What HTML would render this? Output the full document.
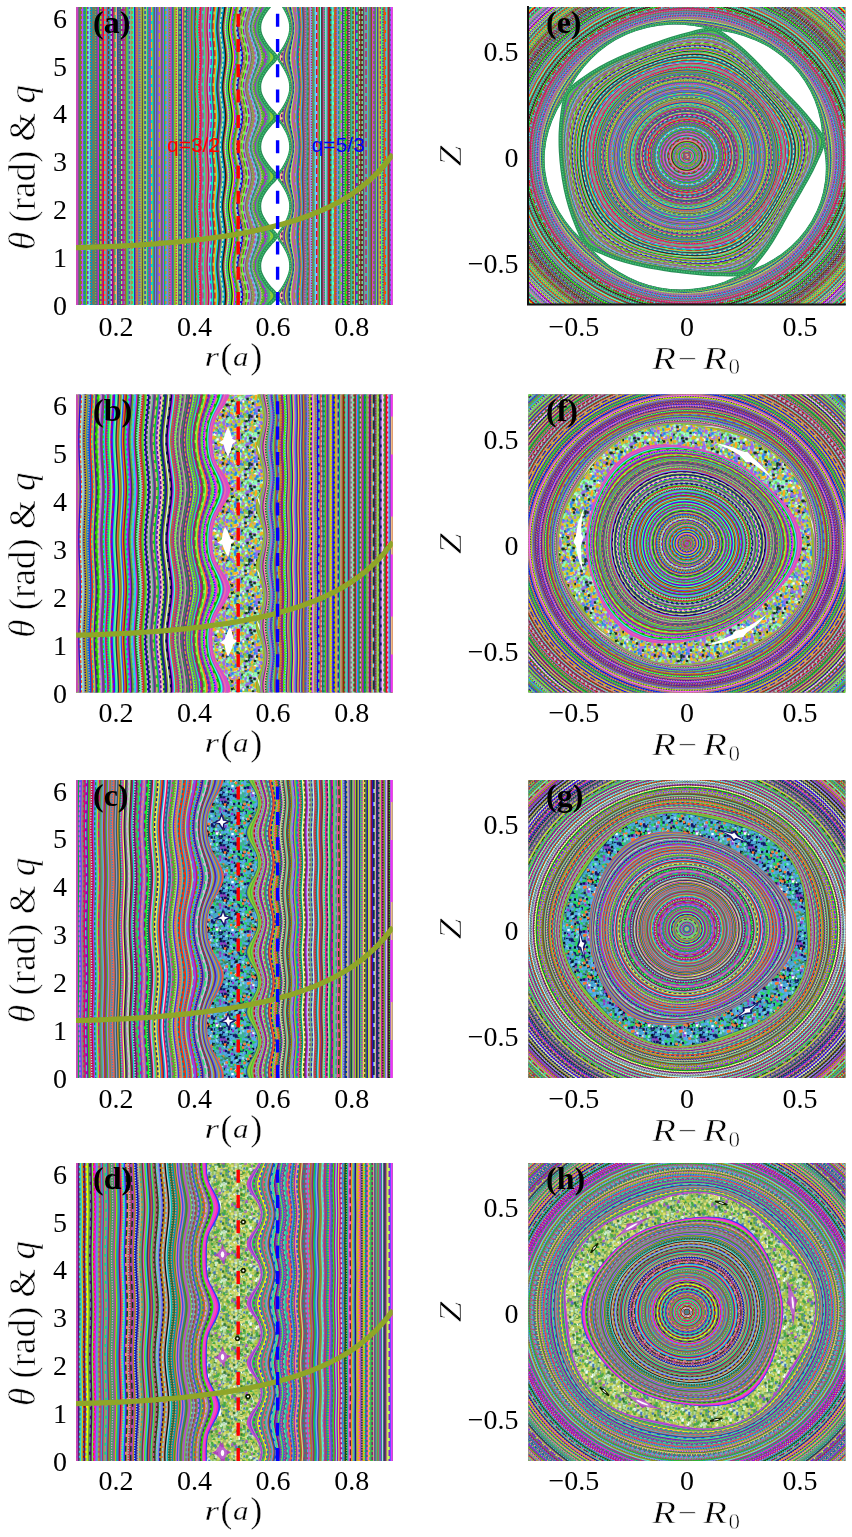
<!DOCTYPE html>
<html lang="en"><head><meta charset="utf-8"><title>Poincare plots</title>
<style>
html,body{margin:0;padding:0;background:#fff;overflow:hidden}
svg{display:block}
.t{font-family:"Liberation Serif",serif;fill:#000}
.s{font-family:"Liberation Sans",sans-serif}
.n{stroke:#fff;stroke-width:.6px}
.m{stroke:#fff;stroke-width:.3px}
</style></head>
<body>
<svg width="852" height="1537" viewBox="0 0 852 1537">
<defs>
<clipPath id="cl0"><rect x="76.0" y="7.0" width="316.8" height="298.0"/></clipPath>
<clipPath id="cr0"><rect x="528.5" y="7.0" width="316.8" height="298.0"/></clipPath>
<clipPath id="cl1"><rect x="76.0" y="394.6" width="316.8" height="298.0"/></clipPath>
<clipPath id="cr1"><rect x="528.5" y="394.6" width="316.8" height="298.0"/></clipPath>
<clipPath id="cl2"><rect x="76.0" y="779.9" width="316.8" height="298.0"/></clipPath>
<clipPath id="cr2"><rect x="528.5" y="779.9" width="316.8" height="298.0"/></clipPath>
<clipPath id="cl3"><rect x="76.0" y="1163.0" width="316.8" height="298.0"/></clipPath>
<clipPath id="cr3"><rect x="528.5" y="1163.0" width="316.8" height="298.0"/></clipPath>
<pattern id="ch1" width="48" height="48" patternUnits="userSpaceOnUse"><rect width="48" height="48" fill="#9c8"/><g stroke-width="2.3" stroke-linecap="square" fill="none"><path stroke="#cc2" d="M23.5 29.5h.1M6.5 1.5h.1M35 24.5h.1M16.5 45.5h.1M6 8.5h.1M0 22h.1M48 22h.1M20 30h.1M38 30h.1M41 40.5h.1M5 42h.1M35 42h.1M4 4h.1M13.5 40h.1M25.5 2h.1M9 25.5h.1M9 15h.1M38.5 27h.1M33.5 31h.1M15.5 20h.1M7 27.5h.1M7 9.5h.1M8.5 12.5h.1M27.5 2.5h.1M1.5 32h.1M33.5 8h.1M31.5 40h.1M28 24h.1M21.5 22.5h.1M30.5 21h.1M43.5 14.5h.1M25.5 34h.1M36.5 38.5h.1M4 43.5h.1M12.5 38h.1M15.5 14h.1M35.5 17h.1M18.5 32h.1M32.5 38.5h.1M6 0h.1M6 48h.1M22 .5h.1M22 48.5h.1M15.5 22h.1M40 46h.1M42.5 27h.1M28 47h.1M8.5 25h.1"/><path stroke="#28e" d="M40 22.5h.1M16.5 34h.1M11 38h.1M31.5 16h.1M35.5 40h.1M20 34h.1M41 36h.1M44.5 2.5h.1M39.5 18h.1M26.5 31h.1M9.5 31h.1M22.5 6.5h.1M10.5 34.5h.1M21.5 21.5h.1M46 38h.1M6.5 20h.1M19.5 8.5h.1M47.5 35h.1M26 8h.1M15.5 19h.1M32.5 31h.1M7.5 46h.1M13 39h.1M33.5 11h.1M46.5 31h.1M25.5 47h.1"/><path stroke="#6c5" d="M31.5 30h.1M28 18h.1M9.5 40.5h.1M24.5 32.5h.1M40.5 11h.1M46 15h.1M31.5 5h.1M31.5 20.5h.1M28.5 1.5h.1M39 45h.1M28.5 23h.1M2 17.5h.1M3 37h.1M39 23h.1M21.5 25.5h.1M37 1h.1M37 49h.1"/><path stroke="#a7e" d="M11 21.5h.1M28.5 18.5h.1M34.5 26.5h.1M16.5 40h.1M32.5 20.5h.1M27 8.5h.1M31 28.5h.1M2 44h.1M41 40h.1M38 5h.1M.5 16.5h.1M48.5 16.5h.1M9 38.5h.1M4 38.5h.1"/><path stroke="#fff" d="M34 33h.1M28 38h.1M46 18.5h.1M44 37h.1M14 26.5h.1M28.5 26h.1M35.5 40.5h.1M45 13.5h.1"/><path stroke="#8fb" d="M20 46h.1M14 41h.1M43 36.5h.1M28.5 40.5h.1M34.5 45.5h.1M6.5 12.5h.1M12 35h.1M8.5 .5h.1M8.5 48.5h.1M24.5 37.5h.1M17 34.5h.1M10.5 20.5h.1M29 34h.1M23.5 22.5h.1M17 19h.1M9 12.5h.1M9.5 36.5h.1M18 .5h.1M18 48.5h.1M41.5 46h.1M7 2h.1M41.5 4.5h.1M36 46.5h.1M19.5 42h.1M36.5 24h.1M26 31.5h.1M27 37.5h.1M23.5 11.5h.1M8 41h.1M32 15h.1M19 35.5h.1M3.5 26h.1M14 18.5h.1M19.5 .5h.1M19.5 48.5h.1M32.5 18.5h.1M.5 44h.1M48.5 44h.1M16.5 25.5h.1M11 37.5h.1M8.5 12.5h.1M19 21h.1M3.5 11h.1M14 19h.1M34.5 5h.1M27.5 15h.1M35 38h.1M25 27h.1M27.5 33h.1"/><path stroke="#fa2" d="M34 13h.1M15.5 9.5h.1M1.5 9.5h.1M36 22h.1M44 20h.1M10.5 33h.1M31.5 17.5h.1M34.5 38h.1M36.5 1h.1M36.5 49h.1M46 19.5h.1M47.5 43h.1M43.5 33h.1M3 40.5h.1M39.5 7h.1M47.5 44h.1M33 47h.1M11 16h.1M24 21.5h.1M23 14.5h.1M4.5 22h.1M14.5 .5h.1M14.5 48.5h.1M15 33h.1M38 2h.1"/><path stroke="#bfc" d="M32.5 12.5h.1M28 26.5h.1M36.5 9h.1M21 2h.1M1 15.5h.1M49 15.5h.1M1.5 15h.1M35 25h.1M12 22h.1M19 12.5h.1M0 14.5h.1M48 14.5h.1"/><path stroke="#96e" d="M1.5 21.5h.1M4.5 23.5h.1M13.5 26h.1M1 11h.1M49 11h.1M34.5 46.5h.1M37 3.5h.1M13 37h.1M15.5 27h.1M10.5 21h.1M26.5 2.5h.1M23 15h.1M22.5 23h.1M14.5 16.5h.1M44.5 38.5h.1M25 46.5h.1M3 2h.1M7 12h.1M32 29.5h.1M25 39.5h.1M41.5 22.5h.1M4 46.5h.1M32 35h.1M44.5 8h.1M21.5 47h.1M31 14.5h.1M46 15.5h.1M25 39.5h.1M33.5 31.5h.1M29.5 20h.1M19.5 15.5h.1M6 2h.1M38.5 46h.1M18 22.5h.1M6 46.5h.1M10.5 3h.1M22 33.5h.1M26 41.5h.1M44 7h.1M30 16h.1"/><path stroke="#132" d="M25 36h.1M34.5 31.5h.1M47 15.5h.1M28 40h.1M13 1.5h.1M27 33.5h.1M20 26.5h.1M45 20h.1M24.5 21.5h.1M5.5 46h.1M9 36.5h.1M34.5 9h.1M37 3.5h.1"/><path stroke="#132" d="M25.5 46.5h.1M3 25.5h.1M23.5 11h.1M9 32.5h.1M26.5 30.5h.1M4.5 30.5h.1M10 24h.1M13 5.5h.1M33 36h.1M5.5 16.5h.1M17.5 15h.1M5.5 37h.1M37 28h.1M13 19h.1M29.5 29.5h.1M25.5 12h.1"/><path stroke="#6c5" d="M47 10.5h.1M36 16h.1M33.5 1.5h.1M2.5 24h.1M.5 29.5h.1M48.5 29.5h.1M6 7h.1M43.5 31.5h.1M30 21h.1M33.5 39.5h.1M15 22h.1M23 5h.1M3 37h.1M24.5 41.5h.1M36 6.5h.1"/><path stroke="#28e" d="M13.5 36.5h.1M45.5 21h.1M29.5 38h.1M13.5 26h.1M.5 24.5h.1M48.5 24.5h.1M7 5h.1M22 0h.1M22 48h.1M24.5 28.5h.1M15.5 25h.1M27 1.5h.1M4.5 26h.1M21.5 .5h.1M21.5 48.5h.1M27.5 45h.1M35 33.5h.1M12.5 39.5h.1M23.5 39.5h.1M31.5 13.5h.1M15.5 29h.1M.5 32h.1M48.5 32h.1M24 9.5h.1M46 17.5h.1M38.5 3h.1M46.5 46.5h.1M22.5 46.5h.1M8 5.5h.1M29 30h.1M18.5 38.5h.1M24.5 32h.1M29 1.5h.1M10.5 35.5h.1M43.5 20h.1M30 22.5h.1M15 29.5h.1M0 19.5h.1M48 19.5h.1"/><path stroke="#cc2" d="M5 28.5h.1M39.5 27h.1M25.5 8h.1M2 4h.1M45 37h.1M1 25.5h.1M49 25.5h.1M11.5 42.5h.1M4.5 1.5h.1M23.5 6.5h.1M3.5 43h.1M22 5.5h.1M20.5 46.5h.1M46 40h.1M45 13h.1M10.5 7h.1M17 41.5h.1M26 17h.1M28.5 41h.1M6 3.5h.1M27.5 32h.1M40 40h.1M4.5 31.5h.1M12.5 1h.1M12.5 49h.1M35 5h.1M10 11.5h.1M15.5 39h.1M23.5 25h.1M47.5 46h.1M43 7h.1M3.5 20h.1M14 9h.1M17.5 40h.1M13 36.5h.1M11 44h.1M33 36h.1M40.5 37h.1M15 8.5h.1M27.5 34h.1M12 22.5h.1M4 43h.1M24.5 26h.1"/><path stroke="#96e" d="M23.5 13.5h.1M13 32.5h.1M33 16.5h.1M33 42h.1M25 16h.1M28 14.5h.1M45 22.5h.1M11.5 32h.1M21 31h.1M32 35h.1M20.5 8h.1M39.5 11.5h.1M23 44.5h.1M34 34h.1M31 11h.1M21 20.5h.1M4.5 27.5h.1M34 0h.1M34 48h.1M4.5 2.5h.1M8 42.5h.1M40 45.5h.1M35.5 1h.1M35.5 49h.1M25 40.5h.1M14.5 36h.1M3 16.5h.1M21.5 21h.1M11 31h.1M25 34.5h.1M18 38h.1M30 30.5h.1M32 36.5h.1M8.5 38.5h.1M35 22h.1M33.5 19h.1M1.5 42h.1M31 47.5h.1M32.5 26.5h.1M44.5 44.5h.1M41 22h.1"/><path stroke="#fff" d="M19 40.5h.1M0 28h.1M48 28h.1M42.5 11h.1M31.5 24.5h.1"/><path stroke="#fa2" d="M2.5 3h.1M33.5 29.5h.1M42.5 46.5h.1M18 29.5h.1M43 38h.1M3.5 32.5h.1M15.5 6h.1M12.5 18.5h.1M10 45.5h.1M38 19.5h.1M16.5 43.5h.1M22.5 31.5h.1M7.5 43.5h.1M10.5 23.5h.1M31.5 2h.1M36.5 37h.1M15 47h.1M7 33.5h.1M.5 10.5h.1M48.5 10.5h.1M40.5 38h.1M11.5 6.5h.1M12 29h.1M19.5 26.5h.1M12 22.5h.1M18.5 8h.1M15.5 41h.1M18.5 32.5h.1"/><path stroke="#bfc" d="M26 25.5h.1M34 18h.1M1.5 45.5h.1M18 4.5h.1M25.5 45h.1M7 1.5h.1M44.5 29h.1M31.5 27h.1M38.5 8.5h.1"/><path stroke="#a7e" d="M29.5 38h.1M22 14.5h.1M38 41h.1M.5 4.5h.1M48.5 4.5h.1M10.5 23.5h.1M41.5 11.5h.1M20.5 19.5h.1M47 31h.1M46.5 21.5h.1M45.5 43.5h.1M40.5 14h.1M26.5 11.5h.1"/><path stroke="#8fb" d="M20.5 21.5h.1M28 16h.1M.5 40.5h.1M48.5 40.5h.1M24 8.5h.1M31 27h.1M5.5 26h.1M15.5 43.5h.1M4 7h.1M35.5 1h.1M35.5 49h.1M1.5 45.5h.1M24 17.5h.1M39.5 32.5h.1M42.5 19.5h.1M20.5 35h.1M8 1h.1M8 49h.1M0 6.5h.1M48 6.5h.1M35.5 40.5h.1M17 8.5h.1M0 13h.1M48 13h.1M10 22h.1M.5 22.5h.1M48.5 22.5h.1M7 5h.1M19 5h.1M34 44.5h.1M27 37.5h.1M22.5 22.5h.1M42 20h.1M31 6.5h.1M45 43h.1M32.5 28.5h.1M44.5 34h.1M46 27.5h.1M26.5 25h.1M42.5 29h.1M33.5 25h.1M32.5 11h.1M37.5 45h.1M17.5 3.5h.1M35 44h.1M36.5 7h.1M47 40.5h.1M9 16h.1"/><path stroke="#fff" d="M46.5 32.5h.1M25.5 7.5h.1M40 6h.1M15.5 5h.1M28 47.5h.1M3.5 17.5h.1M40 9h.1"/><path stroke="#8fb" d="M41 2h.1M34 40.5h.1M27 3h.1M37.5 18h.1M6 44h.1M22.5 37h.1M26.5 29.5h.1M19 13.5h.1M.5 46h.1M48.5 46h.1M27.5 36.5h.1M3 28h.1M19 8h.1M14.5 20.5h.1M20 35h.1M20 3h.1M15 38.5h.1M19.5 45h.1M28.5 23h.1M19.5 2.5h.1M35.5 27h.1M24 16.5h.1M15.5 3.5h.1M27 28h.1M46.5 2.5h.1M43.5 21h.1M15.5 2h.1M41 23.5h.1M14.5 15.5h.1M33.5 7.5h.1M16.5 30.5h.1M28.5 16.5h.1M30 36.5h.1M14.5 1.5h.1M8 6h.1M38.5 26.5h.1"/><path stroke="#6c5" d="M5.5 31h.1M37.5 46h.1M23.5 39.5h.1M19.5 23h.1M23.5 33.5h.1M2.5 10.5h.1M2.5 2h.1M42 42.5h.1M38.5 12h.1M8 14h.1M30.5 10.5h.1M47 36h.1M28 11.5h.1M25 22.5h.1M27 23.5h.1M7 20.5h.1M7.5 33.5h.1M43.5 28h.1"/><path stroke="#96e" d="M43 0h.1M43 48h.1M25 46h.1M13.5 42.5h.1M22.5 39h.1M19 34h.1M15 6.5h.1M18.5 38h.1M18.5 28.5h.1M46 7.5h.1M43 3h.1M9 44.5h.1M45.5 8.5h.1M22.5 35.5h.1M14.5 8.5h.1M42 31h.1M44 11h.1M16.5 24.5h.1M9 11.5h.1M10 3h.1M20.5 13h.1M31 30.5h.1M32.5 43.5h.1M40 20.5h.1M10.5 17.5h.1M5.5 7h.1M5.5 5.5h.1M1 25h.1M49 25h.1M17 30.5h.1M26.5 28.5h.1M17 40h.1M21 34h.1M30.5 23h.1M9.5 32.5h.1M20 43.5h.1M29.5 3.5h.1M32.5 17.5h.1M39 2h.1M43 22.5h.1M13.5 32h.1M22.5 46h.1M47 46h.1M28.5 23h.1M19.5 41.5h.1M37.5 6h.1M7.5 14.5h.1M35 39h.1"/><path stroke="#fa2" d="M10.5 45.5h.1M41 35.5h.1M24.5 44h.1M29 20.5h.1M6 45h.1M29 20.5h.1M6.5 23h.1M35.5 37.5h.1M40 30h.1M11.5 25h.1M22 46h.1M6 45h.1M39 29.5h.1M40.5 10.5h.1M30 28h.1M27 37.5h.1M33.5 42h.1M11 40.5h.1M29 6h.1M3 9.5h.1M17 20h.1M25.5 24h.1M46.5 25h.1"/><path stroke="#132" d="M9.5 31.5h.1M6 .5h.1M6 48.5h.1M31.5 26.5h.1M9.5 33.5h.1M25 46h.1M47.5 29.5h.1M25.5 20.5h.1M35.5 33h.1M30.5 33h.1M19.5 11.5h.1M38 22.5h.1M39 8h.1M23.5 16.5h.1M10 7h.1M41.5 36h.1M13 9.5h.1M34.5 21h.1M15 37h.1M41.5 16.5h.1M2 3h.1M18.5 1h.1M18.5 49h.1"/><path stroke="#28e" d="M35 7h.1M6.5 .5h.1M6.5 48.5h.1M9 22h.1M36.5 29h.1M17.5 44.5h.1M35 17.5h.1M2.5 32.5h.1M2.5 32.5h.1M11 11h.1M40.5 33.5h.1M16.5 29h.1M15.5 47h.1M22.5 34.5h.1M22 41h.1M43 26.5h.1M39.5 14.5h.1M.5 6h.1M48.5 6h.1M1 19.5h.1M49 19.5h.1M7 9h.1M21 23h.1M35.5 40.5h.1M44.5 37.5h.1M24.5 47h.1M4 42h.1M14.5 41.5h.1M44.5 20h.1M18.5 33.5h.1"/><path stroke="#cc2" d="M44.5 30.5h.1M2.5 46.5h.1M12 46.5h.1M24.5 22h.1M40 17h.1M19 21h.1M43 36h.1M23 26h.1M46.5 16.5h.1M33 24.5h.1M26.5 10h.1M36.5 38h.1M30 12.5h.1M6.5 18.5h.1M2.5 24.5h.1M24 32.5h.1M28.5 39h.1M23.5 30.5h.1M46 11.5h.1M45 22h.1M22.5 35.5h.1M45.5 6.5h.1M7.5 16h.1M22 5.5h.1M45.5 9h.1M41 21h.1M46 17h.1M47.5 19h.1"/><path stroke="#a7e" d="M42.5 38.5h.1M10.5 41.5h.1M5.5 16h.1M18.5 4h.1M4 45h.1M33 14.5h.1M19 19h.1M38 25.5h.1M28.5 47.5h.1M21.5 31.5h.1M39.5 7h.1M11 24h.1M3 25.5h.1M19.5 32.5h.1M17.5 26.5h.1M11.5 34h.1M15.5 43h.1M7 1h.1M7 49h.1M11 1h.1M11 49h.1"/><path stroke="#bfc" d="M26 24.5h.1M14.5 23h.1M12.5 39h.1M43 46.5h.1M21 12.5h.1M18.5 28h.1M46.5 44.5h.1M9 18h.1M6 25h.1M12 2h.1M8 43.5h.1M7.5 8.5h.1M35 17.5h.1"/><path stroke="#28e" d="M13.5 8h.1M40.5 1.5h.1M7.5 29h.1M42.5 26h.1M10 8.5h.1M1.5 26h.1M43.5 42.5h.1M27.5 47h.1M11 28h.1M43 24.5h.1M24.5 16.5h.1M37 36.5h.1M44.5 22.5h.1M47 6.5h.1M12 24h.1M44 41h.1M7.5 18h.1M20 32.5h.1M9 17.5h.1M2 5h.1M37.5 31h.1M16.5 44.5h.1M39 45.5h.1M40 40.5h.1M18 17.5h.1"/><path stroke="#8fb" d="M28.5 46h.1M37 47.5h.1M10.5 1h.1M10.5 49h.1M5 15h.1M39 23h.1M43.5 2.5h.1M34.5 2.5h.1M6 1.5h.1M1 26.5h.1M49 26.5h.1M44.5 34h.1M1 24h.1M49 24h.1M18.5 8h.1M27 39.5h.1M32 34h.1M18.5 15h.1M13 14.5h.1M25.5 25h.1M47 1h.1M47 49h.1M7.5 39.5h.1M40.5 36h.1M23.5 47.5h.1M24 47h.1M41 26.5h.1M3 40h.1M1 24.5h.1M49 24.5h.1M5.5 22h.1M4 3.5h.1M18 38.5h.1M36.5 34.5h.1M44 13h.1M25 32.5h.1M13 4h.1M35 37.5h.1M20 26h.1M23.5 41.5h.1M8.5 1h.1M8.5 49h.1M16.5 41.5h.1M37 36.5h.1M35 4h.1M43 29.5h.1M32.5 2.5h.1M12.5 8.5h.1M17 14h.1M21.5 25h.1M18 12.5h.1"/><path stroke="#cc2" d="M12 25h.1M25 22h.1M24 37h.1M45 37.5h.1M10.5 18.5h.1M46 18h.1M40 43h.1M.5 27.5h.1M48.5 27.5h.1M47.5 25h.1M27.5 29.5h.1M39.5 16h.1M2 37.5h.1M12.5 41.5h.1M37 46h.1M41.5 45.5h.1M38.5 37h.1M42 33h.1M20.5 6.5h.1M2.5 28h.1M.5 40h.1M48.5 40h.1M43 15.5h.1M3.5 25.5h.1M44 46h.1M41 39.5h.1M40 26h.1M23.5 22.5h.1M44 4h.1M36 27.5h.1M19.5 19.5h.1M16.5 20.5h.1M47 40.5h.1M26 11h.1M32.5 6.5h.1M21.5 14.5h.1"/><path stroke="#fff" d="M43.5 45.5h.1M6.5 35.5h.1M15.5 32.5h.1M23 2.5h.1M15 42h.1M32 7.5h.1"/><path stroke="#96e" d="M28 30.5h.1M7 27.5h.1M39 31.5h.1M0 6h.1M48 6h.1M28.5 45.5h.1M31.5 38.5h.1M10.5 9h.1M34.5 30.5h.1M26.5 16h.1M21 38.5h.1M19 23.5h.1M32 14h.1M32 12.5h.1M0 44.5h.1M48 44.5h.1M32 40.5h.1M25.5 40h.1M35 29h.1M41.5 7h.1M27.5 38.5h.1M6 13.5h.1M46 5.5h.1M34 46h.1M16.5 27.5h.1M33.5 5h.1M23.5 15.5h.1M11 15.5h.1M21 10.5h.1M15 20.5h.1M24 1h.1M24 49h.1M1 29.5h.1M49 29.5h.1M31 33h.1M25.5 23h.1M35 42h.1"/><path stroke="#bfc" d="M2.5 42h.1M41 19h.1M47 14.5h.1M16 34.5h.1M43 30.5h.1M28 23h.1M0 21.5h.1M48 21.5h.1M4.5 4h.1M3 45.5h.1M12 17.5h.1M14.5 9.5h.1"/><path stroke="#6c5" d="M8 2.5h.1M2.5 25.5h.1M17.5 13.5h.1M14 40h.1M32 22.5h.1M26.5 19.5h.1M14 13.5h.1M32.5 29h.1M5.5 18.5h.1M30.5 43h.1M44.5 29h.1M10 40.5h.1M44.5 14h.1M35.5 14.5h.1M24.5 46h.1M3 5h.1M37 10h.1M46.5 16.5h.1M42.5 37h.1"/><path stroke="#a7e" d="M4.5 39.5h.1M31.5 10.5h.1M28.5 20.5h.1M41.5 33.5h.1M15.5 22.5h.1M34.5 1h.1M34.5 49h.1M2.5 24h.1M46.5 33.5h.1M46 33.5h.1M42.5 5.5h.1M36.5 23.5h.1M41.5 37.5h.1M44.5 15h.1M13.5 6h.1M0 2h.1M48 2h.1M47 37.5h.1"/><path stroke="#fa2" d="M47 6h.1M31 20.5h.1M17 21h.1M19 34h.1M43 45.5h.1M16 11.5h.1M30.5 8h.1M16 13h.1M15.5 15h.1M21.5 5h.1M40.5 8.5h.1M36.5 16h.1M32.5 32.5h.1M9 18h.1M12 38.5h.1M19 31h.1M38 6h.1M14.5 43.5h.1M44 29.5h.1M32 31.5h.1M34 29.5h.1M34.5 44.5h.1M45 45h.1M45 31.5h.1M12 13h.1M21.5 42h.1M25 26h.1M27 13h.1M28.5 34h.1M19.5 35.5h.1"/><path stroke="#132" d="M13 19.5h.1M40 17h.1M7.5 15h.1M11.5 32.5h.1M45.5 20h.1M46 32.5h.1M17 32.5h.1M31 31.5h.1M19 26.5h.1M5.5 43h.1M45.5 28.5h.1M47.5 8h.1M10.5 6h.1M35.5 21h.1M6.5 37h.1M11.5 9h.1M40 9.5h.1M14.5 7h.1"/></g></pattern>
<pattern id="ch2" width="48" height="48" patternUnits="userSpaceOnUse"><rect width="48" height="48" fill="#4a9"/><g stroke-width="2.3" stroke-linecap="square" fill="none"><path stroke="#116" d="M10.5 40h.1M15.5 20h.1M42 47.5h.1M36 35h.1M16.5 13.5h.1M35 47.5h.1M25.5 26.5h.1M39 41.5h.1M43.5 33.5h.1M6.5 37h.1M22 30h.1M23 46h.1M37 0h.1M37 48h.1M13.5 12h.1M26.5 23h.1M23 0h.1M23 48h.1M28.5 37h.1M46 4h.1M41 8h.1M37 8.5h.1M34.5 38.5h.1M14.5 44h.1M28 39.5h.1M30.5 44h.1M0 36h.1M48 36h.1M28.5 40h.1M10 32h.1M12 45.5h.1M4.5 42.5h.1M0 47h.1M48 47h.1M37.5 6h.1M11 44.5h.1M10.5 8h.1M46 16.5h.1M47.5 42h.1"/><path stroke="#fff" d="M22 31.5h.1M34.5 9.5h.1M32.5 3h.1M17.5 25h.1M42.5 14h.1M13 21h.1"/><path stroke="#93c" d="M41.5 2h.1M12 26h.1M18 39.5h.1M46 11.5h.1M32 46.5h.1M19.5 4h.1M11.5 25h.1M2.5 43h.1M15 14.5h.1M6.5 15.5h.1M6 42h.1M20.5 41.5h.1"/><path stroke="#385" d="M16 24.5h.1M45 44.5h.1M23.5 46h.1M33.5 44h.1M6 42.5h.1M41 11.5h.1M14.5 38.5h.1M37.5 9h.1M26.5 39h.1M22 31h.1"/><path stroke="#2d5" d="M38.5 10h.1M42.5 46.5h.1M41 40h.1M14 31.5h.1M31 0h.1M31 48h.1M47.5 46h.1M26 44.5h.1M37.5 17.5h.1M37.5 39h.1M30.5 40h.1M33 4.5h.1M47.5 38h.1M5 35h.1M15.5 44.5h.1M12 17h.1M22 36.5h.1M29.5 33.5h.1M41.5 9h.1M8 31.5h.1M34 9.5h.1M13 31h.1M1 37.5h.1M49 37.5h.1M12 .5h.1M12 48.5h.1M13.5 15h.1M22 37h.1M39 34h.1M3.5 43.5h.1M5 45h.1M46.5 24.5h.1M35 18.5h.1M29.5 15h.1M39.5 11h.1M41.5 2h.1M17.5 6h.1M16.5 32h.1M27.5 1h.1M27.5 49h.1M47 29h.1M15.5 46.5h.1M18 12.5h.1M39 24h.1M19 12h.1M1.5 43.5h.1M4 43h.1M41 3h.1M22.5 18.5h.1M46.5 28h.1M4 44.5h.1M31 43h.1M7 15.5h.1"/><path stroke="#012" d="M34.5 3.5h.1M6.5 3.5h.1M28.5 23h.1M6 40.5h.1M23 8h.1M18.5 32.5h.1M43 28h.1M14.5 30.5h.1M19 19.5h.1M1.5 10.5h.1M12 16h.1M6.5 28.5h.1M38.5 25.5h.1M31.5 17h.1"/><path stroke="#8de" d="M35.5 23h.1M0 4.5h.1M48 4.5h.1M4 20.5h.1M1 17.5h.1M49 17.5h.1M13 38.5h.1M11 20.5h.1M16.5 3h.1M44.5 19.5h.1M13.5 27h.1M34 19h.1M1 23h.1M49 23h.1M7 44h.1"/><path stroke="#f73" d="M19.5 26h.1M47.5 18.5h.1M2.5 18h.1M26 16h.1M43 4h.1M27.5 2.5h.1M17.5 8h.1M1 16.5h.1M49 16.5h.1M46 24.5h.1M32 24h.1M18.5 9h.1M12 22h.1M8.5 27h.1M4.5 44.5h.1M43.5 8.5h.1M11 3.5h.1"/><path stroke="#5ae" d="M2 4h.1M15.5 1h.1M15.5 49h.1M21 0h.1M21 48h.1M8 37.5h.1M42 34h.1M11 26.5h.1M26.5 13.5h.1M46.5 24h.1M22 8h.1M29.5 14.5h.1M33 7h.1M26 43.5h.1M23.5 6.5h.1M4 4h.1M25.5 16.5h.1M27 6.5h.1M25.5 31.5h.1M5.5 10.5h.1M32.5 45h.1M43 5h.1M35 8h.1M35.5 46.5h.1M10 7h.1M11.5 17.5h.1M37.5 39.5h.1M13.5 36.5h.1M16 25h.1M21 42.5h.1M32.5 17h.1M3 46.5h.1M1 34h.1M49 34h.1M21 41.5h.1M15.5 6h.1M32.5 21.5h.1M19 6.5h.1M16 22h.1M1 45.5h.1M49 45.5h.1M.5 22h.1M48.5 22h.1M43.5 20h.1M28.5 35h.1M26 43.5h.1M34.5 13h.1M17 46h.1M11 22.5h.1M43.5 6.5h.1M31 16h.1M34.5 11h.1M9.5 8h.1M33 24.5h.1M21.5 43.5h.1M15 38.5h.1M45.5 18.5h.1M45 40h.1M25.5 14h.1M33.5 30.5h.1M40.5 6.5h.1M11.5 28.5h.1M32 37.5h.1"/><path stroke="#4ac" d="M42 .5h.1M42 48.5h.1M46.5 44h.1M25 29h.1M23.5 41.5h.1M22.5 15h.1M41.5 32h.1M33.5 5h.1M13 8.5h.1M41 32h.1M26 13h.1M6 28h.1M38 22h.1M45 31.5h.1M28 13h.1M29 31h.1M21 16.5h.1M29 30h.1M2 6h.1M16.5 45h.1M36 27h.1M8.5 14.5h.1M24 2h.1M43 2h.1M33 29.5h.1M7.5 26.5h.1M21.5 3.5h.1"/><path stroke="#385" d="M40.5 38.5h.1M26.5 29.5h.1M36.5 22.5h.1M42 19.5h.1M11 22.5h.1M39.5 9.5h.1M1.5 2h.1M28 15.5h.1M6.5 33.5h.1M8 4.5h.1M7.5 15h.1M44 32.5h.1M29.5 35.5h.1M23 28.5h.1"/><path stroke="#f73" d="M25 45.5h.1M20 23h.1M44 43h.1M37.5 41.5h.1M0 11.5h.1M48 11.5h.1M20 37h.1M43.5 34.5h.1M32.5 33.5h.1M17 17h.1M12 0h.1M12 48h.1M2.5 20.5h.1M19 5.5h.1M36 26.5h.1M26.5 19.5h.1M11.5 28.5h.1M11.5 32h.1M43 34.5h.1M21 38h.1M14 37h.1M31 47h.1M40.5 40.5h.1M2 36h.1M27 42.5h.1M33.5 15.5h.1M16.5 15.5h.1"/><path stroke="#93c" d="M39 17h.1M8 33.5h.1M9.5 17h.1M0 6.5h.1M48 6.5h.1M41.5 31h.1M47.5 28h.1M21 19.5h.1M29 14.5h.1M5 16h.1"/><path stroke="#012" d="M31.5 35h.1M45.5 20.5h.1M33.5 33.5h.1M5.5 3.5h.1M7.5 19.5h.1M16.5 18.5h.1M16.5 39.5h.1M15.5 15.5h.1M21.5 15.5h.1M47 4.5h.1"/><path stroke="#4ac" d="M6.5 23.5h.1M10 9.5h.1M41.5 28h.1M21.5 21h.1M38.5 14.5h.1M13 11h.1M19 8.5h.1M24.5 13.5h.1M7 23h.1M35 16.5h.1M16 31h.1M18 29h.1M27 47h.1M32 16h.1M28.5 40h.1M24 19h.1M26 43h.1M15.5 46h.1M32 6h.1M32 5.5h.1M9.5 33h.1M40.5 .5h.1M40.5 48.5h.1M9 42h.1M6.5 3h.1M30.5 43h.1M27.5 21h.1M33.5 47.5h.1M23 12.5h.1"/><path stroke="#2d5" d="M47 44.5h.1M22.5 12.5h.1M4.5 15.5h.1M38 22h.1M9 44.5h.1M11.5 10.5h.1M46.5 22h.1M25.5 27h.1M16.5 8.5h.1M38.5 43.5h.1M1 38h.1M49 38h.1M37 8h.1M31.5 40h.1M17 45.5h.1M.5 33h.1M48.5 33h.1M8.5 23.5h.1M32 32h.1M17.5 28h.1M13 41.5h.1M39.5 16.5h.1M28 37.5h.1M22.5 39h.1M46.5 21.5h.1M46 37h.1M22.5 40.5h.1M4.5 28.5h.1M37 24.5h.1M18 20.5h.1M26.5 33h.1M25.5 44h.1M8 35.5h.1M1.5 24h.1M29.5 14.5h.1M12 5.5h.1M17.5 35h.1M35 29.5h.1M10.5 4h.1M27 44.5h.1M32.5 13.5h.1M39.5 23.5h.1M3.5 19.5h.1M0 15h.1M48 15h.1M6 11.5h.1M20 2h.1M26 26.5h.1M38.5 25.5h.1M44 18.5h.1M28.5 .5h.1M28.5 48.5h.1"/><path stroke="#5ae" d="M6.5 42h.1M44.5 11h.1M43.5 46h.1M35 8.5h.1M29 11h.1M30 24.5h.1M37 47h.1M23.5 24.5h.1M23 29h.1M45.5 11.5h.1M26 38.5h.1M21 47.5h.1M32 28h.1M8 12.5h.1M12.5 10.5h.1M39 12.5h.1M4.5 1h.1M4.5 49h.1M19.5 3h.1M4.5 39h.1M47 4h.1M11.5 28h.1M28 11h.1M33.5 44.5h.1M21.5 42.5h.1M47 37.5h.1M45 9.5h.1M3 33h.1M27.5 11.5h.1M21.5 0h.1M21.5 48h.1M15.5 23h.1M40 28h.1M17 13.5h.1M5 31.5h.1M18.5 42h.1M7 37.5h.1M44 32.5h.1M17 26.5h.1M15.5 36.5h.1M2.5 31h.1M33 26.5h.1M8 29h.1M21 21h.1M25.5 22h.1M4.5 16h.1M44.5 34.5h.1M33 9h.1M39.5 9h.1M17.5 28.5h.1M39.5 46h.1M46.5 15h.1M47 36.5h.1M40 22h.1M19 21.5h.1M5 47.5h.1M44 21.5h.1M20.5 19.5h.1M43 6.5h.1M19 45h.1M12.5 3.5h.1M5 19h.1M12.5 5.5h.1M28 46h.1M14.5 12.5h.1M32 34.5h.1"/><path stroke="#116" d="M16 11.5h.1M30 33.5h.1M23.5 30h.1M4.5 9.5h.1M26 10h.1M4.5 9h.1M18 3h.1M5.5 45h.1M42 47h.1M46.5 40h.1M20.5 17.5h.1M41.5 27.5h.1M35.5 18h.1M46 28.5h.1M38.5 31.5h.1M8 17.5h.1M.5 43h.1M48.5 43h.1M36.5 28.5h.1M32.5 19h.1M41 42h.1M4.5 36.5h.1M28.5 26.5h.1M21 36.5h.1M44 26.5h.1"/><path stroke="#fff" d="M10.5 3h.1M13.5 25h.1"/><path stroke="#8de" d="M18.5 35h.1M43 40.5h.1M26 17h.1M7 28h.1M19 7h.1M34.5 42.5h.1M35.5 6h.1M21 31.5h.1M3.5 44h.1M7 14.5h.1M38 21.5h.1M13 10.5h.1M3.5 10h.1M3.5 23h.1"/><path stroke="#2d5" d="M44 34h.1M5.5 1h.1M5.5 49h.1M37 30h.1M5 7.5h.1M14.5 38h.1M21.5 26h.1M10.5 38h.1M42.5 21h.1M1.5 45h.1M36.5 27h.1M30.5 20.5h.1M36.5 18.5h.1M9 1.5h.1M30.5 26h.1M26.5 41.5h.1M40 23.5h.1M42 23h.1M40.5 24h.1M12 42.5h.1M41.5 35h.1M18 13.5h.1M32 24.5h.1M6.5 1h.1M6.5 49h.1M45.5 8h.1M37 15h.1M10.5 44h.1M38.5 28.5h.1M16 26.5h.1M32.5 17.5h.1M1 31h.1M49 31h.1M21.5 45.5h.1M25 39.5h.1M5.5 42.5h.1M23 13h.1M3.5 8h.1M46 3h.1M2.5 6h.1M20 29h.1M10.5 2.5h.1M19 18h.1M11 33h.1M38.5 39.5h.1M25 20.5h.1"/><path stroke="#93c" d="M27 45h.1M27.5 40.5h.1M18 21h.1M27.5 32h.1M32.5 30h.1M33 22h.1M34.5 32h.1M36.5 30h.1M30 9.5h.1M26 30h.1"/><path stroke="#f73" d="M31 .5h.1M31 48.5h.1M13.5 21h.1M12.5 13.5h.1M20.5 29h.1M2 17h.1M25.5 10h.1M19 42.5h.1M5.5 1h.1M5.5 49h.1M13.5 22.5h.1M46 9h.1"/><path stroke="#8de" d="M9.5 34h.1M35.5 13.5h.1M13.5 29h.1M30 24.5h.1M40.5 36.5h.1M24 13.5h.1M39 34h.1M44 21h.1M41 32h.1M39.5 15.5h.1M10.5 39h.1M37 6.5h.1M18.5 23h.1M11 22.5h.1M3.5 11.5h.1M.5 14.5h.1M48.5 14.5h.1M47 27.5h.1M35.5 4h.1"/><path stroke="#fff" d="M19.5 28h.1M17.5 6h.1M3.5 5h.1M30 9.5h.1M28 19h.1M19 23.5h.1M9.5 39h.1M33.5 7.5h.1"/><path stroke="#012" d="M12.5 7h.1M20.5 15.5h.1M25.5 35h.1M8.5 5h.1M3 11.5h.1M21.5 35.5h.1M45.5 7h.1M13 19.5h.1M26.5 34.5h.1"/><path stroke="#385" d="M35 1.5h.1M32 30h.1M30 1h.1M30 49h.1M26.5 18.5h.1M8.5 26.5h.1M30.5 8.5h.1M10.5 31h.1M25.5 6h.1M21 30.5h.1M7 2h.1M10.5 11.5h.1M1.5 36.5h.1M19 31.5h.1M6 29h.1"/><path stroke="#116" d="M7 33.5h.1M24 20.5h.1M20 11.5h.1M14 14h.1M19 3h.1M30.5 26h.1M2 39.5h.1M33.5 29.5h.1M31.5 29.5h.1M11 35h.1M16.5 23.5h.1M30 35h.1M15 38.5h.1M24.5 30.5h.1M16 27h.1M30 20.5h.1M40 21h.1M20 8.5h.1M2.5 42.5h.1M8.5 29h.1M44 20.5h.1M9 15h.1M35 6.5h.1M38.5 26h.1M6 44h.1"/><path stroke="#4ac" d="M31 5.5h.1M42.5 35.5h.1M40.5 46.5h.1M17.5 25h.1M7 8.5h.1M3.5 38.5h.1M36.5 17h.1M20 33h.1M28.5 7h.1M25 44.5h.1M2.5 9.5h.1M9 9h.1M8 45h.1M39.5 44h.1M44 11.5h.1M41.5 32.5h.1M13 21h.1M5.5 39.5h.1M28 11.5h.1M32.5 41.5h.1M4.5 1.5h.1M25.5 34.5h.1M14 37h.1M39 18h.1M41.5 12h.1M29.5 38h.1M35 0h.1M35 48h.1M24 2.5h.1M17.5 25.5h.1M31.5 16.5h.1M40.5 17h.1M17 32.5h.1M37 28.5h.1M24 38.5h.1M32 26.5h.1M44.5 25h.1M46 35h.1M17.5 31h.1M2.5 20h.1"/><path stroke="#5ae" d="M2 37.5h.1M13.5 .5h.1M13.5 48.5h.1M5 14h.1M15 39.5h.1M24 30h.1M26 10h.1M5 6.5h.1M34.5 30h.1M43 6h.1M39.5 32.5h.1M18.5 42h.1M36 39h.1M30 16.5h.1M43 35h.1M15 32h.1M42.5 18.5h.1M1.5 10h.1M16 25.5h.1M23.5 30h.1M16.5 9.5h.1M7 25.5h.1M19.5 2.5h.1M22.5 18.5h.1M34 7.5h.1M42.5 41h.1M39 4h.1M31 3.5h.1M40 19.5h.1M45 35h.1M36.5 20h.1M10.5 0h.1M10.5 48h.1M16 46.5h.1M32.5 38h.1M38.5 36h.1M10.5 .5h.1M10.5 48.5h.1M39 24.5h.1M40 2.5h.1M19.5 12.5h.1M19.5 14.5h.1M41.5 2h.1M8 16h.1M16.5 46h.1M35 5h.1M37 30.5h.1M.5 24.5h.1M48.5 24.5h.1M29.5 12h.1M14 30h.1M17.5 22h.1M34 43.5h.1M10.5 20.5h.1M18 6h.1M14.5 31.5h.1M46.5 2.5h.1M34 7.5h.1M14 47.5h.1M29.5 44h.1M24 31h.1M17.5 24h.1M40 3h.1M17.5 9.5h.1M5.5 23h.1"/><path stroke="#2d5" d="M11 39h.1M31.5 39.5h.1M17.5 .5h.1M17.5 48.5h.1M43 16h.1M11.5 43.5h.1M3 5.5h.1M28.5 9h.1M47 27.5h.1M32 43h.1M2 5.5h.1M23.5 42.5h.1M21.5 28h.1M42 7h.1M.5 15.5h.1M48.5 15.5h.1M1 35.5h.1M49 35.5h.1M23.5 21h.1M.5 39h.1M48.5 39h.1M41.5 32h.1M37.5 6h.1M46.5 38.5h.1M25.5 19h.1M25 29.5h.1M22.5 29h.1M9 45.5h.1M7.5 17.5h.1M1.5 41.5h.1M13.5 34.5h.1M36 31h.1M13.5 13.5h.1M1.5 13.5h.1M3.5 36.5h.1M38.5 7h.1M22 17h.1M8 42h.1M8.5 23.5h.1M6 0h.1M6 48h.1M27 45h.1M16.5 44h.1M4.5 10.5h.1M23 24h.1M3.5 5.5h.1M4 19h.1M32 22.5h.1M26.5 24.5h.1M2 9.5h.1M43 34h.1M9.5 16.5h.1"/><path stroke="#5ae" d="M41 24h.1M15.5 36.5h.1M6 15h.1M23.5 6h.1M15.5 5.5h.1M22 33.5h.1M33.5 16h.1M15.5 5h.1M19 25h.1M36.5 26h.1M44.5 22h.1M28.5 46h.1M41.5 20.5h.1M7.5 21h.1M12.5 31h.1M17.5 35h.1M29 24.5h.1M6 9h.1M34 22.5h.1M41.5 6.5h.1M25.5 34h.1M35.5 27h.1M1 36h.1M49 36h.1M18 23h.1M35.5 27h.1M2 15h.1M27.5 25.5h.1M44.5 45h.1M14 42.5h.1M20.5 29h.1M.5 24h.1M48.5 24h.1M30 3h.1M18 5h.1M20.5 28h.1M28.5 35h.1M2 2h.1M18.5 34.5h.1M18.5 33h.1M4.5 45h.1M12.5 29h.1M1 46h.1M49 46h.1M41.5 22.5h.1M32.5 45.5h.1M.5 1.5h.1M48.5 1.5h.1M41.5 30.5h.1M46 15.5h.1M14 18h.1M32.5 25h.1M35.5 16h.1M42.5 5.5h.1M9 38.5h.1M10 23h.1M19 14.5h.1M39.5 28.5h.1M9.5 20.5h.1M7 32h.1M40 15.5h.1M25.5 4.5h.1M3 10h.1M23.5 24.5h.1M38.5 31h.1M15.5 37.5h.1M44 11.5h.1"/><path stroke="#93c" d="M33.5 10.5h.1M24.5 16h.1M40 46h.1M41 23h.1M28 41h.1M10 20h.1M28 44h.1M32.5 31.5h.1M32 42.5h.1M29.5 31.5h.1M12.5 27.5h.1M9.5 41h.1"/><path stroke="#fff" d="M25 17.5h.1M40.5 18h.1"/><path stroke="#385" d="M16.5 9h.1M29.5 3.5h.1M26 44.5h.1M4.5 6.5h.1M13 47.5h.1M41.5 13h.1M22.5 37h.1M3.5 33.5h.1M25.5 40h.1M7.5 14h.1M46.5 15h.1M37.5 3.5h.1M32.5 2.5h.1M44.5 0h.1M44.5 48h.1"/><path stroke="#116" d="M31.5 24h.1M17 21.5h.1M27.5 20.5h.1M44 28.5h.1M33 13h.1M19.5 43.5h.1M29 29h.1M34 43h.1M43.5 2.5h.1M39.5 6.5h.1M23 21.5h.1M5 20h.1M15.5 10.5h.1M33 34h.1M36.5 44.5h.1M11 2.5h.1M1.5 10.5h.1M42 36h.1M0 4.5h.1M48 4.5h.1M26.5 31h.1M22 25.5h.1M20 9h.1M37 21h.1M22 10.5h.1M8 19.5h.1"/><path stroke="#012" d="M34 37h.1M36 26.5h.1M26.5 31.5h.1M28 27h.1M32 36.5h.1M3.5 37h.1M24.5 44h.1M44.5 1.5h.1M47.5 12h.1M47.5 24h.1M21 43.5h.1M19.5 21.5h.1M36 31h.1M13 41h.1M47 35.5h.1"/><path stroke="#8de" d="M1.5 20h.1M3 2h.1M4.5 36h.1M34.5 24h.1M44.5 4.5h.1M32 39h.1M.5 25h.1M48.5 25h.1M25 43.5h.1M25 32.5h.1M7 3h.1M25 28.5h.1M19.5 0h.1M19.5 48h.1M15.5 12h.1"/><path stroke="#4ac" d="M42.5 43h.1M17 22h.1M31 46h.1M14.5 18.5h.1M32.5 22.5h.1M24 21.5h.1M40.5 15.5h.1M17 25.5h.1M14.5 23h.1M29 2h.1M45.5 8.5h.1M35 26.5h.1M31 40h.1M34 13.5h.1M21 46h.1M25.5 46.5h.1M11.5 42h.1M36.5 12h.1M3.5 7h.1M5 27.5h.1M26.5 25h.1M26.5 31.5h.1M3 31h.1M45.5 44h.1M26 43.5h.1M13 9.5h.1M13 10h.1M24 43h.1"/><path stroke="#f73" d="M12 6h.1M4.5 36h.1M14.5 17.5h.1M8 23.5h.1M12.5 16.5h.1M8.5 37h.1M17.5 30.5h.1M4.5 7h.1M9.5 23h.1M39 13h.1M44 15h.1M34.5 6.5h.1M33 36.5h.1M8 3h.1M16.5 42h.1M3 39.5h.1M10 0h.1M10 48h.1M17 8h.1"/></g></pattern>
<pattern id="ch3" width="48" height="48" patternUnits="userSpaceOnUse"><rect width="48" height="48" fill="#9b6"/><g stroke-width="2.3" stroke-linecap="square" fill="none"><path stroke="#47b" d="M44.5 47h.1M40 2.5h.1M25 9h.1M23 13h.1M5 3h.1M31 29h.1M33 32h.1M5.5 1h.1M5.5 49h.1M43 26h.1M32 40h.1M15.5 18.5h.1M11 32h.1M34.5 11h.1M33 46.5h.1M20.5 44.5h.1M34.5 5h.1M19.5 22h.1M3 1.5h.1M33 15.5h.1M22.5 25h.1"/><path stroke="#373" d="M32 27.5h.1M23.5 7h.1M14 31h.1M32 13h.1M16.5 7.5h.1M27 44.5h.1M23.5 8.5h.1"/><path stroke="#697" d="M41.5 17.5h.1M21.5 37h.1M29.5 37h.1M19.5 24h.1M5 45.5h.1M23 22.5h.1M14 6h.1M9 39h.1M16 19.5h.1"/><path stroke="#4a4" d="M21 4.5h.1M1 29h.1M49 29h.1M41 38h.1M26.5 41h.1M5.5 36.5h.1M8 20h.1M31.5 18h.1M45 1.5h.1M14.5 27.5h.1M1.5 13.5h.1M2 15.5h.1M7 25h.1M4 40.5h.1M30.5 7h.1M2.5 10.5h.1M39.5 6.5h.1M38.5 29.5h.1M1 8h.1M49 8h.1M17 23.5h.1M9 12.5h.1M26 15.5h.1M20.5 20h.1M44.5 19h.1M13.5 2h.1M39.5 24h.1M6 16.5h.1M10 22.5h.1M1.5 3.5h.1M34.5 26h.1M24.5 35h.1M9.5 47.5h.1M22.5 14.5h.1M45.5 19h.1M28 44h.1M38.5 30.5h.1"/><path stroke="#9b5" d="M30.5 18.5h.1M26.5 32h.1M37.5 31h.1M43.5 37.5h.1M6 32h.1M8 20h.1M33 6.5h.1M10 2h.1M12 46h.1M17 9h.1M39 13h.1M44 23h.1M19 24h.1M4 16h.1M24.5 35.5h.1M18 8h.1M26 46h.1M20 19h.1M23 36.5h.1M25.5 9h.1M19 27h.1M10 36.5h.1M18 42.5h.1M33.5 37.5h.1"/><path stroke="#bc4" d="M22.5 46h.1M2 47.5h.1M3.5 18h.1M43.5 47.5h.1M12.5 6h.1M40 1h.1M40 49h.1M15.5 8h.1M34.5 14.5h.1M43.5 2h.1M17 8.5h.1M18.5 21h.1M0 17h.1M48 17h.1M39.5 3.5h.1M44.5 26.5h.1M17.5 29.5h.1M13 4.5h.1M28.5 36.5h.1M7 22.5h.1M44 37.5h.1M41.5 14.5h.1M11.5 13h.1M8.5 11h.1M8 44h.1M28 2h.1M13 32h.1M34.5 35.5h.1M31.5 22h.1M9 8h.1M45.5 9.5h.1M5 1h.1M5 49h.1M28 3h.1M45 21.5h.1M44.5 13h.1M15.5 .5h.1M15.5 48.5h.1M30 16h.1M13 20.5h.1M28.5 23.5h.1M2 25h.1M33.5 40h.1M10.5 9h.1M15 6.5h.1"/><path stroke="#bd9" d="M24 36.5h.1M12.5 44.5h.1M10 36h.1M35.5 7h.1M14.5 30.5h.1M19 21h.1M26 10.5h.1M37 26.5h.1M23 37.5h.1M29 33h.1M44 37h.1M33.5 38.5h.1M27.5 27.5h.1M10.5 29h.1M1 27h.1M49 27h.1M13.5 15h.1M34.5 23.5h.1M18 47h.1M3 18.5h.1M40.5 37h.1M29.5 5h.1M12 23.5h.1M30.5 22.5h.1M14.5 33h.1M9.5 41h.1M45 34h.1M44 45h.1M9.5 40h.1M34.5 28h.1M34 38.5h.1M41.5 13.5h.1M46.5 10.5h.1M22.5 41.5h.1"/><path stroke="#fff" d="M36 5.5h.1M43.5 47h.1M16 33h.1M42.5 42.5h.1M10.5 12h.1M37 40h.1M47 29.5h.1M9 23.5h.1"/><path stroke="#cec" d="M29.5 38h.1M3.5 23.5h.1M13 44.5h.1M37.5 2.5h.1M43 23h.1M23 8h.1M32.5 35h.1M27 38h.1M44 23h.1M45 3h.1M42.5 21.5h.1M24 23.5h.1M39.5 19.5h.1M2 13h.1M1 24.5h.1M49 24.5h.1M39 11h.1M18 41.5h.1M6 26h.1M38.5 5.5h.1M38 19h.1M13 10.5h.1M33 45.5h.1M6 46h.1M43.5 21.5h.1M22 1.5h.1M47 37h.1M8.5 7h.1M29.5 10h.1M4 33h.1"/><path stroke="#dd7" d="M7 12h.1M7.5 21h.1M3.5 2.5h.1M8 4h.1M3.5 41h.1M38 4.5h.1M38 5.5h.1M0 4h.1M48 4h.1M13 26.5h.1M37.5 46h.1M12.5 38h.1M45.5 3.5h.1M34.5 18h.1M5 9h.1M8 13h.1M31.5 33.5h.1M17.5 46h.1M39 11h.1M23.5 30h.1M14.5 16.5h.1M18 42.5h.1M23.5 3.5h.1M3.5 6.5h.1"/><path stroke="#a5c" d="M1.5 25.5h.1M22 41h.1M9 13h.1M6.5 1.5h.1M9 42.5h.1M32.5 46.5h.1M34 5.5h.1M33.5 21h.1M7 4h.1"/><path stroke="#cec" d="M45.5 17.5h.1M33.5 27.5h.1M10 29h.1M43 15.5h.1M32.5 32.5h.1M29 29h.1M36 41.5h.1M3.5 34.5h.1M23.5 9h.1M26 32.5h.1M1 19.5h.1M49 19.5h.1M36.5 40h.1M8.5 24.5h.1M17 38.5h.1M38 11h.1M37.5 17.5h.1M22 41h.1M44 7h.1M35 43h.1M44.5 42h.1M37.5 22h.1M20.5 30h.1M12.5 44.5h.1M12.5 6.5h.1M30 22.5h.1M39 0h.1M39 48h.1M17.5 28h.1"/><path stroke="#bc4" d="M23.5 47h.1M32 42.5h.1M4 16h.1M42.5 20.5h.1M2.5 3.5h.1M15 45.5h.1M18 30h.1M14.5 46h.1M13 29.5h.1M29 29h.1M19 15h.1M35.5 32h.1M.5 25h.1M48.5 25h.1M23 24h.1M44 46.5h.1M25.5 2h.1M43 30.5h.1M3.5 23.5h.1M42 47.5h.1M43.5 1.5h.1M26 40.5h.1M32 23.5h.1M47 37.5h.1M17.5 10.5h.1M34 40.5h.1M33.5 42h.1M44 45.5h.1M10 15.5h.1M6.5 9.5h.1M25 44h.1M5.5 17h.1M28.5 37.5h.1M6.5 12.5h.1M33.5 3.5h.1M35.5 46.5h.1M17 6h.1M1 42.5h.1M49 42.5h.1M34 29.5h.1M23 6h.1M13 37h.1M47 30h.1M14 8h.1M30 27.5h.1"/><path stroke="#373" d="M12 3.5h.1M23 19h.1M17.5 4h.1M23.5 23.5h.1M4.5 33.5h.1M8 4h.1M19 39.5h.1M11.5 39h.1M19.5 46.5h.1M24 40.5h.1M29.5 4.5h.1"/><path stroke="#bd9" d="M18 35.5h.1M36 35h.1M4 46h.1M25 9.5h.1M29 18.5h.1M47 20.5h.1M3 16h.1M32 21.5h.1M22 45h.1M14 18h.1M17 42h.1M0 36h.1M48 36h.1M14 5h.1M14 39.5h.1M18 3.5h.1M7 38h.1M33 45h.1M5.5 21h.1M6.5 17h.1M34 14h.1M36 35h.1M40 45.5h.1M47 10.5h.1M47.5 30.5h.1M11 5.5h.1M33.5 43h.1M23.5 34h.1M22.5 32h.1M28 40.5h.1"/><path stroke="#fff" d="M2 29h.1"/><path stroke="#9b5" d="M30.5 21.5h.1M4.5 5.5h.1M0 30.5h.1M48 30.5h.1M16.5 30.5h.1M35 32.5h.1M30.5 5h.1M1 4.5h.1M49 4.5h.1M44 6h.1M41 29h.1M27 46h.1M39.5 46.5h.1M38 15.5h.1M18.5 6h.1M42 27h.1M18.5 32.5h.1M26 31.5h.1M23 44.5h.1M19.5 31.5h.1M1 12h.1M49 12h.1M41.5 32.5h.1M34 29.5h.1"/><path stroke="#dd7" d="M29.5 26.5h.1M36 43h.1M3 39.5h.1M1 44.5h.1M49 44.5h.1M25 39h.1M3 15.5h.1M16.5 13h.1M10 23h.1M41 4.5h.1M35 17h.1M40.5 27.5h.1M29 11h.1M41 27h.1M44 12h.1M2.5 42h.1M18.5 41.5h.1M40.5 14h.1M46 44.5h.1M10 3.5h.1M20.5 41.5h.1M47 37h.1M16 24h.1M13 21h.1M32 11.5h.1M32.5 16h.1M44 5.5h.1M27.5 16.5h.1M45 46h.1M29.5 .5h.1M29.5 48.5h.1M36.5 34h.1M8 13.5h.1M5.5 35h.1M.5 21h.1M48.5 21h.1"/><path stroke="#a5c" d="M22 30.5h.1M35.5 36.5h.1M41.5 21h.1M14.5 43h.1M20.5 37.5h.1M38 35h.1M.5 36.5h.1M48.5 36.5h.1M34 31h.1M38 29h.1"/><path stroke="#47b" d="M42.5 34.5h.1M23 33h.1M14.5 6h.1M34.5 36h.1M12 28.5h.1M47 6.5h.1M42 4h.1M23.5 28h.1M4 41.5h.1M3.5 28.5h.1M42.5 4h.1M7 21.5h.1M46 41.5h.1M41 35h.1"/><path stroke="#4a4" d="M19.5 8.5h.1M7.5 44.5h.1M8 46h.1M2 9h.1M41.5 3h.1M1 46h.1M49 46h.1M0 46.5h.1M48 46.5h.1M25.5 13.5h.1M39.5 47h.1M29.5 33h.1M21 13h.1M2 11.5h.1M3.5 42h.1M11 29h.1M26.5 15h.1M41 30.5h.1M10 12h.1M3 1h.1M3 49h.1M45 21h.1M5 33h.1M34.5 23h.1M20.5 13.5h.1M3.5 38.5h.1M23 7.5h.1M24 36.5h.1M3.5 29h.1M18 16h.1M25 31.5h.1M45.5 32h.1M10.5 14.5h.1M34.5 47h.1M36.5 20.5h.1M45 31h.1M1.5 25.5h.1M11 17h.1M4 21h.1M4 46.5h.1M9 10.5h.1"/><path stroke="#697" d="M24.5 16h.1M34 20.5h.1M8.5 4.5h.1M32.5 18.5h.1M22.5 37h.1M41 3.5h.1M28 7.5h.1M5 42.5h.1M29 44.5h.1M35 18h.1M46.5 17.5h.1M23 22h.1"/><path stroke="#4a4" d="M4 17.5h.1M38.5 25.5h.1M43.5 9.5h.1M17 21h.1M43 27h.1M16.5 46.5h.1M38 24.5h.1M34 19h.1M10.5 45.5h.1M21.5 35.5h.1M1 14h.1M49 14h.1M16 35.5h.1M47 28h.1M8.5 19.5h.1M11.5 .5h.1M11.5 48.5h.1M19 26.5h.1M7.5 32h.1M0 20h.1M48 20h.1M34 43.5h.1M39.5 35.5h.1M24 17h.1M34.5 13.5h.1M2 9.5h.1M21.5 7.5h.1M29.5 35h.1M3 47.5h.1M15.5 11.5h.1M30.5 13h.1M16.5 26h.1M37 16.5h.1M38.5 14h.1M40 46h.1"/><path stroke="#47b" d="M34 36h.1M33.5 43.5h.1M44.5 19.5h.1M17.5 9h.1M18 14h.1M10.5 7h.1M41 16.5h.1M23 5.5h.1M29 21.5h.1M44 27.5h.1M6 22h.1M0 15h.1M48 15h.1"/><path stroke="#dd7" d="M10.5 10.5h.1M26.5 31.5h.1M13 22.5h.1M29 7.5h.1M43 33h.1M26 10.5h.1M18 8h.1M7.5 13.5h.1M.5 26h.1M48.5 26h.1M5.5 45h.1M9.5 3h.1M3 35.5h.1M30 26h.1M41 21h.1M16 19h.1M36.5 5.5h.1M7.5 24.5h.1M10.5 0h.1M10.5 48h.1M13 14h.1M16 21h.1M4 25h.1M21.5 8.5h.1M11 4h.1M41.5 36h.1M27 0h.1M27 48h.1M40 23h.1M38.5 39.5h.1M40.5 45.5h.1M35 36h.1M45 46.5h.1"/><path stroke="#373" d="M12 19.5h.1M1.5 21.5h.1M47 17.5h.1M3 19.5h.1M23.5 27h.1M9 4h.1M17.5 28h.1M23 28h.1M8.5 38h.1M23 15.5h.1M25 43.5h.1"/><path stroke="#bc4" d="M.5 9h.1M48.5 9h.1M7.5 16h.1M19 24h.1M25.5 21.5h.1M18.5 39h.1M2.5 41h.1M38.5 43.5h.1M31.5 21.5h.1M44.5 43h.1M4.5 33.5h.1M38.5 28.5h.1M32.5 7h.1M12.5 25.5h.1M37.5 33h.1M45.5 32h.1M25 46.5h.1M12 22h.1M13.5 13h.1M5.5 36h.1M3.5 0h.1M3.5 48h.1M32 20h.1M7.5 13.5h.1M2 41h.1M27.5 12h.1M4 18.5h.1M23 15h.1M9.5 6.5h.1M42.5 13h.1M14.5 5.5h.1M29 19h.1M44 17h.1"/><path stroke="#bd9" d="M1 2.5h.1M49 2.5h.1M9 4h.1M8 10h.1M25 0h.1M25 48h.1M8.5 42.5h.1M15.5 45h.1M44.5 3h.1M42 45.5h.1M47.5 19h.1M20 4h.1M17 15h.1M14 20h.1M2 18h.1M23.5 28h.1M7 35.5h.1M46 6.5h.1M12.5 46h.1M33 43h.1M19 29h.1M21.5 22.5h.1M42 29.5h.1M36 42.5h.1M22.5 20.5h.1M24.5 23.5h.1M29 40.5h.1M39 13.5h.1"/><path stroke="#cec" d="M41 18h.1M17 19h.1M0 13.5h.1M48 13.5h.1M7 43.5h.1M13.5 30h.1M5 18.5h.1M7 10h.1M37.5 41.5h.1M24 15h.1M8.5 26h.1M13.5 16.5h.1M47.5 38h.1M22.5 33.5h.1M20.5 46h.1M4.5 16h.1M7.5 17.5h.1M5.5 34.5h.1M46 47.5h.1M33.5 9.5h.1M5 31h.1M19.5 6h.1M19.5 22h.1M32 30h.1M32.5 37.5h.1M1.5 13.5h.1M14.5 43h.1M47.5 43.5h.1M1.5 9.5h.1M40 25h.1M13 9h.1M21 36h.1"/><path stroke="#697" d="M2 5.5h.1M3 30.5h.1M1 19.5h.1M49 19.5h.1M6.5 17.5h.1M24 11.5h.1M35 37.5h.1M14.5 42h.1M42 40h.1M31 29h.1M6.5 26.5h.1M11.5 36.5h.1M40 5.5h.1M40 27h.1M34.5 43.5h.1M21.5 32h.1M41.5 16.5h.1M19.5 7h.1M42.5 3h.1M.5 11.5h.1M48.5 11.5h.1M10.5 29h.1M18.5 42.5h.1M22 34.5h.1"/><path stroke="#9b5" d="M34.5 7.5h.1M33 10.5h.1M9 33.5h.1M25 24.5h.1M17 36h.1M31 27h.1M1.5 44h.1M23 38h.1M33.5 36.5h.1M22 42h.1M9.5 13.5h.1M27 29h.1M29 38.5h.1M32 28.5h.1M29.5 10.5h.1M37 8.5h.1M29 11h.1M25 17h.1M26.5 17.5h.1M44.5 1.5h.1M33.5 28h.1M19 47.5h.1M25.5 39h.1M41 47.5h.1M12.5 31h.1M9 5.5h.1M34 25.5h.1M24 40h.1M37.5 9h.1M11 18h.1M40.5 11.5h.1M32.5 28.5h.1"/><path stroke="#a5c" d="M5.5 11.5h.1M28 39.5h.1M17 24h.1M29.5 18.5h.1M39 22h.1"/><path stroke="#fff" d="M45 32.5h.1M17 31h.1M4.5 10h.1M10.5 17h.1M27.5 45.5h.1"/><path stroke="#a5c" d="M12.5 14h.1M11 33.5h.1M23.5 37h.1M40.5 4.5h.1M27.5 41h.1M43.5 5.5h.1M14 17h.1M44 7h.1M43 12.5h.1"/><path stroke="#47b" d="M44.5 7.5h.1M8 39h.1M11 42h.1M31.5 14.5h.1M17 22h.1M3 1h.1M3 49h.1M36.5 24.5h.1M29 38.5h.1M17 40h.1M25.5 29h.1M37 19.5h.1M36.5 7h.1M22.5 24.5h.1M45.5 42.5h.1M17 21h.1M38 38.5h.1M29 38h.1M30 47h.1M26.5 44.5h.1M14 18.5h.1M4.5 16.5h.1"/><path stroke="#9b5" d="M31 8.5h.1M3.5 2h.1M26 29.5h.1M7 30h.1M18.5 42.5h.1M44 30h.1M34 12.5h.1M20.5 45h.1M47 41.5h.1M45.5 16h.1M7 16h.1M26 28.5h.1M15.5 24h.1M27 25.5h.1M40 19h.1M36.5 6.5h.1M25 32.5h.1M31.5 11h.1M33.5 5h.1M17.5 10h.1M18 45.5h.1M24 40.5h.1M24.5 44h.1M38 17.5h.1M17.5 46.5h.1M40.5 8.5h.1M29.5 46.5h.1M20.5 22h.1"/><path stroke="#bd9" d="M7 25h.1M1 3.5h.1M49 3.5h.1M37.5 14h.1M30.5 23.5h.1M28.5 2h.1M4 29h.1M0 16h.1M48 16h.1M43.5 12.5h.1M42.5 .5h.1M42.5 48.5h.1M21 36.5h.1M26.5 6h.1M29.5 19h.1M40 16.5h.1M6.5 16h.1M27 15.5h.1M43 35.5h.1M32.5 35h.1M24 46h.1"/><path stroke="#cec" d="M25.5 15h.1M15 20.5h.1M10 44h.1M11 18h.1M24 17h.1M38.5 42.5h.1M30.5 27.5h.1M36.5 23h.1M3.5 39.5h.1M29 34h.1M34 31.5h.1M20 27h.1M44.5 21.5h.1M.5 10h.1M48.5 10h.1M38.5 45h.1M33 8.5h.1M47.5 41.5h.1M40.5 39h.1M47.5 41.5h.1M7 4.5h.1M41.5 36.5h.1M9.5 37h.1M20 3.5h.1M30 32.5h.1M18 31h.1M11 27h.1M44 15h.1M2.5 30.5h.1"/><path stroke="#697" d="M41 33h.1M34 29.5h.1M36 23h.1M5 10h.1M32.5 47.5h.1M9.5 45h.1M38.5 39h.1M3.5 32h.1M16 35h.1M0 0h.1M48 0h.1M0 48h.1"/><path stroke="#bc4" d="M12 29.5h.1M7 20h.1M37.5 29.5h.1M23 35h.1M9.5 32.5h.1M16.5 1h.1M16.5 49h.1M46.5 46.5h.1M35 27h.1M34.5 8h.1M4.5 32.5h.1M41.5 40h.1M16 45.5h.1M22.5 .5h.1M22.5 48.5h.1M18 26.5h.1M6 28h.1M14 35h.1M41.5 34h.1M40.5 13.5h.1M38 14h.1M31 47h.1M40 9h.1M4 19h.1M26.5 47.5h.1M26 39h.1M43 38h.1M5.5 22.5h.1M37 36h.1M7.5 35.5h.1M41 44.5h.1M37.5 31.5h.1M19 17.5h.1M38 18h.1M41 34.5h.1M11.5 1h.1M11.5 49h.1M39 43.5h.1M6 42.5h.1M13.5 30h.1M2.5 31h.1M3 14h.1M36 40h.1M22 30.5h.1M28 26.5h.1M36 11.5h.1"/><path stroke="#dd7" d="M44 18h.1M44 43h.1M39 22h.1M8 33.5h.1M16 8.5h.1M10.5 34h.1M40 14h.1M40.5 44.5h.1M1 20.5h.1M49 20.5h.1M35 .5h.1M35 48.5h.1M17 9h.1M33 4h.1M14 16h.1M38 21.5h.1M14 13.5h.1M44 31.5h.1M8 30.5h.1M47 26h.1M3.5 45h.1M10 38h.1M8 22.5h.1M21 1.5h.1M26.5 18.5h.1M5.5 8.5h.1M23.5 10.5h.1M21 12.5h.1M26.5 16h.1M28 38.5h.1M43.5 19h.1M2 26h.1M25 25h.1M32.5 41.5h.1"/><path stroke="#373" d="M31 23.5h.1M45.5 39h.1M0 9.5h.1M48 9.5h.1M47 7h.1M36.5 31h.1M17.5 25h.1M32.5 28.5h.1M42 21h.1M1.5 42.5h.1M27.5 14.5h.1M4 34.5h.1M26.5 12h.1M19.5 40h.1M7.5 7.5h.1"/><path stroke="#4a4" d="M36.5 6h.1M32.5 13.5h.1M11 47.5h.1M20 3h.1M23 32.5h.1M42.5 4h.1M4.5 35.5h.1M6.5 26.5h.1M11.5 9.5h.1M7 16.5h.1M10.5 30.5h.1M2 10.5h.1M35.5 35h.1M35.5 5h.1M6 5h.1M1 37.5h.1M49 37.5h.1M24.5 39.5h.1M10.5 22h.1M27 2h.1M36.5 36h.1M9 38h.1M17 37.5h.1M20 44h.1M20.5 5h.1M22 47.5h.1M14 14h.1M26.5 30.5h.1M25.5 32h.1M32 45.5h.1M3.5 43.5h.1M32.5 11h.1M17 39.5h.1"/><path stroke="#fff" d="M47.5 46.5h.1M10.5 28.5h.1"/></g></pattern>
</defs>
<style>.a{stroke-dasharray:3 2}.b{stroke-dasharray:1.3 1.3}.c{stroke-dasharray:6 3}</style>
<g clip-path="url(#cl0)" fill="none" stroke-width="2.6">
<rect x="76.0" y="7.0" width="316.8" height="298.0" fill="#fff"/>
<path d="M76 7.0h114v298.0h-114zM300 7.0h93v298.0h-93z" fill="#777" stroke="none"/>
<path d="M263 310.6c1.7-2.5 3.9-5 6.1-7.4s5.3-5 5.3-7.5s-3.1-5-5.3-7.4s-4.4-5-6.1-7.5s-3.2-5-4.2-7.4s-1.5-5-1.5-7.5s.5-5 1.5-7.4s2.4-5 4.2-7.5s3.9-5 6.1-7.4s5.3-5 5.3-7.5s-3.1-5-5.3-7.4s-4.4-5-6.1-7.5s-3.2-5-4.2-7.4s-1.5-5-1.5-7.5s.5-5 1.5-7.4s2.4-5 4.2-7.5s3.9-5 6.1-7.4s5.3-5 5.3-7.5s-3.1-5-5.3-7.4s-4.4-5-6.1-7.5s-3.2-5-4.2-7.4s-1.5-5-1.5-7.5s.5-5 1.5-7.4s2.4-5 4.2-7.5s3.9-5 6.1-7.4s5.3-5 5.3-7.5s-3.1-5-5.3-7.4s-4.4-5-6.1-7.5s-3.2-5-4.2-7.4s-1.5-5-1.5-7.5s.5-5 1.5-7.4s2.4-5 4.2-7.5s3.9-5 6.1-7.4s5.3-5 5.3-7.5s-3.1-5-5.3-7.4s-4.4-5-6.1-7.5s-3.2-5-4.2-7.4s-1.5-5-1.5-7.5s.5-5 1.5-7.4s2.4-5 4.2-7.5s3.9-5 6.1-7.4" stroke="#6c8" class="c"/>
<path d="M262.7 310.6c1.7-2.5 3.8-5 5.9-7.4s4.5-5 4.5-7.5s-2.4-5-4.5-7.4s-4.2-5-5.9-7.5s-3.2-5-4.1-7.4s-1.5-5-1.5-7.5s.5-5 1.5-7.4s2.3-5 4.1-7.5s3.8-5 5.9-7.4s4.5-5 4.5-7.5s-2.4-5-4.5-7.4s-4.2-5-5.9-7.5s-3.2-5-4.1-7.4s-1.5-5-1.5-7.5s.5-5 1.5-7.4s2.3-5 4.1-7.5s3.8-5 5.9-7.4s4.5-5 4.5-7.5s-2.4-5-4.5-7.4s-4.2-5-5.9-7.5s-3.2-5-4.1-7.4s-1.5-5-1.5-7.5s.5-5 1.5-7.4s2.3-5 4.1-7.5s3.8-5 5.9-7.4s4.5-5 4.5-7.5s-2.4-5-4.5-7.4s-4.2-5-5.9-7.5s-3.2-5-4.1-7.4s-1.5-5-1.5-7.5s.5-5 1.5-7.4s2.3-5 4.1-7.5s3.8-5 5.9-7.4s4.5-5 4.5-7.5s-2.4-5-4.5-7.4s-4.2-5-5.9-7.5s-3.2-5-4.1-7.4s-1.5-5-1.5-7.5s.5-5 1.5-7.4s2.3-5 4.1-7.5s3.8-5 5.9-7.4" stroke="#3a4"/>
<path d="M262.3 310.6c1.7-2.5 3.7-5 5.6-7.4s3.9-5 3.9-7.5s-2-5-3.9-7.4s-3.9-5-5.6-7.5s-3.1-5-4.1-7.4s-1.4-5-1.4-7.5s.5-5 1.4-7.4s2.4-5 4.1-7.5s3.7-5 5.6-7.4s3.9-5 3.9-7.5s-2-5-3.9-7.4s-3.9-5-5.6-7.5s-3.1-5-4.1-7.4s-1.4-5-1.4-7.5s.5-5 1.4-7.4s2.4-5 4.1-7.5s3.7-5 5.6-7.4s3.9-5 3.9-7.5s-2-5-3.9-7.4s-3.9-5-5.6-7.5s-3.1-5-4.1-7.4s-1.4-5-1.4-7.5s.5-5 1.4-7.4s2.4-5 4.1-7.5s3.7-5 5.6-7.4s3.9-5 3.9-7.5s-2-5-3.9-7.4s-3.9-5-5.6-7.5s-3.1-5-4.1-7.4s-1.4-5-1.4-7.5s.5-5 1.4-7.4s2.4-5 4.1-7.5s3.7-5 5.6-7.4s3.9-5 3.9-7.5s-2-5-3.9-7.4s-3.9-5-5.6-7.5s-3.1-5-4.1-7.4s-1.4-5-1.4-7.5s.5-5 1.4-7.4s2.4-5 4.1-7.5s3.7-5 5.6-7.4" stroke="#8c3"/>
<path d="M261.8 310.6c3.2-5 8.7-9.9 8.7-14.9s-5.5-9.9-8.7-14.9s-5.4-9.9-5.4-14.9s2.1-9.9 5.4-14.9s8.7-9.9 8.7-14.9s-5.5-9.9-8.7-14.9s-5.4-9.9-5.4-14.9s2.1-9.9 5.4-14.9s8.7-9.9 8.7-14.9s-5.5-9.9-8.7-14.9s-5.4-9.9-5.4-14.9s2.1-9.9 5.4-14.9s8.7-9.9 8.7-14.9s-5.5-9.9-8.7-14.9s-5.4-9.9-5.4-14.9s2.1-9.9 5.4-14.9s8.7-9.9 8.7-14.9s-5.5-9.9-8.7-14.9s-5.4-9.9-5.4-14.9s2.1-9.9 5.4-14.9s8.7-9.9 8.7-14.9" stroke="#8c3" class="a"/>
<path d="M261.2 310.6c3.1-5 8-9.9 8-14.9s-4.9-9.9-8-14.9s-5.2-9.9-5.2-14.9s2-9.9 5.2-14.9s8-9.9 8-14.9s-4.9-9.9-8-14.9s-5.2-9.9-5.2-14.9s2-9.9 5.2-14.9s8-9.9 8-14.9s-4.9-9.9-8-14.9s-5.2-9.9-5.2-14.9s2-9.9 5.2-14.9s8-9.9 8-14.9s-4.9-9.9-8-14.9s-5.2-9.9-5.2-14.9s2-9.9 5.2-14.9s8-9.9 8-14.9s-4.9-9.9-8-14.9s-5.2-9.9-5.2-14.9s2-9.9 5.2-14.9s8-9.9 8-14.9" stroke="#4b6"/>
<path d="M260.5 310.6c3-5 7.4-9.9 7.4-14.9s-4.4-9.9-7.4-14.9s-5-9.9-5-14.9s2-9.9 5-14.9s7.4-9.9 7.4-14.9s-4.4-9.9-7.4-14.9s-5-9.9-5-14.9s2-9.9 5-14.9s7.4-9.9 7.4-14.9s-4.4-9.9-7.4-14.9s-5-9.9-5-14.9s2-9.9 5-14.9s7.4-9.9 7.4-14.9s-4.4-9.9-7.4-14.9s-5-9.9-5-14.9s2-9.9 5-14.9s7.4-9.9 7.4-14.9s-4.4-9.9-7.4-14.9s-5-9.9-5-14.9s2-9.9 5-14.9s7.4-9.9 7.4-14.9" stroke="#4b6"/>
<path d="M259.7 310.6c2.9-5 6.9-9.9 6.9-14.9s-4-9.9-6.9-14.9s-4.8-9.9-4.8-14.9s1.9-9.9 4.8-14.9s6.9-9.9 6.9-14.9s-4-9.9-6.9-14.9s-4.8-9.9-4.8-14.9s1.9-9.9 4.8-14.9s6.9-9.9 6.9-14.9s-4-9.9-6.9-14.9s-4.8-9.9-4.8-14.9s1.9-9.9 4.8-14.9s6.9-9.9 6.9-14.9s-4-9.9-6.9-14.9s-4.8-9.9-4.8-14.9s1.9-9.9 4.8-14.9s6.9-9.9 6.9-14.9s-4-9.9-6.9-14.9s-4.8-9.9-4.8-14.9s1.9-9.9 4.8-14.9s6.9-9.9 6.9-14.9" stroke="#93c" class="b"/>
<path d="M258.9 310.6c2.8-5 6.4-9.9 6.4-14.9s-3.6-9.9-6.4-14.9s-4.6-9.9-4.6-14.9s1.9-9.9 4.6-14.9s6.4-9.9 6.4-14.9s-3.6-9.9-6.4-14.9s-4.6-9.9-4.6-14.9s1.9-9.9 4.6-14.9s6.4-9.9 6.4-14.9s-3.6-9.9-6.4-14.9s-4.6-9.9-4.6-14.9s1.9-9.9 4.6-14.9s6.4-9.9 6.4-14.9s-3.6-9.9-6.4-14.9s-4.6-9.9-4.6-14.9s1.9-9.9 4.6-14.9s6.4-9.9 6.4-14.9s-3.6-9.9-6.4-14.9s-4.6-9.9-4.6-14.9s1.9-9.9 4.6-14.9s6.4-9.9 6.4-14.9" stroke="#93c"/>
<path d="M258.1 310.6c2.6-5 5.9-9.9 5.9-14.9s-3.3-9.9-5.9-14.9s-4.5-9.9-4.5-14.9s1.8-9.9 4.5-14.9s5.9-9.9 5.9-14.9s-3.3-9.9-5.9-14.9s-4.5-9.9-4.5-14.9s1.8-9.9 4.5-14.9s5.9-9.9 5.9-14.9s-3.3-9.9-5.9-14.9s-4.5-9.9-4.5-14.9s1.8-9.9 4.5-14.9s5.9-9.9 5.9-14.9s-3.3-9.9-5.9-14.9s-4.5-9.9-4.5-14.9s1.8-9.9 4.5-14.9s5.9-9.9 5.9-14.9s-3.3-9.9-5.9-14.9s-4.5-9.9-4.5-14.9s1.8-9.9 4.5-14.9s5.9-9.9 5.9-14.9" stroke="#5a3" class="c"/>
<path d="M252.8 325.5c0-9.9 9.9-19.9 9.9-29.8s-9.9-19.9-9.9-29.8s9.9-19.9 9.9-29.8s-9.9-19.9-9.9-29.8s9.9-19.9 9.9-29.8s-9.9-19.9-9.9-29.8s9.9-19.9 9.9-29.8s-9.9-19.9-9.9-29.8s9.9-19.9 9.9-29.8s-9.9-19.9-9.9-29.8s9.9-19.9 9.9-29.8" stroke="#5a3"/>
<path d="M252 325.5c0-9.9 9.4-19.9 9.4-29.8s-9.4-19.9-9.4-29.8s9.4-19.9 9.4-29.8s-9.4-19.9-9.4-29.8s9.4-19.9 9.4-29.8s-9.4-19.9-9.4-29.8s9.4-19.9 9.4-29.8s-9.4-19.9-9.4-29.8s9.4-19.9 9.4-29.8s-9.4-19.9-9.4-29.8s9.4-19.9 9.4-29.8" stroke="#ad4" class="b"/>
<path d="M251.2 325.5c0-9.9 8.9-19.9 8.9-29.8s-8.9-19.9-8.9-29.8s8.9-19.9 8.9-29.8s-8.9-19.9-8.9-29.8s8.9-19.9 8.9-29.8s-8.9-19.9-8.9-29.8s8.9-19.9 8.9-29.8s-8.9-19.9-8.9-29.8s8.9-19.9 8.9-29.8s-8.9-19.9-8.9-29.8s8.9-19.9 8.9-29.8" stroke="#a7c"/>
<path d="M250.3 325.5c0-9.9 8.5-19.9 8.5-29.8s-8.5-19.9-8.5-29.8s8.5-19.9 8.5-29.8s-8.5-19.9-8.5-29.8s8.5-19.9 8.5-29.8s-8.5-19.9-8.5-29.8s8.5-19.9 8.5-29.8s-8.5-19.9-8.5-29.8s8.5-19.9 8.5-29.8s-8.5-19.9-8.5-29.8s8.5-19.9 8.5-29.8" stroke="#3a7"/>
<path d="M249.4 325.5c0-9.9 8.1-19.9 8.1-29.8s-8.1-19.9-8.1-29.8s8.1-19.9 8.1-29.8s-8.1-19.9-8.1-29.8s8.1-19.9 8.1-29.8s-8.1-19.9-8.1-29.8s8.1-19.9 8.1-29.8s-8.1-19.9-8.1-29.8s8.1-19.9 8.1-29.8s-8.1-19.9-8.1-29.8s8.1-19.9 8.1-29.8" stroke="#465" class="a"/>
<path d="M248.5 325.5c0-9.9 7.7-19.9 7.7-29.8s-7.7-19.9-7.7-29.8s7.7-19.9 7.7-29.8s-7.7-19.9-7.7-29.8s7.7-19.9 7.7-29.8s-7.7-19.9-7.7-29.8s7.7-19.9 7.7-29.8s-7.7-19.9-7.7-29.8s7.7-19.9 7.7-29.8s-7.7-19.9-7.7-29.8s7.7-19.9 7.7-29.8" stroke="#7be"/>
<path d="M247.6 325.5c0-9.9 7.3-19.9 7.3-29.8s-7.3-19.9-7.3-29.8s7.3-19.9 7.3-29.8s-7.3-19.9-7.3-29.8s7.3-19.9 7.3-29.8s-7.3-19.9-7.3-29.8s7.3-19.9 7.3-29.8s-7.3-19.9-7.3-29.8s7.3-19.9 7.3-29.8s-7.3-19.9-7.3-29.8s7.3-19.9 7.3-29.8" stroke="#a5c" class="a"/>
<path d="M246.6 325.5c0-9.9 7-19.9 7-29.8s-7-19.9-7-29.8s7-19.9 7-29.8s-7-19.9-7-29.8s7-19.9 7-29.8s-7-19.9-7-29.8s7-19.9 7-29.8s-7-19.9-7-29.8s7-19.9 7-29.8s-7-19.9-7-29.8s7-19.9 7-29.8" stroke="#a85"/>
<path d="M245.6 325.5c0-9.9 6.7-19.9 6.7-29.8s-6.7-19.9-6.7-29.8s6.7-19.9 6.7-29.8s-6.7-19.9-6.7-29.8s6.7-19.9 6.7-29.8s-6.7-19.9-6.7-29.8s6.7-19.9 6.7-29.8s-6.7-19.9-6.7-29.8s6.7-19.9 6.7-29.8s-6.7-19.9-6.7-29.8s6.7-19.9 6.7-29.8" stroke="#6b4" class="b"/>
<path d="M244.6 325.5c0-9.9 6.4-19.9 6.4-29.8s-6.4-19.9-6.4-29.8s6.4-19.9 6.4-29.8s-6.4-19.9-6.4-29.8s6.4-19.9 6.4-29.8s-6.4-19.9-6.4-29.8s6.4-19.9 6.4-29.8s-6.4-19.9-6.4-29.8s6.4-19.9 6.4-29.8s-6.4-19.9-6.4-29.8s6.4-19.9 6.4-29.8" stroke="#866"/>
<path d="M243.5 325.5c0-9.9 6.2-19.9 6.2-29.8s-6.2-19.9-6.2-29.8s6.2-19.9 6.2-29.8s-6.2-19.9-6.2-29.8s6.2-19.9 6.2-29.8s-6.2-19.9-6.2-29.8s6.2-19.9 6.2-29.8s-6.2-19.9-6.2-29.8s6.2-19.9 6.2-29.8s-6.2-19.9-6.2-29.8s6.2-19.9 6.2-29.8" stroke="#8ac"/>
<path d="M242.5 325.5c0-9.9 5.9-19.9 5.9-29.8s-5.9-19.9-5.9-29.8s5.9-19.9 5.9-29.8s-5.9-19.9-5.9-29.8s5.9-19.9 5.9-29.8s-5.9-19.9-5.9-29.8s5.9-19.9 5.9-29.8s-5.9-19.9-5.9-29.8s5.9-19.9 5.9-29.8s-5.9-19.9-5.9-29.8s5.9-19.9 5.9-29.8" stroke="#a0b" class="c"/>
<path d="M241.4 325.5c0-9.9 5.7-19.9 5.7-29.8s-5.7-19.9-5.7-29.8s5.7-19.9 5.7-29.8s-5.7-19.9-5.7-29.8s5.7-19.9 5.7-29.8s-5.7-19.9-5.7-29.8s5.7-19.9 5.7-29.8s-5.7-19.9-5.7-29.8s5.7-19.9 5.7-29.8s-5.7-19.9-5.7-29.8s5.7-19.9 5.7-29.8" stroke="#8e4"/>
<path d="M240.3 325.5c0-9.9 5.5-19.9 5.5-29.8s-5.5-19.9-5.5-29.8s5.5-19.9 5.5-29.8s-5.5-19.9-5.5-29.8s5.5-19.9 5.5-29.8s-5.5-19.9-5.5-29.8s5.5-19.9 5.5-29.8s-5.5-19.9-5.5-29.8s5.5-19.9 5.5-29.8s-5.5-19.9-5.5-29.8s5.5-19.9 5.5-29.8" stroke="#3a0" class="c"/>
<path d="M239.2 325.5c0-9.9 5.3-19.9 5.3-29.8s-5.3-19.9-5.3-29.8s5.3-19.9 5.3-29.8s-5.3-19.9-5.3-29.8s5.3-19.9 5.3-29.8s-5.3-19.9-5.3-29.8s5.3-19.9 5.3-29.8s-5.3-19.9-5.3-29.8s5.3-19.9 5.3-29.8s-5.3-19.9-5.3-29.8s5.3-19.9 5.3-29.8" stroke="#b87"/>
<path d="M238.1 325.5c0-9.9 5.1-19.9 5.1-29.8s-5.1-19.9-5.1-29.8s5.1-19.9 5.1-29.8s-5.1-19.9-5.1-29.8s5.1-19.9 5.1-29.8s-5.1-19.9-5.1-29.8s5.1-19.9 5.1-29.8s-5.1-19.9-5.1-29.8s5.1-19.9 5.1-29.8s-5.1-19.9-5.1-29.8s5.1-19.9 5.1-29.8" stroke="#881" class="a"/>
<path d="M237 325.5c0-9.9 4.9-19.9 4.9-29.8s-4.9-19.9-4.9-29.8s4.9-19.9 4.9-29.8s-4.9-19.9-4.9-29.8s4.9-19.9 4.9-29.8s-4.9-19.9-4.9-29.8s4.9-19.9 4.9-29.8s-4.9-19.9-4.9-29.8s4.9-19.9 4.9-29.8s-4.9-19.9-4.9-29.8s4.9-19.9 4.9-29.8" stroke="#20c"/>
<path d="M235.9 325.5c0-9.9 4.7-19.9 4.7-29.8s-4.7-19.9-4.7-29.8s4.7-19.9 4.7-29.8s-4.7-19.9-4.7-29.8s4.7-19.9 4.7-29.8s-4.7-19.9-4.7-29.8s4.7-19.9 4.7-29.8s-4.7-19.9-4.7-29.8s4.7-19.9 4.7-29.8s-4.7-19.9-4.7-29.8s4.7-19.9 4.7-29.8" stroke="#5fd" class="a"/>
<path d="M234.8 325.5c0-9.9 4.5-19.9 4.5-29.8s-4.5-19.9-4.5-29.8s4.5-19.9 4.5-29.8s-4.5-19.9-4.5-29.8s4.5-19.9 4.5-29.8s-4.5-19.9-4.5-29.8s4.5-19.9 4.5-29.8s-4.5-19.9-4.5-29.8s4.5-19.9 4.5-29.8s-4.5-19.9-4.5-29.8s4.5-19.9 4.5-29.8" stroke="#bb8"/>
<path d="M233.6 325.5c0-9.9 4.4-19.9 4.4-29.8s-4.4-19.9-4.4-29.8s4.4-19.9 4.4-29.8s-4.4-19.9-4.4-29.8s4.4-19.9 4.4-29.8s-4.4-19.9-4.4-29.8s4.4-19.9 4.4-29.8s-4.4-19.9-4.4-29.8s4.4-19.9 4.4-29.8s-4.4-19.9-4.4-29.8s4.4-19.9 4.4-29.8" stroke="#b82"/>
<path d="M232.5 325.5c0-9.9 4.2-19.9 4.2-29.8s-4.2-19.9-4.2-29.8s4.2-19.9 4.2-29.8s-4.2-19.9-4.2-29.8s4.2-19.9 4.2-29.8s-4.2-19.9-4.2-29.8s4.2-19.9 4.2-29.8s-4.2-19.9-4.2-29.8s4.2-19.9 4.2-29.8s-4.2-19.9-4.2-29.8s4.2-19.9 4.2-29.8" stroke="#3a2"/>
<path d="M231.3 325.5c0-9.9 4.1-19.9 4.1-29.8s-4.1-19.9-4.1-29.8s4.1-19.9 4.1-29.8s-4.1-19.9-4.1-29.8s4.1-19.9 4.1-29.8s-4.1-19.9-4.1-29.8s4.1-19.9 4.1-29.8s-4.1-19.9-4.1-29.8s4.1-19.9 4.1-29.8s-4.1-19.9-4.1-29.8s4.1-19.9 4.1-29.8" stroke="#39e" class="a"/>
<path d="M230.2 325.5c0-9.9 3.9-19.9 3.9-29.8s-3.9-19.9-3.9-29.8s3.9-19.9 3.9-29.8s-3.9-19.9-3.9-29.8s3.9-19.9 3.9-29.8s-3.9-19.9-3.9-29.8s3.9-19.9 3.9-29.8s-3.9-19.9-3.9-29.8s3.9-19.9 3.9-29.8s-3.9-19.9-3.9-29.8s3.9-19.9 3.9-29.8" stroke="#d1f"/>
<path d="M229 325.5c0-9.9 3.8-19.9 3.8-29.8s-3.8-19.9-3.8-29.8s3.8-19.9 3.8-29.8s-3.8-19.9-3.8-29.8s3.8-19.9 3.8-29.8s-3.8-19.9-3.8-29.8s3.8-19.9 3.8-29.8s-3.8-19.9-3.8-29.8s3.8-19.9 3.8-29.8s-3.8-19.9-3.8-29.8s3.8-19.9 3.8-29.8" stroke="#bf0"/>
<path d="M227.8 325.5c0-9.9 3.7-19.9 3.7-29.8s-3.7-19.9-3.7-29.8s3.7-19.9 3.7-29.8s-3.7-19.9-3.7-29.8s3.7-19.9 3.7-29.8s-3.7-19.9-3.7-29.8s3.7-19.9 3.7-29.8s-3.7-19.9-3.7-29.8s3.7-19.9 3.7-29.8s-3.7-19.9-3.7-29.8s3.7-19.9 3.7-29.8" stroke="#222"/>
<path d="M226.7 325.5c0-9.9 3.5-19.9 3.5-29.8s-3.5-19.9-3.5-29.8s3.5-19.9 3.5-29.8s-3.5-19.9-3.5-29.8s3.5-19.9 3.5-29.8s-3.5-19.9-3.5-29.8s3.5-19.9 3.5-29.8s-3.5-19.9-3.5-29.8s3.5-19.9 3.5-29.8s-3.5-19.9-3.5-29.8s3.5-19.9 3.5-29.8" stroke="#3e5"/>
<path d="M225.5 325.5c0-9.9 3.4-19.9 3.4-29.8s-3.4-19.9-3.4-29.8s3.4-19.9 3.4-29.8s-3.4-19.9-3.4-29.8s3.4-19.9 3.4-29.8s-3.4-19.9-3.4-29.8s3.4-19.9 3.4-29.8s-3.4-19.9-3.4-29.8s3.4-19.9 3.4-29.8s-3.4-19.9-3.4-29.8s3.4-19.9 3.4-29.8" stroke="#93f" class="b"/>
<path d="M224.3 325.5c0-9.9 3.3-19.9 3.3-29.8s-3.3-19.9-3.3-29.8s3.3-19.9 3.3-29.8s-3.3-19.9-3.3-29.8s3.3-19.9 3.3-29.8s-3.3-19.9-3.3-29.8s3.3-19.9 3.3-29.8s-3.3-19.9-3.3-29.8s3.3-19.9 3.3-29.8s-3.3-19.9-3.3-29.8s3.3-19.9 3.3-29.8" stroke="#9f8"/>
<path d="M223.2 325.5c0-9.9 3.1-19.9 3.1-29.8s-3.1-19.9-3.1-29.8s3.1-19.9 3.1-29.8s-3.1-19.9-3.1-29.8s3.1-19.9 3.1-29.8s-3.1-19.9-3.1-29.8s3.1-19.9 3.1-29.8s-3.1-19.9-3.1-29.8s3.1-19.9 3.1-29.8s-3.1-19.9-3.1-29.8s3.1-19.9 3.1-29.8" stroke="#c44"/>
<path d="M222 325.5c0-9.9 3-19.9 3-29.8s-3-19.9-3-29.8s3-19.9 3-29.8s-3-19.9-3-29.8s3-19.9 3-29.8s-3-19.9-3-29.8s3-19.9 3-29.8s-3-19.9-3-29.8s3-19.9 3-29.8s-3-19.9-3-29.8s3-19.9 3-29.8" stroke="#120"/>
<path d="M220.8 325.5c0-9.9 2.9-19.9 2.9-29.8s-2.9-19.9-2.9-29.8s2.9-19.9 2.9-29.8s-2.9-19.9-2.9-29.8s2.9-19.9 2.9-29.8s-2.9-19.9-2.9-29.8s2.9-19.9 2.9-29.8s-2.9-19.9-2.9-29.8s2.9-19.9 2.9-29.8s-2.9-19.9-2.9-29.8s2.9-19.9 2.9-29.8" stroke="#09c"/>
<path d="M219.6 325.5c0-9.9 2.8-19.9 2.8-29.8s-2.8-19.9-2.8-29.8s2.8-19.9 2.8-29.8s-2.8-19.9-2.8-29.8s2.8-19.9 2.8-29.8s-2.8-19.9-2.8-29.8s2.8-19.9 2.8-29.8s-2.8-19.9-2.8-29.8s2.8-19.9 2.8-29.8s-2.8-19.9-2.8-29.8s2.8-19.9 2.8-29.8" stroke="#cfc" class="a"/>
<path d="M218.4 325.5c0-9.9 2.7-19.9 2.7-29.8s-2.7-19.9-2.7-29.8s2.7-19.9 2.7-29.8s-2.7-19.9-2.7-29.8s2.7-19.9 2.7-29.8s-2.7-19.9-2.7-29.8s2.7-19.9 2.7-29.8s-2.7-19.9-2.7-29.8s2.7-19.9 2.7-29.8s-2.7-19.9-2.7-29.8s2.7-19.9 2.7-29.8" stroke="#7a6"/>
<path d="M217.2 325.5c0-9.9 2.6-19.9 2.6-29.8s-2.6-19.9-2.6-29.8s2.6-19.9 2.6-29.8s-2.6-19.9-2.6-29.8s2.6-19.9 2.6-29.8s-2.6-19.9-2.6-29.8s2.6-19.9 2.6-29.8s-2.6-19.9-2.6-29.8s2.6-19.9 2.6-29.8s-2.6-19.9-2.6-29.8s2.6-19.9 2.6-29.8" stroke="#729"/>
<path d="M216 325.5c0-9.9 2.5-19.9 2.5-29.8s-2.5-19.9-2.5-29.8s2.5-19.9 2.5-29.8s-2.5-19.9-2.5-29.8s2.5-19.9 2.5-29.8s-2.5-19.9-2.5-29.8s2.5-19.9 2.5-29.8s-2.5-19.9-2.5-29.8s2.5-19.9 2.5-29.8s-2.5-19.9-2.5-29.8s2.5-19.9 2.5-29.8" stroke="#251"/>
<path d="M214.9 325.5c0-9.9 2.3-19.9 2.3-29.8s-2.3-19.9-2.3-29.8s2.3-19.9 2.3-29.8s-2.3-19.9-2.3-29.8s2.3-19.9 2.3-29.8s-2.3-19.9-2.3-29.8s2.3-19.9 2.3-29.8s-2.3-19.9-2.3-29.8s2.3-19.9 2.3-29.8s-2.3-19.9-2.3-29.8s2.3-19.9 2.3-29.8" stroke="#0cf"/>
<path d="M213.7 325.5c0-9.9 2.2-19.9 2.2-29.8s-2.2-19.9-2.2-29.8s2.2-19.9 2.2-29.8s-2.2-19.9-2.2-29.8s2.2-19.9 2.2-29.8s-2.2-19.9-2.2-29.8s2.2-19.9 2.2-29.8s-2.2-19.9-2.2-29.8s2.2-19.9 2.2-29.8s-2.2-19.9-2.2-29.8s2.2-19.9 2.2-29.8" stroke="#cc3"/>
<path d="M212.5 325.5c0-9.9 2.1-19.9 2.1-29.8s-2.1-19.9-2.1-29.8s2.1-19.9 2.1-29.8s-2.1-19.9-2.1-29.8s2.1-19.9 2.1-29.8s-2.1-19.9-2.1-29.8s2.1-19.9 2.1-29.8s-2.1-19.9-2.1-29.8s2.1-19.9 2.1-29.8s-2.1-19.9-2.1-29.8s2.1-19.9 2.1-29.8" stroke="#f40" class="c"/>
<path d="M211.3 325.5c0-9.9 2-19.9 2-29.8s-2-19.9-2-29.8s2-19.9 2-29.8s-2-19.9-2-29.8s2-19.9 2-29.8s-2-19.9-2-29.8s2-19.9 2-29.8s-2-19.9-2-29.8s2-19.9 2-29.8s-2-19.9-2-29.8s2-19.9 2-29.8" stroke="#545"/>
<path d="M210.1 325.5c0-9.9 1.9-19.9 1.9-29.8s-1.9-19.9-1.9-29.8s1.9-19.9 1.9-29.8s-1.9-19.9-1.9-29.8s1.9-19.9 1.9-29.8s-1.9-19.9-1.9-29.8s1.9-19.9 1.9-29.8s-1.9-19.9-1.9-29.8s1.9-19.9 1.9-29.8s-1.9-19.9-1.9-29.8s1.9-19.9 1.9-29.8" stroke="#0ec"/>
<path d="M208.9 325.5c0-9.9 1.8-19.9 1.8-29.8s-1.8-19.9-1.8-29.8s1.8-19.9 1.8-29.8s-1.8-19.9-1.8-29.8s1.8-19.9 1.8-29.8s-1.8-19.9-1.8-29.8s1.8-19.9 1.8-29.8s-1.8-19.9-1.8-29.8s1.8-19.9 1.8-29.8s-1.8-19.9-1.8-29.8s1.8-19.9 1.8-29.8" stroke="#92b" class="c"/>
<path d="M207.7 325.5c0-9.9 1.7-19.9 1.7-29.8s-1.7-19.9-1.7-29.8s1.7-19.9 1.7-29.8s-1.7-19.9-1.7-29.8s1.7-19.9 1.7-29.8s-1.7-19.9-1.7-29.8s1.7-19.9 1.7-29.8s-1.7-19.9-1.7-29.8s1.7-19.9 1.7-29.8s-1.7-19.9-1.7-29.8s1.7-19.9 1.7-29.8" stroke="#aad"/>
<path d="M206.4 325.5c0-9.9 1.7-19.9 1.7-29.8s-1.7-19.9-1.7-29.8s1.7-19.9 1.7-29.8s-1.7-19.9-1.7-29.8s1.7-19.9 1.7-29.8s-1.7-19.9-1.7-29.8s1.7-19.9 1.7-29.8s-1.7-19.9-1.7-29.8s1.7-19.9 1.7-29.8s-1.7-19.9-1.7-29.8s1.7-19.9 1.7-29.8" stroke="#c05"/>
<path d="M205.2 325.5c0-9.9 1.6-19.9 1.6-29.8s-1.6-19.9-1.6-29.8s1.6-19.9 1.6-29.8s-1.6-19.9-1.6-29.8s1.6-19.9 1.6-29.8s-1.6-19.9-1.6-29.8s1.6-19.9 1.6-29.8s-1.6-19.9-1.6-29.8s1.6-19.9 1.6-29.8s-1.6-19.9-1.6-29.8s1.6-19.9 1.6-29.8" stroke="#8a4"/>
<path d="M204 325.5c0-9.9 1.5-19.9 1.5-29.8s-1.5-19.9-1.5-29.8s1.5-19.9 1.5-29.8s-1.5-19.9-1.5-29.8s1.5-19.9 1.5-29.8s-1.5-19.9-1.5-29.8s1.5-19.9 1.5-29.8s-1.5-19.9-1.5-29.8s1.5-19.9 1.5-29.8s-1.5-19.9-1.5-29.8s1.5-19.9 1.5-29.8" stroke="#e3a"/>
<path d="M202.8 325.5c0-9.9 1.4-19.9 1.4-29.8s-1.4-19.9-1.4-29.8s1.4-19.9 1.4-29.8s-1.4-19.9-1.4-29.8s1.4-19.9 1.4-29.8s-1.4-19.9-1.4-29.8s1.4-19.9 1.4-29.8s-1.4-19.9-1.4-29.8s1.4-19.9 1.4-29.8s-1.4-19.9-1.4-29.8s1.4-19.9 1.4-29.8" stroke="#3d9"/>
<path d="M201.6 325.5c0-9.9 1.3-19.9 1.3-29.8s-1.3-19.9-1.3-29.8s1.3-19.9 1.3-29.8s-1.3-19.9-1.3-29.8s1.3-19.9 1.3-29.8s-1.3-19.9-1.3-29.8s1.3-19.9 1.3-29.8s-1.3-19.9-1.3-29.8s1.3-19.9 1.3-29.8s-1.3-19.9-1.3-29.8s1.3-19.9 1.3-29.8" stroke="#886" class="c"/>
<path d="M200.4 325.5c0-9.9 1.2-19.9 1.2-29.8s-1.2-19.9-1.2-29.8s1.2-19.9 1.2-29.8s-1.2-19.9-1.2-29.8s1.2-19.9 1.2-29.8s-1.2-19.9-1.2-29.8s1.2-19.9 1.2-29.8s-1.2-19.9-1.2-29.8s1.2-19.9 1.2-29.8s-1.2-19.9-1.2-29.8s1.2-19.9 1.2-29.8" stroke="#95b"/>
<path d="M199.2 325.5c0-9.9 1.1-19.9 1.1-29.8s-1.1-19.9-1.1-29.8s1.1-19.9 1.1-29.8s-1.1-19.9-1.1-29.8s1.1-19.9 1.1-29.8s-1.1-19.9-1.1-29.8s1.1-19.9 1.1-29.8s-1.1-19.9-1.1-29.8s1.1-19.9 1.1-29.8s-1.1-19.9-1.1-29.8s1.1-19.9 1.1-29.8" stroke="#f13"/>
<path d="M197.9 325.5c0-9.9 1.1-19.9 1.1-29.8s-1.1-19.9-1.1-29.8s1.1-19.9 1.1-29.8s-1.1-19.9-1.1-29.8s1.1-19.9 1.1-29.8s-1.1-19.9-1.1-29.8s1.1-19.9 1.1-29.8s-1.1-19.9-1.1-29.8s1.1-19.9 1.1-29.8s-1.1-19.9-1.1-29.8s1.1-19.9 1.1-29.8" stroke="#79c" class="b"/>
<path d="M196.7 325.5c0-9.9 1-19.9 1-29.8s-1-19.9-1-29.8s1-19.9 1-29.8s-1-19.9-1-29.8s1-19.9 1-29.8s-1-19.9-1-29.8s1-19.9 1-29.8s-1-19.9-1-29.8s1-19.9 1-29.8s-1-19.9-1-29.8s1-19.9 1-29.8" stroke="#0e8"/>
<path d="M195.5 325.5c0-9.9 .9-19.9 .9-29.8s-.9-19.9-.9-29.8s.9-19.9 .9-29.8s-.9-19.9-.9-29.8s.9-19.9 .9-29.8s-.9-19.9-.9-29.8s.9-19.9 .9-29.8s-.9-19.9-.9-29.8s.9-19.9 .9-29.8s-.9-19.9-.9-29.8s.9-19.9 .9-29.8" stroke="#c85" class="a"/>
<path d="M194.2 325.5c0-9.9 .9-19.9 .9-29.8s-.9-19.9-.9-29.8s.9-19.9 .9-29.8s-.9-19.9-.9-29.8s.9-19.9 .9-29.8s-.9-19.9-.9-29.8s.9-19.9 .9-29.8s-.9-19.9-.9-29.8s.9-19.9 .9-29.8s-.9-19.9-.9-29.8s.9-19.9 .9-29.8" stroke="#732"/>
<path d="M193 325.5c0-9.9 .8-19.9 .8-29.8s-.8-19.9-.8-29.8s.8-19.9 .8-29.8s-.8-19.9-.8-29.8s.8-19.9 .8-29.8s-.8-19.9-.8-29.8s.8-19.9 .8-29.8s-.8-19.9-.8-29.8s.8-19.9 .8-29.8s-.8-19.9-.8-29.8s.8-19.9 .8-29.8" stroke="#19f"/>
<path d="M191.8 325.5c0-9.9 .7-19.9 .7-29.8s-.7-19.9-.7-29.8s.7-19.9 .7-29.8s-.7-19.9-.7-29.8s.7-19.9 .7-29.8s-.7-19.9-.7-29.8s.7-19.9 .7-29.8s-.7-19.9-.7-29.8s.7-19.9 .7-29.8s-.7-19.9-.7-29.8s.7-19.9 .7-29.8" stroke="#b74"/>
<path d="M190.5 325.5c0-9.9 .7-19.9 .7-29.8s-.7-19.9-.7-29.8s.7-19.9 .7-29.8s-.7-19.9-.7-29.8s.7-19.9 .7-29.8s-.7-19.9-.7-29.8s.7-19.9 .7-29.8s-.7-19.9-.7-29.8s.7-19.9 .7-29.8s-.7-19.9-.7-29.8s.7-19.9 .7-29.8" stroke="#3b0"/>
<path d="M189.3 325.5c0-9.9 .6-19.9 .6-29.8s-.6-19.9-.6-29.8s.6-19.9 .6-29.8s-.6-19.9-.6-29.8s.6-19.9 .6-29.8s-.6-19.9-.6-29.8s.6-19.9 .6-29.8s-.6-19.9-.6-29.8s.6-19.9 .6-29.8s-.6-19.9-.6-29.8s.6-19.9 .6-29.8" stroke="#b4c"/>
<path d="M188 325.5c0-9.9 .6-19.9 .6-29.8s-.6-19.9-.6-29.8s.6-19.9 .6-29.8s-.6-19.9-.6-29.8s.6-19.9 .6-29.8s-.6-19.9-.6-29.8s.6-19.9 .6-29.8s-.6-19.9-.6-29.8s.6-19.9 .6-29.8s-.6-19.9-.6-29.8s.6-19.9 .6-29.8" stroke="#2a8"/>
<path d="M186.8 325.5c0-9.9 .5-19.9 .5-29.8s-.5-19.9-.5-29.8s.5-19.9 .5-29.8s-.5-19.9-.5-29.8s.5-19.9 .5-29.8s-.5-19.9-.5-29.8s.5-19.9 .5-29.8s-.5-19.9-.5-29.8s.5-19.9 .5-29.8s-.5-19.9-.5-29.8s.5-19.9 .5-29.8" stroke="#e2a" class="b"/>
<path d="M185.5 325.5c0-9.9 .5-19.9 .5-29.8s-.5-19.9-.5-29.8s.5-19.9 .5-29.8s-.5-19.9-.5-29.8s.5-19.9 .5-29.8s-.5-19.9-.5-29.8s.5-19.9 .5-29.8s-.5-19.9-.5-29.8s.5-19.9 .5-29.8s-.5-19.9-.5-29.8s.5-19.9 .5-29.8" stroke="#178"/>
<path d="M184.3 325.5c0-9.9 .4-19.9 .4-29.8s-.4-19.9-.4-29.8s.4-19.9 .4-29.8s-.4-19.9-.4-29.8s.4-19.9 .4-29.8s-.4-19.9-.4-29.8s.4-19.9 .4-29.8s-.4-19.9-.4-29.8s.4-19.9 .4-29.8s-.4-19.9-.4-29.8s.4-19.9 .4-29.8" stroke="#af5" class="a"/>
<path d="M183 325.5c0-9.9 .4-19.9 .4-29.8s-.4-19.9-.4-29.8s.4-19.9 .4-29.8s-.4-19.9-.4-29.8s.4-19.9 .4-29.8s-.4-19.9-.4-29.8s.4-19.9 .4-29.8s-.4-19.9-.4-29.8s.4-19.9 .4-29.8s-.4-19.9-.4-29.8s.4-19.9 .4-29.8" stroke="#863"/>
<path d="M181.8 325.5c0-9.9 .3-19.9 .3-29.8s-.3-19.9-.3-29.8s.3-19.9 .3-29.8s-.3-19.9-.3-29.8s.3-19.9 .3-29.8s-.3-19.9-.3-29.8s.3-19.9 .3-29.8s-.3-19.9-.3-29.8s.3-19.9 .3-29.8s-.3-19.9-.3-29.8s.3-19.9 .3-29.8" stroke="#f69"/>
<path d="M180.7 6v300" stroke="#33a"/>
<path d="M179.4 6v300" stroke="#6f4" class="a"/>
<path d="M178.1 6v300" stroke="#359"/>
<path d="M176.9 6v300" stroke="#bd5"/>
<path d="M175.6 6v300" stroke="#e06" class="b"/>
<path d="M174.3 6v300" stroke="#8e0"/>
<path d="M173 6v300" stroke="#768"/>
<path d="M171.7 6v300" stroke="#189"/>
<path d="M170.4 6v300" stroke="#d3c"/>
<path d="M169.1 6v300" stroke="#4a3" class="b"/>
<path d="M167.8 6v300" stroke="#987"/>
<path d="M166.5 6v300" stroke="#59f"/>
<path d="M165.2 6v300" stroke="#e81" class="a"/>
<path d="M163.9 6v300" stroke="#0b7"/>
<path d="M162.6 6v300" stroke="#b4f"/>
<path d="M161.3 6v300" stroke="#473"/>
<path d="M160 6v300" stroke="#a6b"/>
<path d="M158.7 6v300" stroke="#bb0" class="c"/>
<path d="M157.4 6v300" stroke="#85e"/>
<path d="M156.1 6v300" stroke="#566"/>
<path d="M154.8 6v300" stroke="#58f"/>
<path d="M153.5 6v300" stroke="#745"/>
<path d="M152.2 6v300" stroke="#1da"/>
<path d="M150.9 6v300" stroke="#fa1" class="c"/>
<path d="M149.6 6v300" stroke="#65d"/>
<path d="M148.3 6v300" stroke="#c36" class="b"/>
<path d="M147 6v300" stroke="#0c8"/>
<path d="M145.7 6v300" stroke="#ab7"/>
<path d="M144.4 6v300" stroke="#13c" class="a"/>
<path d="M143.1 6v300" stroke="#8d4"/>
<path d="M141.8 6v300" stroke="#653"/>
<path d="M140.5 6v300" stroke="#ab4"/>
<path d="M139.2 6v300" stroke="#54f" class="b"/>
<path d="M137.9 6v300" stroke="#689"/>
<path d="M136.6 6v300" stroke="#c74"/>
<path d="M135.3 6v300" stroke="#c47" class="b"/>
<path d="M134 6v300" stroke="#13b"/>
<path d="M132.7 6v300" stroke="#2fa"/>
<path d="M131.4 6v300" stroke="#c72" class="a"/>
<path d="M130.1 6v300" stroke="#8b8"/>
<path d="M128.8 6v300" stroke="#64b" class="a"/>
<path d="M127.5 6v300" stroke="#3aa"/>
<path d="M126.2 6v300" stroke="#5c3"/>
<path d="M124.9 6v300" stroke="#a54"/>
<path d="M123.6 6v300" stroke="#86c" class="a"/>
<path d="M122.3 6v300" stroke="#a19"/>
<path d="M121 6v300" stroke="#8f7" class="a"/>
<path d="M119.7 6v300" stroke="#466"/>
<path d="M118.4 6v300" stroke="#769" class="b"/>
<path d="M117.1 6v300" stroke="#24a"/>
<path d="M115.8 6v300" stroke="#ea7"/>
<path d="M114.5 6v300" stroke="#2c8" class="c"/>
<path d="M113.2 6v300" stroke="#a52"/>
<path d="M111.9 6v300" stroke="#90a"/>
<path d="M110.6 6v300" stroke="#ccc" class="a"/>
<path d="M109.3 6v300" stroke="#29b"/>
<path d="M108 6v300" stroke="#741" class="a"/>
<path d="M106.7 6v300" stroke="#46a"/>
<path d="M105.4 6v300" stroke="#e65"/>
<path d="M104.1 6v300" stroke="#0de" class="a"/>
<path d="M102.8 6v300" stroke="#f02"/>
<path d="M101.5 6v300" stroke="#938"/>
<path d="M100.2 6v300" stroke="#ae1" class="a"/>
<path d="M98.9 6v300" stroke="#193"/>
<path d="M97.6 6v300" stroke="#d1e"/>
<path d="M96.3 6v300" stroke="#477"/>
<path d="M95 6v300" stroke="#a94" class="b"/>
<path d="M93.7 6v300" stroke="#586"/>
<path d="M92.4 6v300" stroke="#a63" class="a"/>
<path d="M91.1 6v300" stroke="#09b"/>
<path d="M89.8 6v300" stroke="#d64" class="b"/>
<path d="M88.5 6v300" stroke="#6ef"/>
<path d="M87.2 6v300" stroke="#81c" class="a"/>
<path d="M85.9 6v300" stroke="#7c1"/>
<path d="M84.6 6v300" stroke="#28a"/>
<path d="M83.3 6v300" stroke="#1c1" class="a"/>
<path d="M82 6v300" stroke="#b4f"/>
<path d="M80.7 6v300" stroke="#a63" class="a"/>
<path d="M79.4 6v300" stroke="#592"/>
<path d="M78.1 6v300" stroke="#668"/>
<path d="M76.8 6v300" stroke="#d4d"/>
<path d="M75.5 6v300" stroke="#aa7" class="a"/>
<path d="M74.2 6v300" stroke="#548"/>
<path d="M72.9 6v300" stroke="#c33" class="a"/>
<path d="M71.6 6v300" stroke="#0fa"/>
<path d="M70.3 6v300" stroke="#f4e"/>
<path d="M69 6v300" stroke="#393" class="c"/>
<path d="M67.7 6v300" stroke="#931"/>
<path d="M66.4 6v300" stroke="#4ca" class="a"/>
<path d="M65.1 6v300" stroke="#c3d"/>
<path d="M287.2 310.6c-1.3-2.5-2.8-5-4.3-7.4s-3.3-5-3.3-7.5s1.8-5 3.3-7.4s3-5 4.3-7.5s2.2-5 2.9-7.4s1.1-5 1.1-7.5s-.4-5-1.1-7.4s-1.7-5-2.9-7.5s-2.8-5-4.3-7.4s-3.3-5-3.3-7.5s1.8-5 3.3-7.4s3-5 4.3-7.5s2.2-5 2.9-7.4s1.1-5 1.1-7.5s-.4-5-1.1-7.4s-1.7-5-2.9-7.5s-2.8-5-4.3-7.4s-3.3-5-3.3-7.5s1.8-5 3.3-7.4s3-5 4.3-7.5s2.2-5 2.9-7.4s1.1-5 1.1-7.5s-.4-5-1.1-7.4s-1.7-5-2.9-7.5s-2.8-5-4.3-7.4s-3.3-5-3.3-7.5s1.8-5 3.3-7.4s3-5 4.3-7.5s2.2-5 2.9-7.4s1.1-5 1.1-7.5s-.4-5-1.1-7.4s-1.7-5-2.9-7.5s-2.8-5-4.3-7.4s-3.3-5-3.3-7.5s1.8-5 3.3-7.4s3-5 4.3-7.5s2.2-5 2.9-7.4s1.1-5 1.1-7.5s-.4-5-1.1-7.4s-1.7-5-2.9-7.5s-2.8-5-4.3-7.4" stroke="#54c"/>
<path d="M287.5 310.6c-1.2-2.5-2.6-5-3.9-7.4s-2.7-5-2.7-7.5s1.3-5 2.7-7.4s2.7-5 3.9-7.5s2.2-5 2.8-7.4s1.1-5 1.1-7.5s-.4-5-1.1-7.4s-1.6-5-2.8-7.5s-2.6-5-3.9-7.4s-2.7-5-2.7-7.5s1.3-5 2.7-7.4s2.7-5 3.9-7.5s2.2-5 2.8-7.4s1.1-5 1.1-7.5s-.4-5-1.1-7.4s-1.6-5-2.8-7.5s-2.6-5-3.9-7.4s-2.7-5-2.7-7.5s1.3-5 2.7-7.4s2.7-5 3.9-7.5s2.2-5 2.8-7.4s1.1-5 1.1-7.5s-.4-5-1.1-7.4s-1.6-5-2.8-7.5s-2.6-5-3.9-7.4s-2.7-5-2.7-7.5s1.3-5 2.7-7.4s2.7-5 3.9-7.5s2.2-5 2.8-7.4s1.1-5 1.1-7.5s-.4-5-1.1-7.4s-1.6-5-2.8-7.5s-2.6-5-3.9-7.4s-2.7-5-2.7-7.5s1.3-5 2.7-7.4s2.7-5 3.9-7.5s2.2-5 2.8-7.4s1.1-5 1.1-7.5s-.4-5-1.1-7.4s-1.6-5-2.8-7.5s-2.6-5-3.9-7.4" stroke="#fb9"/>
<path d="M288 310.6c-2.3-5-5.8-9.9-5.8-14.9s3.5-9.9 5.8-14.9s3.6-9.9 3.6-14.9s-1.4-9.9-3.6-14.9s-5.8-9.9-5.8-14.9s3.5-9.9 5.8-14.9s3.6-9.9 3.6-14.9s-1.4-9.9-3.6-14.9s-5.8-9.9-5.8-14.9s3.5-9.9 5.8-14.9s3.6-9.9 3.6-14.9s-1.4-9.9-3.6-14.9s-5.8-9.9-5.8-14.9s3.5-9.9 5.8-14.9s3.6-9.9 3.6-14.9s-1.4-9.9-3.6-14.9s-5.8-9.9-5.8-14.9s3.5-9.9 5.8-14.9s3.6-9.9 3.6-14.9s-1.4-9.9-3.6-14.9s-5.8-9.9-5.8-14.9" stroke="#717" class="a"/>
<path d="M288.5 310.6c-2-5-5-9.9-5-14.9s3-9.9 5-14.9s3.5-9.9 3.5-14.9s-1.4-9.9-3.5-14.9s-5-9.9-5-14.9s3-9.9 5-14.9s3.5-9.9 3.5-14.9s-1.4-9.9-3.5-14.9s-5-9.9-5-14.9s3-9.9 5-14.9s3.5-9.9 3.5-14.9s-1.4-9.9-3.5-14.9s-5-9.9-5-14.9s3-9.9 5-14.9s3.5-9.9 3.5-14.9s-1.4-9.9-3.5-14.9s-5-9.9-5-14.9s3-9.9 5-14.9s3.5-9.9 3.5-14.9s-1.4-9.9-3.5-14.9s-5-9.9-5-14.9" stroke="#895"/>
<path d="M289.2 310.6c-1.9-5-4.4-9.9-4.4-14.9s2.5-9.9 4.4-14.9s3.2-9.9 3.2-14.9s-1.3-9.9-3.2-14.9s-4.4-9.9-4.4-14.9s2.5-9.9 4.4-14.9s3.2-9.9 3.2-14.9s-1.3-9.9-3.2-14.9s-4.4-9.9-4.4-14.9s2.5-9.9 4.4-14.9s3.2-9.9 3.2-14.9s-1.3-9.9-3.2-14.9s-4.4-9.9-4.4-14.9s2.5-9.9 4.4-14.9s3.2-9.9 3.2-14.9s-1.3-9.9-3.2-14.9s-4.4-9.9-4.4-14.9s2.5-9.9 4.4-14.9s3.2-9.9 3.2-14.9s-1.3-9.9-3.2-14.9s-4.4-9.9-4.4-14.9" stroke="#52d"/>
<path d="M289.9 310.6c-1.7-5-3.8-9.9-3.8-14.9s2.1-9.9 3.8-14.9s3-9.9 3-14.9s-1.2-9.9-3-14.9s-3.8-9.9-3.8-14.9s2.1-9.9 3.8-14.9s3-9.9 3-14.9s-1.2-9.9-3-14.9s-3.8-9.9-3.8-14.9s2.1-9.9 3.8-14.9s3-9.9 3-14.9s-1.2-9.9-3-14.9s-3.8-9.9-3.8-14.9s2.1-9.9 3.8-14.9s3-9.9 3-14.9s-1.2-9.9-3-14.9s-3.8-9.9-3.8-14.9s2.1-9.9 3.8-14.9s3-9.9 3-14.9s-1.2-9.9-3-14.9s-3.8-9.9-3.8-14.9" stroke="#ad3"/>
<path d="M290.8 310.6c-1.6-5-3.4-9.9-3.4-14.9s1.8-9.9 3.4-14.9s2.7-9.9 2.7-14.9s-1.2-9.9-2.7-14.9s-3.4-9.9-3.4-14.9s1.8-9.9 3.4-14.9s2.7-9.9 2.7-14.9s-1.2-9.9-2.7-14.9s-3.4-9.9-3.4-14.9s1.8-9.9 3.4-14.9s2.7-9.9 2.7-14.9s-1.2-9.9-2.7-14.9s-3.4-9.9-3.4-14.9s1.8-9.9 3.4-14.9s2.7-9.9 2.7-14.9s-1.2-9.9-2.7-14.9s-3.4-9.9-3.4-14.9s1.8-9.9 3.4-14.9s2.7-9.9 2.7-14.9s-1.2-9.9-2.7-14.9s-3.4-9.9-3.4-14.9" stroke="#a75"/>
<path d="M291.6 310.6c-1.3-5-2.9-9.9-2.9-14.9s1.6-9.9 2.9-14.9s2.5-9.9 2.5-14.9s-1.1-9.9-2.5-14.9s-2.9-9.9-2.9-14.9s1.6-9.9 2.9-14.9s2.5-9.9 2.5-14.9s-1.1-9.9-2.5-14.9s-2.9-9.9-2.9-14.9s1.6-9.9 2.9-14.9s2.5-9.9 2.5-14.9s-1.1-9.9-2.5-14.9s-2.9-9.9-2.9-14.9s1.6-9.9 2.9-14.9s2.5-9.9 2.5-14.9s-1.1-9.9-2.5-14.9s-2.9-9.9-2.9-14.9s1.6-9.9 2.9-14.9s2.5-9.9 2.5-14.9s-1.1-9.9-2.5-14.9s-2.9-9.9-2.9-14.9" stroke="#37a"/>
<path d="M294.8 325.5c0-9.9-4.8-19.9-4.8-29.8s4.8-19.9 4.8-29.8s-4.8-19.9-4.8-29.8s4.8-19.9 4.8-29.8s-4.8-19.9-4.8-29.8s4.8-19.9 4.8-29.8s-4.8-19.9-4.8-29.8s4.8-19.9 4.8-29.8s-4.8-19.9-4.8-29.8s4.8-19.9 4.8-29.8s-4.8-19.9-4.8-29.8" stroke="#038" class="a"/>
<path d="M295.5 325.5c0-9.9-4.2-19.9-4.2-29.8s4.2-19.9 4.2-29.8s-4.2-19.9-4.2-29.8s4.2-19.9 4.2-29.8s-4.2-19.9-4.2-29.8s4.2-19.9 4.2-29.8s-4.2-19.9-4.2-29.8s4.2-19.9 4.2-29.8s-4.2-19.9-4.2-29.8s4.2-19.9 4.2-29.8s-4.2-19.9-4.2-29.8" stroke="#9f5"/>
<path d="M296.3 325.5c0-9.9-3.7-19.9-3.7-29.8s3.7-19.9 3.7-29.8s-3.7-19.9-3.7-29.8s3.7-19.9 3.7-29.8s-3.7-19.9-3.7-29.8s3.7-19.9 3.7-29.8s-3.7-19.9-3.7-29.8s3.7-19.9 3.7-29.8s-3.7-19.9-3.7-29.8s3.7-19.9 3.7-29.8s-3.7-19.9-3.7-29.8" stroke="#d4a"/>
<path d="M297.1 325.5c0-9.9-3.2-19.9-3.2-29.8s3.2-19.9 3.2-29.8s-3.2-19.9-3.2-29.8s3.2-19.9 3.2-29.8s-3.2-19.9-3.2-29.8s3.2-19.9 3.2-29.8s-3.2-19.9-3.2-29.8s3.2-19.9 3.2-29.8s-3.2-19.9-3.2-29.8s3.2-19.9 3.2-29.8s-3.2-19.9-3.2-29.8" stroke="#979"/>
<path d="M298 325.5c0-9.9-2.8-19.9-2.8-29.8s2.8-19.9 2.8-29.8s-2.8-19.9-2.8-29.8s2.8-19.9 2.8-29.8s-2.8-19.9-2.8-29.8s2.8-19.9 2.8-29.8s-2.8-19.9-2.8-29.8s2.8-19.9 2.8-29.8s-2.8-19.9-2.8-29.8s2.8-19.9 2.8-29.8s-2.8-19.9-2.8-29.8" stroke="#a93" class="c"/>
<path d="M298.9 325.5c0-9.9-2.4-19.9-2.4-29.8s2.4-19.9 2.4-29.8s-2.4-19.9-2.4-29.8s2.4-19.9 2.4-29.8s-2.4-19.9-2.4-29.8s2.4-19.9 2.4-29.8s-2.4-19.9-2.4-29.8s2.4-19.9 2.4-29.8s-2.4-19.9-2.4-29.8s2.4-19.9 2.4-29.8s-2.4-19.9-2.4-29.8" stroke="#a6d"/>
<path d="M299.9 325.5c0-9.9-2.1-19.9-2.1-29.8s2.1-19.9 2.1-29.8s-2.1-19.9-2.1-29.8s2.1-19.9 2.1-29.8s-2.1-19.9-2.1-29.8s2.1-19.9 2.1-29.8s-2.1-19.9-2.1-29.8s2.1-19.9 2.1-29.8s-2.1-19.9-2.1-29.8s2.1-19.9 2.1-29.8s-2.1-19.9-2.1-29.8" stroke="#098"/>
<path d="M300.9 325.5c0-9.9-1.8-19.9-1.8-29.8s1.8-19.9 1.8-29.8s-1.8-19.9-1.8-29.8s1.8-19.9 1.8-29.8s-1.8-19.9-1.8-29.8s1.8-19.9 1.8-29.8s-1.8-19.9-1.8-29.8s1.8-19.9 1.8-29.8s-1.8-19.9-1.8-29.8s1.8-19.9 1.8-29.8s-1.8-19.9-1.8-29.8" stroke="#92a" class="a"/>
<path d="M302 325.5c0-9.9-1.6-19.9-1.6-29.8s1.6-19.9 1.6-29.8s-1.6-19.9-1.6-29.8s1.6-19.9 1.6-29.8s-1.6-19.9-1.6-29.8s1.6-19.9 1.6-29.8s-1.6-19.9-1.6-29.8s1.6-19.9 1.6-29.8s-1.6-19.9-1.6-29.8s1.6-19.9 1.6-29.8s-1.6-19.9-1.6-29.8" stroke="#f80"/>
<path d="M303 325.5c0-9.9-1.3-19.9-1.3-29.8s1.3-19.9 1.3-29.8s-1.3-19.9-1.3-29.8s1.3-19.9 1.3-29.8s-1.3-19.9-1.3-29.8s1.3-19.9 1.3-29.8s-1.3-19.9-1.3-29.8s1.3-19.9 1.3-29.8s-1.3-19.9-1.3-29.8s1.3-19.9 1.3-29.8s-1.3-19.9-1.3-29.8" stroke="#3af"/>
<path d="M304.1 325.5c0-9.9-1.1-19.9-1.1-29.8s1.1-19.9 1.1-29.8s-1.1-19.9-1.1-29.8s1.1-19.9 1.1-29.8s-1.1-19.9-1.1-29.8s1.1-19.9 1.1-29.8s-1.1-19.9-1.1-29.8s1.1-19.9 1.1-29.8s-1.1-19.9-1.1-29.8s1.1-19.9 1.1-29.8s-1.1-19.9-1.1-29.8" stroke="#653"/>
<path d="M305.3 325.5c0-9.9-1-19.9-1-29.8s1-19.9 1-29.8s-1-19.9-1-29.8s1-19.9 1-29.8s-1-19.9-1-29.8s1-19.9 1-29.8s-1-19.9-1-29.8s1-19.9 1-29.8s-1-19.9-1-29.8s1-19.9 1-29.8s-1-19.9-1-29.8" stroke="#859"/>
<path d="M306.4 325.5c0-9.9-.8-19.9-.8-29.8s.8-19.9 .8-29.8s-.8-19.9-.8-29.8s.8-19.9 .8-29.8s-.8-19.9-.8-29.8s.8-19.9 .8-29.8s-.8-19.9-.8-29.8s.8-19.9 .8-29.8s-.8-19.9-.8-29.8s.8-19.9 .8-29.8s-.8-19.9-.8-29.8" stroke="#d78" class="b"/>
<path d="M307.6 325.5c0-9.9-.7-19.9-.7-29.8s.7-19.9 .7-29.8s-.7-19.9-.7-29.8s.7-19.9 .7-29.8s-.7-19.9-.7-29.8s.7-19.9 .7-29.8s-.7-19.9-.7-29.8s.7-19.9 .7-29.8s-.7-19.9-.7-29.8s.7-19.9 .7-29.8s-.7-19.9-.7-29.8" stroke="#49a"/>
<path d="M308.8 325.5c0-9.9-.6-19.9-.6-29.8s.6-19.9 .6-29.8s-.6-19.9-.6-29.8s.6-19.9 .6-29.8s-.6-19.9-.6-29.8s.6-19.9 .6-29.8s-.6-19.9-.6-29.8s.6-19.9 .6-29.8s-.6-19.9-.6-29.8s.6-19.9 .6-29.8s-.6-19.9-.6-29.8" stroke="#391" class="a"/>
<path d="M310 325.5c0-9.9-.5-19.9-.5-29.8s.5-19.9 .5-29.8s-.5-19.9-.5-29.8s.5-19.9 .5-29.8s-.5-19.9-.5-29.8s.5-19.9 .5-29.8s-.5-19.9-.5-29.8s.5-19.9 .5-29.8s-.5-19.9-.5-29.8s.5-19.9 .5-29.8s-.5-19.9-.5-29.8" stroke="#c46"/>
<path d="M311.2 325.5c0-9.9-.4-19.9-.4-29.8s.4-19.9 .4-29.8s-.4-19.9-.4-29.8s.4-19.9 .4-29.8s-.4-19.9-.4-29.8s.4-19.9 .4-29.8s-.4-19.9-.4-29.8s.4-19.9 .4-29.8s-.4-19.9-.4-29.8s.4-19.9 .4-29.8s-.4-19.9-.4-29.8" stroke="#8ae"/>
<path d="M312.4 325.5c0-9.9-.3-19.9-.3-29.8s.3-19.9 .3-29.8s-.3-19.9-.3-29.8s.3-19.9 .3-29.8s-.3-19.9-.3-29.8s.3-19.9 .3-29.8s-.3-19.9-.3-29.8s.3-19.9 .3-29.8s-.3-19.9-.3-29.8s.3-19.9 .3-29.8s-.3-19.9-.3-29.8" stroke="#c16" class="b"/>
<path d="M313.5 6v300" stroke="#694"/>
<path d="M314.7 6v300" stroke="#499" class="a"/>
<path d="M316 6v300" stroke="#6cf"/>
<path d="M317.3 6v300" stroke="#c12" class="c"/>
<path d="M318.6 6v300" stroke="#e58"/>
<path d="M319.9 6v300" stroke="#2b1"/>
<path d="M321.2 6v300" stroke="#6ff"/>
<path d="M322.5 6v300" stroke="#411"/>
<path d="M323.8 6v300" stroke="#b59"/>
<path d="M325.1 6v300" stroke="#2a6" class="b"/>
<path d="M326.4 6v300" stroke="#8ed"/>
<path d="M327.7 6v300" stroke="#4aa"/>
<path d="M329 6v300" stroke="#c13"/>
<path d="M330.3 6v300" stroke="#830"/>
<path d="M331.6 6v300" stroke="#19c" class="a"/>
<path d="M332.9 6v300" stroke="#5fb"/>
<path d="M334.2 6v300" stroke="#7ab" class="c"/>
<path d="M335.5 6v300" stroke="#d50"/>
<path d="M336.8 6v300" stroke="#84c" class="b"/>
<path d="M338.1 6v300" stroke="#79c"/>
<path d="M339.4 6v300" stroke="#18a" class="a"/>
<path d="M340.7 6v300" stroke="#6c4"/>
<path d="M342 6v300" stroke="#c6e" class="c"/>
<path d="M343.3 6v300" stroke="#348"/>
<path d="M344.6 6v300" stroke="#cba" class="b"/>
<path d="M345.9 6v300" stroke="#0e0"/>
<path d="M347.2 6v300" stroke="#d55" class="a"/>
<path d="M348.5 6v300" stroke="#535"/>
<path d="M349.8 6v300" stroke="#f9e" class="b"/>
<path d="M351.1 6v300" stroke="#495"/>
<path d="M352.4 6v300" stroke="#3ba"/>
<path d="M353.7 6v300" stroke="#641" class="a"/>
<path d="M355 6v300" stroke="#db4"/>
<path d="M356.3 6v300" stroke="#62b"/>
<path d="M357.6 6v300" stroke="#1fb" class="c"/>
<path d="M358.9 6v300" stroke="#573"/>
<path d="M360.2 6v300" stroke="#f9b" class="a"/>
<path d="M361.5 6v300" stroke="#621"/>
<path d="M362.8 6v300" stroke="#7f9" class="a"/>
<path d="M364.1 6v300" stroke="#647"/>
<path d="M365.4 6v300" stroke="#6a9"/>
<path d="M366.7 6v300" stroke="#c15" class="c"/>
<path d="M368 6v300" stroke="#5ad"/>
<path d="M369.3 6v300" stroke="#7a4"/>
<path d="M370.6 6v300" stroke="#47c"/>
<path d="M371.9 6v300" stroke="#850"/>
<path d="M373.2 6v300" stroke="#c4c"/>
<path d="M374.5 6v300" stroke="#692" class="a"/>
<path d="M375.8 6v300" stroke="#64c"/>
<path d="M377.1 6v300" stroke="#6d5"/>
<path d="M378.4 6v300" stroke="#43a"/>
<path d="M379.7 6v300" stroke="#db2"/>
<path d="M381 6v300" stroke="#93a" class="a"/>
<path d="M382.3 6v300" stroke="#4e7"/>
<path d="M383.6 6v300" stroke="#33b" class="b"/>
<path d="M384.9 6v300" stroke="#e50"/>
<path d="M386.2 6v300" stroke="#78b" class="c"/>
<path d="M387.5 6v300" stroke="#3eb"/>
<path d="M388.8 6v300" stroke="#d12"/>
<path d="M390.1 6v300" stroke="#466"/>
<path d="M391.4 6v300" stroke="#58e" class="a"/>
<path d="M392.7 6v300" stroke="#ae6"/>
<path d="M394 6v300" stroke="#932"/>
<path d="M395.3 6v300" stroke="#97f"/>
<path d="M396.6 6v300" stroke="#087" class="a"/>
<path d="M397.9 6v300" stroke="#bf3"/>
<path d="M399.2 6v300" stroke="#914"/>
<path d="M400.5 6v300" stroke="#c0e"/>
<path d="M401.8 6v300" stroke="#054" class="a"/>
<path d="M403.1 6v300" stroke="#d8f"/>
<path d="M404.4 6v300" stroke="#7a2" class="a"/>
<path d="M264.5 310.6c1.6-2.5 3.5-5 5.7-7.4s5.9-5 5.9-7.5s-3.8-5-5.9-7.4s-4.1-5-5.7-7.5s-3-5-3.9-7.4s-1.3-5-1.3-7.5s.4-5 1.3-7.4s2.2-5 3.9-7.5s3.5-5 5.7-7.4s5.9-5 5.9-7.5s-3.8-5-5.9-7.4s-4.1-5-5.7-7.5s-3-5-3.9-7.4s-1.3-5-1.3-7.5s.4-5 1.3-7.4s2.2-5 3.9-7.5s3.5-5 5.7-7.4s5.9-5 5.9-7.5s-3.8-5-5.9-7.4s-4.1-5-5.7-7.5s-3-5-3.9-7.4s-1.3-5-1.3-7.5s.4-5 1.3-7.4s2.2-5 3.9-7.5s3.5-5 5.7-7.4s5.9-5 5.9-7.5s-3.8-5-5.9-7.4s-4.1-5-5.7-7.5s-3-5-3.9-7.4s-1.3-5-1.3-7.5s.4-5 1.3-7.4s2.2-5 3.9-7.5s3.5-5 5.7-7.4s5.9-5 5.9-7.5s-3.8-5-5.9-7.4s-4.1-5-5.7-7.5s-3-5-3.9-7.4s-1.3-5-1.3-7.5s.4-5 1.3-7.4s2.2-5 3.9-7.5s3.5-5 5.7-7.4" stroke="#2a9058" stroke-width="3.8"/>
<path d="M264.5 310.6c1.6-2.5 3.5-5 5.7-7.4s5.9-5 5.9-7.5s-3.8-5-5.9-7.4s-4.1-5-5.7-7.5s-3-5-3.9-7.4s-1.3-5-1.3-7.5s.4-5 1.3-7.4s2.2-5 3.9-7.5s3.5-5 5.7-7.4s5.9-5 5.9-7.5s-3.8-5-5.9-7.4s-4.1-5-5.7-7.5s-3-5-3.9-7.4s-1.3-5-1.3-7.5s.4-5 1.3-7.4s2.2-5 3.9-7.5s3.5-5 5.7-7.4s5.9-5 5.9-7.5s-3.8-5-5.9-7.4s-4.1-5-5.7-7.5s-3-5-3.9-7.4s-1.3-5-1.3-7.5s.4-5 1.3-7.4s2.2-5 3.9-7.5s3.5-5 5.7-7.4s5.9-5 5.9-7.5s-3.8-5-5.9-7.4s-4.1-5-5.7-7.5s-3-5-3.9-7.4s-1.3-5-1.3-7.5s.4-5 1.3-7.4s2.2-5 3.9-7.5s3.5-5 5.7-7.4s5.9-5 5.9-7.5s-3.8-5-5.9-7.4s-4.1-5-5.7-7.5s-3-5-3.9-7.4s-1.3-5-1.3-7.5s.4-5 1.3-7.4s2.2-5 3.9-7.5s3.5-5 5.7-7.4" stroke="#4c7" class="b" stroke-width="1.4"/>
<path d="M286.5 310.6c-1.2-2.5-2.7-5-4.3-7.4s-4.3-5-4.3-7.5s2.7-5 4.3-7.4s3.1-5 4.3-7.5s2.2-5 2.9-7.4s1-5 1-7.5s-.3-5-1-7.4s-1.6-5-2.9-7.5s-2.7-5-4.3-7.4s-4.3-5-4.3-7.5s2.7-5 4.3-7.4s3.1-5 4.3-7.5s2.2-5 2.9-7.4s1-5 1-7.5s-.3-5-1-7.4s-1.6-5-2.9-7.5s-2.7-5-4.3-7.4s-4.3-5-4.3-7.5s2.7-5 4.3-7.4s3.1-5 4.3-7.5s2.2-5 2.9-7.4s1-5 1-7.5s-.3-5-1-7.4s-1.6-5-2.9-7.5s-2.7-5-4.3-7.4s-4.3-5-4.3-7.5s2.7-5 4.3-7.4s3.1-5 4.3-7.5s2.2-5 2.9-7.4s1-5 1-7.5s-.3-5-1-7.4s-1.6-5-2.9-7.5s-2.7-5-4.3-7.4s-4.3-5-4.3-7.5s2.7-5 4.3-7.4s3.1-5 4.3-7.5s2.2-5 2.9-7.4s1-5 1-7.5s-.3-5-1-7.4s-1.6-5-2.9-7.5s-2.7-5-4.3-7.4" stroke="#2a9058" stroke-width="2.4"/>
<path d="M286.5 310.6c-1.2-2.5-2.7-5-4.3-7.4s-4.3-5-4.3-7.5s2.7-5 4.3-7.4s3.1-5 4.3-7.5s2.2-5 2.9-7.4s1-5 1-7.5s-.3-5-1-7.4s-1.6-5-2.9-7.5s-2.7-5-4.3-7.4s-4.3-5-4.3-7.5s2.7-5 4.3-7.4s3.1-5 4.3-7.5s2.2-5 2.9-7.4s1-5 1-7.5s-.3-5-1-7.4s-1.6-5-2.9-7.5s-2.7-5-4.3-7.4s-4.3-5-4.3-7.5s2.7-5 4.3-7.4s3.1-5 4.3-7.5s2.2-5 2.9-7.4s1-5 1-7.5s-.3-5-1-7.4s-1.6-5-2.9-7.5s-2.7-5-4.3-7.4s-4.3-5-4.3-7.5s2.7-5 4.3-7.4s3.1-5 4.3-7.5s2.2-5 2.9-7.4s1-5 1-7.5s-.3-5-1-7.4s-1.6-5-2.9-7.5s-2.7-5-4.3-7.4s-4.3-5-4.3-7.5s2.7-5 4.3-7.4s3.1-5 4.3-7.5s2.2-5 2.9-7.4s1-5 1-7.5s-.3-5-1-7.4s-1.6-5-2.9-7.5s-2.7-5-4.3-7.4" stroke="#4c7" class="b" stroke-width="1.4"/>
<path d="M77 7V305" stroke="#c4b" stroke-width="1.8"/>
<path d="M391.8 7V305" stroke="#e3f" stroke-width="2.2"/>
<path d="M76 247.6 83.9 247.4 91.8 247.2 99.8 246.9 107.7 246.6 115.6 246.3 123.5 245.9 131.4 245.5 139.4 245 147.3 244.4 155.2 243.9 163.1 243.2 171 242.5 179 241.8 186.9 241 194.8 240.1 202.7 239.2 210.6 238.1 218.6 237 226.5 235.9 234.4 234.6 242.3 233.2 250.2 231.7 258.2 230 266.1 228.3 274 226.3 281.9 224.2 289.8 222 297.8 219.5 305.7 216.7 313.6 213.7 321.5 210.4 329.4 206.8 337.4 202.7 345.3 198.2 353.2 193.1 361.1 187.3 369 180.8 377 173.3 384.9 164.6 392.8 154.4" fill="none" stroke="#8fa528" stroke-width="5.2" stroke-linejoin="round"/>
<path d="M238.2 305V7" stroke="#f00" stroke-width="3.4" stroke-dasharray="13 12.3" />
<path d="M277.6 305V7" stroke="#00f" stroke-width="3.4" stroke-dasharray="13 12.3" />
</g>
<g clip-path="url(#cr0)" fill="none" stroke-width="2.6">
<rect x="528.5" y="7.0" width="316.8" height="298.0" fill="#fff"/>
<g transform="translate(686.9,156.0)">
<ellipse rx="188.9" ry="177.7" stroke="#777" stroke-width="76"/>
<ellipse rx="90.5" ry="85.1" fill="#777" stroke="none"/>
<path d="M84.4-73.9c-4-4.2-7.9-8.6-12-13.1s-8.3-9.1-12.9-13.7s-9.5-9.3-15.1-13.7s-11.3-9.9-18.3-11.2s-14.5 1.5-21.4 3.3s-13.4 3.9-19.7 6s-12.4 4.4-18.3 6.6s-11.8 4.4-17.6 6.7s-11.7 4.7-17.6 7.3s-11.8 5.4-17.7 8.5s-11.8 6.8-17.5 10.8s-11.7 8.4-15.2 14.2s-4.2 13-5.1 19.6s-1.3 13.1-1.4 19.5s0 12.7 .4 18.9s1 12.2 1.8 18.3s1.7 12.1 2.9 18.2s2.6 12.2 4.4 18.4s3.8 12.4 6.4 18.6s5.1 12.9 9.9 17.8s11.9 7.7 18.4 10.4s13.1 4.8 19.7 6.6s13 3.1 19.4 4.3s12.7 2.2 18.9 3.1s12.5 1.8 18.8 2.6s12.8 1.6 19.4 2.2s13.6 1.2 20.7 1.4s15.2 1.1 21.6-1.7s10.8-9.4 15-14.9s7.9-11.1 11.2-16.7s6.2-11 9-16.3s5.5-10.4 8.3-15.4s5.7-10 8.8-15.1s6.2-10.2 9.4-15.7s6.5-11.3 9.5-17.5s7.4-13.2 6.5-19.8s-6.9-12.4-11.4-17.8s-9.1-10.3-13.6-14.9s-9-8.9-13.3-13.1s-8.3-8.4-12.3-12.7z" stroke="#6c8" class="c"/>
<path d="M84.4-73.8c-4-4.3-8-8.6-12-13.1s-8.3-9.1-12.9-13.7s-9.6-9.3-15.1-13.7s-11.5-9.3-18.4-10.6s-14.4 1.1-21.3 2.8s-13.4 3.8-19.7 5.9s-12.3 4.3-18.3 6.6s-11.7 4.4-17.6 6.7s-11.6 4.7-17.5 7.2s-11.8 5.4-17.7 8.6s-11.8 6.8-17.4 10.9s-11.3 8.6-14.7 14.4s-4.6 12.7-5.6 19.3s-1.4 13.1-1.5 19.4s0 12.7 .4 18.9s1 12.2 1.8 18.3s1.7 12.1 2.9 18.2s2.6 12.2 4.4 18.3s3.9 12.4 6.5 18.6s5.4 12.6 10.3 17.5s11.5 7.9 18 10.6s13 4.9 19.6 6.7s13 3.2 19.3 4.3s12.7 2.2 18.9 3.2s12.5 1.7 18.8 2.5s12.8 1.6 19.4 2.2s13.5 1.2 20.7 1.3s14.9 .7 21.3-2.1s11-9 15.2-14.4s7.9-11.1 11.2-16.7s6.2-10.9 9-16.2s5.6-10.4 8.4-15.4s5.6-10 8.7-15.1s6.2-10.2 9.4-15.7s6.5-11.3 9.4-17.5s6.8-13.1 6-19.8s-6.4-12.4-10.8-17.8s-9.1-10.3-13.6-14.9s-9-8.9-13.2-13.1s-8.3-8.4-12.3-12.6z" stroke="#3a4"/>
<path d="M84.3-73.8c-4-4.2-7.9-8.6-12-13s-8.3-9.1-12.9-13.7s-9.6-9.3-15.1-13.6s-11.6-8.8-18.5-10.1s-14.3 .7-21.1 2.3s-13.4 3.7-19.7 5.9s-12.3 4.3-18.2 6.5s-11.8 4.4-17.6 6.7s-11.7 4.7-17.5 7.2s-11.8 5.5-17.7 8.6s-11.7 6.8-17.2 11s-11 8.7-14.4 14.5s-4.8 12.5-5.8 19.1s-1.5 13-1.7 19.4s0 12.6 .4 18.8s.9 12.2 1.7 18.3s1.8 12.1 3 18.1s2.6 12.2 4.4 18.4s3.9 12.3 6.5 18.4s5.8 12.3 10.6 17.2s11.2 8.1 17.6 10.9s13 5 19.5 6.7s13 3.2 19.4 4.4s12.6 2.2 18.8 3.1s12.5 1.8 18.8 2.6s12.8 1.6 19.4 2.2s13.5 1.1 20.6 1.2s14.7 .2 21.1-2.6s11.1-8.5 15.4-13.9s7.9-11 11.2-16.5s6.2-11 9.1-16.3s5.5-10.3 8.3-15.4s5.7-9.9 8.7-15s6.2-10.2 9.4-15.7s6.5-11.3 9.3-17.6s6.3-13 5.4-19.6s-5.9-12.4-10.2-17.8s-9-10.3-13.5-14.9s-8.9-8.9-13.2-13.1s-8.3-8.4-12.3-12.7z" stroke="#8c3"/>
<path d="M84.2-73.7c-8-8.5-15.7-17.5-24.9-26.7s-19.9-20.6-33.6-23.1s-28.1 3.5-40.7 7.6s-24.1 8.6-35.8 13.2s-23.4 9.5-35 15.9s-24.3 14.1-31.1 25.7s-7.6 25.4-8 38.1s.5 24.9 2.1 37s3.8 24.2 7.4 36.5s7.9 25.6 17.5 35.2s23.7 14.4 36.6 18s25.7 5.7 38.2 7.5s24.8 3.5 38.1 4.7s28.7 3.8 41.4-1.8s20.2-19 26.8-30s11.8-21.5 17.4-31.5s11.7-19.8 18.1-30.8s15.8-23.9 14.1-37s-14.2-23.5-23.2-32.7s-17.4-17.3-25.4-25.8z" stroke="#8c3" class="a"/>
<path d="M84.1-73.6c-8-8.5-15.7-17.5-24.9-26.6s-20-20.1-33.7-22.6s-27.9 3-40.5 7.1s-24.1 8.6-35.7 13.2s-23.4 9.4-35 15.9s-23.8 14.4-30.6 25.8s-7.9 25.2-8.3 37.9s.4 24.8 2 36.9s3.8 24.1 7.5 36.3s8.2 25.3 17.7 34.9s23.4 14.6 36.3 18.2s25.6 5.8 38 7.6s24.8 3.6 38.1 4.7s28.4 3.3 41.1-2.2s20.4-18.5 27-29.5s11.8-21.4 17.4-31.5s11.7-19.7 18-30.7s15.2-23.9 13.6-36.9s-13.7-23.6-22.6-32.8s-17.4-17.2-25.4-25.7z" stroke="#4b6"/>
<path d="M84-73.5c-8-8.5-15.7-17.5-24.9-26.6s-20.1-19.5-33.7-22s-27.8 2.6-40.3 6.7s-24.1 8.5-35.7 13s-23.3 9.5-34.9 16s-23.4 14.6-30.1 25.9s-8.2 25-8.7 37.6s.4 24.8 2 36.9s3.8 24.1 7.5 36.2s8.5 25 17.9 34.6s23.1 14.7 35.9 18.4s25.5 5.8 37.9 7.7s24.8 3.5 38 4.6s28.3 2.8 40.9-2.7s20.5-18.1 27.1-29s11.8-21.3 17.4-31.3s11.7-19.8 18-30.7s14.7-23.9 13-36.8s-13.1-23.6-22-32.8s-17.3-17.2-25.3-25.7z" stroke="#4b6"/>
<path d="M83.9-73.4c-8-8.4-15.7-17.4-24.9-26.4s-20.2-19.1-33.7-21.6s-27.7 2.2-40.2 6.3s-24 8.4-35.6 12.9s-23.3 9.5-34.7 16s-23.1 14.8-29.8 26.1s-8.3 24.7-8.9 37.3s.3 24.7 1.8 36.8s3.9 24 7.6 36.1s8.8 24.7 18.2 34.2s22.7 14.9 35.5 18.6s25.4 5.9 37.8 7.7s24.7 3.5 37.9 4.6s28.1 2.5 40.6-3s20.6-17.7 27.2-28.5s11.9-21.3 17.5-31.3s11.7-19.7 17.9-30.7s14.1-23.8 12.5-36.6s-12.7-23.6-21.5-32.8s-17.3-17.2-25.2-25.7z" stroke="#93c" class="b"/>
<path d="M83.7-73.3c-7.9-8.4-15.6-17.4-24.8-26.3s-20.3-18.7-33.8-21.1s-27.5 1.9-39.9 5.9s-24 8.3-35.6 12.9s-23.2 9.4-34.6 16s-22.7 14.9-29.3 26.1s-8.6 24.6-9.2 37.1s.2 24.6 1.8 36.6s3.8 24 7.6 36s9 24.5 18.3 33.9s22.5 15 35.2 18.8s25.3 6 37.6 7.8s24.7 3.5 37.9 4.5s27.8 2.1 40.2-3.3s20.8-17.4 27.5-28.1s11.8-21.2 17.4-31.2s11.7-19.7 17.8-30.6s13.7-23.8 12-36.6s-12.2-23.5-21-32.7s-17.1-17.2-25.1-25.7z" stroke="#93c"/>
<path d="M83.6-73.1c-8-8.4-15.7-17.4-24.9-26.2s-20.4-18.3-33.7-20.8s-27.4 1.7-39.8 5.6s-23.9 8.2-35.5 12.8s-23.1 9.5-34.4 16.1s-22.4 15-29 26.2s-8.7 24.3-9.4 36.8s.2 24.5 1.7 36.5s3.9 23.9 7.7 35.8s9.2 24.3 18.5 33.6s22.1 15.1 34.8 19s25.2 6 37.5 7.8s24.6 3.5 37.7 4.5s27.7 1.7 40-3.7s20.8-17 27.5-27.6s11.9-21.2 17.5-31.1s11.6-19.7 17.7-30.6s13.3-23.6 11.6-36.4s-11.9-23.5-20.5-32.7s-17.1-17.2-25-25.6z" stroke="#5a3" class="c"/>
<path d="M83.4-73c-15.9-16.8-32-41.5-58.6-46.4s-52 8.8-74.9 18s-49.8 20-62.9 42.3s-11.1 49.1-8 72.9s7.9 50.4 26.3 69.1s47.2 23.2 71.9 26.9s52.8 11.2 77.3 .5s34-38.4 45.1-58.2s32-41.5 28.8-66.8s-29.2-41.5-45-58.3z" stroke="#5a3"/>
<path d="M83.2-72.8c-15.8-16.7-32.1-41-58.5-45.9s-51.8 8.4-74.7 17.6s-49.3 20.2-62.4 42.3s-11.3 48.8-8.2 72.6s8.1 50 26.5 68.6s46.8 23.4 71.3 27.1s52.6 10.8 77 .2s34.1-37.9 45.1-57.8s31.6-41.4 28.3-66.5s-28.6-41.5-44.4-58.2z" stroke="#ad4" class="b"/>
<path d="M83-72.6c-15.8-16.7-32.2-40.6-58.5-45.4s-51.5 8.1-74.3 17.2s-48.9 20.4-61.9 42.4s-11.6 48.5-8.5 72.1s8.4 49.8 26.6 68.2s46.4 23.6 70.9 27.3s52.3 10.5 76.6-.2s34.2-37.4 45.2-57.2s31-41.3 27.8-66.3s-28.2-41.4-43.9-58.1z" stroke="#a7c"/>
<path d="M82.8-72.4c-15.8-16.7-32.3-40.1-58.4-44.9s-51.3 7.7-74.1 16.8s-48.4 20.5-61.4 42.4s-11.7 48.2-8.7 71.8s8.6 49.4 26.8 67.7s46 23.8 70.4 27.4s52 10.2 76.2-.4s34.2-37 45.2-56.7s30.6-41.3 27.4-66.1s-27.7-41.4-43.4-58z" stroke="#3a7"/>
<path d="M82.5-72.2c-15.7-16.6-32.3-39.7-58.2-44.4s-51.2 7.4-73.8 16.4s-48.1 20.7-60.9 42.5s-11.9 47.8-8.9 71.3s8.8 49.1 26.8 67.4s45.6 23.8 69.9 27.5s51.9 9.8 75.9-.7s34.3-36.6 45.3-56.3s30-41.1 26.8-65.8s-27.2-41.3-42.9-57.9z" stroke="#465" class="a"/>
<path d="M82.3-72c-15.7-16.6-32.4-39.2-58.2-43.9s-50.9 7-73.4 16.1s-47.7 20.8-60.5 42.4s-12 47.6-9 71s8.9 48.8 26.8 66.9s45.3 23.9 69.5 27.6s51.6 9.5 75.4-1s34.4-36.1 45.4-55.7s29.6-41.1 26.4-65.7s-26.8-41.2-42.4-57.7z" stroke="#7be"/>
<path d="M82-71.8c-15.6-16.5-32.4-38.7-58-43.5s-50.7 6.8-73.1 15.8s-47.3 20.9-60 42.4s-12.2 47.3-9.2 70.6s9.1 48.5 26.9 66.5s44.9 24 69 27.7s51.3 9.2 75-1.2s34.4-35.7 45.4-55.3s29.1-41 25.9-65.4s-26.3-41.1-41.9-57.6z" stroke="#a5c" class="a"/>
<path d="M81.8-71.5c-15.6-16.5-32.5-38.4-58-43.1s-50.4 6.5-72.8 15.5s-46.9 21-59.5 42.4s-12.3 47-9.3 70.2s9.2 48.1 26.9 66s44.6 24.1 68.6 27.8s51 8.9 74.6-1.4s34.4-35.4 45.3-54.8s28.7-40.9 25.6-65.2s-25.9-41-41.4-57.4z" stroke="#a85"/>
<path d="M81.5-71.3c-15.5-16.4-32.5-37.9-57.8-42.6s-50.2 6.3-72.5 15.2s-46.5 21.1-59 42.3s-12.5 46.7-9.5 69.8s9.4 47.9 27 65.6s44.1 24.2 68.1 27.9s50.8 8.6 74.2-1.7s34.4-34.9 45.3-54.3s28.3-40.8 25.2-64.9s-25.5-40.9-41-57.3z" stroke="#6b4" class="b"/>
<path d="M81.2-71.1c-15.5-16.3-32.5-37.5-57.7-42.1s-49.9 6-72.1 14.9s-46.1 21.1-58.6 42.3s-12.5 46.4-9.6 69.4s9.5 47.5 27 65.2s43.8 24.1 67.7 27.8s50.5 8.4 73.8-1.8s34.4-34.6 45.3-53.9s27.8-40.6 24.7-64.6s-25-40.8-40.5-57.2z" stroke="#866"/>
<path d="M80.9-70.8c-15.4-16.2-32.4-37.1-57.5-41.7s-49.7 5.7-71.8 14.6s-45.7 21.2-58.1 42.2s-12.7 46.1-9.7 69s9.6 47.2 27 64.8s43.4 24.2 67.2 27.9s50.2 8.1 73.4-2s34.4-34.2 45.2-53.5s27.5-40.5 24.4-64.3s-24.7-40.8-40.1-57z" stroke="#8ac"/>
<path d="M80.6-70.5c-15.4-16.2-32.4-36.8-57.3-41.3s-49.5 5.5-71.4 14.4s-45.5 21.2-57.8 42s-12.7 45.8-9.7 68.6s9.6 46.9 26.9 64.4s43.1 24.2 66.8 27.9s50 7.9 73-2.2s34.4-33.8 45.2-53s27-40.4 24-64.1s-24.3-40.6-39.7-56.7z" stroke="#a0b" class="c"/>
<path d="M80.3-70.3c-15.3-16.1-32.4-36.3-57.2-40.8s-49.2 5.2-71 14.1s-45.1 21.2-57.3 42s-12.8 45.5-9.9 68.2s9.8 46.6 26.9 63.9s42.9 24.2 66.4 27.9s49.7 7.7 72.6-2.3s34.3-33.5 45.1-52.6s26.7-40.2 23.6-63.8s-23.9-40.4-39.2-56.6z" stroke="#8e4"/>
<path d="M80-70c-15.3-16-32.4-35.9-57-40.5s-48.9 5.1-70.7 14s-44.7 21.2-56.9 41.8s-12.8 45.2-9.9 67.8s9.8 46.3 26.9 63.6s42.5 24.2 65.9 27.8s49.4 7.5 72.1-2.4s34.4-33.1 45.1-52.2s26.3-40.1 23.3-63.5s-23.6-40.3-38.8-56.4z" stroke="#3a0" class="c"/>
<path d="M79.6-69.7c-15.1-16-32.3-35.6-56.8-40.1s-48.6 4.9-70.3 13.7s-44.3 21.3-56.4 41.8s-12.9 44.9-10 67.3s9.9 46 26.8 63.2s42.2 24.2 65.5 27.8s49.1 7.3 71.7-2.6s34.3-32.7 45-51.7s26-39.9 22.9-63.2s-23.2-40.2-38.4-56.2z" stroke="#b87"/>
<path d="M79.3-69.4c-15.1-15.9-32.3-35.2-56.6-39.7s-48.4 4.7-70 13.5s-44 21.2-56 41.6s-12.9 44.6-10 67s9.9 45.7 26.8 62.7s41.8 24.2 65 27.8s48.9 7.1 71.3-2.7s34.3-32.4 44.9-51.3s25.6-39.8 22.6-62.9s-22.9-40.1-38-56z" stroke="#881" class="a"/>
<path d="M79-69.1c-15.1-15.9-32.3-34.9-56.5-39.3s-48.1 4.5-69.5 13.2s-43.7 21.3-55.6 41.5s-13 44.4-10.1 66.6s10 45.4 26.7 62.3s41.5 24.2 64.6 27.8s48.6 6.9 70.9-2.8s34.2-32.1 44.8-50.9s25.2-39.7 22.3-62.6s-22.5-40-37.6-55.8z" stroke="#20c"/>
<path d="M78.6-68.8c-15-15.8-32.2-34.5-56.2-38.9s-47.9 4.3-69.2 13s-43.3 21.3-55.2 41.4s-13 44-10.1 66.1s10 45.1 26.7 62s41.1 24.1 64.1 27.7s48.3 6.7 70.5-3s34.2-31.7 44.7-50.4s24.9-39.5 21.9-62.3s-22.1-39.9-37.2-55.6z" stroke="#5fd" class="a"/>
<path d="M78.3-68.5c-15-15.7-32.2-34.1-56-38.5s-47.6 4.1-68.9 12.8s-42.9 21.2-54.7 41.2s-13.1 43.8-10.2 65.8s10.1 44.8 26.6 61.5s40.9 24.1 63.7 27.7s48.1 6.5 70.1-3.1s34.1-31.4 44.6-50s24.5-39.4 21.6-62.1s-21.9-39.6-36.8-55.3z" stroke="#bb8"/>
<path d="M77.9-68.2c-14.9-15.6-32.1-33.8-55.8-38.1s-47.3 3.9-68.4 12.6s-42.7 21.2-54.4 41.1s-13 43.4-10.2 65.3s10.1 44.5 26.6 61.1s40.5 24.1 63.2 27.7s47.8 6.3 69.7-3.2s34-31.1 44.5-49.6s24.2-39.3 21.3-61.8s-21.6-39.5-36.5-55.1z" stroke="#b82"/>
<path d="M77.6-67.9c-14.8-15.5-32.1-33.4-55.6-37.8s-47.1 3.8-68.1 12.4s-42.3 21.3-53.9 41s-13.1 43.2-10.3 64.9s10.2 44.2 26.5 60.7s40.2 24 62.8 27.7s47.5 6.1 69.2-3.4s34-30.7 44.5-49.2s23.8-39 20.9-61.4s-21.2-39.4-36-54.9z" stroke="#3a2"/>
<path d="M77.2-67.6c-14.7-15.4-32-33.1-55.4-37.4s-46.8 3.7-67.6 12.2s-42 21.3-53.6 40.8s-13.1 42.9-10.3 64.5s10.2 44 26.4 60.4s40 23.9 62.4 27.5s47.2 6 68.8-3.4s33.9-30.4 44.3-48.8s23.6-38.9 20.7-61.1s-20.9-39.2-35.7-54.7z" stroke="#39e" class="a"/>
<path d="M76.9-67.3c-14.7-15.3-32-32.7-55.2-37s-46.5 3.5-67.3 12s-41.6 21.2-53.1 40.7s-13.1 42.6-10.3 64.1s10.2 43.6 26.3 59.9s39.6 23.9 61.9 27.5s47 5.8 68.4-3.5s33.8-30.1 44.2-48.4s23.2-38.7 20.3-60.8s-20.5-39.1-35.2-54.5z" stroke="#d1f"/>
<path d="M76.5-66.9c-14.6-15.4-31.9-32.5-55-36.7s-46.2 3.3-66.9 11.8s-41.3 21.2-52.7 40.5s-13.1 42.3-10.3 63.7s10.2 43.3 26.2 59.5s39.3 23.8 61.5 27.5s46.7 5.7 68-3.7s33.7-29.8 44.1-47.9s22.8-38.6 20-60.5s-20.3-38.9-34.9-54.2z" stroke="#bf0"/>
<path d="M76.1-66.6c-14.5-15.3-31.8-32.1-54.7-36.3s-46 3.2-66.5 11.6s-41 21.2-52.3 40.4s-13.1 42-10.4 63.2s10.3 43.1 26.2 59.1s39 23.8 61.1 27.4s46.3 5.6 67.5-3.7s33.7-29.5 43.9-47.6s22.6-38.4 19.8-60.2s-20-38.7-34.6-53.9z" stroke="#222"/>
<path d="M75.8-66.3c-14.5-15.1-31.8-31.7-54.5-35.9s-45.7 3-66.2 11.4s-40.6 21.1-51.9 40.2s-13.1 41.7-10.3 62.9s10.2 42.7 26 58.7s38.7 23.7 60.7 27.3s46.1 5.4 67.1-3.8s33.6-29.2 43.8-47.2s22.2-38.2 19.4-59.9s-19.6-38.6-34.1-53.7z" stroke="#3e5"/>
<path d="M75.4-66c-14.5-15-31.7-31.4-54.3-35.5s-45.4 2.8-65.7 11.2s-40.4 21.1-51.5 40s-13.1 41.5-10.4 62.5s10.3 42.4 26 58.3s38.3 23.6 60.2 27.2s45.8 5.3 66.7-3.9s33.4-28.8 43.6-46.7s22-38.1 19.2-59.6s-19.4-38.4-33.8-53.5z" stroke="#93f" class="b"/>
<path d="M75-65.6c-14.4-15-31.6-31.1-54-35.3s-45.2 2.8-65.4 11.1s-40 21.1-51.1 39.9s-13.1 41.2-10.4 62s10.3 42.1 25.9 57.9s38.1 23.6 59.8 27.2s45.5 5.1 66.3-4s33.3-28.6 43.5-46.4s21.6-37.8 18.9-59.2s-19.1-38.3-33.5-53.2z" stroke="#9f8"/>
<path d="M74.6-65.3c-14.3-14.9-31.5-30.8-53.8-34.9s-44.9 2.6-64.9 11s-39.7 20.9-50.7 39.6s-13.1 40.9-10.4 61.6s10.3 41.9 25.8 57.5s37.7 23.6 59.3 27.1s45.2 5 65.8-4s33.3-28.3 43.4-46s21.4-37.7 18.6-58.9s-18.8-38.1-33.1-53z" stroke="#c44"/>
<path d="M74.3-65c-14.3-14.8-31.5-30.4-53.6-34.5s-44.6 2.5-64.6 10.8s-39.3 20.9-50.3 39.4s-13 40.7-10.4 61.3s10.3 41.5 25.7 57.1s37.5 23.4 58.9 27s45 4.8 65.4-4.2s33.2-27.9 43.3-45.5s21-37.6 18.3-58.6s-18.5-38-32.7-52.8z" stroke="#120"/>
<path d="M73.9-64.7c-14.2-14.7-31.4-30.1-53.4-34.1s-44.3 2.3-64.1 10.6s-39.1 20.9-49.9 39.3s-13.1 40.3-10.4 60.8s10.3 41.2 25.5 56.7s37.2 23.4 58.5 26.9s44.7 4.7 65-4.2s33.1-27.7 43.1-45.2s20.8-37.3 18-58.3s-18.1-37.7-32.3-52.5z" stroke="#09c"/>
<path d="M73.5-64.3c-14.1-14.7-31.3-29.8-53.1-33.8s-44.1 2.2-63.7 10.4s-38.8 20.8-49.6 39.1s-13 40.1-10.4 60.4s10.3 41 25.5 56.3s36.8 23.3 58.1 26.8s44.3 4.6 64.5-4.2s33-27.4 43-44.8s20.4-37.2 17.7-58s-17.9-37.5-32-52.2z" stroke="#cfc" class="a"/>
<path d="M73.1-64c-14-14.6-31.1-29.4-52.8-33.4s-43.8 2.1-63.4 10.2s-38.4 20.8-49.1 39s-13.1 39.7-10.4 59.9s10.3 40.7 25.3 55.9s36.6 23.3 57.7 26.8s44 4.4 64.1-4.4s32.9-27 42.8-44.4s20.1-36.9 17.5-57.6s-17.7-37.4-31.7-52z" stroke="#7a6"/>
<path d="M72.7-63.6c-13.9-14.5-31-29.2-52.6-33.1s-43.5 1.9-62.9 10s-38.1 20.8-48.8 38.8s-13 39.5-10.4 59.6s10.3 40.3 25.3 55.4s36.2 23.2 57.2 26.7s43.8 4.3 63.7-4.4s32.8-26.8 42.6-44s19.9-36.8 17.2-57.3s-17.3-37.2-31.3-51.7z" stroke="#729"/>
<path d="M72.3-63.3c-13.9-14.4-30.9-28.8-52.3-32.8s-43.2 1.9-62.6 10s-37.8 20.6-48.4 38.5s-12.9 39.2-10.3 59.2s10.3 40.1 25.1 55.1s36 23 56.8 26.6s43.5 4.1 63.3-4.5s32.7-26.5 42.5-43.6s19.5-36.7 16.9-57s-17.1-37.1-31-51.5z" stroke="#251"/>
<path d="M72-63c-13.9-14.3-30.9-28.5-52.2-32.4s-42.9 1.7-62.1 9.8s-37.5 20.6-48 38.4s-12.9 38.9-10.4 58.7s10.3 39.8 25.1 54.7s35.6 23 56.3 26.5s43.2 4 62.9-4.6s32.5-26.1 42.3-43.2s19.3-36.4 16.7-56.6s-16.8-36.9-30.6-51.3z" stroke="#0cf"/>
<path d="M71.6-62.6c-13.8-14.3-30.8-28.2-51.9-32.1s-42.7 1.6-61.8 9.6s-37.1 20.6-47.6 38.2s-12.9 38.6-10.3 58.3s10.3 39.5 24.9 54.3s35.4 22.9 55.9 26.4s43 3.9 62.4-4.6s32.5-25.9 42.2-42.8s19-36.3 16.4-56.3s-16.5-36.8-30.2-51z" stroke="#cc3"/>
<path d="M71.2-62.3c-13.7-14.2-30.7-27.9-51.7-31.7s-42.3 1.5-61.3 9.4s-36.8 20.5-47.2 38.1s-12.9 38.3-10.4 57.9s10.3 39.2 24.8 53.8s35.1 22.9 55.6 26.3s42.6 3.8 61.9-4.6s32.4-25.6 42.1-42.5s18.7-36 16.1-56s-16.2-36.5-29.9-50.7z" stroke="#f40" class="c"/>
<path d="M70.8-61.9c-13.6-14.1-30.6-27.6-51.4-31.4s-42.1 1.3-60.9 9.3s-36.6 20.4-46.9 37.8s-12.8 38-10.3 57.5s10.3 38.9 24.7 53.5s34.8 22.7 55.1 26.2s42.3 3.6 61.5-4.8s32.3-25.3 41.9-42s18.4-35.9 15.8-55.7s-15.9-36.3-29.5-50.4z" stroke="#545"/>
<path d="M70.4-61.6c-13.6-14-30.5-27.2-51.1-31s-41.9 1.2-60.6 9.1s-36.2 20.4-46.4 37.6s-12.9 37.8-10.4 57.1s10.3 38.6 24.6 53.1s34.5 22.6 54.7 26.1s42 3.5 61.1-4.8s32.1-25 41.7-41.7s18.1-35.7 15.6-55.3s-15.7-36.2-29.2-50.2z" stroke="#0ec"/>
<path d="M70-61.2c-13.5-14-30.4-27-50.9-30.7s-41.5 1.1-60.1 8.9s-35.9 20.3-46.1 37.5s-12.8 37.5-10.3 56.6s10.3 38.3 24.5 52.7s34.2 22.6 54.2 26s41.8 3.4 60.7-4.8s32-24.7 41.6-41.3s17.8-35.5 15.3-55s-15.4-36-28.9-49.9z" stroke="#92b" class="c"/>
<path d="M69.6-60.9c-13.4-13.8-30.3-26.6-50.6-30.4s-41.3 1-59.7 8.9s-35.6 20.2-45.7 37.2s-12.8 37.2-10.3 56.3s10.2 38 24.3 52.2s33.9 22.5 53.8 25.9s41.5 3.3 60.3-4.9s31.9-24.4 41.4-40.9s17.5-35.3 15-54.6s-15.1-35.9-28.5-49.7z" stroke="#aad"/>
<path d="M69.2-60.5c-13.4-13.8-30.2-26.4-50.4-30.1s-40.9 .9-59.3 8.7s-35.3 20.2-45.3 37.1s-12.7 36.9-10.3 55.8s10.3 37.7 24.3 51.9s33.6 22.3 53.4 25.8s41.1 3.1 59.8-5s31.8-24.1 41.2-40.5s17.3-35.2 14.8-54.3s-14.9-35.7-28.2-49.4z" stroke="#c05"/>
<path d="M68.8-60.2c-13.3-13.7-30.1-26-50.1-29.7s-40.7 .8-58.9 8.5s-35 20.1-44.9 36.9s-12.7 36.6-10.3 55.4s10.2 37.4 24.1 51.5s33.3 22.3 53 25.7s40.9 3 59.3-5s31.7-23.9 41.1-40.2s17-34.9 14.6-54s-14.6-35.4-27.9-49.1z" stroke="#8a4"/>
<path d="M68.4-59.8c-13.2-13.6-30-25.7-49.9-29.4s-40.4 .7-58.4 8.4s-34.7 20-44.6 36.6s-12.7 36.4-10.2 55s10.2 37.2 24 51.1s33 22.2 52.5 25.6s40.6 2.9 58.9-5.1s31.6-23.6 40.9-39.7s16.8-34.8 14.3-53.7s-14.3-35.3-27.5-48.8z" stroke="#e3a"/>
<path d="M68-59.5c-13.2-13.5-29.9-25.4-49.6-29s-40.1 .6-58.1 8.2s-34.4 20-44.1 36.5s-12.7 36-10.3 54.6s10.2 36.8 23.9 50.6s32.7 22.1 52.1 25.5s40.3 2.9 58.5-5.1s31.4-23.3 40.7-39.4s16.5-34.5 14.1-53.3s-14.1-35.1-27.2-48.6z" stroke="#3d9"/>
<path d="M67.6-59.1c-13.1-13.4-29.8-25.1-49.3-28.7s-39.9 .5-57.7 8.1s-34.1 19.8-43.8 36.2s-12.6 35.8-10.2 54.2s10.2 36.5 23.7 50.3s32.5 22 51.8 25.3s39.9 2.8 58-5.1s31.3-23.1 40.6-39s16.2-34.4 13.7-53s-13.8-34.9-26.8-48.3z" stroke="#886" class="c"/>
<path d="M67.1-58.8c-12.9-13.3-29.6-24.8-49-28.3s-39.5 .3-57.2 7.9s-33.8 19.8-43.4 36.1s-12.6 35.4-10.2 53.7s10.1 36.3 23.6 49.9s32.2 21.9 51.3 25.2s39.7 2.7 57.6-5.2s31.2-22.7 40.4-38.6s15.9-34.2 13.5-52.6s-13.6-34.7-26.6-48.1z" stroke="#95b"/>
<path d="M66.7-58.4c-12.9-13.2-29.5-24.5-48.7-28.1s-39.3 .3-56.9 7.9s-33.4 19.7-43 35.8s-12.5 35.2-10.2 53.3s10.2 36 23.5 49.5s31.9 21.8 50.9 25.1s39.4 2.6 57.2-5.2s31-22.5 40.2-38.2s15.6-34 13.3-52.3s-13.4-34.6-26.3-47.8z" stroke="#f13"/>
<path d="M66.3-58c-12.8-13.2-29.4-24.3-48.5-27.8s-38.9 .2-56.4 7.7s-33.2 19.6-42.6 35.6s-12.5 34.9-10.2 53s10.1 35.6 23.4 49s31.6 21.7 50.4 25s39.1 2.5 56.8-5.2s30.8-22.3 40-37.9s15.4-33.8 13-51.9s-13.1-34.4-25.9-47.5z" stroke="#79c" class="b"/>
<path d="M65.9-57.6c-12.8-13.1-29.3-24-48.2-27.5s-38.7 .1-56 7.6s-32.9 19.5-42.3 35.4s-12.4 34.6-10.1 52.5s10.1 35.4 23.2 48.7s31.3 21.5 50 24.8s38.9 2.4 56.4-5.3s30.7-21.9 39.7-37.5s15.2-33.5 12.9-51.6s-12.9-34.1-25.6-47.1z" stroke="#0e8"/>
<ellipse rx="91.2" ry="85.8" stroke="#c85" class="a"/>
<ellipse rx="90.4" ry="85.1" stroke="#732"/>
<ellipse rx="89.7" ry="84.4" stroke="#19f"/>
<ellipse rx="89" ry="83.7" stroke="#b74"/>
<ellipse rx="88.3" ry="83" stroke="#3b0"/>
<ellipse rx="87.5" ry="82.3" stroke="#b4c"/>
<ellipse rx="86.8" ry="81.7" stroke="#2a8"/>
<ellipse rx="86.1" ry="81" stroke="#e2a" class="b"/>
<ellipse rx="85.4" ry="80.3" stroke="#178"/>
<ellipse rx="84.6" ry="79.6" stroke="#af5" class="a"/>
<ellipse rx="83.9" ry="78.9" stroke="#863"/>
<ellipse rx="83.2" ry="78.2" stroke="#f69"/>
<ellipse rx="82.4" ry="77.5" stroke="#33a"/>
<ellipse rx="81.7" ry="76.8" stroke="#6f4" class="a"/>
<ellipse rx="81" ry="76.2" stroke="#359"/>
<ellipse rx="80.2" ry="75.5" stroke="#bd5"/>
<ellipse rx="79.5" ry="74.8" stroke="#e06" class="b"/>
<ellipse rx="78.8" ry="74.1" stroke="#8e0"/>
<ellipse rx="78" ry="73.4" stroke="#768"/>
<ellipse rx="77.3" ry="72.7" stroke="#189"/>
<ellipse rx="76.5" ry="72" stroke="#d3c"/>
<ellipse rx="75.8" ry="71.3" stroke="#4a3" class="b"/>
<ellipse rx="75.1" ry="70.6" stroke="#987"/>
<ellipse rx="74.3" ry="69.9" stroke="#59f"/>
<ellipse rx="73.6" ry="69.2" stroke="#e81" class="a"/>
<ellipse rx="72.8" ry="68.5" stroke="#0b7"/>
<ellipse rx="72.1" ry="67.8" stroke="#b4f"/>
<ellipse rx="71.4" ry="67.1" stroke="#473"/>
<ellipse rx="70.6" ry="66.4" stroke="#a6b"/>
<ellipse rx="69.9" ry="65.7" stroke="#bb0" class="c"/>
<ellipse rx="69.1" ry="65" stroke="#85e"/>
<ellipse rx="68.4" ry="64.3" stroke="#566"/>
<ellipse rx="67.7" ry="63.6" stroke="#58f"/>
<ellipse rx="66.9" ry="62.9" stroke="#745"/>
<ellipse rx="66.2" ry="62.2" stroke="#1da"/>
<ellipse rx="65.4" ry="61.5" stroke="#fa1" class="c"/>
<ellipse rx="64.7" ry="60.8" stroke="#65d"/>
<ellipse rx="63.9" ry="60.1" stroke="#c36" class="b"/>
<ellipse rx="63.2" ry="59.4" stroke="#0c8"/>
<ellipse rx="62.5" ry="58.8" stroke="#ab7"/>
<ellipse rx="61.7" ry="58.1" stroke="#13c" class="a"/>
<ellipse rx="61" ry="57.4" stroke="#8d4"/>
<ellipse rx="60.2" ry="56.7" stroke="#653"/>
<ellipse rx="59.5" ry="56" stroke="#ab4"/>
<ellipse rx="58.7" ry="55.3" stroke="#54f" class="b"/>
<ellipse rx="58" ry="54.6" stroke="#689"/>
<ellipse rx="57.3" ry="53.9" stroke="#c74"/>
<ellipse rx="56.5" ry="53.2" stroke="#c47" class="b"/>
<ellipse rx="55.8" ry="52.5" stroke="#13b"/>
<ellipse rx="55" ry="51.8" stroke="#2fa"/>
<ellipse rx="54.3" ry="51.1" stroke="#c72" class="a"/>
<ellipse rx="53.5" ry="50.4" stroke="#8b8"/>
<ellipse rx="52.8" ry="49.7" stroke="#64b" class="a"/>
<ellipse rx="52.1" ry="49" stroke="#3aa"/>
<ellipse rx="51.3" ry="48.3" stroke="#5c3"/>
<ellipse rx="50.6" ry="47.6" stroke="#a54"/>
<ellipse rx="49.8" ry="46.9" stroke="#86c" class="a"/>
<ellipse rx="49.1" ry="46.2" stroke="#a19"/>
<ellipse rx="48.3" ry="45.5" stroke="#8f7" class="a"/>
<ellipse rx="47.6" ry="44.8" stroke="#466"/>
<ellipse rx="46.9" ry="44.1" stroke="#769" class="b"/>
<ellipse rx="46.1" ry="43.4" stroke="#24a"/>
<ellipse rx="45.4" ry="42.7" stroke="#ea7"/>
<ellipse rx="44.6" ry="42" stroke="#2c8" class="c"/>
<ellipse rx="43.9" ry="41.3" stroke="#a52"/>
<ellipse rx="43.1" ry="40.6" stroke="#90a"/>
<ellipse rx="42.4" ry="39.9" stroke="#ccc" class="a"/>
<ellipse rx="41.7" ry="39.2" stroke="#29b"/>
<ellipse rx="40.9" ry="38.5" stroke="#741" class="a"/>
<ellipse rx="40.2" ry="37.8" stroke="#46a"/>
<ellipse rx="39.4" ry="37.1" stroke="#e65"/>
<ellipse rx="38.7" ry="36.4" stroke="#0de" class="a"/>
<ellipse rx="37.9" ry="35.7" stroke="#f02"/>
<ellipse rx="37.2" ry="35" stroke="#938"/>
<ellipse rx="36.5" ry="34.3" stroke="#ae1" class="a"/>
<ellipse rx="35.7" ry="33.6" stroke="#193"/>
<ellipse rx="35" ry="32.9" stroke="#d1e"/>
<ellipse rx="34.2" ry="32.2" stroke="#477"/>
<ellipse rx="33.5" ry="31.5" stroke="#a94" class="b"/>
<ellipse rx="32.7" ry="30.8" stroke="#586"/>
<ellipse rx="32" ry="30.1" stroke="#a63" class="a"/>
<ellipse rx="31.3" ry="29.4" stroke="#09b"/>
<ellipse rx="30.5" ry="28.7" stroke="#d64" class="b"/>
<ellipse rx="29.8" ry="28" stroke="#6ef"/>
<ellipse rx="29" ry="27.3" stroke="#81c" class="a"/>
<ellipse rx="28.3" ry="26.6" stroke="#7c1"/>
<ellipse rx="27.5" ry="25.9" stroke="#28a"/>
<ellipse rx="26.8" ry="25.2" stroke="#1c1" class="a"/>
<ellipse rx="26.1" ry="24.5" stroke="#b4f"/>
<ellipse rx="25.3" ry="23.8" stroke="#a63" class="a"/>
<ellipse rx="24.6" ry="23.1" stroke="#592"/>
<ellipse rx="23.8" ry="22.4" stroke="#668"/>
<ellipse rx="23.1" ry="21.7" stroke="#d4d"/>
<ellipse rx="22.3" ry="21" stroke="#aa7" class="a"/>
<ellipse rx="21.6" ry="20.3" stroke="#548"/>
<ellipse rx="20.9" ry="19.6" stroke="#c33" class="a"/>
<ellipse rx="20.1" ry="18.9" stroke="#0fa"/>
<ellipse rx="19.4" ry="18.2" stroke="#f4e"/>
<ellipse rx="18.6" ry="17.5" stroke="#393" class="c"/>
<ellipse rx="17.9" ry="16.8" stroke="#931"/>
<ellipse rx="17.1" ry="16.1" stroke="#4ca" class="a"/>
<ellipse rx="16.4" ry="15.4" stroke="#c3d"/>
<ellipse rx="15.7" ry="14.7" stroke="#cc7"/>
<ellipse rx="14.9" ry="14" stroke="#c43"/>
<ellipse rx="14.2" ry="13.3" stroke="#113"/>
<ellipse rx="13.4" ry="12.6" stroke="#6e1"/>
<ellipse rx="12.7" ry="11.9" stroke="#48a"/>
<ellipse rx="11.9" ry="11.2" stroke="#f2e" class="b"/>
<ellipse rx="11.2" ry="10.5" stroke="#587"/>
<ellipse rx="10.5" ry="9.8" stroke="#aa6" class="c"/>
<ellipse rx="9.7" ry="9.1" stroke="#7a1"/>
<ellipse rx="9" ry="8.4" stroke="#d3c" class="a"/>
<ellipse rx="8.2" ry="7.7" stroke="#4a7"/>
<ellipse rx="7.5" ry="7" stroke="#4ad" class="c"/>
<ellipse rx="6.7" ry="6.3" stroke="#0a1"/>
<ellipse rx="6" ry="5.6" stroke="#d3e"/>
<ellipse rx="5.3" ry="4.9" stroke="#a9a"/>
<ellipse rx="4.5" ry="4.2" stroke="#962"/>
<ellipse rx="3.8" ry="3.5" stroke="#5f7" class="a"/>
<ellipse rx="3" ry="2.8" stroke="#35e"/>
<ellipse rx="2.3" ry="2.2" stroke="#c52"/>
<ellipse rx="1.5" ry="1.5" stroke="#858"/>
<ellipse rx=".8" ry=".8" stroke="#da8" class="b"/>
<path d="M105.4-92.3c-5.1-5.2-10.8-9.9-16.9-14s-12.6-7.7-19.4-10.6s-13.8-5.3-20.9-7.1s-14.4-3-21.5-4.3s-14.3-2.8-21.6-3.6s-14.8-1.2-22.3-.9s-14.9 1.3-22.2 3s-14.5 4-21.3 7s-13.4 6.6-19.4 10.8s-11.7 8.9-16.8 14s-9.6 10.8-13.6 16.6s-7.4 11.9-11 17.9s-7.2 11.9-10.3 18.2s-5.8 12.8-7.8 19.6s-3.3 13.8-3.9 20.8s-.4 14.2 .5 21.3s2.6 13.9 5 20.7s5.4 13.2 9 19.3s7.9 11.9 12.6 17.3s9.7 10.3 14.7 15.3s9.8 10.2 15.2 14.9s11.2 9.2 17.4 13s12.9 7.2 19.8 9.9s14.3 4.8 21.7 6.2s14.9 2 22.4 1.9s15-.7 22.4-2.1s14.4-3.4 21.3-5.9s13.5-5.5 20.1-8.4s13.3-5.6 19.7-9s12.7-7.2 18.6-11.5s11.2-9.4 16.1-14.7s9.2-11.3 12.9-17.5s6.6-12.7 8.9-19.5s3.9-13.6 4.8-20.6s1-14 .6-20.9s-1.4-13.8-2.2-20.6s-1.7-13.6-3.1-20.4s-3.3-13.6-5.9-20.2s-6-12.9-9.9-19s-8.5-11.7-13.7-16.9z" stroke="#54c"/>
<path d="M105.6-92.4c-5.2-5.2-10.9-9.9-17-14s-12.6-7.8-19.4-10.7s-13.8-5.4-20.9-7.3s-14.3-3.3-21.5-4.6s-14.4-2.6-21.7-3.3s-14.8-1.1-22.3-.7s-14.9 1.3-22.3 3s-14.4 4-21.3 7s-13.4 6.6-19.4 10.8s-11.7 8.9-16.8 14.1s-9.7 10.7-13.8 16.5s-7.8 11.7-11.3 17.7s-7.1 12.1-10.1 18.5s-5.7 12.9-7.6 19.7s-3.3 13.8-3.8 20.8s-.4 14.2 .5 21.3s2.5 14 4.9 20.7s5.4 13.2 9 19.4s7.8 12 12.4 17.4s9.5 10.6 14.5 15.6s10 10.1 15.5 14.8s11.3 9 17.6 12.8s12.9 7.2 19.9 9.9s14.2 4.7 21.6 6.1s15 2 22.5 2s15.1-.7 22.4-2.1s14.5-3.3 21.4-5.7s13.7-5.2 20.3-8.1s13.3-5.9 19.7-9.3s12.6-7.4 18.4-11.8s11.3-9.3 16.2-14.7s9.2-11.3 12.8-17.5s6.7-12.8 9-19.5s3.9-13.7 4.8-20.7s1.2-14 .9-20.9s-1.1-13.8-2-20.7s-1.9-13.6-3.3-20.5s-3.5-13.5-6.2-20.1s-6-12.9-9.9-19s-8.6-11.7-13.7-16.9z" stroke="#fb9"/>
<path d="M105.7-92.5c-10.3-10.4-22.8-18.9-36.3-24.9s-28-9.6-42.4-12.3s-29.3-4.5-44.2-3.7s-30 4.2-43.7 10.2s-26.1 14.6-36.4 24.8s-18.3 22.1-25.5 34.2s-13.5 24.8-17.4 38.4s-5 28.1-3.2 42.2s6.7 27.9 13.9 40.2s16.6 23.3 26.7 33.4s20.8 19.8 33.4 27.4s26.8 13.2 41.7 15.9s30.2 2.6 44.9 .1s28.7-7.8 42-13.6s26.5-12.5 38.1-21.4s21.6-20 28.9-32.4s12-26.2 14-40.2s1-28-.8-41.7s-4.5-27.6-9.9-40.7s-13.5-25.5-23.8-35.9z" stroke="#717" class="a"/>
<path d="M105.9-92.7c-10.3-10.4-22.8-18.9-36.3-25s-28-10-42.5-12.7s-29.4-4.2-44.4-3.3s-30 4.3-43.7 10.3s-26.2 14.6-36.5 24.8s-18.7 21.9-25.9 34.1s-13.4 25-17.2 38.6s-4.9 28.2-3 42.3s6.6 27.9 13.7 40.4s16.4 23.5 26.5 33.7s21.1 19.7 33.8 27.2s27 13.1 41.8 15.9s30.3 2.6 45.1 .1s28.8-7.4 42.2-13.3s26.5-12.8 38-21.8s21.6-20 29-32.5s12-26.2 14.1-40.2s1.4-28.1-.4-41.9s-4.8-27.7-10.3-40.8s-13.6-25.5-24-35.9z" stroke="#895"/>
<path d="M106.2-92.9c-10.4-10.5-22.9-19-36.4-25.2s-28-10.3-42.6-12.9s-29.5-4.1-44.5-3.2s-30.1 4.5-43.8 10.5s-26.3 14.6-36.8 24.8s-18.9 21.8-26.2 34s-13.2 25.2-16.9 39s-4.8 28.2-3 42.4s6.7 27.9 13.7 40.5s16.3 23.7 26.4 33.9s21.3 19.7 34.1 27.2s27.1 13 42 15.8s30.3 2.7 45.1 .3s29.1-7.2 42.5-13.1s26.5-13 38.1-22.2s21.5-20.1 28.9-32.6s12.1-26.3 14.2-40.4s1.7-28.1-.1-42s-5-27.7-10.6-40.9s-13.8-25.5-24.1-35.9z" stroke="#52d"/>
<path d="M106.4-93.2c-10.3-10.4-22.8-19-36.4-25.3s-27.9-10.5-42.6-13.2s-29.7-4-44.8-2.9s-30.1 4.5-43.9 10.6s-26.3 14.6-36.9 24.7s-19.3 21.8-26.5 34.1s-13.2 25.4-16.8 39.2s-4.7 28.3-2.8 42.5s6.6 28.1 13.6 40.7s16.1 23.9 26.2 34.2s21.6 19.7 34.5 27.1s27.1 13 42.1 15.7s30.4 2.8 45.3 .4s29.2-7 42.7-12.9s26.6-13.2 38.1-22.4s21.5-20.3 28.9-32.9s12.2-26.3 14.4-40.4s1.9-28.2 .1-42.2s-5.1-27.8-10.9-41s-13.9-25.5-24.3-36z" stroke="#ad3"/>
<path d="M106.8-93.4c-10.4-10.5-22.9-19.2-36.5-25.6s-28-10.7-42.8-13.4s-29.8-3.9-45-2.7s-30.1 4.7-44 10.7s-26.4 14.6-37.1 24.7s-19.5 21.8-26.8 34.2s-13.1 25.5-16.6 39.4s-4.6 28.4-2.7 42.7s6.5 28.1 13.5 40.8s16 24.2 26.2 34.5s21.7 19.7 34.7 27.1s27.3 12.8 42.3 15.6s30.5 2.8 45.5 .5s29.3-6.8 43-12.8s26.6-13.3 38.1-22.6s21.4-20.5 28.8-33.1s12.3-26.4 14.6-40.5s2.2-28.4 .4-42.4s-5.3-27.9-11.2-41.1s-14-25.5-24.4-36z" stroke="#a75" class="b"/>
<path d="M107.1-93.7c-10.4-10.6-23-19.2-36.5-25.8s-28.1-10.9-42.9-13.6s-30.1-3.8-45.2-2.6s-30.3 4.9-44.2 10.9s-26.5 14.6-37.3 24.7s-19.7 21.8-27 34.2s-13.1 25.7-16.6 39.7s-4.4 28.5-2.6 42.8s6.5 28.2 13.5 41s15.9 24.4 26.1 34.8s22 19.7 35 27.1s27.5 12.8 42.5 15.5s30.6 2.9 45.6 .7s29.6-6.7 43.3-12.7s26.7-13.6 38.2-22.9s21.4-20.7 28.8-33.3s12.4-26.4 14.8-40.6s2.3-28.5 .5-42.6s-5.4-28-11.4-41.2s-14.2-25.6-24.6-36.1z" stroke="#37a"/>
<path d="M107.4-94c-20.9-21.2-49.8-34.3-79.6-39.8s-61.8-3.6-89.7 8.6s-50 34-64.8 59s-22.7 54.2-19 82.9s18.9 55.2 39.6 76.1s47.8 37.1 77.9 42.7s61.8 .1 89.3-11.9s52.2-31.3 67.2-56.5s19.2-55.2 15.6-83.6s-15.5-56.4-36.5-77.5z" stroke="#038" class="b"/>
<path d="M107.8-94.4c-21-21.2-49.9-34.6-79.8-40.1s-62.1-3.3-90.1 8.9s-50.4 34-65.2 59s-22.6 54.5-18.9 83.3s18.8 55.6 39.6 76.6s48.1 37.1 78.3 42.6s62 .4 89.7-11.7s52.3-31.5 67.3-56.9s19.6-55.4 15.9-83.8s-15.8-56.6-36.8-77.9z" stroke="#9f5"/>
<path d="M108.2-94.7c-21.1-21.3-50-34.9-80.1-40.5s-62.3-3.1-90.4 9.1s-50.8 34-65.7 59.2s-22.5 54.8-18.7 83.7s18.6 55.9 39.5 77s48.5 37.1 78.8 42.6s62.3 .6 90.1-11.5s52.4-31.9 67.5-57.4s19.8-55.5 16.1-84.1s-16-56.8-37.1-78.1z" stroke="#d4a" class="b"/>
<path d="M108.6-95.1c-21.1-21.4-50.1-35.2-80.4-40.7s-62.6-3.1-90.7 9.3s-51.1 33.9-66.1 59.3s-22.4 55-18.7 84s18.6 56.3 39.6 77.5s48.7 37 79.2 42.7s62.6 .7 90.5-11.5s52.6-32.2 67.7-57.7s20.1-55.7 16.4-84.5s-16.3-57-37.5-78.4z" stroke="#979"/>
<path d="M109-95.4c-21.2-21.5-50.2-35.5-80.6-41.1s-62.9-2.9-91.2 9.5s-51.4 34-66.5 59.4s-22.3 55.4-18.6 84.5s18.5 56.5 39.6 77.9s49.1 37.1 79.7 42.7s62.9 .9 90.9-11.4s52.7-32.4 67.9-58s20.3-56 16.6-84.9s-16.5-57.1-37.8-78.6z" stroke="#a93" class="b"/>
<ellipse rx="149.3" ry="140.5" stroke="#a6d"/>
<ellipse rx="150" ry="141.1" stroke="#098" class="b"/>
<ellipse rx="150.6" ry="141.7" stroke="#92a" class="a"/>
<ellipse rx="151.3" ry="142.3" stroke="#f80" class="b"/>
<ellipse rx="152" ry="143" stroke="#3af"/>
<ellipse rx="152.7" ry="143.6" stroke="#653" class="b"/>
<ellipse rx="153.4" ry="144.3" stroke="#859"/>
<ellipse rx="154.1" ry="144.9" stroke="#d78" class="b"/>
<ellipse rx="154.8" ry="145.6" stroke="#49a"/>
<ellipse rx="155.5" ry="146.3" stroke="#391" class="b"/>
<ellipse rx="156.2" ry="146.9" stroke="#c46"/>
<ellipse rx="156.9" ry="147.6" stroke="#8ae" class="b"/>
<ellipse rx="157.6" ry="148.3" stroke="#c16"/>
<ellipse rx="158.4" ry="149" stroke="#694" class="b"/>
<ellipse rx="159.1" ry="149.7" stroke="#499" class="a"/>
<ellipse rx="159.8" ry="150.3" stroke="#6cf" class="b"/>
<ellipse rx="160.6" ry="151" stroke="#c12" class="c"/>
<ellipse rx="161.3" ry="151.7" stroke="#e58" class="b"/>
<ellipse rx="162" ry="152.4" stroke="#2b1"/>
<ellipse rx="162.8" ry="153.1" stroke="#6ff" class="b"/>
<ellipse rx="163.5" ry="153.8" stroke="#411"/>
<ellipse rx="164.2" ry="154.5" stroke="#b59" class="b"/>
<ellipse rx="165" ry="155.2" stroke="#2a6"/>
<ellipse rx="165.7" ry="155.9" stroke="#8ed" class="b"/>
<ellipse rx="166.5" ry="156.6" stroke="#4aa"/>
<ellipse rx="167.2" ry="157.3" stroke="#c13" class="b"/>
<ellipse rx="167.9" ry="158" stroke="#830"/>
<ellipse rx="168.7" ry="158.7" stroke="#19c" class="b"/>
<ellipse rx="169.4" ry="159.4" stroke="#5fb"/>
<ellipse rx="170.2" ry="160.1" stroke="#7ab" class="b"/>
<ellipse rx="170.9" ry="160.8" stroke="#d50"/>
<ellipse rx="171.7" ry="161.5" stroke="#84c" class="b"/>
<ellipse rx="172.4" ry="162.2" stroke="#79c"/>
<ellipse rx="173.1" ry="162.9" stroke="#18a" class="b"/>
<ellipse rx="173.9" ry="163.6" stroke="#6c4"/>
<ellipse rx="174.6" ry="164.3" stroke="#c6e" class="b"/>
<ellipse rx="175.4" ry="165" stroke="#348"/>
<ellipse rx="176.1" ry="165.7" stroke="#cba" class="b"/>
<ellipse rx="176.9" ry="166.4" stroke="#0e0"/>
<ellipse rx="177.6" ry="167.1" stroke="#d55" class="b"/>
<ellipse rx="178.3" ry="167.8" stroke="#535"/>
<ellipse rx="179.1" ry="168.5" stroke="#f9e" class="b"/>
<ellipse rx="179.8" ry="169.2" stroke="#495"/>
<ellipse rx="180.6" ry="169.9" stroke="#3ba" class="b"/>
<ellipse rx="181.3" ry="170.6" stroke="#641" class="a"/>
<ellipse rx="182.1" ry="171.3" stroke="#db4" class="b"/>
<ellipse rx="182.8" ry="172" stroke="#62b"/>
<ellipse rx="183.5" ry="172.7" stroke="#1fb" class="b"/>
<ellipse rx="184.3" ry="173.3" stroke="#573"/>
<ellipse rx="185" ry="174" stroke="#f9b" class="b"/>
<ellipse rx="185.8" ry="174.7" stroke="#621"/>
<ellipse rx="186.5" ry="175.4" stroke="#7f9" class="b"/>
<ellipse rx="187.3" ry="176.1" stroke="#647"/>
<ellipse rx="188" ry="176.8" stroke="#6a9" class="b"/>
<ellipse rx="188.7" ry="177.5" stroke="#c15" class="c"/>
<ellipse rx="189.5" ry="178.2" stroke="#5ad" class="b"/>
<ellipse rx="190.2" ry="178.9" stroke="#7a4"/>
<ellipse rx="191" ry="179.6" stroke="#47c" class="b"/>
<ellipse rx="191.7" ry="180.3" stroke="#850"/>
<ellipse rx="192.5" ry="181" stroke="#c4c" class="b"/>
<ellipse rx="193.2" ry="181.7" stroke="#692" class="a"/>
<ellipse rx="193.9" ry="182.4" stroke="#64c" class="b"/>
<ellipse rx="194.7" ry="183.1" stroke="#6d5"/>
<ellipse rx="195.4" ry="183.8" stroke="#43a" class="b"/>
<ellipse rx="196.2" ry="184.5" stroke="#db2"/>
<ellipse rx="196.9" ry="185.2" stroke="#93a" class="b"/>
<ellipse rx="197.7" ry="185.9" stroke="#4e7"/>
<ellipse rx="198.4" ry="186.6" stroke="#33b" class="b"/>
<ellipse rx="199.1" ry="187.3" stroke="#e50"/>
<ellipse rx="199.9" ry="188" stroke="#78b" class="b"/>
<ellipse rx="200.6" ry="188.7" stroke="#3eb"/>
<ellipse rx="201.4" ry="189.4" stroke="#d12" class="b"/>
<ellipse rx="202.1" ry="190.1" stroke="#466"/>
<ellipse rx="202.9" ry="190.8" stroke="#58e" class="b"/>
<ellipse rx="203.6" ry="191.5" stroke="#ae6"/>
<ellipse rx="204.3" ry="192.2" stroke="#932" class="b"/>
<ellipse rx="205.1" ry="192.9" stroke="#97f"/>
<ellipse rx="205.8" ry="193.6" stroke="#087" class="b"/>
<ellipse rx="206.6" ry="194.3" stroke="#bf3"/>
<ellipse rx="207.3" ry="195" stroke="#914" class="b"/>
<ellipse rx="208.1" ry="195.7" stroke="#c0e"/>
<ellipse rx="208.8" ry="196.4" stroke="#054" class="b"/>
<ellipse rx="209.5" ry="197.1" stroke="#d8f"/>
<ellipse rx="210.3" ry="197.8" stroke="#7a2" class="b"/>
<ellipse rx="211" ry="198.5" stroke="#75e"/>
<ellipse rx="211.8" ry="199.2" stroke="#380" class="b"/>
<ellipse rx="212.5" ry="199.9" stroke="#9a8"/>
<ellipse rx="213.3" ry="200.6" stroke="#75f" class="b"/>
<ellipse rx="214" ry="201.3" stroke="#d7c"/>
<ellipse rx="214.7" ry="202" stroke="#995" class="b"/>
<ellipse rx="215.5" ry="202.7" stroke="#2f5"/>
<ellipse rx="216.2" ry="203.4" stroke="#44c" class="b"/>
<ellipse rx="217" ry="204.1" stroke="#b14" class="a"/>
<ellipse rx="217.7" ry="204.8" stroke="#9c9" class="b"/>
<ellipse rx="218.5" ry="205.5" stroke="#4eb"/>
<ellipse rx="219.2" ry="206.2" stroke="#51b" class="b"/>
<ellipse rx="219.9" ry="206.9" stroke="#c00"/>
<ellipse rx="220.7" ry="207.6" stroke="#c72" class="b"/>
<ellipse rx="221.4" ry="208.3" stroke="#ec1"/>
<ellipse rx="222.2" ry="209" stroke="#2ff" class="b"/>
<ellipse rx="222.9" ry="209.7" stroke="#099"/>
<ellipse rx="223.7" ry="210.4" stroke="#e0b" class="b"/>
<ellipse rx="224.4" ry="211.1" stroke="#d63"/>
<ellipse rx="225.1" ry="211.8" stroke="#af8" class="b"/>
<ellipse rx="225.9" ry="212.5" stroke="#137" class="a"/>
<path d="M85.9-75.2c-4.1-4.3-8.1-8.7-12.3-13.2s-8.6-9-13.4-13.5s-9.8-9-15.5-13.3s-11.4-10-18.4-11.2s-14.7 1.7-21.6 3.4s-13.5 3.5-19.9 5.5s-12.5 4.2-18.5 6.4s-12 4.4-17.9 6.8s-11.8 4.8-17.7 7.5s-11.8 5.6-17.6 8.9s-11.7 7-17.3 11.1s-12 8.3-15.5 14.2s-3.9 13.2-4.9 19.8s-1.6 13.1-1.8 19.5s-.1 12.8 .2 19s.9 12.4 1.7 18.5s1.8 12.3 3 18.4s2.8 12.3 4.7 18.5s4.1 12.4 6.7 18.6s4.9 13.1 9.8 18.1s12.2 7.4 18.7 10.2s13 5.1 19.6 7s13 3.4 19.4 4.7s12.8 2.3 19.1 3.3s12.7 1.8 19.1 2.6s12.9 1.4 19.6 1.9s13.6 .9 20.7 .9s15.3 1.3 21.8-1.6s10.7-9.6 15.1-15s8.2-10.9 11.7-16.4s6.5-10.9 9.5-16.2s5.8-10.4 8.6-15.5s5.8-10.2 8.8-15.4s6.1-10.5 9.2-16.1s6-11.5 8.8-17.8s7.4-13.3 6.6-20s-7.2-12.3-11.5-17.8s-8.7-10.6-13.1-15.3s-8.8-9.2-13-13.6s-8.4-8.6-12.5-12.9z" stroke="#2a9058" stroke-width="3.8"/>
<path d="M85.9-75.2c-4.1-4.3-8.1-8.7-12.3-13.2s-8.6-9-13.4-13.5s-9.8-9-15.5-13.3s-11.4-10-18.4-11.2s-14.7 1.7-21.6 3.4s-13.5 3.5-19.9 5.5s-12.5 4.2-18.5 6.4s-12 4.4-17.9 6.8s-11.8 4.8-17.7 7.5s-11.8 5.6-17.6 8.9s-11.7 7-17.3 11.1s-12 8.3-15.5 14.2s-3.9 13.2-4.9 19.8s-1.6 13.1-1.8 19.5s-.1 12.8 .2 19s.9 12.4 1.7 18.5s1.8 12.3 3 18.4s2.8 12.3 4.7 18.5s4.1 12.4 6.7 18.6s4.9 13.1 9.8 18.1s12.2 7.4 18.7 10.2s13 5.1 19.6 7s13 3.4 19.4 4.7s12.8 2.3 19.1 3.3s12.7 1.8 19.1 2.6s12.9 1.4 19.6 1.9s13.6 .9 20.7 .9s15.3 1.3 21.8-1.6s10.7-9.6 15.1-15s8.2-10.9 11.7-16.4s6.5-10.9 9.5-16.2s5.8-10.4 8.6-15.5s5.8-10.2 8.8-15.4s6.1-10.5 9.2-16.1s6-11.5 8.8-17.8s7.4-13.3 6.6-20s-7.2-12.3-11.5-17.8s-8.7-10.6-13.1-15.3s-8.8-9.2-13-13.6s-8.4-8.6-12.5-12.9z" stroke="#4c7" class="b" stroke-width="1.4"/>
<path d="M105.2-92c-5.2-5.2-10.8-9.9-16.9-14s-12.6-7.7-19.4-10.6s-13.8-5.3-20.9-7s-14.4-2.5-21.5-3.8s-14.2-3.2-21.5-4.1s-14.7-1.3-22.1-1s-14.9 1.3-22.2 3s-14.4 4-21.2 7s-13.4 6.6-19.4 10.8s-11.7 8.9-16.7 14s-9.6 10.7-13.5 16.6s-7 12.1-10.5 18s-7.6 11.7-10.8 18s-5.8 12.7-7.8 19.5s-3.3 13.7-3.9 20.7s-.4 14.2 .5 21.2s2.6 14 4.9 20.7s5.4 13.1 9.1 19.2s7.8 11.9 12.5 17.3s10.1 9.9 15.1 14.9s9.4 10.4 14.7 15.2s11.2 9.2 17.4 13s12.8 7.2 19.8 9.9s14.1 4.7 21.5 6.1s14.9 2 22.4 2s15-.8 22.3-2.1s14.5-3.4 21.3-6s13.2-5.9 19.8-8.8s13.4-5.2 19.9-8.5s12.7-7.1 18.5-11.5s11.3-9.3 16.1-14.7s9.2-11.2 12.8-17.4s6.7-12.7 9-19.4s3.8-13.6 4.7-20.6s1.1-13.9 .6-20.9s-1.9-13.6-2.8-20.4s-1.2-13.6-2.5-20.4s-3.3-13.6-5.9-20.1s-5.9-13-9.8-19s-8.5-11.6-13.6-16.8z" stroke="#2a9058" stroke-width="2.4"/>
<path d="M105.2-92c-5.2-5.2-10.8-9.9-16.9-14s-12.6-7.7-19.4-10.6s-13.8-5.3-20.9-7s-14.4-2.5-21.5-3.8s-14.2-3.2-21.5-4.1s-14.7-1.3-22.1-1s-14.9 1.3-22.2 3s-14.4 4-21.2 7s-13.4 6.6-19.4 10.8s-11.7 8.9-16.7 14s-9.6 10.7-13.5 16.6s-7 12.1-10.5 18s-7.6 11.7-10.8 18s-5.8 12.7-7.8 19.5s-3.3 13.7-3.9 20.7s-.4 14.2 .5 21.2s2.6 14 4.9 20.7s5.4 13.1 9.1 19.2s7.8 11.9 12.5 17.3s10.1 9.9 15.1 14.9s9.4 10.4 14.7 15.2s11.2 9.2 17.4 13s12.8 7.2 19.8 9.9s14.1 4.7 21.5 6.1s14.9 2 22.4 2s15-.8 22.3-2.1s14.5-3.4 21.3-6s13.2-5.9 19.8-8.8s13.4-5.2 19.9-8.5s12.7-7.1 18.5-11.5s11.3-9.3 16.1-14.7s9.2-11.2 12.8-17.4s6.7-12.7 9-19.4s3.8-13.6 4.7-20.6s1.1-13.9 .6-20.9s-1.9-13.6-2.8-20.4s-1.2-13.6-2.5-20.4s-3.3-13.6-5.9-20.1s-5.9-13-9.8-19s-8.5-11.6-13.6-16.8z" stroke="#4c7" class="b" stroke-width="1.4"/>
</g>
</g>
<path d="M528.0 6.0V304.5H845.8" fill="none" stroke="#111" stroke-width="2"/>
<g clip-path="url(#cl1)" fill="none" stroke-width="2.6">
<rect x="76.0" y="394.6" width="316.8" height="298.0" fill="#fff"/>
<rect x="196" y="394.6" width="76" height="298.0" fill="url(#ch1)"/>
<polygon fill="#fff" points="228,456.8 229,454.7 229.9,452.5 230.7,450.4 231.4,448.2 232,446.1 232.4,443.9 232.6,441.8 232.4,439.7 232,437.5 231.4,435.4 230.7,433.2 229.9,431.1 229,428.9 228,426.8 227,428.9 226.1,431.1 225.3,433.2 224.6,435.4 224,437.5 223.6,439.7 223.4,441.8 223.6,443.9 224,446.1 224.6,448.2 225.3,450.4 226.1,452.5 227,454.7"/>
<polygon fill="#fff" points="219,442.8 223,439.8 227,436.8 231.8,438.8 236.5,440.8 232.8,443.8 229,446.8 224,444.8"/>
<polygon fill="#fff" points="228,556.8 228.8,554.7 229.5,552.5 230.1,550.4 230.6,548.2 230.9,546.1 231.1,543.9 231.1,541.8 230.7,539.7 230.1,537.5 229.3,535.4 228.4,533.2 227.3,531.1 226.2,528.9 225,526.8 224.2,528.9 223.5,531.1 222.9,533.2 222.4,535.4 222.1,537.5 221.9,539.7 221.9,541.8 222.3,543.9 222.9,546.1 223.7,548.2 224.6,550.4 225.7,552.5 226.8,554.7"/>
<polygon fill="#fff" points="217.5,542.8 221.5,539.8 225.5,536.8 230.2,538.8 235,540.8 231.2,543.8 227.5,546.8 222.5,544.8"/>
<polygon fill="#fff" points="228,656.8 229.1,654.7 230.2,652.5 231.1,650.4 232,648.2 232.7,646.1 233.3,643.9 233.6,641.8 233.5,639.7 233.3,637.5 232.8,635.4 232.3,633.2 231.6,631.1 230.9,628.9 230,626.8 228.9,628.9 227.8,631.1 226.9,633.2 226,635.4 225.3,637.5 224.7,639.7 224.4,641.8 224.5,643.9 224.7,646.1 225.2,648.2 225.7,650.4 226.4,652.5 227.1,654.7"/>
<polygon fill="#fff" points="220,642.8 224,639.8 228,636.8 232.8,638.8 237.5,640.8 233.8,643.8 230,646.8 225,644.8"/>
<path d="M76 394.6h114v298.0h-114zM300 394.6h93v298.0h-93z" fill="#777" stroke="none"/>
<path d="M216 713.3c4.7-8.3 13-16.5 13-24.8s-8.3-16.6-13-24.9s-5.1-16.5-5.1-24.8s.4-16.5 5.1-24.8s13-16.6 13-24.9s-8.3-16.5-13-24.8s-5.1-16.5-5.1-24.8s.4-16.6 5.1-24.9s13-16.5 13-24.8s-8.3-16.5-13-24.8s-5.1-16.6-5.1-24.9s.4-16.5 5.1-24.8s13-16.5 13-24.8" stroke="#e4b"/>
<path d="M214.9 713.3c4.5-8.3 12.1-16.5 12.1-24.8s-7.6-16.6-12.1-24.9s-4.9-16.5-4.9-24.8s.5-16.5 4.9-24.8s12.1-16.6 12.1-24.9s-7.6-16.5-12.1-24.8s-4.9-16.5-4.9-24.8s.5-16.6 4.9-24.9s12.1-16.5 12.1-24.8s-7.6-16.5-12.1-24.8s-4.9-16.6-4.9-24.9s.5-16.5 4.9-24.8s12.1-16.5 12.1-24.8" stroke="#c5c"/>
<path d="M213.8 713.3c4.2-8.3 11.2-16.5 11.2-24.8s-7-16.6-11.2-24.9s-4.8-16.5-4.8-24.8s.6-16.5 4.8-24.8s11.2-16.6 11.2-24.9s-7-16.5-11.2-24.8s-4.8-16.5-4.8-24.8s.6-16.6 4.8-24.9s11.2-16.5 11.2-24.8s-7-16.5-11.2-24.8s-4.8-16.6-4.8-24.9s.6-16.5 4.8-24.8s11.2-16.5 11.2-24.8" stroke="#e6a"/>
<path d="M212.6 713.3c4-8.3 10.5-16.5 10.5-24.8s-6.5-16.6-10.5-24.9s-4.6-16.5-4.6-24.8s.7-16.5 4.6-24.8s10.5-16.6 10.5-24.9s-6.5-16.5-10.5-24.8s-4.6-16.5-4.6-24.8s.7-16.6 4.6-24.9s10.5-16.5 10.5-24.8s-6.5-16.5-10.5-24.8s-4.6-16.6-4.6-24.9s.7-16.5 4.6-24.8s10.5-16.5 10.5-24.8" stroke="#a4c"/>
<path d="M211.5 713.3c3.7-8.3 9.8-16.5 9.8-24.8s-6.1-16.6-9.8-24.9s-4.5-16.5-4.5-24.8s.7-16.5 4.5-24.8s9.8-16.6 9.8-24.9s-6.1-16.5-9.8-24.8s-4.5-16.5-4.5-24.8s.7-16.6 4.5-24.9s9.8-16.5 9.8-24.8s-6.1-16.5-9.8-24.8s-4.5-16.6-4.5-24.9s.7-16.5 4.5-24.8s9.8-16.5 9.8-24.8" stroke="#3fe"/>
<path d="M210.3 713.3c3.6-8.3 9.2-16.5 9.2-24.8s-5.6-16.6-9.2-24.9s-4.4-16.5-4.4-24.8s.8-16.5 4.4-24.8s9.2-16.6 9.2-24.9s-5.6-16.5-9.2-24.8s-4.4-16.5-4.4-24.8s.8-16.6 4.4-24.9s9.2-16.5 9.2-24.8s-5.6-16.5-9.2-24.8s-4.4-16.6-4.4-24.9s.8-16.5 4.4-24.8s9.2-16.5 9.2-24.8" stroke="#0b0"/>
<path d="M209.1 713.3c3.4-8.3 8.7-16.5 8.7-24.8s-5.3-16.6-8.7-24.9s-4.3-16.5-4.3-24.8s.9-16.5 4.3-24.8s8.7-16.6 8.7-24.9s-5.3-16.5-8.7-24.8s-4.3-16.5-4.3-24.8s.9-16.6 4.3-24.9s8.7-16.5 8.7-24.8s-5.3-16.5-8.7-24.8s-4.3-16.6-4.3-24.9s.9-16.5 4.3-24.8s8.7-16.5 8.7-24.8" stroke="#ab5" class="c"/>
<path d="M207.9 713.3c3.2-8.3 8.2-16.5 8.2-24.8s-5-16.6-8.2-24.9s-4.2-16.5-4.2-24.8s1-16.5 4.2-24.8s8.2-16.6 8.2-24.9s-5-16.5-8.2-24.8s-4.2-16.5-4.2-24.8s1-16.6 4.2-24.9s8.2-16.5 8.2-24.8s-5-16.5-8.2-24.8s-4.2-16.6-4.2-24.9s1-16.5 4.2-24.8s8.2-16.5 8.2-24.8" stroke="#e2f"/>
<path d="M206.7 713.3c3.1-8.3 7.7-16.5 7.7-24.8s-4.6-16.6-7.7-24.9s-4.1-16.5-4.1-24.8s1-16.5 4.1-24.8s7.7-16.6 7.7-24.9s-4.6-16.5-7.7-24.8s-4.1-16.5-4.1-24.8s1-16.6 4.1-24.9s7.7-16.5 7.7-24.8s-4.6-16.5-7.7-24.8s-4.1-16.6-4.1-24.9s1-16.5 4.1-24.8s7.7-16.5 7.7-24.8" stroke="#04d" class="b"/>
<path d="M205.5 713.3c2.9-8.3 7.3-16.5 7.3-24.8s-4.4-16.6-7.3-24.9s-4-16.5-4-24.8s1-16.5 4-24.8s7.3-16.6 7.3-24.9s-4.4-16.5-7.3-24.8s-4-16.5-4-24.8s1-16.6 4-24.9s7.3-16.5 7.3-24.8s-4.4-16.5-7.3-24.8s-4-16.6-4-24.9s1-16.5 4-24.8s7.3-16.5 7.3-24.8" stroke="#5e4"/>
<path d="M204.2 713.3c2.9-8.3 7-16.5 7-24.8s-4.1-16.6-7-24.9s-3.9-16.5-3.9-24.8s1.1-16.5 3.9-24.8s7-16.6 7-24.9s-4.1-16.5-7-24.8s-3.9-16.5-3.9-24.8s1.1-16.6 3.9-24.9s7-16.5 7-24.8s-4.1-16.5-7-24.8s-3.9-16.6-3.9-24.9s1.1-16.5 3.9-24.8s7-16.5 7-24.8" stroke="#7a4" class="a"/>
<path d="M203 713.3c2.7-8.3 6.6-16.5 6.6-24.8s-3.9-16.6-6.6-24.9s-3.8-16.5-3.8-24.8s1.1-16.5 3.8-24.8s6.6-16.6 6.6-24.9s-3.9-16.5-6.6-24.8s-3.8-16.5-3.8-24.8s1.1-16.6 3.8-24.9s6.6-16.5 6.6-24.8s-3.9-16.5-6.6-24.8s-3.8-16.6-3.8-24.9s1.1-16.5 3.8-24.8s6.6-16.5 6.6-24.8" stroke="#92b"/>
<path d="M201.7 713.3c2.7-8.3 6.4-16.5 6.4-24.8s-3.7-16.6-6.4-24.9s-3.7-16.5-3.7-24.8s1.1-16.5 3.7-24.8s6.4-16.6 6.4-24.9s-3.7-16.5-6.4-24.8s-3.7-16.5-3.7-24.8s1.1-16.6 3.7-24.9s6.4-16.5 6.4-24.8s-3.7-16.5-6.4-24.8s-3.7-16.6-3.7-24.9s1.1-16.5 3.7-24.8s6.4-16.5 6.4-24.8" stroke="#33c" class="a"/>
<path d="M200.5 713.3c2.5-8.3 6.1-16.5 6.1-24.8s-3.6-16.6-6.1-24.9s-3.6-16.5-3.6-24.8s1.1-16.5 3.6-24.8s6.1-16.6 6.1-24.9s-3.6-16.5-6.1-24.8s-3.6-16.5-3.6-24.8s1.1-16.6 3.6-24.9s6.1-16.5 6.1-24.8s-3.6-16.5-6.1-24.8s-3.6-16.6-3.6-24.9s1.1-16.5 3.6-24.8s6.1-16.5 6.1-24.8" stroke="#f62"/>
<path d="M199.2 713.3c2.5-8.3 5.8-16.5 5.8-24.8s-3.3-16.6-5.8-24.9s-3.5-16.5-3.5-24.8s1.1-16.5 3.5-24.8s5.8-16.6 5.8-24.9s-3.3-16.5-5.8-24.8s-3.5-16.5-3.5-24.8s1.1-16.6 3.5-24.9s5.8-16.5 5.8-24.8s-3.3-16.5-5.8-24.8s-3.5-16.6-3.5-24.9s1.1-16.5 3.5-24.8s5.8-16.5 5.8-24.8" stroke="#8f4"/>
<path d="M198 713.3c2.4-8.3 5.6-16.5 5.6-24.8s-3.2-16.6-5.6-24.9s-3.5-16.5-3.5-24.8s1.1-16.5 3.5-24.8s5.6-16.6 5.6-24.9s-3.2-16.5-5.6-24.8s-3.5-16.5-3.5-24.8s1.1-16.6 3.5-24.9s5.6-16.5 5.6-24.8s-3.2-16.5-5.6-24.8s-3.5-16.6-3.5-24.9s1.1-16.5 3.5-24.8s5.6-16.5 5.6-24.8" stroke="#3c3" class="c"/>
<path d="M196.7 713.3c2.3-8.3 5.4-16.5 5.4-24.8s-3.1-16.6-5.4-24.9s-3.4-16.5-3.4-24.8s1.1-16.5 3.4-24.8s5.4-16.6 5.4-24.9s-3.1-16.5-5.4-24.8s-3.4-16.5-3.4-24.8s1.1-16.6 3.4-24.9s5.4-16.5 5.4-24.8s-3.1-16.5-5.4-24.8s-3.4-16.6-3.4-24.9s1.1-16.5 3.4-24.8s5.4-16.5 5.4-24.8" stroke="#843"/>
<path d="M195.5 713.3c2.2-8.3 5.1-16.5 5.1-24.8s-2.9-16.6-5.1-24.9s-3.4-16.5-3.4-24.8s1.1-16.5 3.4-24.8s5.1-16.6 5.1-24.9s-2.9-16.5-5.1-24.8s-3.4-16.5-3.4-24.8s1.1-16.6 3.4-24.9s5.1-16.5 5.1-24.8s-2.9-16.5-5.1-24.8s-3.4-16.6-3.4-24.9s1.1-16.5 3.4-24.8s5.1-16.5 5.1-24.8" stroke="#b0b" class="c"/>
<path d="M194.2 713.3c2.1-8.3 4.9-16.5 4.9-24.8s-2.8-16.6-4.9-24.9s-3.3-16.5-3.3-24.8s1.1-16.5 3.3-24.8s4.9-16.6 4.9-24.9s-2.8-16.5-4.9-24.8s-3.3-16.5-3.3-24.8s1.1-16.6 3.3-24.9s4.9-16.5 4.9-24.8s-2.8-16.5-4.9-24.8s-3.3-16.6-3.3-24.9s1.1-16.5 3.3-24.8s4.9-16.5 4.9-24.8" stroke="#1ea"/>
<path d="M192.9 713.3c2.1-8.3 4.8-16.5 4.8-24.8s-2.7-16.6-4.8-24.9s-3.2-16.5-3.2-24.8s1.1-16.5 3.2-24.8s4.8-16.6 4.8-24.9s-2.7-16.5-4.8-24.8s-3.2-16.5-3.2-24.8s1.1-16.6 3.2-24.9s4.8-16.5 4.8-24.8s-2.7-16.5-4.8-24.8s-3.2-16.6-3.2-24.9s1.1-16.5 3.2-24.8s4.8-16.5 4.8-24.8" stroke="#849"/>
<path d="M191.6 713.3c2.1-8.3 4.6-16.5 4.6-24.8s-2.5-16.6-4.6-24.9s-3.1-16.5-3.1-24.8s1.1-16.5 3.1-24.8s4.6-16.6 4.6-24.9s-2.5-16.5-4.6-24.8s-3.1-16.5-3.1-24.8s1.1-16.6 3.1-24.9s4.6-16.5 4.6-24.8s-2.5-16.5-4.6-24.8s-3.1-16.6-3.1-24.9s1.1-16.5 3.1-24.8s4.6-16.5 4.6-24.8" stroke="#6c2"/>
<path d="M190.4 713.3c1.9-8.3 4.4-16.5 4.4-24.8s-2.5-16.6-4.4-24.9s-3.1-16.5-3.1-24.8s1.1-16.5 3.1-24.8s4.4-16.6 4.4-24.9s-2.5-16.5-4.4-24.8s-3.1-16.5-3.1-24.8s1.1-16.6 3.1-24.9s4.4-16.5 4.4-24.8s-2.5-16.5-4.4-24.8s-3.1-16.6-3.1-24.9s1.1-16.5 3.1-24.8s4.4-16.5 4.4-24.8" stroke="#44f" class="b"/>
<path d="M189.1 713.3c1.9-8.3 4.3-16.5 4.3-24.8s-2.4-16.6-4.3-24.9s-3-16.5-3-24.8s1.1-16.5 3-24.8s4.3-16.6 4.3-24.9s-2.4-16.5-4.3-24.8s-3-16.5-3-24.8s1.1-16.6 3-24.9s4.3-16.5 4.3-24.8s-2.4-16.5-4.3-24.8s-3-16.6-3-24.9s1.1-16.5 3-24.8s4.3-16.5 4.3-24.8" stroke="#7e3"/>
<path d="M187.8 713.3c1.9-8.3 4.1-16.5 4.1-24.8s-2.2-16.6-4.1-24.9s-3-16.5-3-24.8s1.1-16.5 3-24.8s4.1-16.6 4.1-24.9s-2.2-16.5-4.1-24.8s-3-16.5-3-24.8s1.1-16.6 3-24.9s4.1-16.5 4.1-24.8s-2.2-16.5-4.1-24.8s-3-16.6-3-24.9s1.1-16.5 3-24.8s4.1-16.5 4.1-24.8" stroke="#739"/>
<path d="M186.5 713.3c1.8-8.3 4-16.5 4-24.8s-2.2-16.6-4-24.9s-2.9-16.5-2.9-24.8s1.1-16.5 2.9-24.8s4-16.6 4-24.9s-2.2-16.5-4-24.8s-2.9-16.5-2.9-24.8s1.1-16.6 2.9-24.9s4-16.5 4-24.8s-2.2-16.5-4-24.8s-2.9-16.6-2.9-24.9s1.1-16.5 2.9-24.8s4-16.5 4-24.8" stroke="#f84" class="a"/>
<path d="M185.2 713.3c1.8-8.3 3.9-16.5 3.9-24.8s-2.1-16.6-3.9-24.9s-2.8-16.5-2.8-24.8s1.1-16.5 2.8-24.8s3.9-16.6 3.9-24.9s-2.1-16.5-3.9-24.8s-2.8-16.5-2.8-24.8s1.1-16.6 2.8-24.9s3.9-16.5 3.9-24.8s-2.1-16.5-3.9-24.8s-2.8-16.6-2.8-24.9s1.1-16.5 2.8-24.8s3.9-16.5 3.9-24.8" stroke="#265"/>
<path d="M184 713.3c1.7-8.3 3.7-16.5 3.7-24.8s-2-16.6-3.7-24.9s-2.8-16.5-2.8-24.8s1-16.5 2.8-24.8s3.7-16.6 3.7-24.9s-2-16.5-3.7-24.8s-2.8-16.5-2.8-24.8s1-16.6 2.8-24.9s3.7-16.5 3.7-24.8s-2-16.5-3.7-24.8s-2.8-16.6-2.8-24.9s1-16.5 2.8-24.8s3.7-16.5 3.7-24.8" stroke="#849"/>
<path d="M179.9 738.1c0-16.5 6.4-33.1 6.4-49.6s-6.4-33.1-6.4-49.7s6.4-33.1 6.4-49.7s-6.4-33.1-6.4-49.6s6.4-33.1 6.4-49.7s-6.4-33.1-6.4-49.7s6.4-33.1 6.4-49.6" stroke="#284" class="c"/>
<path d="M178.7 738.1c0-16.5 6.2-33.1 6.2-49.6s-6.2-33.1-6.2-49.7s6.2-33.1 6.2-49.7s-6.2-33.1-6.2-49.6s6.2-33.1 6.2-49.7s-6.2-33.1-6.2-49.7s6.2-33.1 6.2-49.6" stroke="#ca9"/>
<path d="M177.5 738.1c0-16.5 6-33.1 6-49.6s-6-33.1-6-49.7s6-33.1 6-49.7s-6-33.1-6-49.6s6-33.1 6-49.7s-6-33.1-6-49.7s6-33.1 6-49.6" stroke="#687"/>
<path d="M176.2 738.1c0-16.5 5.9-33.1 5.9-49.6s-5.9-33.1-5.9-49.7s5.9-33.1 5.9-49.7s-5.9-33.1-5.9-49.6s5.9-33.1 5.9-49.7s-5.9-33.1-5.9-49.7s5.9-33.1 5.9-49.6" stroke="#71a" class="a"/>
<path d="M175 738.1c0-16.5 5.7-33.1 5.7-49.6s-5.7-33.1-5.7-49.7s5.7-33.1 5.7-49.7s-5.7-33.1-5.7-49.6s5.7-33.1 5.7-49.7s-5.7-33.1-5.7-49.7s5.7-33.1 5.7-49.6" stroke="#8e5"/>
<path d="M173.7 738.1c0-16.5 5.7-33.1 5.7-49.6s-5.7-33.1-5.7-49.7s5.7-33.1 5.7-49.7s-5.7-33.1-5.7-49.6s5.7-33.1 5.7-49.7s-5.7-33.1-5.7-49.7s5.7-33.1 5.7-49.6" stroke="#579" class="b"/>
<path d="M172.5 738.1c0-16.5 5.5-33.1 5.5-49.6s-5.5-33.1-5.5-49.7s5.5-33.1 5.5-49.7s-5.5-33.1-5.5-49.6s5.5-33.1 5.5-49.7s-5.5-33.1-5.5-49.7s5.5-33.1 5.5-49.6" stroke="#c27"/>
<path d="M171.3 738.1c0-16.5 5.3-33.1 5.3-49.6s-5.3-33.1-5.3-49.7s5.3-33.1 5.3-49.7s-5.3-33.1-5.3-49.6s5.3-33.1 5.3-49.7s-5.3-33.1-5.3-49.7s5.3-33.1 5.3-49.6" stroke="#4a8" class="b"/>
<path d="M170 738.1c0-16.5 5.2-33.1 5.2-49.6s-5.2-33.1-5.2-49.7s5.2-33.1 5.2-49.7s-5.2-33.1-5.2-49.6s5.2-33.1 5.2-49.7s-5.2-33.1-5.2-49.7s5.2-33.1 5.2-49.6" stroke="#c62"/>
<path d="M168.8 738.1c0-16.5 5.1-33.1 5.1-49.6s-5.1-33.1-5.1-49.7s5.1-33.1 5.1-49.7s-5.1-33.1-5.1-49.6s5.1-33.1 5.1-49.7s-5.1-33.1-5.1-49.7s5.1-33.1 5.1-49.6" stroke="#3fd"/>
<path d="M167.5 738.1c0-16.5 5-33.1 5-49.6s-5-33.1-5-49.7s5-33.1 5-49.7s-5-33.1-5-49.6s5-33.1 5-49.7s-5-33.1-5-49.7s5-33.1 5-49.6" stroke="#c2e"/>
<path d="M166.3 738.1c0-16.5 4.8-33.1 4.8-49.6s-4.8-33.1-4.8-49.7s4.8-33.1 4.8-49.7s-4.8-33.1-4.8-49.6s4.8-33.1 4.8-49.7s-4.8-33.1-4.8-49.7s4.8-33.1 4.8-49.6" stroke="#005"/>
<path d="M165 738.1c0-16.5 4.8-33.1 4.8-49.6s-4.8-33.1-4.8-49.7s4.8-33.1 4.8-49.7s-4.8-33.1-4.8-49.6s4.8-33.1 4.8-49.7s-4.8-33.1-4.8-49.7s4.8-33.1 4.8-49.6" stroke="#865" class="c"/>
<path d="M163.8 738.1c0-16.5 4.6-33.1 4.6-49.6s-4.6-33.1-4.6-49.7s4.6-33.1 4.6-49.7s-4.6-33.1-4.6-49.6s4.6-33.1 4.6-49.7s-4.6-33.1-4.6-49.7s4.6-33.1 4.6-49.6" stroke="#dfd"/>
<path d="M162.5 738.1c0-16.5 4.6-33.1 4.6-49.6s-4.6-33.1-4.6-49.7s4.6-33.1 4.6-49.7s-4.6-33.1-4.6-49.6s4.6-33.1 4.6-49.7s-4.6-33.1-4.6-49.7s4.6-33.1 4.6-49.6" stroke="#792"/>
<path d="M161.2 738.1c0-16.5 4.5-33.1 4.5-49.6s-4.5-33.1-4.5-49.7s4.5-33.1 4.5-49.7s-4.5-33.1-4.5-49.6s4.5-33.1 4.5-49.7s-4.5-33.1-4.5-49.7s4.5-33.1 4.5-49.6" stroke="#30a"/>
<path d="M160 738.1c0-16.5 4.4-33.1 4.4-49.6s-4.4-33.1-4.4-49.7s4.4-33.1 4.4-49.7s-4.4-33.1-4.4-49.6s4.4-33.1 4.4-49.7s-4.4-33.1-4.4-49.7s4.4-33.1 4.4-49.6" stroke="#055"/>
<path d="M158.7 738.1c0-16.5 4.3-33.1 4.3-49.6s-4.3-33.1-4.3-49.7s4.3-33.1 4.3-49.7s-4.3-33.1-4.3-49.6s4.3-33.1 4.3-49.7s-4.3-33.1-4.3-49.7s4.3-33.1 4.3-49.6" stroke="#ae3" class="a"/>
<path d="M157.5 738.1c0-16.5 4.2-33.1 4.2-49.6s-4.2-33.1-4.2-49.7s4.2-33.1 4.2-49.7s-4.2-33.1-4.2-49.6s4.2-33.1 4.2-49.7s-4.2-33.1-4.2-49.7s4.2-33.1 4.2-49.6" stroke="#fbc"/>
<path d="M156.2 738.1c0-16.5 4.1-33.1 4.1-49.6s-4.1-33.1-4.1-49.7s4.1-33.1 4.1-49.7s-4.1-33.1-4.1-49.6s4.1-33.1 4.1-49.7s-4.1-33.1-4.1-49.7s4.1-33.1 4.1-49.6" stroke="#509" class="a"/>
<path d="M154.9 738.1c0-16.5 4.1-33.1 4.1-49.6s-4.1-33.1-4.1-49.7s4.1-33.1 4.1-49.7s-4.1-33.1-4.1-49.6s4.1-33.1 4.1-49.7s-4.1-33.1-4.1-49.7s4.1-33.1 4.1-49.6" stroke="#65e"/>
<path d="M153.7 738.1c0-16.5 3.9-33.1 3.9-49.6s-3.9-33.1-3.9-49.7s3.9-33.1 3.9-49.7s-3.9-33.1-3.9-49.6s3.9-33.1 3.9-49.7s-3.9-33.1-3.9-49.7s3.9-33.1 3.9-49.6" stroke="#1c2"/>
<path d="M152.4 738.1c0-16.5 3.9-33.1 3.9-49.6s-3.9-33.1-3.9-49.7s3.9-33.1 3.9-49.7s-3.9-33.1-3.9-49.6s3.9-33.1 3.9-49.7s-3.9-33.1-3.9-49.7s3.9-33.1 3.9-49.6" stroke="#db7" class="c"/>
<path d="M151.2 738.1c0-16.5 3.7-33.1 3.7-49.6s-3.7-33.1-3.7-49.7s3.7-33.1 3.7-49.7s-3.7-33.1-3.7-49.6s3.7-33.1 3.7-49.7s-3.7-33.1-3.7-49.7s3.7-33.1 3.7-49.6" stroke="#847"/>
<path d="M149.9 738.1c0-16.5 3.7-33.1 3.7-49.6s-3.7-33.1-3.7-49.7s3.7-33.1 3.7-49.7s-3.7-33.1-3.7-49.6s3.7-33.1 3.7-49.7s-3.7-33.1-3.7-49.7s3.7-33.1 3.7-49.6" stroke="#539"/>
<path d="M148.6 738.1c0-16.5 3.7-33.1 3.7-49.6s-3.7-33.1-3.7-49.7s3.7-33.1 3.7-49.7s-3.7-33.1-3.7-49.6s3.7-33.1 3.7-49.7s-3.7-33.1-3.7-49.7s3.7-33.1 3.7-49.6" stroke="#6b8"/>
<path d="M147.4 738.1c0-16.5 3.5-33.1 3.5-49.6s-3.5-33.1-3.5-49.7s3.5-33.1 3.5-49.7s-3.5-33.1-3.5-49.6s3.5-33.1 3.5-49.7s-3.5-33.1-3.5-49.7s3.5-33.1 3.5-49.6" stroke="#cac"/>
<path d="M146.1 738.1c0-16.5 3.5-33.1 3.5-49.6s-3.5-33.1-3.5-49.7s3.5-33.1 3.5-49.7s-3.5-33.1-3.5-49.6s3.5-33.1 3.5-49.7s-3.5-33.1-3.5-49.7s3.5-33.1 3.5-49.6" stroke="#171" class="a"/>
<path d="M144.8 738.1c0-16.5 3.5-33.1 3.5-49.6s-3.5-33.1-3.5-49.7s3.5-33.1 3.5-49.7s-3.5-33.1-3.5-49.6s3.5-33.1 3.5-49.7s-3.5-33.1-3.5-49.7s3.5-33.1 3.5-49.6" stroke="#109"/>
<path d="M143.5 738.1c0-16.5 3.4-33.1 3.4-49.6s-3.4-33.1-3.4-49.7s3.4-33.1 3.4-49.7s-3.4-33.1-3.4-49.6s3.4-33.1 3.4-49.7s-3.4-33.1-3.4-49.7s3.4-33.1 3.4-49.6" stroke="#c8e" class="a"/>
<path d="M142.3 738.1c0-16.5 3.3-33.1 3.3-49.6s-3.3-33.1-3.3-49.7s3.3-33.1 3.3-49.7s-3.3-33.1-3.3-49.6s3.3-33.1 3.3-49.7s-3.3-33.1-3.3-49.7s3.3-33.1 3.3-49.6" stroke="#4f1"/>
<path d="M141 738.1c0-16.5 3.3-33.1 3.3-49.6s-3.3-33.1-3.3-49.7s3.3-33.1 3.3-49.7s-3.3-33.1-3.3-49.6s3.3-33.1 3.3-49.7s-3.3-33.1-3.3-49.7s3.3-33.1 3.3-49.6" stroke="#684"/>
<path d="M139.7 738.1c0-16.5 3.2-33.1 3.2-49.6s-3.2-33.1-3.2-49.7s3.2-33.1 3.2-49.7s-3.2-33.1-3.2-49.6s3.2-33.1 3.2-49.7s-3.2-33.1-3.2-49.7s3.2-33.1 3.2-49.6" stroke="#c31"/>
<path d="M138.5 738.1c0-16.5 3.1-33.1 3.1-49.6s-3.1-33.1-3.1-49.7s3.1-33.1 3.1-49.7s-3.1-33.1-3.1-49.6s3.1-33.1 3.1-49.7s-3.1-33.1-3.1-49.7s3.1-33.1 3.1-49.6" stroke="#d7d" class="b"/>
<path d="M137.2 738.1c0-16.5 3.1-33.1 3.1-49.6s-3.1-33.1-3.1-49.7s3.1-33.1 3.1-49.7s-3.1-33.1-3.1-49.6s3.1-33.1 3.1-49.7s-3.1-33.1-3.1-49.7s3.1-33.1 3.1-49.6" stroke="#6fa"/>
<path d="M135.9 738.1c0-16.5 3-33.1 3-49.6s-3-33.1-3-49.7s3-33.1 3-49.7s-3-33.1-3-49.6s3-33.1 3-49.7s-3-33.1-3-49.7s3-33.1 3-49.6" stroke="#265" class="b"/>
<path d="M134.6 738.1c0-16.5 3-33.1 3-49.6s-3-33.1-3-49.7s3-33.1 3-49.7s-3-33.1-3-49.6s3-33.1 3-49.7s-3-33.1-3-49.7s3-33.1 3-49.6" stroke="#360"/>
<path d="M133.3 738.1c0-16.5 3-33.1 3-49.6s-3-33.1-3-49.7s3-33.1 3-49.7s-3-33.1-3-49.6s3-33.1 3-49.7s-3-33.1-3-49.7s3-33.1 3-49.6" stroke="#d1d"/>
<path d="M132.1 738.1c0-16.5 2.9-33.1 2.9-49.6s-2.9-33.1-2.9-49.7s2.9-33.1 2.9-49.7s-2.9-33.1-2.9-49.6s2.9-33.1 2.9-49.7s-2.9-33.1-2.9-49.7s2.9-33.1 2.9-49.6" stroke="#2ce"/>
<path d="M130.8 738.1c0-16.5 2.8-33.1 2.8-49.6s-2.8-33.1-2.8-49.7s2.8-33.1 2.8-49.7s-2.8-33.1-2.8-49.6s2.8-33.1 2.8-49.7s-2.8-33.1-2.8-49.7s2.8-33.1 2.8-49.6" stroke="#6c9" class="a"/>
<path d="M129.5 738.1c0-16.5 2.8-33.1 2.8-49.6s-2.8-33.1-2.8-49.7s2.8-33.1 2.8-49.7s-2.8-33.1-2.8-49.6s2.8-33.1 2.8-49.7s-2.8-33.1-2.8-49.7s2.8-33.1 2.8-49.6" stroke="#6a3"/>
<path d="M128.2 738.1c0-16.5 2.8-33.1 2.8-49.6s-2.8-33.1-2.8-49.7s2.8-33.1 2.8-49.7s-2.8-33.1-2.8-49.6s2.8-33.1 2.8-49.7s-2.8-33.1-2.8-49.7s2.8-33.1 2.8-49.6" stroke="#435"/>
<path d="M126.9 738.1c0-16.5 2.8-33.1 2.8-49.6s-2.8-33.1-2.8-49.7s2.8-33.1 2.8-49.7s-2.8-33.1-2.8-49.6s2.8-33.1 2.8-49.7s-2.8-33.1-2.8-49.7s2.8-33.1 2.8-49.6" stroke="#a1f"/>
<path d="M125.7 738.1c0-16.5 2.7-33.1 2.7-49.6s-2.7-33.1-2.7-49.7s2.7-33.1 2.7-49.7s-2.7-33.1-2.7-49.6s2.7-33.1 2.7-49.7s-2.7-33.1-2.7-49.7s2.7-33.1 2.7-49.6" stroke="#1dc" class="a"/>
<path d="M124.4 738.1c0-16.5 2.6-33.1 2.6-49.6s-2.6-33.1-2.6-49.7s2.6-33.1 2.6-49.7s-2.6-33.1-2.6-49.6s2.6-33.1 2.6-49.7s-2.6-33.1-2.6-49.7s2.6-33.1 2.6-49.6" stroke="#2e3"/>
<path d="M123.1 738.1c0-16.5 2.6-33.1 2.6-49.6s-2.6-33.1-2.6-49.7s2.6-33.1 2.6-49.7s-2.6-33.1-2.6-49.6s2.6-33.1 2.6-49.7s-2.6-33.1-2.6-49.7s2.6-33.1 2.6-49.6" stroke="#a03"/>
<path d="M121.8 738.1c0-16.5 2.6-33.1 2.6-49.6s-2.6-33.1-2.6-49.7s2.6-33.1 2.6-49.7s-2.6-33.1-2.6-49.6s2.6-33.1 2.6-49.7s-2.6-33.1-2.6-49.7s2.6-33.1 2.6-49.6" stroke="#e70"/>
<path d="M120.5 738.1c0-16.5 2.6-33.1 2.6-49.6s-2.6-33.1-2.6-49.7s2.6-33.1 2.6-49.7s-2.6-33.1-2.6-49.6s2.6-33.1 2.6-49.7s-2.6-33.1-2.6-49.7s2.6-33.1 2.6-49.6" stroke="#34f"/>
<path d="M119.3 738.1c0-16.5 2.5-33.1 2.5-49.6s-2.5-33.1-2.5-49.7s2.5-33.1 2.5-49.7s-2.5-33.1-2.5-49.6s2.5-33.1 2.5-49.7s-2.5-33.1-2.5-49.7s2.5-33.1 2.5-49.6" stroke="#6ec"/>
<path d="M118 738.1c0-16.5 2.5-33.1 2.5-49.6s-2.5-33.1-2.5-49.7s2.5-33.1 2.5-49.7s-2.5-33.1-2.5-49.6s2.5-33.1 2.5-49.7s-2.5-33.1-2.5-49.7s2.5-33.1 2.5-49.6" stroke="#882"/>
<path d="M116.7 738.1c0-16.5 2.4-33.1 2.4-49.6s-2.4-33.1-2.4-49.7s2.4-33.1 2.4-49.7s-2.4-33.1-2.4-49.6s2.4-33.1 2.4-49.7s-2.4-33.1-2.4-49.7s2.4-33.1 2.4-49.6" stroke="#e62"/>
<path d="M115.4 738.1c0-16.5 2.4-33.1 2.4-49.6s-2.4-33.1-2.4-49.7s2.4-33.1 2.4-49.7s-2.4-33.1-2.4-49.6s2.4-33.1 2.4-49.7s-2.4-33.1-2.4-49.7s2.4-33.1 2.4-49.6" stroke="#235"/>
<path d="M114.1 738.1c0-16.5 2.4-33.1 2.4-49.6s-2.4-33.1-2.4-49.7s2.4-33.1 2.4-49.7s-2.4-33.1-2.4-49.6s2.4-33.1 2.4-49.7s-2.4-33.1-2.4-49.7s2.4-33.1 2.4-49.6" stroke="#6f9"/>
<path d="M112.8 738.1c0-16.5 2.4-33.1 2.4-49.6s-2.4-33.1-2.4-49.7s2.4-33.1 2.4-49.7s-2.4-33.1-2.4-49.6s2.4-33.1 2.4-49.7s-2.4-33.1-2.4-49.7s2.4-33.1 2.4-49.6" stroke="#1eb"/>
<path d="M111.5 738.1c0-16.5 2.4-33.1 2.4-49.6s-2.4-33.1-2.4-49.7s2.4-33.1 2.4-49.7s-2.4-33.1-2.4-49.6s2.4-33.1 2.4-49.7s-2.4-33.1-2.4-49.7s2.4-33.1 2.4-49.6" stroke="#50f"/>
<path d="M110.3 738.1c0-16.5 2.3-33.1 2.3-49.6s-2.3-33.1-2.3-49.7s2.3-33.1 2.3-49.7s-2.3-33.1-2.3-49.6s2.3-33.1 2.3-49.7s-2.3-33.1-2.3-49.7s2.3-33.1 2.3-49.6" stroke="#b07" class="a"/>
<path d="M109 738.1c0-16.5 2.2-33.1 2.2-49.6s-2.2-33.1-2.2-49.7s2.2-33.1 2.2-49.7s-2.2-33.1-2.2-49.6s2.2-33.1 2.2-49.7s-2.2-33.1-2.2-49.7s2.2-33.1 2.2-49.6" stroke="#8e9"/>
<path d="M107.7 738.1c0-16.5 2.2-33.1 2.2-49.6s-2.2-33.1-2.2-49.7s2.2-33.1 2.2-49.7s-2.2-33.1-2.2-49.6s2.2-33.1 2.2-49.7s-2.2-33.1-2.2-49.7s2.2-33.1 2.2-49.6" stroke="#2e4"/>
<path d="M106.4 738.1c0-16.5 2.2-33.1 2.2-49.6s-2.2-33.1-2.2-49.7s2.2-33.1 2.2-49.7s-2.2-33.1-2.2-49.6s2.2-33.1 2.2-49.7s-2.2-33.1-2.2-49.7s2.2-33.1 2.2-49.6" stroke="#62d" class="b"/>
<path d="M105.1 738.1c0-16.5 2.2-33.1 2.2-49.6s-2.2-33.1-2.2-49.7s2.2-33.1 2.2-49.7s-2.2-33.1-2.2-49.6s2.2-33.1 2.2-49.7s-2.2-33.1-2.2-49.7s2.2-33.1 2.2-49.6" stroke="#e04"/>
<path d="M103.8 738.1c0-16.5 2.2-33.1 2.2-49.6s-2.2-33.1-2.2-49.7s2.2-33.1 2.2-49.7s-2.2-33.1-2.2-49.6s2.2-33.1 2.2-49.7s-2.2-33.1-2.2-49.7s2.2-33.1 2.2-49.6" stroke="#3be"/>
<path d="M102.5 738.1c0-16.5 2.2-33.1 2.2-49.6s-2.2-33.1-2.2-49.7s2.2-33.1 2.2-49.7s-2.2-33.1-2.2-49.6s2.2-33.1 2.2-49.7s-2.2-33.1-2.2-49.7s2.2-33.1 2.2-49.6" stroke="#0f1" class="a"/>
<path d="M101.2 738.1c0-16.5 2.2-33.1 2.2-49.6s-2.2-33.1-2.2-49.7s2.2-33.1 2.2-49.7s-2.2-33.1-2.2-49.6s2.2-33.1 2.2-49.7s-2.2-33.1-2.2-49.7s2.2-33.1 2.2-49.6" stroke="#928"/>
<path d="M99.9 738.1c0-16.5 2.2-33.1 2.2-49.6s-2.2-33.1-2.2-49.7s2.2-33.1 2.2-49.7s-2.2-33.1-2.2-49.6s2.2-33.1 2.2-49.7s-2.2-33.1-2.2-49.7s2.2-33.1 2.2-49.6" stroke="#649"/>
<path d="M98.7 738.1c0-16.5 2.1-33.1 2.1-49.6s-2.1-33.1-2.1-49.7s2.1-33.1 2.1-49.7s-2.1-33.1-2.1-49.6s2.1-33.1 2.1-49.7s-2.1-33.1-2.1-49.7s2.1-33.1 2.1-49.6" stroke="#b7d"/>
<path d="M97.4 738.1c0-16.5 2-33.1 2-49.6s-2-33.1-2-49.7s2-33.1 2-49.7s-2-33.1-2-49.6s2-33.1 2-49.7s-2-33.1-2-49.7s2-33.1 2-49.6" stroke="#ae5" class="a"/>
<path d="M96.1 738.1c0-16.5 2-33.1 2-49.6s-2-33.1-2-49.7s2-33.1 2-49.7s-2-33.1-2-49.6s2-33.1 2-49.7s-2-33.1-2-49.7s2-33.1 2-49.6" stroke="#2d0"/>
<path d="M94.8 738.1c0-16.5 2-33.1 2-49.6s-2-33.1-2-49.7s2-33.1 2-49.7s-2-33.1-2-49.6s2-33.1 2-49.7s-2-33.1-2-49.7s2-33.1 2-49.6" stroke="#262" class="c"/>
<path d="M93.5 738.1c0-16.5 2-33.1 2-49.6s-2-33.1-2-49.7s2-33.1 2-49.7s-2-33.1-2-49.6s2-33.1 2-49.7s-2-33.1-2-49.7s2-33.1 2-49.6" stroke="#50b"/>
<path d="M92.2 738.1c0-16.5 2-33.1 2-49.6s-2-33.1-2-49.7s2-33.1 2-49.7s-2-33.1-2-49.6s2-33.1 2-49.7s-2-33.1-2-49.7s2-33.1 2-49.6" stroke="#bc4"/>
<path d="M91 738.1c0-16.5 1.8-33.1 1.8-49.6s-1.8-33.1-1.8-49.7s1.8-33.1 1.8-49.7s-1.8-33.1-1.8-49.6s1.8-33.1 1.8-49.7s-1.8-33.1-1.8-49.7s1.8-33.1 1.8-49.6" stroke="#3ba" class="a"/>
<path d="M89.7 738.1c0-16.5 1.8-33.1 1.8-49.6s-1.8-33.1-1.8-49.7s1.8-33.1 1.8-49.7s-1.8-33.1-1.8-49.6s1.8-33.1 1.8-49.7s-1.8-33.1-1.8-49.7s1.8-33.1 1.8-49.6" stroke="#f11"/>
<path d="M88.4 738.1c0-16.5 1.8-33.1 1.8-49.6s-1.8-33.1-1.8-49.7s1.8-33.1 1.8-49.7s-1.8-33.1-1.8-49.6s1.8-33.1 1.8-49.7s-1.8-33.1-1.8-49.7s1.8-33.1 1.8-49.6" stroke="#05e"/>
<path d="M87.1 738.1c0-16.5 1.8-33.1 1.8-49.6s-1.8-33.1-1.8-49.7s1.8-33.1 1.8-49.7s-1.8-33.1-1.8-49.6s1.8-33.1 1.8-49.7s-1.8-33.1-1.8-49.7s1.8-33.1 1.8-49.6" stroke="#ca8" class="b"/>
<path d="M85.9 738.1c0-16.5 1.6-33.1 1.6-49.6s-1.6-33.1-1.6-49.7s1.6-33.1 1.6-49.7s-1.6-33.1-1.6-49.6s1.6-33.1 1.6-49.7s-1.6-33.1-1.6-49.7s1.6-33.1 1.6-49.6" stroke="#499"/>
<path d="M84.6 738.1c0-16.5 1.6-33.1 1.6-49.6s-1.6-33.1-1.6-49.7s1.6-33.1 1.6-49.7s-1.6-33.1-1.6-49.6s1.6-33.1 1.6-49.7s-1.6-33.1-1.6-49.7s1.6-33.1 1.6-49.6" stroke="#b91"/>
<path d="M83.3 738.1c0-16.5 1.6-33.1 1.6-49.6s-1.6-33.1-1.6-49.7s1.6-33.1 1.6-49.7s-1.6-33.1-1.6-49.6s1.6-33.1 1.6-49.7s-1.6-33.1-1.6-49.7s1.6-33.1 1.6-49.6" stroke="#107" class="b"/>
<path d="M82 738.1c0-16.5 1.6-33.1 1.6-49.6s-1.6-33.1-1.6-49.7s1.6-33.1 1.6-49.7s-1.6-33.1-1.6-49.6s1.6-33.1 1.6-49.7s-1.6-33.1-1.6-49.7s1.6-33.1 1.6-49.6" stroke="#99a"/>
<path d="M80.7 738.1c0-16.5 1.6-33.1 1.6-49.6s-1.6-33.1-1.6-49.7s1.6-33.1 1.6-49.7s-1.6-33.1-1.6-49.6s1.6-33.1 1.6-49.7s-1.6-33.1-1.6-49.7s1.6-33.1 1.6-49.6" stroke="#9ed"/>
<path d="M79.5 738.1c0-16.5 1.4-33.1 1.4-49.6s-1.4-33.1-1.4-49.7s1.4-33.1 1.4-49.7s-1.4-33.1-1.4-49.6s1.4-33.1 1.4-49.7s-1.4-33.1-1.4-49.7s1.4-33.1 1.4-49.6" stroke="#f52" class="a"/>
<path d="M78.2 738.1c0-16.5 1.4-33.1 1.4-49.6s-1.4-33.1-1.4-49.7s1.4-33.1 1.4-49.7s-1.4-33.1-1.4-49.6s1.4-33.1 1.4-49.7s-1.4-33.1-1.4-49.7s1.4-33.1 1.4-49.6" stroke="#21d"/>
<path d="M76.9 738.1c0-16.5 1.4-33.1 1.4-49.6s-1.4-33.1-1.4-49.7s1.4-33.1 1.4-49.7s-1.4-33.1-1.4-49.6s1.4-33.1 1.4-49.7s-1.4-33.1-1.4-49.7s1.4-33.1 1.4-49.6" stroke="#b78"/>
<path d="M75.6 738.1c0-16.5 1.4-33.1 1.4-49.6s-1.4-33.1-1.4-49.7s1.4-33.1 1.4-49.7s-1.4-33.1-1.4-49.6s1.4-33.1 1.4-49.7s-1.4-33.1-1.4-49.7s1.4-33.1 1.4-49.6" stroke="#4e2" class="a"/>
<path d="M74.4 738.1c0-16.5 1.2-33.1 1.2-49.6s-1.2-33.1-1.2-49.7s1.2-33.1 1.2-49.7s-1.2-33.1-1.2-49.6s1.2-33.1 1.2-49.7s-1.2-33.1-1.2-49.7s1.2-33.1 1.2-49.6" stroke="#873"/>
<path d="M73.1 738.1c0-16.5 1.2-33.1 1.2-49.6s-1.2-33.1-1.2-49.7s1.2-33.1 1.2-49.7s-1.2-33.1-1.2-49.6s1.2-33.1 1.2-49.7s-1.2-33.1-1.2-49.7s1.2-33.1 1.2-49.6" stroke="#e3e" class="b"/>
<path d="M71.8 738.1c0-16.5 1.2-33.1 1.2-49.6s-1.2-33.1-1.2-49.7s1.2-33.1 1.2-49.7s-1.2-33.1-1.2-49.6s1.2-33.1 1.2-49.7s-1.2-33.1-1.2-49.7s1.2-33.1 1.2-49.6" stroke="#14c"/>
<path d="M70.5 738.1c0-16.5 1.2-33.1 1.2-49.6s-1.2-33.1-1.2-49.7s1.2-33.1 1.2-49.7s-1.2-33.1-1.2-49.6s1.2-33.1 1.2-49.7s-1.2-33.1-1.2-49.7s1.2-33.1 1.2-49.6" stroke="#2c0"/>
<path d="M69.2 738.1c0-16.5 1.2-33.1 1.2-49.6s-1.2-33.1-1.2-49.7s1.2-33.1 1.2-49.7s-1.2-33.1-1.2-49.6s1.2-33.1 1.2-49.7s-1.2-33.1-1.2-49.7s1.2-33.1 1.2-49.6" stroke="#e88"/>
<path d="M68 738.1c0-16.5 1-33.1 1-49.6s-1-33.1-1-49.7s1-33.1 1-49.7s-1-33.1-1-49.6s1-33.1 1-49.7s-1-33.1-1-49.7s1-33.1 1-49.6" stroke="#94e" class="b"/>
<path d="M66.7 738.1c0-16.5 1-33.1 1-49.6s-1-33.1-1-49.7s1-33.1 1-49.7s-1-33.1-1-49.6s1-33.1 1-49.7s-1-33.1-1-49.7s1-33.1 1-49.6" stroke="#2aa"/>
<path d="M65.4 738.1c0-16.5 1-33.1 1-49.6s-1-33.1-1-49.7s1-33.1 1-49.7s-1-33.1-1-49.6s1-33.1 1-49.7s-1-33.1-1-49.7s1-33.1 1-49.6" stroke="#1c0" class="c"/>
<path d="M64.1 738.1c0-16.5 1-33.1 1-49.6s-1-33.1-1-49.7s1-33.1 1-49.7s-1-33.1-1-49.6s1-33.1 1-49.7s-1-33.1-1-49.7s1-33.1 1-49.6" stroke="#d21"/>
<path d="M261.8 700.4c-1.7-5-4.8-9.9-4.8-14.9s3.1-9.9 4.8-14.9s2.8-9.9 2.8-14.9s-1.1-9.9-2.8-14.9s-4.8-9.9-4.8-14.9s3.1-9.9 4.8-14.9s2.8-9.9 2.8-14.9s-1.1-9.9-2.8-14.9s-4.8-9.9-4.8-14.9s3.1-9.9 4.8-14.9s2.8-9.9 2.8-14.9s-1.1-9.9-2.8-14.9s-4.8-9.9-4.8-14.9s3.1-9.9 4.8-14.9s2.8-9.9 2.8-14.9s-1.1-9.9-2.8-14.9s-4.8-9.9-4.8-14.9s3.1-9.9 4.8-14.9s2.8-9.9 2.8-14.9s-1.1-9.9-2.8-14.9s-4.8-9.9-4.8-14.9" stroke="#9a2"/>
<path d="M262.4 700.4c-1.6-5-4.1-9.9-4.1-14.9s2.5-9.9 4.1-14.9s2.7-9.9 2.7-14.9s-1.1-9.9-2.7-14.9s-4.1-9.9-4.1-14.9s2.5-9.9 4.1-14.9s2.7-9.9 2.7-14.9s-1.1-9.9-2.7-14.9s-4.1-9.9-4.1-14.9s2.5-9.9 4.1-14.9s2.7-9.9 2.7-14.9s-1.1-9.9-2.7-14.9s-4.1-9.9-4.1-14.9s2.5-9.9 4.1-14.9s2.7-9.9 2.7-14.9s-1.1-9.9-2.7-14.9s-4.1-9.9-4.1-14.9s2.5-9.9 4.1-14.9s2.7-9.9 2.7-14.9s-1.1-9.9-2.7-14.9s-4.1-9.9-4.1-14.9" stroke="#ab3"/>
<path d="M263.1 700.4c-1.5-5-3.5-9.9-3.5-14.9s2-9.9 3.5-14.9s2.5-9.9 2.5-14.9s-1-9.9-2.5-14.9s-3.5-9.9-3.5-14.9s2-9.9 3.5-14.9s2.5-9.9 2.5-14.9s-1-9.9-2.5-14.9s-3.5-9.9-3.5-14.9s2-9.9 3.5-14.9s2.5-9.9 2.5-14.9s-1-9.9-2.5-14.9s-3.5-9.9-3.5-14.9s2-9.9 3.5-14.9s2.5-9.9 2.5-14.9s-1-9.9-2.5-14.9s-3.5-9.9-3.5-14.9s2-9.9 3.5-14.9s2.5-9.9 2.5-14.9s-1-9.9-2.5-14.9s-3.5-9.9-3.5-14.9" stroke="#7b4"/>
<path d="M264 700.4c-1.4-5-3.1-9.9-3.1-14.9s1.7-9.9 3.1-14.9s2.3-9.9 2.3-14.9s-1-9.9-2.3-14.9s-3.1-9.9-3.1-14.9s1.7-9.9 3.1-14.9s2.3-9.9 2.3-14.9s-1-9.9-2.3-14.9s-3.1-9.9-3.1-14.9s1.7-9.9 3.1-14.9s2.3-9.9 2.3-14.9s-1-9.9-2.3-14.9s-3.1-9.9-3.1-14.9s1.7-9.9 3.1-14.9s2.3-9.9 2.3-14.9s-1-9.9-2.3-14.9s-3.1-9.9-3.1-14.9s1.7-9.9 3.1-14.9s2.3-9.9 2.3-14.9s-1-9.9-2.3-14.9s-3.1-9.9-3.1-14.9" stroke="#a6d"/>
<path d="M264.9 700.4c-1.2-5-2.7-9.9-2.7-14.9s1.5-9.9 2.7-14.9s2.1-9.9 2.1-14.9s-.9-9.9-2.1-14.9s-2.7-9.9-2.7-14.9s1.5-9.9 2.7-14.9s2.1-9.9 2.1-14.9s-.9-9.9-2.1-14.9s-2.7-9.9-2.7-14.9s1.5-9.9 2.7-14.9s2.1-9.9 2.1-14.9s-.9-9.9-2.1-14.9s-2.7-9.9-2.7-14.9s1.5-9.9 2.7-14.9s2.1-9.9 2.1-14.9s-.9-9.9-2.1-14.9s-2.7-9.9-2.7-14.9s1.5-9.9 2.7-14.9s2.1-9.9 2.1-14.9s-.9-9.9-2.1-14.9s-2.7-9.9-2.7-14.9" stroke="#7c4"/>
<path d="M265.9 700.4c-1.1-5-2.4-9.9-2.4-14.9s1.3-9.9 2.4-14.9s2-9.9 2-14.9s-.9-9.9-2-14.9s-2.4-9.9-2.4-14.9s1.3-9.9 2.4-14.9s2-9.9 2-14.9s-.9-9.9-2-14.9s-2.4-9.9-2.4-14.9s1.3-9.9 2.4-14.9s2-9.9 2-14.9s-.9-9.9-2-14.9s-2.4-9.9-2.4-14.9s1.3-9.9 2.4-14.9s2-9.9 2-14.9s-.9-9.9-2-14.9s-2.4-9.9-2.4-14.9s1.3-9.9 2.4-14.9s2-9.9 2-14.9s-.9-9.9-2-14.9s-2.4-9.9-2.4-14.9" stroke="#919"/>
<path d="M267 700.4c-1.1-5-2.2-9.9-2.2-14.9s1.1-9.9 2.2-14.9s1.8-9.9 1.8-14.9s-.8-9.9-1.8-14.9s-2.2-9.9-2.2-14.9s1.1-9.9 2.2-14.9s1.8-9.9 1.8-14.9s-.8-9.9-1.8-14.9s-2.2-9.9-2.2-14.9s1.1-9.9 2.2-14.9s1.8-9.9 1.8-14.9s-.8-9.9-1.8-14.9s-2.2-9.9-2.2-14.9s1.1-9.9 2.2-14.9s1.8-9.9 1.8-14.9s-.8-9.9-1.8-14.9s-2.2-9.9-2.2-14.9s1.1-9.9 2.2-14.9s1.8-9.9 1.8-14.9s-.8-9.9-1.8-14.9s-2.2-9.9-2.2-14.9" stroke="#e9a"/>
<path d="M268 700.4c-.9-5-1.9-9.9-1.9-14.9s1-9.9 1.9-14.9s1.8-9.9 1.8-14.9s-.8-9.9-1.8-14.9s-1.9-9.9-1.9-14.9s1-9.9 1.9-14.9s1.8-9.9 1.8-14.9s-.8-9.9-1.8-14.9s-1.9-9.9-1.9-14.9s1-9.9 1.9-14.9s1.8-9.9 1.8-14.9s-.8-9.9-1.8-14.9s-1.9-9.9-1.9-14.9s1-9.9 1.9-14.9s1.8-9.9 1.8-14.9s-.8-9.9-1.8-14.9s-1.9-9.9-1.9-14.9s1-9.9 1.9-14.9s1.8-9.9 1.8-14.9s-.8-9.9-1.8-14.9s-1.9-9.9-1.9-14.9" stroke="#062" class="b"/>
<path d="M269.2 700.4c-.9-5-1.8-9.9-1.8-14.9s.9-9.9 1.8-14.9s1.6-9.9 1.6-14.9s-.8-9.9-1.6-14.9s-1.8-9.9-1.8-14.9s.9-9.9 1.8-14.9s1.6-9.9 1.6-14.9s-.8-9.9-1.6-14.9s-1.8-9.9-1.8-14.9s.9-9.9 1.8-14.9s1.6-9.9 1.6-14.9s-.8-9.9-1.6-14.9s-1.8-9.9-1.8-14.9s.9-9.9 1.8-14.9s1.6-9.9 1.6-14.9s-.8-9.9-1.6-14.9s-1.8-9.9-1.8-14.9s.9-9.9 1.8-14.9s1.6-9.9 1.6-14.9s-.8-9.9-1.6-14.9s-1.8-9.9-1.8-14.9" stroke="#6a5"/>
<path d="M271.8 715.3c0-9.9-3.1-19.9-3.1-29.8s3.1-19.9 3.1-29.8s-3.1-19.9-3.1-29.8s3.1-19.9 3.1-29.8s-3.1-19.9-3.1-29.8s3.1-19.9 3.1-29.8s-3.1-19.9-3.1-29.8s3.1-19.9 3.1-29.8s-3.1-19.9-3.1-29.8s3.1-19.9 3.1-29.8s-3.1-19.9-3.1-29.8" stroke="#5ad"/>
<path d="M272.9 715.3c0-9.9-2.9-19.9-2.9-29.8s2.9-19.9 2.9-29.8s-2.9-19.9-2.9-29.8s2.9-19.9 2.9-29.8s-2.9-19.9-2.9-29.8s2.9-19.9 2.9-29.8s-2.9-19.9-2.9-29.8s2.9-19.9 2.9-29.8s-2.9-19.9-2.9-29.8s2.9-19.9 2.9-29.8s-2.9-19.9-2.9-29.8" stroke="#f49" class="b"/>
<path d="M274 715.3c0-9.9-2.7-19.9-2.7-29.8s2.7-19.9 2.7-29.8s-2.7-19.9-2.7-29.8s2.7-19.9 2.7-29.8s-2.7-19.9-2.7-29.8s2.7-19.9 2.7-29.8s-2.7-19.9-2.7-29.8s2.7-19.9 2.7-29.8s-2.7-19.9-2.7-29.8s2.7-19.9 2.7-29.8s-2.7-19.9-2.7-29.8" stroke="#43c"/>
<path d="M275.1 715.3c0-9.9-2.5-19.9-2.5-29.8s2.5-19.9 2.5-29.8s-2.5-19.9-2.5-29.8s2.5-19.9 2.5-29.8s-2.5-19.9-2.5-29.8s2.5-19.9 2.5-29.8s-2.5-19.9-2.5-29.8s2.5-19.9 2.5-29.8s-2.5-19.9-2.5-29.8s2.5-19.9 2.5-29.8s-2.5-19.9-2.5-29.8" stroke="#699" class="b"/>
<path d="M276.2 715.3c0-9.9-2.3-19.9-2.3-29.8s2.3-19.9 2.3-29.8s-2.3-19.9-2.3-29.8s2.3-19.9 2.3-29.8s-2.3-19.9-2.3-29.8s2.3-19.9 2.3-29.8s-2.3-19.9-2.3-29.8s2.3-19.9 2.3-29.8s-2.3-19.9-2.3-29.8s2.3-19.9 2.3-29.8s-2.3-19.9-2.3-29.8" stroke="#5d5"/>
<path d="M277.4 715.3c0-9.9-2.2-19.9-2.2-29.8s2.2-19.9 2.2-29.8s-2.2-19.9-2.2-29.8s2.2-19.9 2.2-29.8s-2.2-19.9-2.2-29.8s2.2-19.9 2.2-29.8s-2.2-19.9-2.2-29.8s2.2-19.9 2.2-29.8s-2.2-19.9-2.2-29.8s2.2-19.9 2.2-29.8s-2.2-19.9-2.2-29.8" stroke="#a63"/>
<path d="M278.5 715.3c0-9.9-2-19.9-2-29.8s2-19.9 2-29.8s-2-19.9-2-29.8s2-19.9 2-29.8s-2-19.9-2-29.8s2-19.9 2-29.8s-2-19.9-2-29.8s2-19.9 2-29.8s-2-19.9-2-29.8s2-19.9 2-29.8s-2-19.9-2-29.8" stroke="#54b"/>
<path d="M279.7 715.3c0-9.9-1.9-19.9-1.9-29.8s1.9-19.9 1.9-29.8s-1.9-19.9-1.9-29.8s1.9-19.9 1.9-29.8s-1.9-19.9-1.9-29.8s1.9-19.9 1.9-29.8s-1.9-19.9-1.9-29.8s1.9-19.9 1.9-29.8s-1.9-19.9-1.9-29.8s1.9-19.9 1.9-29.8s-1.9-19.9-1.9-29.8" stroke="#2af" class="c"/>
<path d="M280.9 715.3c0-9.9-1.8-19.9-1.8-29.8s1.8-19.9 1.8-29.8s-1.8-19.9-1.8-29.8s1.8-19.9 1.8-29.8s-1.8-19.9-1.8-29.8s1.8-19.9 1.8-29.8s-1.8-19.9-1.8-29.8s1.8-19.9 1.8-29.8s-1.8-19.9-1.8-29.8s1.8-19.9 1.8-29.8s-1.8-19.9-1.8-29.8" stroke="#c91"/>
<path d="M282.1 715.3c0-9.9-1.7-19.9-1.7-29.8s1.7-19.9 1.7-29.8s-1.7-19.9-1.7-29.8s1.7-19.9 1.7-29.8s-1.7-19.9-1.7-29.8s1.7-19.9 1.7-29.8s-1.7-19.9-1.7-29.8s1.7-19.9 1.7-29.8s-1.7-19.9-1.7-29.8s1.7-19.9 1.7-29.8s-1.7-19.9-1.7-29.8" stroke="#875" class="b"/>
<path d="M283.3 715.3c0-9.9-1.6-19.9-1.6-29.8s1.6-19.9 1.6-29.8s-1.6-19.9-1.6-29.8s1.6-19.9 1.6-29.8s-1.6-19.9-1.6-29.8s1.6-19.9 1.6-29.8s-1.6-19.9-1.6-29.8s1.6-19.9 1.6-29.8s-1.6-19.9-1.6-29.8s1.6-19.9 1.6-29.8s-1.6-19.9-1.6-29.8" stroke="#a25"/>
<path d="M284.5 715.3c0-9.9-1.5-19.9-1.5-29.8s1.5-19.9 1.5-29.8s-1.5-19.9-1.5-29.8s1.5-19.9 1.5-29.8s-1.5-19.9-1.5-29.8s1.5-19.9 1.5-29.8s-1.5-19.9-1.5-29.8s1.5-19.9 1.5-29.8s-1.5-19.9-1.5-29.8s1.5-19.9 1.5-29.8s-1.5-19.9-1.5-29.8" stroke="#62e" class="b"/>
<path d="M285.8 715.3c0-9.9-1.5-19.9-1.5-29.8s1.5-19.9 1.5-29.8s-1.5-19.9-1.5-29.8s1.5-19.9 1.5-29.8s-1.5-19.9-1.5-29.8s1.5-19.9 1.5-29.8s-1.5-19.9-1.5-29.8s1.5-19.9 1.5-29.8s-1.5-19.9-1.5-29.8s1.5-19.9 1.5-29.8s-1.5-19.9-1.5-29.8" stroke="#4e0"/>
<path d="M287 715.3c0-9.9-1.4-19.9-1.4-29.8s1.4-19.9 1.4-29.8s-1.4-19.9-1.4-29.8s1.4-19.9 1.4-29.8s-1.4-19.9-1.4-29.8s1.4-19.9 1.4-29.8s-1.4-19.9-1.4-29.8s1.4-19.9 1.4-29.8s-1.4-19.9-1.4-29.8s1.4-19.9 1.4-29.8s-1.4-19.9-1.4-29.8" stroke="#5ef" class="b"/>
<path d="M288.2 715.3c0-9.9-1.3-19.9-1.3-29.8s1.3-19.9 1.3-29.8s-1.3-19.9-1.3-29.8s1.3-19.9 1.3-29.8s-1.3-19.9-1.3-29.8s1.3-19.9 1.3-29.8s-1.3-19.9-1.3-29.8s1.3-19.9 1.3-29.8s-1.3-19.9-1.3-29.8s1.3-19.9 1.3-29.8s-1.3-19.9-1.3-29.8" stroke="#529"/>
<path d="M289.4 715.3c0-9.9-1.2-19.9-1.2-29.8s1.2-19.9 1.2-29.8s-1.2-19.9-1.2-29.8s1.2-19.9 1.2-29.8s-1.2-19.9-1.2-29.8s1.2-19.9 1.2-29.8s-1.2-19.9-1.2-29.8s1.2-19.9 1.2-29.8s-1.2-19.9-1.2-29.8s1.2-19.9 1.2-29.8s-1.2-19.9-1.2-29.8" stroke="#c95"/>
<path d="M290.7 715.3c0-9.9-1.2-19.9-1.2-29.8s1.2-19.9 1.2-29.8s-1.2-19.9-1.2-29.8s1.2-19.9 1.2-29.8s-1.2-19.9-1.2-29.8s1.2-19.9 1.2-29.8s-1.2-19.9-1.2-29.8s1.2-19.9 1.2-29.8s-1.2-19.9-1.2-29.8s1.2-19.9 1.2-29.8s-1.2-19.9-1.2-29.8" stroke="#c57"/>
<path d="M291.9 715.3c0-9.9-1.1-19.9-1.1-29.8s1.1-19.9 1.1-29.8s-1.1-19.9-1.1-29.8s1.1-19.9 1.1-29.8s-1.1-19.9-1.1-29.8s1.1-19.9 1.1-29.8s-1.1-19.9-1.1-29.8s1.1-19.9 1.1-29.8s-1.1-19.9-1.1-29.8s1.1-19.9 1.1-29.8s-1.1-19.9-1.1-29.8" stroke="#0d6"/>
<path d="M293.2 715.3c0-9.9-1.1-19.9-1.1-29.8s1.1-19.9 1.1-29.8s-1.1-19.9-1.1-29.8s1.1-19.9 1.1-29.8s-1.1-19.9-1.1-29.8s1.1-19.9 1.1-29.8s-1.1-19.9-1.1-29.8s1.1-19.9 1.1-29.8s-1.1-19.9-1.1-29.8s1.1-19.9 1.1-29.8s-1.1-19.9-1.1-29.8" stroke="#609"/>
<path d="M294.4 715.3c0-9.9-1-19.9-1-29.8s1-19.9 1-29.8s-1-19.9-1-29.8s1-19.9 1-29.8s-1-19.9-1-29.8s1-19.9 1-29.8s-1-19.9-1-29.8s1-19.9 1-29.8s-1-19.9-1-29.8s1-19.9 1-29.8s-1-19.9-1-29.8" stroke="#ce3"/>
<path d="M295.7 715.3c0-9.9-1-19.9-1-29.8s1-19.9 1-29.8s-1-19.9-1-29.8s1-19.9 1-29.8s-1-19.9-1-29.8s1-19.9 1-29.8s-1-19.9-1-29.8s1-19.9 1-29.8s-1-19.9-1-29.8s1-19.9 1-29.8s-1-19.9-1-29.8" stroke="#c5e"/>
<path d="M296.9 715.3c0-9.9-.9-19.9-.9-29.8s.9-19.9 .9-29.8s-.9-19.9-.9-29.8s.9-19.9 .9-29.8s-.9-19.9-.9-29.8s.9-19.9 .9-29.8s-.9-19.9-.9-29.8s.9-19.9 .9-29.8s-.9-19.9-.9-29.8s.9-19.9 .9-29.8s-.9-19.9-.9-29.8" stroke="#38c"/>
<path d="M298.2 715.3c0-9.9-.9-19.9-.9-29.8s.9-19.9 .9-29.8s-.9-19.9-.9-29.8s.9-19.9 .9-29.8s-.9-19.9-.9-29.8s.9-19.9 .9-29.8s-.9-19.9-.9-29.8s.9-19.9 .9-29.8s-.9-19.9-.9-29.8s.9-19.9 .9-29.8s-.9-19.9-.9-29.8" stroke="#52a"/>
<path d="M299.4 715.3c0-9.9-.8-19.9-.8-29.8s.8-19.9 .8-29.8s-.8-19.9-.8-29.8s.8-19.9 .8-29.8s-.8-19.9-.8-29.8s.8-19.9 .8-29.8s-.8-19.9-.8-29.8s.8-19.9 .8-29.8s-.8-19.9-.8-29.8s.8-19.9 .8-29.8s-.8-19.9-.8-29.8" stroke="#ec2"/>
<path d="M300.7 715.3c0-9.9-.8-19.9-.8-29.8s.8-19.9 .8-29.8s-.8-19.9-.8-29.8s.8-19.9 .8-29.8s-.8-19.9-.8-29.8s.8-19.9 .8-29.8s-.8-19.9-.8-29.8s.8-19.9 .8-29.8s-.8-19.9-.8-29.8s.8-19.9 .8-29.8s-.8-19.9-.8-29.8" stroke="#918"/>
<path d="M302 715.3c0-9.9-.8-19.9-.8-29.8s.8-19.9 .8-29.8s-.8-19.9-.8-29.8s.8-19.9 .8-29.8s-.8-19.9-.8-29.8s.8-19.9 .8-29.8s-.8-19.9-.8-29.8s.8-19.9 .8-29.8s-.8-19.9-.8-29.8s.8-19.9 .8-29.8s-.8-19.9-.8-29.8" stroke="#6cc"/>
<path d="M303.2 715.3c0-9.9-.7-19.9-.7-29.8s.7-19.9 .7-29.8s-.7-19.9-.7-29.8s.7-19.9 .7-29.8s-.7-19.9-.7-29.8s.7-19.9 .7-29.8s-.7-19.9-.7-29.8s.7-19.9 .7-29.8s-.7-19.9-.7-29.8s.7-19.9 .7-29.8s-.7-19.9-.7-29.8" stroke="#529"/>
<path d="M304.5 715.3c0-9.9-.7-19.9-.7-29.8s.7-19.9 .7-29.8s-.7-19.9-.7-29.8s.7-19.9 .7-29.8s-.7-19.9-.7-29.8s.7-19.9 .7-29.8s-.7-19.9-.7-29.8s.7-19.9 .7-29.8s-.7-19.9-.7-29.8s.7-19.9 .7-29.8s-.7-19.9-.7-29.8" stroke="#b90"/>
<path d="M305.8 715.3c0-9.9-.7-19.9-.7-29.8s.7-19.9 .7-29.8s-.7-19.9-.7-29.8s.7-19.9 .7-29.8s-.7-19.9-.7-29.8s.7-19.9 .7-29.8s-.7-19.9-.7-29.8s.7-19.9 .7-29.8s-.7-19.9-.7-29.8s.7-19.9 .7-29.8s-.7-19.9-.7-29.8" stroke="#857"/>
<path d="M307 715.3c0-9.9-.6-19.9-.6-29.8s.6-19.9 .6-29.8s-.6-19.9-.6-29.8s.6-19.9 .6-29.8s-.6-19.9-.6-29.8s.6-19.9 .6-29.8s-.6-19.9-.6-29.8s.6-19.9 .6-29.8s-.6-19.9-.6-29.8s.6-19.9 .6-29.8s-.6-19.9-.6-29.8" stroke="#17b" class="a"/>
<path d="M308.3 715.3c0-9.9-.6-19.9-.6-29.8s.6-19.9 .6-29.8s-.6-19.9-.6-29.8s.6-19.9 .6-29.8s-.6-19.9-.6-29.8s.6-19.9 .6-29.8s-.6-19.9-.6-29.8s.6-19.9 .6-29.8s-.6-19.9-.6-29.8s.6-19.9 .6-29.8s-.6-19.9-.6-29.8" stroke="#97d"/>
<path d="M309.6 715.3c0-9.9-.6-19.9-.6-29.8s.6-19.9 .6-29.8s-.6-19.9-.6-29.8s.6-19.9 .6-29.8s-.6-19.9-.6-29.8s.6-19.9 .6-29.8s-.6-19.9-.6-29.8s.6-19.9 .6-29.8s-.6-19.9-.6-29.8s.6-19.9 .6-29.8s-.6-19.9-.6-29.8" stroke="#774" class="b"/>
<path d="M310.9 715.3c0-9.9-.6-19.9-.6-29.8s.6-19.9 .6-29.8s-.6-19.9-.6-29.8s.6-19.9 .6-29.8s-.6-19.9-.6-29.8s.6-19.9 .6-29.8s-.6-19.9-.6-29.8s.6-19.9 .6-29.8s-.6-19.9-.6-29.8s.6-19.9 .6-29.8s-.6-19.9-.6-29.8" stroke="#be0"/>
<path d="M312.1 715.3c0-9.9-.5-19.9-.5-29.8s.5-19.9 .5-29.8s-.5-19.9-.5-29.8s.5-19.9 .5-29.8s-.5-19.9-.5-29.8s.5-19.9 .5-29.8s-.5-19.9-.5-29.8s.5-19.9 .5-29.8s-.5-19.9-.5-29.8s.5-19.9 .5-29.8s-.5-19.9-.5-29.8" stroke="#008" class="a"/>
<path d="M313.4 715.3c0-9.9-.5-19.9-.5-29.8s.5-19.9 .5-29.8s-.5-19.9-.5-29.8s.5-19.9 .5-29.8s-.5-19.9-.5-29.8s.5-19.9 .5-29.8s-.5-19.9-.5-29.8s.5-19.9 .5-29.8s-.5-19.9-.5-29.8s.5-19.9 .5-29.8s-.5-19.9-.5-29.8" stroke="#f5f"/>
<path d="M314.7 715.3c0-9.9-.5-19.9-.5-29.8s.5-19.9 .5-29.8s-.5-19.9-.5-29.8s.5-19.9 .5-29.8s-.5-19.9-.5-29.8s.5-19.9 .5-29.8s-.5-19.9-.5-29.8s.5-19.9 .5-29.8s-.5-19.9-.5-29.8s.5-19.9 .5-29.8s-.5-19.9-.5-29.8" stroke="#ac9"/>
<path d="M316 715.3c0-9.9-.5-19.9-.5-29.8s.5-19.9 .5-29.8s-.5-19.9-.5-29.8s.5-19.9 .5-29.8s-.5-19.9-.5-29.8s.5-19.9 .5-29.8s-.5-19.9-.5-29.8s.5-19.9 .5-29.8s-.5-19.9-.5-29.8s.5-19.9 .5-29.8s-.5-19.9-.5-29.8" stroke="#b65"/>
<path d="M317.2 715.3c0-9.9-.4-19.9-.4-29.8s.4-19.9 .4-29.8s-.4-19.9-.4-29.8s.4-19.9 .4-29.8s-.4-19.9-.4-29.8s.4-19.9 .4-29.8s-.4-19.9-.4-29.8s.4-19.9 .4-29.8s-.4-19.9-.4-29.8s.4-19.9 .4-29.8s-.4-19.9-.4-29.8" stroke="#6aa" class="b"/>
<path d="M318.5 715.3c0-9.9-.4-19.9-.4-29.8s.4-19.9 .4-29.8s-.4-19.9-.4-29.8s.4-19.9 .4-29.8s-.4-19.9-.4-29.8s.4-19.9 .4-29.8s-.4-19.9-.4-29.8s.4-19.9 .4-29.8s-.4-19.9-.4-29.8s.4-19.9 .4-29.8s-.4-19.9-.4-29.8" stroke="#00f"/>
<path d="M319.8 715.3c0-9.9-.4-19.9-.4-29.8s.4-19.9 .4-29.8s-.4-19.9-.4-29.8s.4-19.9 .4-29.8s-.4-19.9-.4-29.8s.4-19.9 .4-29.8s-.4-19.9-.4-29.8s.4-19.9 .4-29.8s-.4-19.9-.4-29.8s.4-19.9 .4-29.8s-.4-19.9-.4-29.8" stroke="#5d8" class="c"/>
<path d="M321.1 715.3c0-9.9-.4-19.9-.4-29.8s.4-19.9 .4-29.8s-.4-19.9-.4-29.8s.4-19.9 .4-29.8s-.4-19.9-.4-29.8s.4-19.9 .4-29.8s-.4-19.9-.4-29.8s.4-19.9 .4-29.8s-.4-19.9-.4-29.8s.4-19.9 .4-29.8s-.4-19.9-.4-29.8" stroke="#c54"/>
<path d="M322.4 715.3c0-9.9-.4-19.9-.4-29.8s.4-19.9 .4-29.8s-.4-19.9-.4-29.8s.4-19.9 .4-29.8s-.4-19.9-.4-29.8s.4-19.9 .4-29.8s-.4-19.9-.4-29.8s.4-19.9 .4-29.8s-.4-19.9-.4-29.8s.4-19.9 .4-29.8s-.4-19.9-.4-29.8" stroke="#e9b" class="a"/>
<path d="M323.7 715.3c0-9.9-.4-19.9-.4-29.8s.4-19.9 .4-29.8s-.4-19.9-.4-29.8s.4-19.9 .4-29.8s-.4-19.9-.4-29.8s.4-19.9 .4-29.8s-.4-19.9-.4-29.8s.4-19.9 .4-29.8s-.4-19.9-.4-29.8s.4-19.9 .4-29.8s-.4-19.9-.4-29.8" stroke="#176"/>
<path d="M324.9 715.3c0-9.9-.3-19.9-.3-29.8s.3-19.9 .3-29.8s-.3-19.9-.3-29.8s.3-19.9 .3-29.8s-.3-19.9-.3-29.8s.3-19.9 .3-29.8s-.3-19.9-.3-29.8s.3-19.9 .3-29.8s-.3-19.9-.3-29.8s.3-19.9 .3-29.8s-.3-19.9-.3-29.8" stroke="#59d" class="a"/>
<path d="M326.2 715.3c0-9.9-.3-19.9-.3-29.8s.3-19.9 .3-29.8s-.3-19.9-.3-29.8s.3-19.9 .3-29.8s-.3-19.9-.3-29.8s.3-19.9 .3-29.8s-.3-19.9-.3-29.8s.3-19.9 .3-29.8s-.3-19.9-.3-29.8s.3-19.9 .3-29.8s-.3-19.9-.3-29.8" stroke="#4d0"/>
<path d="M327.5 715.3c0-9.9-.3-19.9-.3-29.8s.3-19.9 .3-29.8s-.3-19.9-.3-29.8s.3-19.9 .3-29.8s-.3-19.9-.3-29.8s.3-19.9 .3-29.8s-.3-19.9-.3-29.8s.3-19.9 .3-29.8s-.3-19.9-.3-29.8s.3-19.9 .3-29.8s-.3-19.9-.3-29.8" stroke="#c3a"/>
<path d="M328.5 393.6v300" stroke="#34a"/>
<path d="M329.8 393.6v300" stroke="#897"/>
<path d="M331.1 393.6v300" stroke="#dc1"/>
<path d="M332.4 393.6v300" stroke="#97e" class="b"/>
<path d="M333.7 393.6v300" stroke="#10f"/>
<path d="M335 393.6v300" stroke="#6c0" class="a"/>
<path d="M336.3 393.6v300" stroke="#e92"/>
<path d="M337.6 393.6v300" stroke="#aa8"/>
<path d="M338.9 393.6v300" stroke="#31a" class="c"/>
<path d="M340.2 393.6v300" stroke="#0b7"/>
<path d="M341.5 393.6v300" stroke="#e88"/>
<path d="M342.8 393.6v300" stroke="#883"/>
<path d="M344.1 393.6v300" stroke="#921"/>
<path d="M345.4 393.6v300" stroke="#2b4" class="a"/>
<path d="M346.7 393.6v300" stroke="#9bc"/>
<path d="M348 393.6v300" stroke="#2aa"/>
<path d="M349.3 393.6v300" stroke="#914"/>
<path d="M350.6 393.6v300" stroke="#777"/>
<path d="M351.9 393.6v300" stroke="#cad" class="a"/>
<path d="M353.2 393.6v300" stroke="#8da"/>
<path d="M354.5 393.6v300" stroke="#c12" class="a"/>
<path d="M355.8 393.6v300" stroke="#261"/>
<path d="M357.1 393.6v300" stroke="#e49"/>
<path d="M358.4 393.6v300" stroke="#0af"/>
<path d="M359.7 393.6v300" stroke="#382"/>
<path d="M361 393.6v300" stroke="#e8d" class="a"/>
<path d="M362.3 393.6v300" stroke="#983"/>
<path d="M363.6 393.6v300" stroke="#b0d"/>
<path d="M364.9 393.6v300" stroke="#0a2"/>
<path d="M366.2 393.6v300" stroke="#27b" class="a"/>
<path d="M367.5 393.6v300" stroke="#7b3"/>
<path d="M368.8 393.6v300" stroke="#b9a" class="a"/>
<path d="M370.1 393.6v300" stroke="#907"/>
<path d="M371.4 393.6v300" stroke="#059" class="b"/>
<path d="M372.7 393.6v300" stroke="#eb3"/>
<path d="M374 393.6v300" stroke="#6cf"/>
<path d="M375.3 393.6v300" stroke="#834"/>
<path d="M376.6 393.6v300" stroke="#75b" class="b"/>
<path d="M377.9 393.6v300" stroke="#9d5"/>
<path d="M379.2 393.6v300" stroke="#8a1" class="a"/>
<path d="M380.5 393.6v300" stroke="#117"/>
<path d="M381.8 393.6v300" stroke="#97c" class="c"/>
<path d="M383.1 393.6v300" stroke="#fbf"/>
<path d="M384.4 393.6v300" stroke="#8b2" class="a"/>
<path d="M385.7 393.6v300" stroke="#283"/>
<path d="M387 393.6v300" stroke="#f02"/>
<path d="M388.3 393.6v300" stroke="#e9d" class="a"/>
<path d="M389.6 393.6v300" stroke="#6be"/>
<path d="M390.9 393.6v300" stroke="#34a"/>
<path d="M392.2 393.6v300" stroke="#824"/>
<path d="M393.5 393.6v300" stroke="#e84"/>
<path d="M394.8 393.6v300" stroke="#2f5" class="b"/>
<path d="M396.1 393.6v300" stroke="#34a"/>
<path d="M397.4 393.6v300" stroke="#61a"/>
<path d="M398.7 393.6v300" stroke="#7f1"/>
<path d="M400 393.6v300" stroke="#7af"/>
<path d="M401.3 393.6v300" stroke="#955"/>
<path d="M402.6 393.6v300" stroke="#21e" class="b"/>
<path d="M403.9 393.6v300" stroke="#6e4"/>
<polygon fill="#fff" points="256.6,444.6 258,446.9 259.3,449.1 259.8,452.4 260.3,455.6 259.3,453.4 258.3,451.1 257.5,447.9"/>
<polygon fill="#fff" points="256.6,495 258,497.3 259.3,499.5 259.8,502.8 260.3,506 259.3,503.8 258.3,501.5 257.5,498.3"/>
<polygon fill="#fff" points="256.6,568.6 258,570.9 259.3,573.1 259.8,576.4 260.3,579.6 259.3,577.4 258.3,575.1 257.5,571.9"/>
<polygon fill="#fff" points="256.6,620 258,622.3 259.3,624.5 259.8,627.8 260.3,631 259.3,628.8 258.3,626.5 257.5,623.3"/>
<polygon fill="#fff" points="256.6,676.3 258,678.6 259.3,680.8 259.8,684.1 260.3,687.3 259.3,685.1 258.3,682.8 257.5,679.6"/>
<path d="M77 394.6V692.6" stroke="#c4b" stroke-width="1.8"/>
<path d="M373.7 394.6V692.6" stroke="#134" stroke-width="2" stroke-dasharray="9 4"/>
<path d="M391.8 394.6V692.6" stroke="#eb8" stroke-width="2"/>
<path d="M391.8 394.6V692.6" stroke="#e3f" stroke-width="2.2" stroke-dasharray="62 38" stroke-dashoffset="40"/>
<path d="M76 635.2 83.9 635 91.8 634.8 99.8 634.5 107.7 634.2 115.6 633.9 123.5 633.5 131.4 633.1 139.4 632.6 147.3 632 155.2 631.5 163.1 630.8 171 630.1 179 629.4 186.9 628.6 194.8 627.7 202.7 626.8 210.6 625.7 218.6 624.6 226.5 623.5 234.4 622.2 242.3 620.8 250.2 619.3 258.2 617.6 266.1 615.9 274 613.9 281.9 611.8 289.8 609.6 297.8 607.1 305.7 604.3 313.6 601.3 321.5 598 329.4 594.4 337.4 590.3 345.3 585.8 353.2 580.7 361.1 574.9 369 568.4 377 560.9 384.9 552.2 392.8 542" fill="none" stroke="#8fa528" stroke-width="5.2" stroke-linejoin="round"/>
<path d="M238.2 692.6V394.6" stroke="#f00" stroke-width="3.4" stroke-dasharray="13 12.3" />
<path d="M277.6 692.6V394.6" stroke="#00f" stroke-width="3.4" stroke-dasharray="13 12.3" />
</g>
<g clip-path="url(#cr1)" fill="none" stroke-width="2.6">
<rect x="528.5" y="394.6" width="316.8" height="298.0" fill="#fff"/>
<ellipse cx="686.9" cy="543.6" rx="134.6" ry="126.6" fill="url(#ch1)"/>
<polygon fill="#fff" points="707,644.8 711.9,644.4 716.9,643.7 721.8,642.8 726.7,641.5 731.5,640 736.2,638.2 740.7,636.1 745,633.6 749.2,630.9 753.1,627.9 756.8,624.7 760.4,621.4 763.7,617.8 766.7,614.1 762.8,617 758.9,619.8 754.9,622.5 750.8,625 746.6,627.3 742.4,629.6 738.2,631.8 734,634 729.7,636.1 725.3,638.1 720.8,640 716.3,641.7 711.7,643.4"/>
<polygon fill="#fff" points="735,630.7 742,629.5 748.9,627.8 746.6,632.3 743.9,636.8 736.6,638.2 729.3,639.1 732.3,634.9"/>
<polygon fill="#fff" points="584.2,508 582.1,512.2 580.4,516.6 578.8,521.1 577.6,525.7 576.7,530.3 576,535 575.7,539.7 575.9,544.4 576.4,549.1 577.2,553.8 578.3,558.4 579.7,562.9 581.4,567.3 583.3,571.5 582.5,567 581.9,562.5 581.4,558 581.1,553.4 580.9,548.9 580.9,544.4 581,539.9 581,535.4 581.2,530.9 581.4,526.3 581.9,521.7 582.5,517.2 583.2,512.6"/>
<polygon fill="#fff" points="583.6,537.9 581.1,544.1 579.1,550.5 576.2,546.3 573.4,541.9 575.9,535.3 578.8,529 581.1,533.6"/>
<polygon fill="#fff" points="772,478.9 769.3,474.9 766.4,471.1 763.2,467.4 759.8,463.9 756.1,460.6 752.2,457.5 748.2,454.6 743.8,452.1 739.3,450 734.6,448 729.9,446.4 725,445 720.1,443.9 715.2,443 719.8,444.9 724.3,446.9 728.7,449.1 733,451.4 737.2,453.7 741.3,456.2 745.3,458.8 749.3,461.3 753.3,463.9 757.2,466.7 761.1,469.5 764.8,472.5 768.5,475.6"/>
<polygon fill="#fff" points="745.8,461.9 741.3,456.7 736.4,451.7 741.8,451.6 747.3,451.7 752.1,457.1 756.5,462.7 751.1,462.2"/>
<g transform="translate(686.9,543.6)">
<ellipse rx="188.9" ry="177.7" stroke="#777" stroke-width="76"/>
<ellipse rx="90.5" ry="85.1" fill="#777" stroke="none"/>
<path d="M113.8-1.3c-.3-18.7-13.4-35.3-26.1-47.7s-24.9-23.3-39.7-31.4s-31.3-12.7-49.2-15.8s-38.9-3.2-55.5 6.4s-26.4 26.6-32.7 42.6s-10.5 32-10.3 48.3s4.8 32.3 11.5 48.1s17 32.8 33.8 41.9s37.8 8.7 55.6 5.1s34.2-8.6 48.8-17s26.6-19.5 38.9-32.2s25.1-29.6 24.9-48.3z" stroke="#e4b"/>
<path d="M112.3-1.3c-.2-18.4-12.7-35-25.1-47.4s-24.7-23.3-39.5-31.3s-31.1-12.7-48.9-15.7s-38.5-2.5-54.8 6.9s-26.5 26-32.9 41.8s-10.4 31.8-10.2 48.1s4.6 32.2 11.4 47.8s17.3 32.2 33.9 41.2s37.3 8.9 55 5.6s34-8.5 48.6-16.8s26.6-19.5 38.7-32.2s24.1-29.5 23.8-48z" stroke="#c5c"/>
<path d="M111-1.3c-.3-18.2-12.1-34.6-24.3-47.1s-24.5-23.3-39.2-31.2s-31-12.7-48.7-15.5s-38.1-2.1-54.2 7.2s-26.5 25.6-32.9 41.2s-10.5 31.6-10.3 47.8s4.6 32 11.5 47.5s17.5 31.6 33.9 40.5s36.8 9.2 54.4 6s33.8-8.4 48.3-16.6s26.6-19.3 38.4-32.1s23.3-29.4 23.1-47.7z" stroke="#e6a"/>
<path d="M109.7-1.2c-.2-18-11.6-34.4-23.5-46.9s-24.3-23.2-38.9-31.1s-30.9-12.7-48.5-15.3s-37.6-1.6-53.7 7.6s-26.3 25-32.9 40.5s-10.4 31.4-10.2 47.5s4.5 31.9 11.4 47.2s17.7 31.1 34 39.9s36.3 9.3 53.8 6.3s33.6-8.2 48.1-16.4s26.5-19.2 38.1-31.9s22.5-29.4 22.3-47.4z" stroke="#a4c"/>
<path d="M108.5-1.2c-.3-17.8-11.1-34.1-22.8-46.6s-24.2-23.1-38.7-30.9s-30.7-12.7-48.2-15.2s-37.2-1.2-53.1 7.8s-26.3 24.7-32.9 40s-10.4 31.2-10.2 47.2s4.4 31.7 11.4 46.9s17.8 30.6 33.9 39.3s35.9 9.4 53.3 6.6s33.5-8.1 47.8-16.3s26.5-19 37.9-31.7s21.8-29.3 21.6-47.1z" stroke="#3fe"/>
<path d="M107.3-1.2c-.2-17.6-10.7-33.8-22.2-46.3s-23.9-23-38.4-30.8s-30.6-12.7-47.9-15s-36.8-.9-52.6 8.1s-26.2 24.3-32.8 39.5s-10.4 30.9-10.2 46.8s4.4 31.5 11.4 46.6s17.9 30.1 33.8 38.7s35.5 9.6 52.8 6.9s33.3-8 47.5-16.1s26.4-18.9 37.6-31.6s21.2-29.2 21-46.8z" stroke="#0b0"/>
<path d="M106.2-1.2c-.3-17.4-10.3-33.6-21.6-46s-23.8-22.9-38.1-30.6s-30.5-12.7-47.7-14.8s-36.5-.7-52 8.2s-26.2 23.9-32.8 39s-10.4 30.7-10.2 46.5s4.3 31.4 11.4 46.3s17.9 29.6 33.7 38.2s35.1 9.6 52.3 7s33-7.8 47.2-15.9s26.3-18.7 37.4-31.4s20.6-29.1 20.4-46.5z" stroke="#ab5" class="c"/>
<path d="M105.1-1.2c-.3-17.2-10-33.3-21.1-45.7s-23.5-22.8-37.8-30.5s-30.3-12.5-47.4-14.6s-36.1-.4-51.5 8.4s-26 23.6-32.7 38.5s-10.4 30.5-10.2 46.2s4.3 31.2 11.4 45.9s18 29.3 33.6 37.8s34.7 9.7 51.8 7.2s32.8-7.7 46.9-15.7s26.2-18.6 37.1-31.3s20.1-28.9 19.9-46.2z" stroke="#e2f"/>
<path d="M104-1.2c-.2-17-9.6-33-20.6-45.4s-23.3-22.6-37.5-30.3s-30.1-12.5-47.1-14.5s-35.8-.1-51 8.6s-25.9 23.2-32.6 38s-10.3 30.3-10.1 45.9s4.2 31 11.2 45.6s18.1 28.9 33.6 37.2s34.3 9.9 51.3 7.5s32.6-7.6 46.6-15.6s26.1-18.5 36.8-31.1s19.6-28.8 19.4-45.9z" stroke="#04d" class="b"/>
<path d="M103-1.2c-.2-16.9-9.3-32.7-20.2-45.1s-23.1-22.5-37.2-30.1s-29.9-12.4-46.8-14.3s-35.4 .1-50.5 8.7s-25.8 22.9-32.5 37.5s-10.3 30.1-10.1 45.6s4.2 30.8 11.2 45.3s18.1 28.5 33.5 36.8s34 9.8 50.8 7.5s32.4-7.5 46.3-15.4s26-18.3 36.5-30.9s19.2-28.7 19-45.6z" stroke="#5e4"/>
<path d="M102-1.2c-.3-16.7-9.1-32.4-19.7-44.7s-23-22.4-37-30s-29.7-12.4-46.4-14.2s-35.2 .3-50.2 8.9s-25.6 22.5-32.3 37s-10.2 29.9-10 45.3s4.1 30.6 11.2 44.9s18 28.2 33.2 36.4s33.7 9.9 50.3 7.7s32.3-7.4 46.1-15.3s25.8-18.2 36.2-30.7s18.8-28.5 18.6-45.3z" stroke="#7a4" class="a"/>
<path d="M101-1.1c-.2-16.6-8.8-32.2-19.3-44.5s-22.8-22.3-36.7-29.8s-29.5-12.3-46.1-14s-34.8 .4-49.7 8.9s-25.5 22.3-32.2 36.7s-10.2 29.6-10 44.8s4.1 30.5 11.2 44.7s18 27.8 33.1 35.9s33.3 9.9 49.8 7.8s32.1-7.3 45.8-15.1s25.7-18.1 35.9-30.6s18.4-28.3 18.2-44.8z" stroke="#92b"/>
<path d="M100-1.1c-.2-16.4-8.5-32-18.9-44.2s-22.6-22.1-36.4-29.6s-29.3-12.2-45.8-13.9s-34.5 .7-49.2 9s-25.4 22.1-32.1 36.3s-10.1 29.4-9.9 44.5s4 30.3 11.1 44.3s18 27.6 32.9 35.6s33 9.9 49.4 7.9s31.8-7.3 45.5-15s25.5-18 35.6-30.4s18-28.1 17.8-44.5z" stroke="#33c" class="a"/>
<path d="M99.1-1.1c-.3-16.3-8.4-31.7-18.6-43.8s-22.4-22.1-36.1-29.4s-29.2-12.2-45.5-13.8s-34.2 .8-48.8 9.1s-25.2 21.7-31.8 35.8s-10.1 29.2-9.9 44.2s3.9 30 11 44s17.9 27.2 32.8 35.2s32.6 9.9 48.9 7.9s31.6-7.1 45.1-14.8s25.4-17.8 35.4-30.2s17.7-28 17.5-44.2z" stroke="#f62"/>
<path d="M98.1-1.1c-.2-16.1-8.1-31.4-18.2-43.5s-22.2-21.9-35.8-29.2s-29-12.1-45.2-13.6s-33.9 .9-48.3 9.1s-25.1 21.5-31.7 35.5s-10.1 28.9-9.9 43.8s4 29.8 11 43.7s17.9 26.8 32.6 34.7s32.3 9.9 48.5 8s31.4-7 44.8-14.6s25.3-17.7 35.1-30s17.3-27.8 17.1-43.9z" stroke="#8f4"/>
<path d="M97.2-1.1c-.2-16-7.9-31.1-17.9-43.1s-22-21.8-35.6-29.1s-28.7-12-44.8-13.5s-33.5 1-47.9 9.2s-24.8 21.2-31.5 35.1s-10 28.7-9.8 43.5s3.9 29.6 10.9 43.3s17.9 26.6 32.4 34.4s32 9.9 48.1 8.1s31.1-7 44.5-14.6s25.1-17.5 34.8-29.8s17-27.5 16.8-43.5z" stroke="#3c3" class="c"/>
<path d="M96.3-1.1c-.2-15.8-7.8-30.9-17.6-42.8s-21.8-21.6-35.3-28.8s-28.5-12-44.5-13.4s-33.2 1.1-47.4 9.2s-24.7 21-31.4 34.7s-9.9 28.5-9.7 43.2s3.9 29.4 10.8 43s17.8 26.3 32.2 34s31.7 9.9 47.7 8.1s30.9-6.9 44.1-14.4s25-17.4 34.5-29.6s16.8-27.4 16.6-43.2z" stroke="#843"/>
<path d="M95.4-1.1c-.2-15.6-7.6-30.6-17.4-42.5s-21.6-21.4-34.9-28.6s-28.3-11.8-44.2-13.2s-32.9 1.2-47 9.2s-24.5 20.7-31.1 34.4s-9.9 28.2-9.7 42.8s3.8 29.2 10.8 42.6s17.7 26 32 33.7s31.4 9.9 47.2 8.1s30.7-6.8 43.8-14.2s24.8-17.3 34.2-29.4s16.5-27.2 16.3-42.9z" stroke="#b0b" class="c"/>
<path d="M94.5-1.1c-.2-15.5-7.4-30.3-17.1-42.1s-21.4-21.4-34.6-28.5s-28.1-11.7-43.9-13s-32.6 1.2-46.6 9.2s-24.3 20.5-30.9 34s-9.8 28-9.6 42.5s3.8 28.9 10.7 42.3s17.6 25.7 31.8 33.3s31.1 9.8 46.8 8.1s30.4-6.7 43.5-14s24.6-17.2 33.9-29.2s16.2-27.1 16-42.6z" stroke="#1ea"/>
<path d="M93.6-1.1c-.2-15.3-7.3-30.1-16.8-41.8s-21.2-21.2-34.4-28.2s-27.9-11.7-43.5-13s-32.3 1.4-46.1 9.2s-24.2 20.3-30.8 33.7s-9.7 27.8-9.6 42.2s3.8 28.7 10.7 41.9s17.6 25.5 31.6 33s30.8 9.8 46.4 8.2s30.2-6.7 43.1-14s24.4-17 33.7-29s15.9-26.8 15.7-42.2z" stroke="#849"/>
<path d="M92.7-1c-.2-15.3-7.1-29.9-16.5-41.5s-21-21.1-34.1-28.1s-27.7-11.5-43.2-12.8s-32 1.4-45.7 9.2s-24 20.1-30.5 33.4s-9.8 27.5-9.6 41.8s3.8 28.5 10.6 41.6s17.5 25.2 31.4 32.6s30.5 9.8 46 8.2s29.9-6.5 42.8-13.8s24.2-16.9 33.4-28.8s15.6-26.6 15.4-41.8z" stroke="#6c2"/>
<path d="M91.9-1c-.2-15.1-7-29.6-16.3-41.2s-20.9-20.9-33.8-27.8s-27.5-11.5-42.9-12.7s-31.7 1.5-45.3 9.2s-23.8 19.9-30.3 33s-9.7 27.3-9.5 41.5s3.7 28.2 10.5 41.2s17.4 25 31.2 32.3s30.2 9.8 45.6 8.2s29.7-6.4 42.5-13.7s24-16.8 33-28.5s15.5-26.5 15.3-41.5z" stroke="#44f" class="b"/>
<path d="M91-1c-.2-15-6.8-29.3-16.1-40.8s-20.6-20.8-33.4-27.7s-27.3-11.3-42.5-12.5s-31.5 1.5-45 9.2s-23.6 19.6-30.1 32.6s-9.6 27.1-9.4 41.2s3.7 28 10.5 40.9s17.3 24.6 30.9 32s29.9 9.6 45.1 8.1s29.5-6.4 42.2-13.5s23.9-16.7 32.8-28.4s15.2-26.2 15-41.1z" stroke="#7e3"/>
<path d="M90.2-1c-.2-14.8-6.8-29.1-15.9-40.5s-20.4-20.6-33.2-27.4s-27-11.3-42.1-12.4s-31.2 1.6-44.5 9.1s-23.5 19.5-29.9 32.4s-9.6 26.8-9.4 40.8s3.7 27.8 10.4 40.5s17.2 24.4 30.7 31.7s29.7 9.6 44.7 8.1s29.3-6.3 41.9-13.4s23.6-16.5 32.5-28.1s15-26 14.8-40.8z" stroke="#739"/>
<path d="M89.3-1c-.2-14.7-6.6-28.8-15.6-40.1s-20.3-20.5-32.9-27.2s-26.8-11.2-41.8-12.3s-30.9 1.6-44.1 9.1s-23.3 19.2-29.7 32s-9.5 26.6-9.3 40.4s3.6 27.6 10.3 40.3s17.1 24.1 30.5 31.3s29.4 9.6 44.3 8.1s29.1-6.2 41.5-13.2s23.5-16.4 32.2-27.9s14.8-25.8 14.6-40.5z" stroke="#f84" class="a"/>
<path d="M88.5-1c-.2-14.5-6.5-28.5-15.4-39.8s-20.1-20.3-32.6-27s-26.7-11.1-41.5-12.2s-30.6 1.7-43.7 9.1s-23.1 19.1-29.5 31.7s-9.4 26.5-9.2 40.1s3.6 27.4 10.3 39.9s16.9 23.9 30.2 31s29.1 9.6 43.9 8.2s28.8-6.2 41.2-13.2s23.3-16.2 31.9-27.7s14.6-25.6 14.4-40.1z" stroke="#265"/>
<path d="M87.6-1c-.2-14.4-6.3-28.3-15.1-39.4s-19.9-20.2-32.4-26.8s-26.4-11-41.1-12.1s-30.3 1.8-43.3 9.1s-22.9 18.8-29.2 31.4s-9.4 26.2-9.2 39.7s3.6 27.2 10.2 39.6s16.8 23.6 30 30.7s28.8 9.5 43.5 8.1s28.6-6.1 40.8-13s23.1-16.1 31.7-27.5s14.3-25.4 14.1-39.8z" stroke="#849"/>
<path d="M86.8-1c-.2-14.2-6.3-28-15-39.1s-19.7-20-32-26.6s-26.2-10.9-40.8-11.9s-30 1.8-42.9 9.1s-22.7 18.6-29 31s-9.3 26-9.1 39.4s3.5 26.9 10.1 39.2s16.8 23.4 29.8 30.4s28.5 9.4 43.1 8.1s28.3-6 40.5-12.9s22.9-16 31.3-27.2s14.2-25.2 14-39.5z" stroke="#284" class="c"/>
<path d="M86-1c-.2-14.1-6.2-27.7-14.8-38.7s-19.5-19.9-31.8-26.4s-25.9-10.8-40.4-11.8s-29.7 1.8-42.5 9s-22.5 18.4-28.7 30.7s-9.3 25.8-9.1 39.1s3.5 26.7 10.1 38.9s16.6 23.1 29.5 30.1s28.3 9.3 42.7 8s28.1-5.9 40.1-12.7s22.8-15.9 31.1-27.1s14-25 13.8-39.1z" stroke="#ca9"/>
<path d="M85.1-1c-.1-13.9-6-27.5-14.5-38.4s-19.4-19.6-31.5-26.1s-25.7-10.8-40.1-11.7s-29.4 1.8-42.1 9s-22.3 18.2-28.5 30.4s-9.1 25.5-9 38.7s3.5 26.5 10 38.5s16.5 23 29.3 29.8s28 9.3 42.3 8s27.8-5.8 39.8-12.6s22.5-15.7 30.8-26.8s13.7-24.8 13.5-38.8z" stroke="#687"/>
<path d="M84.3-1c-.2-13.8-5.9-27.2-14.4-38s-19.1-19.5-31.1-26s-25.6-10.6-39.8-11.5s-29.1 1.8-41.6 8.9s-22.2 18-28.4 30.1s-9 25.3-8.9 38.4s3.5 26.2 9.9 38.2s16.4 22.7 29.1 29.4s27.7 9.3 41.9 8s27.6-5.8 39.4-12.4s22.4-15.6 30.5-26.6s13.6-24.6 13.4-38.5z" stroke="#71a" class="a"/>
<path d="M83.5-.9c-.2-13.8-5.9-27.1-14.2-37.8s-19-19.3-30.9-25.7s-25.3-10.5-39.4-11.4s-28.9 1.9-41.2 8.9s-22 17.8-28.1 29.8s-9 25-8.9 38s3.4 26 9.8 37.8s16.3 22.5 28.9 29.2s27.4 9.2 41.5 7.9s27.3-5.7 39.1-12.3s22.1-15.5 30.2-26.4s13.4-24.3 13.2-38z" stroke="#8e5"/>
<path d="M82.7-.9c-.2-13.6-5.8-26.8-14-37.4s-18.8-19.2-30.6-25.5s-25.1-10.5-39.1-11.3s-28.6 1.9-40.8 8.8s-21.8 17.7-27.9 29.5s-8.9 24.8-8.8 37.7s3.4 25.8 9.8 37.5s16.1 22.2 28.6 28.8s27.1 9.1 41.1 7.9s27.1-5.6 38.7-12.2s22-15.3 29.9-26.1s13.3-24.2 13.1-37.7z" stroke="#579" class="b"/>
<path d="M81.9-.9c-.2-13.5-5.7-26.5-13.9-37.1s-18.5-19-30.2-25.3s-24.9-10.3-38.7-11.1s-28.4 1.9-40.5 8.7s-21.6 17.5-27.6 29.2s-8.9 24.6-8.7 37.4s3.3 25.5 9.6 37.1s16 22 28.4 28.6s26.8 9 40.6 7.8s26.9-5.5 38.5-12s21.7-15.2 29.6-26s13-23.9 12.9-37.3z" stroke="#c27"/>
<path d="M81.1-.9c-.2-13.3-5.6-26.3-13.7-36.7s-18.4-18.9-30-25.1s-24.6-10.2-38.3-11.1s-28.1 2-40.1 8.8s-21.4 17.3-27.4 28.9s-8.8 24.3-8.6 37s3.3 25.3 9.6 36.8s15.8 21.7 28 28.2s26.7 9 40.3 7.9s26.7-5.5 38.1-12s21.6-15 29.4-25.7s12.8-23.7 12.7-37z" stroke="#4a8" class="b"/>
<path d="M80.3-.9c-.2-13.2-5.6-26-13.5-36.4s-18.2-18.7-29.7-24.8s-24.5-10.2-38-11s-27.8 2-39.7 8.7s-21.2 17.1-27.1 28.6s-8.8 24.1-8.6 36.7s3.3 25 9.5 36.4s15.8 21.5 27.8 28s26.4 8.9 39.9 7.8s26.4-5.5 37.7-11.9s21.4-14.9 29.1-25.4s12.7-23.5 12.6-36.7z" stroke="#c62"/>
<path d="M79.4-.9c-.1-13-5.4-25.7-13.2-36s-18.1-18.6-29.5-24.6s-24.2-10.1-37.6-10.9s-27.5 2-39.3 8.7s-21 16.9-26.9 28.3s-8.7 23.8-8.5 36.3s3.3 24.8 9.4 36s15.7 21.3 27.6 27.7s26.1 8.9 39.5 7.8s26.2-5.4 37.4-11.7s21.2-14.8 28.8-25.3s12.5-23.3 12.3-36.3z" stroke="#3fd"/>
<path d="M78.6-.9c-.1-12.9-5.3-25.5-13.1-35.7s-17.8-18.3-29.1-24.4s-24-9.9-37.3-10.7s-27.2 2-38.9 8.6s-20.8 16.7-26.7 28s-8.6 23.6-8.4 35.9s3.2 24.7 9.4 35.8s15.5 21.1 27.3 27.4s25.8 8.7 39.1 7.7s25.9-5.3 37-11.6s21-14.6 28.5-25s12.4-23.1 12.2-36z" stroke="#c2e"/>
<path d="M77.8-.9c-.1-12.8-5.2-25.2-12.9-35.3s-17.7-18.2-28.9-24.2s-23.7-9.8-36.9-10.6s-27 2-38.5 8.5s-20.6 16.6-26.4 27.7s-8.5 23.5-8.4 35.6s3.2 24.4 9.3 35.4s15.4 20.9 27.1 27.1s25.5 8.7 38.7 7.7s25.6-5.2 36.7-11.5s20.8-14.5 28.2-24.8s12.2-22.8 12-35.6z" stroke="#005"/>
<path d="M77-.9c-.1-12.6-5.1-24.9-12.7-35s-17.5-18-28.6-23.9s-23.5-9.8-36.6-10.5s-26.7 2-38.1 8.5s-20.4 16.3-26.2 27.4s-8.4 23.2-8.3 35.2s3.2 24.2 9.2 35.1s15.3 20.6 26.9 26.8s25.3 8.6 38.3 7.6s25.4-5.2 36.3-11.3s20.6-14.4 27.9-24.6s12.1-22.6 11.9-35.3z" stroke="#865" class="c"/>
<path d="M76.2-.9c-.1-12.5-5.1-24.7-12.6-34.6s-17.3-17.9-28.2-23.7s-23.4-9.7-36.3-10.4s-26.4 2-37.7 8.4s-20.2 16.2-25.9 27.1s-8.4 23-8.3 34.9s3.2 23.9 9.2 34.7s15.1 20.4 26.6 26.6s25 8.5 37.9 7.5s25.1-5.1 35.9-11.2s20.4-14.2 27.7-24.3s11.9-22.4 11.7-35z" stroke="#dfd"/>
<path d="M75.5-.9c-.2-12.3-5.1-24.4-12.5-34.3s-17.1-17.7-28-23.4s-23.1-9.6-35.9-10.3s-26.1 2-37.3 8.3s-20 16-25.7 26.9s-8.3 22.7-8.1 34.5s3.1 23.7 9 34.4s15 20.2 26.3 26.2s24.8 8.5 37.6 7.5s24.9-5 35.6-11.1s20.2-14.1 27.4-24.1s11.7-22.2 11.6-34.6z" stroke="#792"/>
<path d="M74.7-.8c-.2-12.3-5-24.3-12.4-34s-16.9-17.5-27.6-23.3s-22.9-9.4-35.6-10.1s-25.8 2-36.9 8.3s-19.9 15.8-25.4 26.5s-8.3 22.5-8.1 34.2s3.1 23.4 8.9 34s14.9 20 26.1 26s24.5 8.4 37.2 7.4s24.6-5 35.2-10.9s20-14 27.1-23.9s11.6-22 11.5-34.2z" stroke="#30a"/>
<path d="M73.9-.8c-.2-12.2-4.9-24-12.2-33.7s-16.7-17.3-27.4-23s-22.6-9.4-35.2-10s-25.5 2-36.5 8.2s-19.7 15.7-25.2 26.2s-8.1 22.3-8 33.9s3.1 23.2 8.9 33.7s14.7 19.7 25.8 25.6s24.2 8.4 36.8 7.4s24.4-4.9 34.9-10.8s19.8-13.8 26.8-23.7s11.4-21.7 11.3-33.8z" stroke="#055"/>
<path d="M73.1-.8c-.2-12-4.8-23.7-12-33.3s-16.6-17.2-27.1-22.8s-22.4-9.3-34.9-9.9s-25.3 2-36.1 8.1s-19.5 15.5-24.9 26s-8.1 22-8 33.5s3.1 23 8.8 33.3s14.6 19.5 25.6 25.4s24 8.2 36.4 7.3s24.1-4.8 34.5-10.7s19.6-13.7 26.5-23.4s11.3-21.5 11.2-33.5z" stroke="#ae3" class="a"/>
<path d="M72.3-.8c-.2-11.9-4.8-23.5-11.9-32.9s-16.4-17.1-26.8-22.6s-22.2-9.2-34.4-9.8s-25.1 2-35.8 8s-19.3 15.4-24.7 25.7s-8 21.8-7.9 33.2s3 22.7 8.7 33s14.5 19.3 25.4 25.1s23.7 8.1 35.9 7.2s24-4.8 34.2-10.6s19.4-13.5 26.3-23.1s11.1-21.3 11-33.2z" stroke="#fbc"/>
<path d="M71.5-.8c-.1-11.7-4.7-23.2-11.7-32.6s-16.2-16.8-26.5-22.3s-22-9.1-34.1-9.7s-24.8 2-35.4 8s-19.1 15.1-24.5 25.4s-7.9 21.5-7.7 32.8s2.9 22.5 8.6 32.6s14.3 19.1 25 24.8s23.5 8.1 35.6 7.2s23.7-4.7 33.9-10.4s19.2-13.5 25.9-23s11.1-21.1 10.9-32.8z" stroke="#509" class="a"/>
<path d="M70.7-.8c-.1-11.6-4.6-23-11.5-32.2s-16.1-16.7-26.3-22.2s-21.7-8.9-33.7-9.5s-24.5 2-35 7.9s-18.9 15-24.2 25.1s-7.9 21.3-7.7 32.5s2.9 22.2 8.5 32.2s14.2 18.9 24.8 24.6s23.2 8 35.2 7.1s23.4-4.6 33.5-10.3s19-13.3 25.7-22.7s10.9-20.9 10.7-32.5z" stroke="#65e"/>
<path d="M69.9-.8c-.1-11.5-4.5-22.7-11.4-31.9s-15.8-16.5-25.9-21.9s-21.5-8.8-33.4-9.4s-24.2 2-34.6 7.8s-18.7 14.8-24 24.8s-7.7 21.2-7.6 32.2s2.9 22 8.5 31.9s14 18.6 24.5 24.3s22.9 7.9 34.8 7s23.2-4.6 33.2-10.2s18.7-13.1 25.4-22.5s10.7-20.6 10.5-32.1z" stroke="#1c2"/>
<path d="M69.2-.8c-.2-11.3-4.5-22.4-11.3-31.5s-15.7-16.4-25.7-21.7s-21.2-8.8-33-9.3s-24 2-34.3 7.7s-18.4 14.7-23.6 24.6s-7.7 20.9-7.6 31.7s2.9 21.8 8.4 31.6s13.8 18.5 24.3 24s22.7 7.9 34.4 7s22.9-4.5 32.8-10.1s18.6-13 25.1-22.2s10.6-20.4 10.5-31.8z" stroke="#db7" class="c"/>
<path d="M68.4-.8c-.2-11.2-4.5-22.2-11.1-31.2s-15.5-16.1-25.4-21.4s-21.1-8.7-32.7-9.2s-23.7 1.9-33.9 7.7s-18.2 14.4-23.4 24.2s-7.6 20.7-7.5 31.4s2.9 21.6 8.3 31.3s13.7 18.2 24.1 23.7s22.4 7.8 34 6.9s22.7-4.4 32.4-9.9s18.4-12.9 24.9-22s10.4-20.2 10.3-31.5z" stroke="#847"/>
<path d="M67.6-.8c-.1-11.1-4.4-21.9-11-30.8s-15.3-16-25.1-21.2s-20.8-8.6-32.3-9.1s-23.4 1.9-33.5 7.6s-18 14.3-23.1 24s-7.6 20.4-7.4 31s2.8 21.3 8.2 30.9s13.5 18 23.7 23.5s22.2 7.7 33.7 6.8s22.4-4.4 32.1-9.8s18.1-12.7 24.5-21.8s10.3-20 10.2-31.1z" stroke="#539"/>
<path d="M66.8-.8c-.1-10.9-4.3-21.7-10.8-30.5s-15.2-15.8-24.8-20.9s-20.6-8.5-32-9s-23.1 1.9-33.1 7.5s-17.8 14.1-22.9 23.7s-7.4 20.2-7.3 30.7s2.8 21.1 8.1 30.6s13.4 17.8 23.5 23.1s21.9 7.6 33.3 6.8s22.2-4.3 31.7-9.7s18-12.6 24.3-21.5s10.2-19.8 10-30.8z" stroke="#6b8"/>
<path d="M66.1-.7c-.2-10.9-4.3-21.5-10.7-30.2s-15-15.6-24.6-20.7s-20.3-8.4-31.6-8.9s-22.9 1.9-32.7 7.4s-17.6 14-22.6 23.5s-7.4 19.9-7.3 30.3s2.8 20.8 8 30.2s13.3 17.6 23.3 22.9s21.6 7.5 32.9 6.7s21.9-4.3 31.3-9.6s17.8-12.4 24-21.3s10.1-19.5 10-30.3z" stroke="#cac"/>
<path d="M65.3-.7c-.2-10.8-4.2-21.3-10.6-29.8s-14.8-15.5-24.2-20.6s-20.2-8.2-31.3-8.7s-22.6 1.9-32.3 7.4s-17.4 13.7-22.4 23.1s-7.3 19.7-7.2 30s2.8 20.6 8 29.8s13.1 17.4 23 22.7s21.4 7.4 32.5 6.6s21.6-4.2 31-9.5s17.5-12.3 23.7-21s9.9-19.3 9.8-30z" stroke="#171" class="a"/>
<path d="M64.5-.7c-.1-10.6-4.1-21-10.4-29.5s-14.6-15.3-24-20.3s-19.9-8.1-30.9-8.7s-22.3 2-31.9 7.4s-17.2 13.6-22.1 22.8s-7.3 19.5-7.1 29.7s2.7 20.4 7.8 29.5s13 17.2 22.7 22.4s21.2 7.3 32.2 6.6s21.4-4.2 30.6-9.4s17.4-12.2 23.4-20.8s9.8-19.1 9.7-29.7z" stroke="#109"/>
<path d="M63.7-.7c-.1-10.5-4.1-20.7-10.3-29.1s-14.4-15.2-23.6-20.1s-19.7-8.1-30.5-8.6s-22.1 2-31.6 7.3s-17 13.4-21.9 22.6s-7.1 19.2-7 29.3s2.7 20.1 7.8 29.1s12.8 17 22.4 22.1s20.9 7.3 31.7 6.6s21.2-4.2 30.3-9.3s17.2-12 23.2-20.6s9.7-18.9 9.5-29.3z" stroke="#c8e" class="a"/>
<path d="M63-.7c-.2-10.3-4.1-20.5-10.2-28.8s-14.3-14.9-23.4-19.8s-19.4-8-30.1-8.5s-21.9 1.9-31.2 7.2s-16.9 13.3-21.6 22.3s-7.1 19.1-7 29s2.7 19.9 7.7 28.8s12.7 16.7 22.2 21.8s20.6 7.2 31.3 6.5s21-4.1 30-9.2s16.9-11.9 22.8-20.3s9.6-18.7 9.5-29z" stroke="#4f1"/>
<path d="M62.2-.7c-.1-10.2-4-20.2-10-28.4s-14.1-14.8-23.1-19.6s-19.2-7.9-29.8-8.4s-21.6 1.9-30.8 7.1s-16.7 13.1-21.4 22.1s-7 18.8-6.9 28.6s2.7 19.6 7.6 28.4s12.6 16.6 22 21.6s20.3 7.1 30.9 6.4s20.7-4.1 29.6-9.1s16.8-11.7 22.6-20.1s9.4-18.4 9.3-28.6z" stroke="#684"/>
<path d="M61.4-.7c-.1-10.1-3.9-20-9.9-28.1s-13.9-14.6-22.8-19.3s-19-7.8-29.4-8.3s-21.3 1.9-30.4 7s-16.5 13-21.2 21.8s-6.8 18.6-6.7 28.3s2.6 19.4 7.5 28.1s12.4 16.3 21.6 21.3s20.2 7 30.6 6.3s20.4-4 29.2-9s16.6-11.6 22.3-19.8s9.3-18.2 9.2-28.3z" stroke="#c31"/>
<path d="M60.6-.7c-.1-9.9-3.8-19.7-9.7-27.7s-13.7-14.4-22.5-19.1s-18.8-7.7-29.1-8.2s-21 1.9-30.1 7s-16.2 12.7-20.8 21.4s-6.8 18.4-6.7 28s2.6 19.1 7.4 27.7s12.2 16.2 21.4 21s19.9 7 30.2 6.3s20.2-4 28.9-8.8s16.3-11.5 22-19.6s9.2-18 9-28z" stroke="#d7d" class="b"/>
<path d="M59.9-.7c-.1-9.8-3.8-19.4-9.6-27.4s-13.6-14.2-22.3-18.8s-18.5-7.6-28.7-8.1s-20.8 1.9-29.7 6.9s-16 12.6-20.6 21.2s-6.7 18.1-6.6 27.5s2.6 19 7.3 27.5s12.1 15.9 21.2 20.7s19.6 6.9 29.8 6.2s19.9-3.9 28.5-8.7s16.1-11.4 21.8-19.4s9-17.7 8.9-27.6z" stroke="#6fa"/>
<path d="M59.1-.7c-.1-9.7-3.7-19.2-9.5-27s-13.4-14.1-21.9-18.6s-18.3-7.5-28.4-8s-20.5 1.8-29.3 6.8s-15.8 12.4-20.3 20.9s-6.7 17.9-6.5 27.2s2.5 18.7 7.2 27.1s11.9 15.7 20.8 20.5s19.4 6.7 29.5 6.1s19.7-3.9 28.1-8.6s16-11.2 21.5-19.1s8.9-17.6 8.8-27.3z" stroke="#265" class="b"/>
<path d="M58.3-.7c-.1-9.5-3.7-18.9-9.3-26.6s-13.2-13.9-21.7-18.4s-18-7.4-28-7.9s-20.2 1.8-28.9 6.7s-15.6 12.3-20.1 20.7s-6.5 17.6-6.4 26.8s2.5 18.5 7.1 26.7s11.8 15.6 20.6 20.3s19.2 6.6 29.1 6s19.4-3.8 27.8-8.5s15.7-11 21.2-18.9s8.8-17.3 8.6-26.9z" stroke="#360"/>
<path d="M57.6-.6c-.1-9.5-3.7-18.8-9.3-26.4s-13-13.7-21.4-18.1s-17.8-7.3-27.6-7.8s-19.9 1.8-28.5 6.6s-15.4 12.2-19.8 20.4s-6.5 17.4-6.4 26.5s2.4 18.2 7.1 26.4s11.6 15.3 20.3 19.9s18.9 6.6 28.7 6s19.1-3.7 27.4-8.4s15.5-10.9 20.9-18.6s8.7-17.1 8.6-26.5z" stroke="#d1d"/>
<path d="M56.8-.6c-.1-9.4-3.6-18.5-9.1-26s-12.9-13.5-21.1-17.9s-17.6-7.3-27.3-7.7s-19.7 1.8-28.1 6.5s-15.2 12-19.6 20.2s-6.4 17.1-6.3 26.1s2.4 18 7 26s11.5 15.1 20.1 19.7s18.6 6.5 28.3 5.9s18.9-3.7 27-8.3s15.3-10.7 20.7-18.4s8.5-16.8 8.4-26.1z" stroke="#2ce"/>
<path d="M56.1-.6c-.2-9.2-3.6-18.3-9-25.7s-12.7-13.3-20.9-17.6s-17.3-7.2-26.9-7.6s-19.4 1.7-27.7 6.4s-15 11.9-19.3 19.9s-6.3 17-6.2 25.8s2.3 17.7 6.8 25.7s11.4 14.9 19.8 19.4s18.4 6.4 28 5.8s18.6-3.6 26.6-8.2s15.2-10.6 20.4-18.1s8.5-16.6 8.4-25.8z" stroke="#6c9" class="a"/>
<path d="M55.3-.6c-.1-9.1-3.5-18-8.9-25.3s-12.5-13.2-20.5-17.5s-17.1-7-26.5-7.4s-19.2 1.7-27.4 6.4s-14.8 11.6-19.1 19.5s-6.2 16.8-6.1 25.5s2.3 17.5 6.8 25.3s11.2 14.7 19.5 19.2s18.1 6.3 27.5 5.7s18.5-3.6 26.4-8s14.9-10.5 20.1-17.9s8.3-16.4 8.2-25.5z" stroke="#6a3"/>
<path d="M54.5-.6c-.1-9-3.4-17.8-8.7-25s-12.4-12.9-20.3-17.2s-16.8-6.9-26.1-7.3s-18.9 1.7-27.1 6.3s-14.6 11.5-18.7 19.3s-6.2 16.5-6.1 25.1s2.3 17.2 6.7 25s11 14.5 19.3 18.8s17.9 6.3 27.1 5.7s18.2-3.5 26-7.9s14.7-10.4 19.8-17.7s8.2-16.2 8.1-25.1z" stroke="#435"/>
<path d="M53.8-.6c-.2-8.8-3.4-17.5-8.7-24.6s-12.1-12.8-19.9-17s-16.7-6.8-25.8-7.2s-18.7 1.7-26.7 6.2s-14.4 11.3-18.5 19s-6 16.3-5.9 24.8s2.2 17 6.5 24.6s10.9 14.3 19 18.6s17.7 6.2 26.8 5.6s17.9-3.5 25.6-7.8s14.5-10.2 19.6-17.4s8.1-16 8-24.8z" stroke="#a1f"/>
<path d="M53-.6c-.1-8.7-3.3-17.2-8.5-24.2s-12-12.7-19.7-16.8s-16.4-6.7-25.4-7.1s-18.4 1.7-26.3 6.1s-14.2 11.2-18.2 18.8s-6 16-5.9 24.4s2.2 16.7 6.5 24.2s10.7 14.1 18.7 18.4s17.4 6.1 26.4 5.5s17.7-3.4 25.3-7.7s14.3-10 19.2-17.2s8-15.7 7.9-24.4z" stroke="#1dc" class="a"/>
<path d="M52.2-.6c-.1-8.6-3.3-17-8.3-23.9s-11.9-12.4-19.4-16.5s-16.2-6.6-25.1-7s-18.1 1.6-25.9 6s-14 11-18 18.5s-5.9 15.8-5.8 24.1s2.2 16.5 6.4 23.9s10.6 13.9 18.5 18.1s17.1 6 26 5.4s17.4-3.4 24.9-7.6s14.1-9.9 19-16.9s7.8-15.5 7.7-24.1z" stroke="#2e3"/>
<path d="M51.5-.6c-.1-8.4-3.3-16.7-8.3-23.5s-11.6-12.3-19.1-16.3s-15.9-6.5-24.7-6.9s-17.8 1.6-25.5 5.9s-13.8 10.9-17.7 18.2s-5.8 15.6-5.7 23.8s2.1 16.2 6.3 23.5s10.4 13.7 18.2 17.9s16.8 5.9 25.6 5.3s17.1-3.3 24.5-7.5s13.9-9.7 18.7-16.6s7.8-15.3 7.7-23.8z" stroke="#a03"/>
<path d="M50.7-.6c-.1-8.3-3.2-16.5-8.1-23.2s-11.5-12-18.9-16s-15.6-6.4-24.3-6.8s-17.6 1.6-25.1 5.8s-13.6 10.7-17.5 18s-5.7 15.3-5.6 23.4s2.1 16 6.2 23.2s10.3 13.5 17.9 17.5s16.7 5.9 25.3 5.3s16.9-3.3 24.1-7.4s13.7-9.6 18.5-16.4s7.6-15 7.5-23.4z" stroke="#e70"/>
<path d="M50-.6c-.1-8.2-3.2-16.2-8-22.8s-11.4-11.9-18.6-15.8s-15.5-6.3-24-6.7s-17.3 1.6-24.7 5.7s-13.4 10.6-17.2 17.7s-5.7 15.2-5.6 23s2.1 15.8 6.1 22.9s10.2 13.3 17.7 17.3s16.4 5.8 24.9 5.2s16.6-3.2 23.8-7.3s13.5-9.4 18.1-16.1s7.6-14.9 7.5-23.1z" stroke="#34f"/>
<path d="M49.2-.6c-.1-8-3.1-16-7.9-22.5s-11.1-11.7-18.3-15.5s-15.2-6.2-23.6-6.6s-17 1.5-24.4 5.6s-13.1 10.4-16.9 17.5s-5.5 14.9-5.4 22.6s2 15.6 6 22.6s9.9 13.1 17.4 17s16.1 5.7 24.5 5.1s16.4-3.2 23.4-7.2s13.3-9.3 17.9-15.9s7.4-14.6 7.3-22.7z" stroke="#6ec"/>
<path d="M48.4-.5c-.1-8-3-15.8-7.7-22.2s-11-11.5-18-15.3s-15-6.1-23.3-6.5s-16.8 1.5-24 5.6s-12.9 10.2-16.7 17.1s-5.4 14.7-5.3 22.3s2 15.3 5.9 22.2s9.8 12.9 17.1 16.8s15.9 5.5 24.2 5s16.1-3.1 23-7s13.1-9.2 17.6-15.7s7.3-14.4 7.2-22.3z" stroke="#882"/>
<path d="M47.7-.5c-.1-7.9-3-15.6-7.7-21.9s-10.8-11.3-17.7-15s-14.7-6-22.9-6.4s-16.5 1.5-23.6 5.5s-12.8 10-16.4 16.9s-5.4 14.4-5.3 21.9s2 15.1 5.9 21.9s9.6 12.6 16.8 16.5s15.6 5.4 23.8 4.9s15.8-3.1 22.7-6.9s12.8-9.1 17.3-15.5s7.2-14.1 7.1-21.9z" stroke="#e62"/>
<path d="M46.9-.5c-.1-7.7-2.9-15.3-7.5-21.5s-10.6-11.2-17.4-14.8s-14.5-5.9-22.5-6.3s-16.3 1.4-23.3 5.4s-12.6 9.9-16.2 16.6s-5.2 14.2-5.1 21.6s1.9 14.8 5.7 21.5s9.5 12.5 16.6 16.3s15.4 5.3 23.3 4.8s15.7-3 22.4-6.8s12.6-8.9 17.1-15.2s7-13.9 6.9-21.6z" stroke="#235"/>
<path d="M46.2-.5c-.1-7.6-2.9-15-7.4-21.1s-10.5-11-17.2-14.6s-14.3-5.9-22.1-6.2s-16 1.4-22.9 5.3s-12.4 9.7-15.9 16.3s-5.2 14-5.1 21.3s1.9 14.6 5.6 21.1s9.4 12.3 16.3 16s15.2 5.3 23 4.8s15.4-3 22-6.7s12.5-8.7 16.8-14.9s7-13.7 6.9-21.3z" stroke="#6f9"/>
<path d="M45.4-.5c-.1-7.5-2.9-14.8-7.3-20.8s-10.3-10.8-16.9-14.3s-14-5.8-21.7-6.1s-15.8 1.4-22.5 5.2s-12.2 9.6-15.7 16.1s-5.1 13.7-5 20.9s1.9 14.3 5.6 20.8s9.2 12.1 16 15.7s14.9 5.2 22.6 4.7s15.1-3 21.6-6.6s12.3-8.6 16.6-14.7s6.8-13.5 6.7-20.9z" stroke="#1eb"/>
<path d="M44.7-.5c-.1-7.3-2.9-14.5-7.2-20.4s-10.1-10.6-16.6-14.1s-13.8-5.7-21.4-6s-15.5 1.4-22.1 5.1s-12 9.4-15.4 15.8s-5 13.5-4.9 20.6s1.8 14.1 5.4 20.4s9 11.9 15.8 15.5s14.6 5.1 22.2 4.6s14.9-2.9 21.3-6.5s12-8.4 16.2-14.4s6.8-13.3 6.7-20.6z" stroke="#50f"/>
<path d="M43.9-.5c-.1-7.2-2.8-14.3-7-20.1s-10-10.4-16.4-13.8s-13.5-5.6-21-5.9s-15.2 1.3-21.8 5s-11.7 9.3-15.1 15.6s-4.9 13.2-4.8 20.2s1.8 13.8 5.3 20.1s8.9 11.7 15.5 15.2s14.4 5 21.9 4.5s14.6-2.9 20.9-6.4s11.8-8.3 16-14.2s6.6-13 6.5-20.2z" stroke="#b07" class="a"/>
<path d="M43.2-.5c-.1-7.1-2.8-14-7-19.7s-9.8-10.2-16-13.6s-13.4-5.5-20.7-5.8s-15 1.3-21.4 4.9s-11.5 9.1-14.8 15.3s-4.8 13.1-4.8 19.9s1.8 13.6 5.3 19.7s8.7 11.5 15.2 15s14.2 4.9 21.5 4.4s14.3-2.8 20.5-6.3s11.7-8.1 15.7-13.9s6.5-12.8 6.5-19.9z" stroke="#8e9"/>
<path d="M42.4-.5c-.1-6.9-2.7-13.8-6.8-19.4s-9.7-10-15.8-13.3s-13.1-5.4-20.3-5.7s-14.7 1.3-21 4.8s-11.3 9-14.6 15s-4.7 12.9-4.6 19.6s1.7 13.3 5.1 19.4s8.6 11.2 15 14.7s13.9 4.8 21.1 4.3s14.1-2.8 20.1-6.2s11.5-8 15.5-13.7s6.4-12.5 6.3-19.5z" stroke="#2e4"/>
<path d="M41.6-.5c0-6.8-2.6-13.5-6.7-19s-9.4-9.9-15.5-13.1s-12.8-5.3-19.9-5.6s-14.4 1.2-20.6 4.7s-11.2 8.8-14.3 14.8s-4.7 12.6-4.6 19.2s1.7 13.1 5.1 19s8.4 11.1 14.6 14.4s13.7 4.8 20.8 4.3s13.8-2.7 19.8-6.1s11.2-7.8 15.1-13.4s6.3-12.3 6.2-19.2z" stroke="#62d" class="b"/>
<path d="M40.9-.5c-.1-6.7-2.6-13.3-6.6-18.6s-9.3-9.7-15.2-12.9s-12.6-5.2-19.6-5.5s-14.1 1.2-20.2 4.6s-11 8.7-14.1 14.5s-4.5 12.4-4.4 18.8s1.6 12.9 4.9 18.7s8.2 10.9 14.4 14.2s13.4 4.7 20.4 4.2s13.6-2.7 19.4-6s11-7.7 14.9-13.1s6.2-12.1 6.1-18.9z" stroke="#e04"/>
<path d="M40.1-.5c0-6.5-2.5-13-6.4-18.3s-9.2-9.5-15-12.6s-12.3-5.1-19.2-5.4s-13.9 1.2-19.8 4.6s-10.8 8.4-13.8 14.2s-4.5 12.1-4.4 18.4s1.7 12.7 4.8 18.4s8.1 10.7 14.2 13.9s13.1 4.6 20 4.1s13.3-2.6 19-5.9s10.8-7.5 14.6-12.9s6.1-11.9 6-18.5z" stroke="#3be"/>
<path d="M39.4-.4c-.1-6.5-2.5-12.9-6.4-18s-8.9-9.3-14.6-12.4s-12.2-5-18.9-5.3s-13.6 1.2-19.5 4.5s-10.5 8.3-13.5 13.9s-4.4 11.9-4.3 18.1s1.7 12.4 4.8 18s7.9 10.5 13.8 13.7s13 4.5 19.7 4s13-2.6 18.6-5.8s10.7-7.4 14.4-12.6s6-11.7 5.9-18.1z" stroke="#0f1" class="a"/>
<path d="M38.6-.4c-.1-6.4-2.4-12.6-6.2-17.7s-8.8-9.1-14.4-12.1s-11.9-4.9-18.5-5.2s-13.3 1.1-19.1 4.4s-10.3 8.1-13.2 13.7s-4.3 11.6-4.2 17.7s1.6 12.2 4.6 17.7s7.8 10.3 13.6 13.4s12.7 4.4 19.3 3.9s12.8-2.5 18.3-5.7s10.4-7.2 14-12.4s5.9-11.4 5.8-17.7z" stroke="#928"/>
<path d="M37.9-.4c-.1-6.2-2.4-12.3-6.2-17.3s-8.6-8.9-14.1-11.9s-11.6-4.8-18-5.1s-13.2 1.1-18.8 4.3s-10.1 8-13 13.4s-4.2 11.5-4.1 17.4s1.6 11.9 4.6 17.3s7.6 10.1 13.3 13.2s12.4 4.3 18.8 3.8s12.6-2.5 18-5.5s10.2-7.1 13.8-12.2s5.8-11.2 5.7-17.4z" stroke="#649"/>
<path d="M37.1-.4c-.1-6.1-2.4-12.1-6-17s-8.5-8.7-13.8-11.6s-11.4-4.7-17.7-5s-12.9 1.1-18.4 4.2s-9.9 7.8-12.7 13.1s-4.1 11.3-4.1 17.1s1.6 11.7 4.5 17s7.5 9.9 13 12.8s12.2 4.3 18.5 3.8s12.3-2.5 17.6-5.4s10-7 13.5-11.9s5.7-11 5.6-17.1z" stroke="#b7d"/>
<path d="M36.4-.4c-.1-6-2.4-11.8-5.9-16.6s-8.3-8.6-13.6-11.4s-11.1-4.6-17.3-4.9s-12.6 1-18 4.1s-9.7 7.7-12.5 12.9s-4 11-3.9 16.7s1.5 11.4 4.3 16.6s7.3 9.7 12.8 12.6s11.9 4.2 18.1 3.7s12.1-2.4 17.2-5.3s9.8-6.8 13.3-11.7s5.6-10.7 5.5-16.7z" stroke="#ae5" class="a"/>
<path d="M35.6-.4c-.1-5.9-2.3-11.6-5.8-16.2s-8.1-8.4-13.2-11.2s-11-4.5-17-4.8s-12.4 1-17.7 4s-9.5 7.5-12.1 12.6s-4 10.8-3.9 16.4s1.5 11.2 4.3 16.3s7.1 9.4 12.5 12.3s11.7 4.1 17.7 3.6s11.8-2.4 16.9-5.2s9.6-6.7 12.9-11.4s5.5-10.6 5.4-16.4z" stroke="#2d0"/>
<path d="M34.9-.4c-.1-5.7-2.3-11.3-5.7-15.9s-8-8.2-13-10.9s-10.7-4.4-16.6-4.7s-12.1 1-17.3 3.9s-9.3 7.4-11.9 12.4s-3.8 10.5-3.8 16s1.5 10.9 4.2 15.9s7 9.3 12.3 12.1s11.4 4 17.3 3.5s11.5-2.3 16.5-5.1s9.4-6.5 12.7-11.2s5.3-10.3 5.3-16z" stroke="#262" class="c"/>
<path d="M34.1-.4c-.1-5.6-2.2-11.1-5.6-15.5s-7.7-8-12.6-10.7s-10.5-4.3-16.3-4.6s-11.8 1-16.9 3.8s-9.1 7.2-11.6 12.1s-3.8 10.3-3.7 15.7s1.4 10.7 4.1 15.5s6.8 9.1 11.9 11.9s11.2 3.9 17 3.4s11.3-2.3 16.1-5s9.2-6.4 12.4-10.9s5.3-10.1 5.2-15.7z" stroke="#50b"/>
<path d="M33.3-.4c0-5.4-2.1-10.8-5.4-15.2s-7.6-7.8-12.4-10.4s-10.2-4.2-15.9-4.5s-11.5 .9-16.5 3.7s-8.9 7.1-11.4 11.9s-3.7 10-3.6 15.3s1.4 10.5 4 15.2s6.7 8.9 11.7 11.5s10.9 3.8 16.6 3.4s11-2.2 15.8-4.9s8.9-6.2 12.1-10.7s5.1-9.8 5-15.3z" stroke="#bc4"/>
<path d="M32.6-.4c-.1-5.3-2.1-10.6-5.3-14.8s-7.5-7.7-12.2-10.2s-9.9-4.1-15.5-4.4s-11.3 .9-16.1 3.6s-8.7 6.9-11.2 11.6s-3.5 9.8-3.5 15s1.4 10.2 3.9 14.8s6.6 8.7 11.5 11.3s10.7 3.7 16.2 3.3s10.8-2.2 15.4-4.8s8.8-6.1 11.9-10.4s4.9-9.6 4.9-15z" stroke="#3ba" class="a"/>
<path d="M31.8-.4c-.1-5.2-2-10.3-5.2-14.5s-7.2-7.4-11.8-9.9s-9.8-4.1-15.2-4.3s-11 .9-15.7 3.6s-8.5 6.7-10.9 11.2s-3.5 9.6-3.4 14.6s1.3 10.1 3.8 14.6s6.3 8.4 11.1 11s10.5 3.6 15.9 3.2s10.5-2.1 15-4.7s8.6-5.9 11.6-10.1s4.9-9.4 4.8-14.7z" stroke="#f11"/>
<path d="M31-.4c0-5-2-10-5-14.1s-7.1-7.3-11.6-9.7s-9.5-4-14.8-4.2s-10.7 .9-15.3 3.5s-8.3 6.5-10.7 11s-3.4 9.4-3.3 14.2s1.3 9.8 3.7 14.2s6.2 8.3 10.9 10.8s10.2 3.5 15.5 3.1s10.2-2.1 14.7-4.5s8.3-5.8 11.3-10s4.7-9.2 4.6-14.3z" stroke="#05e"/>
<path d="M30.3-.3c-.1-5-2-9.9-4.9-13.9s-6.9-7.1-11.3-9.4s-9.3-3.9-14.5-4.1s-10.4 .8-14.9 3.4s-8.1 6.4-10.4 10.7s-3.3 9.2-3.3 13.9s1.3 9.6 3.6 13.9s6.1 8 10.7 10.5s9.9 3.4 15.1 3s10-2 14.3-4.4s8.1-5.7 11-9.7s4.6-9 4.6-13.9z" stroke="#ca8" class="b"/>
<path d="M29.5-.3c-.1-4.9-1.9-9.6-4.8-13.5s-6.7-6.9-11-9.2s-9-3.8-14-4s-10.3 .8-14.7 3.3s-7.8 6.2-10.1 10.5s-3.2 8.9-3.2 13.5s1.3 9.3 3.6 13.5s5.9 7.9 10.4 10.2s9.6 3.4 14.6 3s9.8-1.9 14-4.3s8-5.5 10.8-9.5s4.5-8.7 4.4-13.5z" stroke="#499"/>
<path d="M28.7-.3c0-4.7-1.8-9.4-4.6-13.1s-6.6-6.8-10.7-9s-8.8-3.7-13.7-3.9s-10 .8-14.3 3.2s-7.6 6.1-9.8 10.2s-3.2 8.7-3.1 13.2s1.2 9.1 3.4 13.1s5.8 7.7 10.1 10s9.5 3.3 14.3 2.9s9.6-1.9 13.6-4.2s7.8-5.4 10.5-9.2s4.4-8.5 4.3-13.2z" stroke="#b91"/>
<path d="M28-.3c-.1-4.6-1.8-9.1-4.6-12.8s-6.3-6.6-10.4-8.7s-8.6-3.6-13.3-3.8s-9.7 .8-13.9 3.1s-7.5 5.9-9.6 9.9s-3 8.5-3 12.9s1.2 8.8 3.4 12.8s5.6 7.4 9.8 9.7s9.2 3.2 13.9 2.8s9.3-1.8 13.3-4.1s7.5-5.2 10.2-8.9s4.2-8.3 4.2-12.9z" stroke="#107" class="b"/>
<path d="M27.2-.3c0-4.5-1.7-8.9-4.4-12.4s-6.2-6.4-10.1-8.5s-8.4-3.5-13-3.7s-9.4 .8-13.5 3s-7.3 5.8-9.3 9.7s-3 8.2-3 12.5s1.1 8.6 3.3 12.4s5.5 7.3 9.6 9.5s8.9 3.1 13.5 2.7s9-1.8 12.9-4s7.3-5.1 9.9-8.7s4.2-8 4.1-12.5z" stroke="#99a"/>
<path d="M26.5-.3c-.1-4.3-1.7-8.6-4.3-12.1s-6.1-6.2-9.9-8.2s-8.1-3.4-12.6-3.6s-9.2 .7-13.1 2.9s-7.1 5.6-9.1 9.4s-2.9 8-2.8 12.2s1 8.3 3.1 12.1s5.3 7 9.3 9.1s8.7 3.1 13.2 2.7s8.8-1.7 12.5-3.9s7.2-4.9 9.7-8.4s4-7.9 4-12.2z" stroke="#9ed"/>
<path d="M25.7-.3c-.1-4.2-1.7-8.3-4.2-11.7s-5.8-6.1-9.5-8s-7.9-3.3-12.3-3.5s-8.9 .7-12.7 2.9s-6.9 5.4-8.8 9.1s-2.9 7.7-2.8 11.8s1 8.1 3.1 11.7s5.1 6.9 9 8.9s8.4 3 12.8 2.6s8.5-1.7 12.2-3.7s6.9-4.8 9.3-8.3s3.9-7.6 3.9-11.8z" stroke="#f52" class="a"/>
<path d="M24.9-.3c0-4.1-1.6-8.1-4-11.4s-5.7-5.8-9.3-7.7s-7.6-3.2-11.9-3.4s-8.6 .7-12.3 2.8s-6.7 5.2-8.6 8.8s-2.7 7.6-2.7 11.5s1 7.8 3 11.4s5 6.6 8.8 8.6s8.2 2.9 12.4 2.5s8.2-1.6 11.8-3.6s6.7-4.7 9.1-8s3.8-7.4 3.7-11.5z" stroke="#21d"/>
<path d="M24.2-.3c-.1-3.9-1.6-7.8-4-11s-5.5-5.7-9-7.5s-7.4-3.1-11.5-3.3s-8.4 .7-11.9 2.7s-6.5 5.1-8.3 8.6s-2.7 7.3-2.6 11.1s.9 7.6 2.9 11s4.8 6.4 8.5 8.4s7.9 2.7 12 2.4s8-1.6 11.4-3.5s6.5-4.5 8.8-7.8s3.7-7.1 3.7-11.1z" stroke="#b78"/>
<path d="M23.4-.3c0-3.8-1.5-7.6-3.8-10.6s-5.3-5.5-8.7-7.4s-7.2-2.9-11.2-3.1s-8.1 .6-11.6 2.6s-6.2 4.9-8 8.3s-2.6 7.1-2.5 10.8s.9 7.3 2.8 10.6s4.7 6.3 8.2 8.2s7.7 2.6 11.7 2.3s7.7-1.5 11.1-3.4s6.3-4.4 8.5-7.5s3.6-6.9 3.5-10.8z" stroke="#4e2" class="a"/>
<path d="M22.6-.3c0-3.7-1.4-7.3-3.6-10.3s-5.2-5.3-8.5-7.1s-6.9-2.9-10.8-3s-7.8 .6-11.2 2.5s-6 4.8-7.7 8s-2.5 6.9-2.5 10.4s.9 7.2 2.7 10.4s4.6 6 8 7.8s7.4 2.6 11.3 2.3s7.5-1.5 10.7-3.3s6.1-4.2 8.2-7.2s3.5-6.7 3.4-10.5z" stroke="#873"/>
<ellipse rx="21.3" ry="20" stroke="#e3e" class="b"/>
<ellipse rx="20.6" ry="19.4" stroke="#14c"/>
<ellipse rx="19.8" ry="18.7" stroke="#2c0"/>
<ellipse rx="19.1" ry="18" stroke="#e88"/>
<ellipse rx="18.3" ry="17.3" stroke="#94e" class="b"/>
<ellipse rx="17.6" ry="16.6" stroke="#2aa"/>
<ellipse rx="16.9" ry="15.9" stroke="#1c0" class="c"/>
<ellipse rx="16.1" ry="15.2" stroke="#d21"/>
<ellipse rx="15.4" ry="14.5" stroke="#8b7" class="a"/>
<ellipse rx="14.6" ry="13.8" stroke="#4cd"/>
<ellipse rx="13.9" ry="13.1" stroke="#23d"/>
<ellipse rx="13.1" ry="12.4" stroke="#a60" class="a"/>
<ellipse rx="12.4" ry="11.7" stroke="#ec0"/>
<ellipse rx="11.7" ry="11" stroke="#1da"/>
<ellipse rx="10.9" ry="10.3" stroke="#10a"/>
<ellipse rx="10.2" ry="9.6" stroke="#c7d"/>
<ellipse rx="9.4" ry="8.9" stroke="#db2" class="a"/>
<ellipse rx="8.7" ry="8.2" stroke="#c61"/>
<ellipse rx="7.9" ry="7.5" stroke="#14c"/>
<ellipse rx="7.2" ry="6.8" stroke="#d5d" class="b"/>
<ellipse rx="6.5" ry="6.1" stroke="#8c1"/>
<ellipse rx="5.7" ry="5.4" stroke="#c27" class="b"/>
<ellipse rx="5" ry="4.7" stroke="#298"/>
<ellipse rx="4.2" ry="4" stroke="#d47"/>
<ellipse rx="3.5" ry="3.3" stroke="#5ab" class="b"/>
<ellipse rx="2.7" ry="2.6" stroke="#a35"/>
<ellipse rx="2" ry="1.9" stroke="#2d3" class="a"/>
<ellipse rx="1.3" ry="1.2" stroke="#965"/>
<ellipse rx=".5" ry=".5" stroke="#94e" class="a"/>
<path d="M99.8-79.6c-8.9-9.8-19.9-17.8-32-23.6s-25.1-9.1-37.9-12s-26-5.7-39.5-5.6s-27.2 2.6-39.8 7.5s-24.1 12.2-33.7 21.1s-17.2 19.3-24.1 29.9s-13.5 21.6-17.6 33.7s-5.7 25-4.7 37.8s4.7 25.2 10.7 36.6s14.1 21.4 22.7 30.9s17.6 18.8 28.5 26.2s23.5 13.1 36.7 16.2s27.2 3.6 40.6 1.7s25.9-6.4 38.1-11.1s24.6-9.7 35.7-17.1s20.6-16.9 27.9-27.9s12-23.3 14.1-35.9s1.2-25.3 .2-37.7s-2.1-25-6.2-37.2s-10.8-23.7-19.7-33.5z" stroke="#9a2"/>
<path d="M100-79.7c-8.9-9.9-20-17.9-32-23.8s-25.1-9.4-38-12.4s-26.1-5.3-39.7-5.2s-27.2 2.6-39.8 7.6s-24.1 12.2-33.9 21s-17.5 19.2-24.5 29.8s-13.3 21.9-17.2 34s-5.7 25.1-4.7 37.9s4.8 25.3 10.6 36.8s13.9 21.6 22.5 31.1s17.9 18.7 28.9 26.1s23.6 13 36.9 16.1s27.2 3.7 40.6 1.9s26.1-6.1 38.4-10.8s24.6-10.1 35.6-17.6s20.6-17 27.9-28s12-23.3 14.2-35.9s1.6-25.4 .6-37.8s-2.4-25.1-6.6-37.3s-10.9-23.7-19.8-33.5z" stroke="#ab3"/>
<path d="M100.2-79.9c-8.9-9.9-20-18-32-23.9s-25-9.8-38-12.8s-26.3-5.1-39.9-4.9s-27.3 2.7-39.9 7.7s-24.2 12.2-34.1 21s-17.8 19.1-24.8 29.8s-13.2 22-17.1 34.2s-5.5 25.2-4.5 38s4.7 25.4 10.5 36.9s13.7 21.9 22.3 31.5s18.2 18.6 29.3 25.9s23.7 13 37 16.1s27.2 3.7 40.7 1.9s26.3-5.7 38.7-10.5s24.5-10.3 35.5-17.9s20.7-17.1 27.9-28.1s12.1-23.4 14.4-36.1s2-25.4 1-37.9s-2.8-25.2-7.1-37.3s-11-23.8-19.9-33.6z" stroke="#7b4"/>
<path d="M100.5-80.1c-9-9.9-20-18-32.1-24.1s-25-10-38-13s-26.5-5-40.1-4.8s-27.4 2.9-40.1 7.8s-24.3 12.3-34.2 21s-18.1 19-25.1 29.8s-13.1 22.2-17 34.5s-5.4 25.3-4.4 38.1s4.7 25.5 10.4 37.1s13.6 22.1 22.3 31.7s18.4 18.6 29.5 25.9s23.9 12.9 37.2 16s27.3 3.8 40.8 2.1s26.5-5.6 39-10.4s24.6-10.5 35.5-18.2s20.6-17.2 27.9-28.3s12.1-23.4 14.5-36.1s2.3-25.4 1.3-38s-3-25.3-7.3-37.5s-11.2-23.8-20.1-33.6z" stroke="#a6d"/>
<path d="M100.8-80.4c-9-9.9-20-18.1-32.1-24.2s-25-10.3-38.1-13.3s-26.7-4.9-40.4-4.6s-27.4 3-40.1 7.9s-24.4 12.3-34.4 21s-18.4 19-25.5 29.8s-13 22.4-16.8 34.8s-5.4 25.4-4.4 38.3s4.7 25.5 10.4 37.2s13.5 22.3 22.2 32s18.6 18.6 29.9 25.9s23.9 12.8 37.3 16s27.4 3.7 41 2.1s26.7-5.4 39.2-10.2s24.6-10.7 35.6-18.5s20.6-17.4 27.9-28.5s12.2-23.4 14.6-36.1s2.6-25.6 1.6-38.3s-3.2-25.4-7.7-37.6s-11.2-23.8-20.2-33.7z" stroke="#7c4"/>
<path d="M101.1-80.7c-9-9.9-20-18.1-32.1-24.4s-25.1-10.5-38.3-13.5s-26.8-4.8-40.5-4.4s-27.5 3-40.3 8s-24.5 12.3-34.6 21s-18.6 19-25.7 29.9s-13 22.5-16.8 34.9s-5.3 25.5-4.3 38.5s4.7 25.7 10.4 37.4s13.3 22.5 22.1 32.2s18.8 18.7 30.2 26s24.1 12.8 37.5 15.9s27.5 3.8 41.1 2.2s26.9-5.2 39.4-10.1s24.8-10.9 35.7-18.7s20.6-17.5 28-28.6s12.2-23.6 14.7-36.3s2.8-25.7 1.8-38.4s-3.3-25.6-7.8-37.8s-11.5-23.8-20.5-33.8z" stroke="#919"/>
<path d="M101.5-81c-9-10-20.1-18.2-32.2-24.5s-25.1-10.7-38.4-13.8s-27-4.7-40.8-4.3s-27.6 3.2-40.4 8.2s-24.7 12.2-34.8 21s-18.8 18.9-25.9 29.9s-13 22.7-16.8 35.2s-5.3 25.6-4.2 38.6s4.6 25.8 10.3 37.6s13.3 22.7 22.2 32.5s18.9 18.7 30.3 25.9s24.3 12.8 37.8 16s27.6 3.8 41.3 2.3s27-5.1 39.6-10s24.8-11.1 35.8-19s20.6-17.6 28-28.8s12.3-23.6 14.9-36.4s3-25.8 1.9-38.6s-3.4-25.6-8-37.9s-11.5-23.9-20.6-33.9z" stroke="#e9a"/>
<path d="M101.9-81.3c-9.1-10-20.2-18.4-32.3-24.7s-25.2-10.9-38.5-14s-27.2-4.6-41-4.1s-27.7 3.2-40.6 8.2s-24.8 12.2-35 21s-18.9 19-26.2 30s-13 22.9-16.7 35.4s-5.3 25.8-4.2 38.9s4.6 25.9 10.3 37.8s13.3 22.8 22.2 32.7s19.1 18.7 30.6 25.9s24.4 12.8 37.9 16s27.7 3.8 41.5 2.4s27.2-5.1 39.9-10s24.9-11.1 35.9-19.1s20.6-17.8 28-29s12.4-23.7 15.1-36.6s3.1-25.9 2.1-38.8s-3.6-25.7-8.2-38s-11.7-24-20.8-34z" stroke="#062" class="b"/>
<path d="M102.3-81.6c-9.1-10.1-20.2-18.5-32.3-24.9s-25.3-11.1-38.7-14.1s-27.3-4.7-41.3-4.2s-27.8 3.3-40.8 8.4s-24.8 12.3-35.1 21.1s-19.1 19-26.4 30s-13.1 23.1-16.8 35.7s-5.2 25.9-4.1 39s4.6 26.1 10.3 38s13.3 23 22.2 32.9s19.3 18.8 30.9 26.1s24.5 12.8 38.1 15.9s27.8 3.9 41.7 2.5s27.3-5 40.1-9.9s25-11.3 36-19.4s20.7-17.9 28.1-29.2s12.5-23.7 15.2-36.6s3.3-26 2.2-39s-3.6-25.9-8.4-38.2s-11.7-24.1-20.9-34.1z" stroke="#6a5"/>
<path d="M102.8-82c-18.3-20.2-44.3-33.1-71.4-39.3s-56.4-5.8-82.4 4.3s-47.3 29.1-61.9 51.4s-23 48.7-20.9 75.1s14.6 51.3 32.6 71.3s42 35.7 69.4 42.1s56.4 2.6 82.2-7.4s49.4-26.3 64.3-48.9s19.8-49.9 17.7-76s-11.3-52.4-29.6-72.6z" stroke="#5ad"/>
<path d="M103.2-82.3c-18.3-20.4-44.4-33.5-71.6-39.7s-56.7-5.6-82.8 4.5s-47.7 29.1-62.4 51.5s-23 49-20.9 75.5s14.6 51.7 32.7 71.7s42.3 35.9 69.8 42.2s56.8 2.8 82.6-7.2s49.7-26.6 64.6-49.3s20-50.1 17.9-76.3s-11.5-52.6-29.9-72.9z" stroke="#f49" class="b"/>
<path d="M103.7-82.7c-18.4-20.4-44.6-33.7-71.9-40s-57-5.5-83.3 4.6s-47.9 29.2-62.7 51.7s-23 49.3-20.9 75.9s14.5 52 32.7 72.2s42.7 35.9 70.3 42.3s57 2.9 83-7.2s49.8-26.8 64.8-49.6s20.3-50.3 18.2-76.7s-11.7-52.8-30.2-73.2z" stroke="#43c"/>
<path d="M104.2-83.1c-18.5-20.5-44.8-33.9-72.2-40.2s-57.3-5.5-83.7 4.7s-48.3 29.3-63.1 51.9s-23.1 49.6-21 76.3s14.6 52.2 32.9 72.5s42.9 36.1 70.6 42.5s57.4 3 83.5-7.1s50-27.1 65-50s20.5-50.5 18.4-77s-11.9-53.1-30.4-73.6z" stroke="#699" class="b"/>
<path d="M104.7-83.5c-18.6-20.6-44.9-34.2-72.6-40.5s-57.5-5.5-84.1 4.8s-48.5 29.4-63.5 52.1s-23.1 49.9-20.9 76.7s14.5 52.6 32.9 73s43.2 36.1 71.1 42.6s57.6 3.1 83.9-7.1s50.1-27.3 65.3-50.2s20.7-50.8 18.5-77.5s-12-53.3-30.6-73.9z" stroke="#5d5"/>
<path d="M105.2-83.9c-18.7-20.7-45.1-34.4-72.9-40.8s-57.9-5.4-84.5 4.9s-48.9 29.5-63.9 52.3s-23.1 50.2-21 77.2s14.5 52.8 33 73.3s43.5 36.3 71.5 42.8s57.9 3.2 84.4-7s50.3-27.5 65.5-50.6s20.9-51 18.8-77.8s-12.2-53.6-30.9-74.3z" stroke="#a63"/>
<path d="M105.7-84.3c-18.8-20.8-45.3-34.7-73.2-41.1s-58.2-5.3-85 5s-49.1 29.6-64.2 52.6s-23.2 50.4-21.1 77.5s14.6 53.2 33.2 73.8s43.7 36.4 71.8 42.9s58.3 3.3 84.9-7s50.5-27.7 65.8-50.9s21.1-51.2 18.9-78.2s-12.3-53.8-31.1-74.6z" stroke="#54b"/>
<path d="M106.2-84.7c-18.9-20.9-45.5-34.9-73.5-41.4s-58.5-5.3-85.4 5.2s-49.5 29.6-64.7 52.7s-23.2 50.7-21 78s14.5 53.4 33.2 74.1s44 36.6 72.3 43.1s58.5 3.4 85.2-6.9s50.8-28 66.2-51.3s21.2-51.4 19.1-78.5s-12.5-54.1-31.4-75z" stroke="#2af" class="c"/>
<ellipse rx="139.2" ry="131" stroke="#c91"/>
<ellipse rx="139.9" ry="131.6" stroke="#875" class="b"/>
<ellipse rx="140.6" ry="132.3" stroke="#a25"/>
<ellipse rx="141.4" ry="133" stroke="#62e" class="b"/>
<ellipse rx="142.1" ry="133.6" stroke="#4e0"/>
<ellipse rx="142.8" ry="134.3" stroke="#5ef" class="b"/>
<ellipse rx="143.5" ry="135" stroke="#529"/>
<ellipse rx="144.2" ry="135.7" stroke="#c95"/>
<ellipse rx="145" ry="136.4" stroke="#c57"/>
<ellipse rx="145.7" ry="137" stroke="#0d6" class="b"/>
<ellipse rx="146.4" ry="137.7" stroke="#609"/>
<ellipse rx="147.2" ry="138.4" stroke="#ce3" class="b"/>
<ellipse rx="147.9" ry="139.1" stroke="#c5e"/>
<ellipse rx="148.6" ry="139.8" stroke="#38c" class="b"/>
<ellipse rx="149.3" ry="140.5" stroke="#52a"/>
<ellipse rx="150.1" ry="141.2" stroke="#ec2" class="b"/>
<ellipse rx="150.8" ry="141.9" stroke="#918"/>
<ellipse rx="151.5" ry="142.5" stroke="#6cc" class="b"/>
<ellipse rx="152.3" ry="143.2" stroke="#529"/>
<ellipse rx="153" ry="143.9" stroke="#b90" class="b"/>
<ellipse rx="153.7" ry="144.6" stroke="#857"/>
<ellipse rx="154.5" ry="145.3" stroke="#17b" class="b"/>
<ellipse rx="155.2" ry="146" stroke="#97d"/>
<ellipse rx="155.9" ry="146.7" stroke="#774" class="b"/>
<ellipse rx="156.7" ry="147.4" stroke="#be0"/>
<ellipse rx="157.4" ry="148.1" stroke="#008" class="b"/>
<ellipse rx="158.1" ry="148.8" stroke="#f5f"/>
<ellipse rx="158.9" ry="149.5" stroke="#ac9" class="b"/>
<ellipse rx="159.6" ry="150.1" stroke="#b65"/>
<ellipse rx="160.4" ry="150.8" stroke="#6aa" class="b"/>
<ellipse rx="161.1" ry="151.5" stroke="#00f"/>
<ellipse rx="161.8" ry="152.2" stroke="#5d8" class="b"/>
<ellipse rx="162.6" ry="152.9" stroke="#c54"/>
<ellipse rx="163.3" ry="153.6" stroke="#e9b" class="b"/>
<ellipse rx="164" ry="154.3" stroke="#176"/>
<ellipse rx="164.8" ry="155" stroke="#59d" class="b"/>
<ellipse rx="165.5" ry="155.7" stroke="#4d0"/>
<ellipse rx="166.3" ry="156.4" stroke="#c3a" class="b"/>
<ellipse rx="167" ry="157.1" stroke="#34a"/>
<ellipse rx="167.7" ry="157.8" stroke="#897" class="b"/>
<ellipse rx="168.5" ry="158.5" stroke="#dc1"/>
<ellipse rx="169.2" ry="159.2" stroke="#97e" class="b"/>
<ellipse rx="170" ry="159.9" stroke="#10f"/>
<ellipse rx="170.7" ry="160.6" stroke="#6c0" class="b"/>
<ellipse rx="171.4" ry="161.3" stroke="#e92"/>
<ellipse rx="172.2" ry="162" stroke="#aa8" class="b"/>
<ellipse rx="172.9" ry="162.7" stroke="#31a" class="c"/>
<ellipse rx="173.7" ry="163.3" stroke="#0b7" class="b"/>
<ellipse rx="174.4" ry="164" stroke="#e88"/>
<ellipse rx="175.1" ry="164.7" stroke="#883" class="b"/>
<ellipse rx="175.9" ry="165.4" stroke="#921"/>
<ellipse rx="176.6" ry="166.1" stroke="#2b4" class="b"/>
<ellipse rx="177.4" ry="166.8" stroke="#9bc"/>
<ellipse rx="178.1" ry="167.5" stroke="#2aa" class="b"/>
<ellipse rx="178.8" ry="168.2" stroke="#914"/>
<ellipse rx="179.6" ry="168.9" stroke="#777" class="b"/>
<ellipse rx="180.3" ry="169.6" stroke="#cad" class="a"/>
<ellipse rx="181.1" ry="170.3" stroke="#8da" class="b"/>
<ellipse rx="181.8" ry="171" stroke="#c12" class="a"/>
<ellipse rx="182.5" ry="171.7" stroke="#261" class="b"/>
<ellipse rx="183.3" ry="172.4" stroke="#e49"/>
<ellipse rx="184" ry="173.1" stroke="#0af" class="b"/>
<ellipse rx="184.8" ry="173.8" stroke="#382"/>
<ellipse rx="185.5" ry="174.5" stroke="#e8d" class="b"/>
<ellipse rx="186.3" ry="175.2" stroke="#983"/>
<ellipse rx="187" ry="175.9" stroke="#b0d" class="b"/>
<ellipse rx="187.7" ry="176.6" stroke="#0a2"/>
<ellipse rx="188.5" ry="177.3" stroke="#27b" class="b"/>
<ellipse rx="189.2" ry="178" stroke="#7b3"/>
<ellipse rx="190" ry="178.7" stroke="#b9a" class="b"/>
<ellipse rx="190.7" ry="179.4" stroke="#907"/>
<ellipse rx="191.4" ry="180.1" stroke="#059" class="b"/>
<ellipse rx="192.2" ry="180.8" stroke="#eb3"/>
<ellipse rx="192.9" ry="181.5" stroke="#6cf" class="b"/>
<ellipse rx="193.7" ry="182.2" stroke="#834"/>
<ellipse rx="194.4" ry="182.9" stroke="#75b" class="b"/>
<ellipse rx="195.2" ry="183.6" stroke="#9d5"/>
<ellipse rx="195.9" ry="184.3" stroke="#8a1" class="b"/>
<ellipse rx="196.6" ry="185" stroke="#117"/>
<ellipse rx="197.4" ry="185.7" stroke="#97c" class="b"/>
<ellipse rx="198.1" ry="186.4" stroke="#fbf"/>
<ellipse rx="198.9" ry="187.1" stroke="#8b2" class="b"/>
<ellipse rx="199.6" ry="187.8" stroke="#283"/>
<ellipse rx="200.3" ry="188.5" stroke="#f02" class="b"/>
<ellipse rx="201.1" ry="189.2" stroke="#e9d" class="a"/>
<ellipse rx="201.8" ry="189.9" stroke="#6be" class="b"/>
<ellipse rx="202.6" ry="190.6" stroke="#34a"/>
<ellipse rx="203.3" ry="191.3" stroke="#824" class="b"/>
<ellipse rx="204.1" ry="192" stroke="#e84"/>
<ellipse rx="204.8" ry="192.7" stroke="#2f5" class="b"/>
<ellipse rx="205.5" ry="193.3" stroke="#34a"/>
<ellipse rx="206.3" ry="194" stroke="#61a" class="b"/>
<ellipse rx="207" ry="194.7" stroke="#7f1"/>
<ellipse rx="207.8" ry="195.4" stroke="#7af" class="b"/>
<ellipse rx="208.5" ry="196.1" stroke="#955"/>
<ellipse rx="209.3" ry="196.8" stroke="#21e" class="b"/>
<ellipse rx="210" ry="197.5" stroke="#6e4"/>
<ellipse rx="210.7" ry="198.2" stroke="#c59" class="b"/>
<ellipse rx="211.5" ry="198.9" stroke="#8d9"/>
<ellipse rx="212.2" ry="199.6" stroke="#40d" class="b"/>
<ellipse rx="213" ry="200.3" stroke="#6e2" class="c"/>
<ellipse rx="213.7" ry="201" stroke="#d42" class="b"/>
<ellipse rx="214.5" ry="201.7" stroke="#0dc"/>
<ellipse rx="215.2" ry="202.4" stroke="#e0f" class="b"/>
<ellipse rx="215.9" ry="203.1" stroke="#4a7"/>
<ellipse rx="216.7" ry="203.8" stroke="#b81" class="b"/>
<ellipse rx="217.4" ry="204.5" stroke="#3a5"/>
<ellipse rx="218.2" ry="205.2" stroke="#f15" class="b"/>
<ellipse rx="218.9" ry="205.9" stroke="#14e"/>
<ellipse rx="219.7" ry="206.6" stroke="#6a3" class="b"/>
<ellipse rx="220.4" ry="207.3" stroke="#6ac"/>
<ellipse rx="221.1" ry="208" stroke="#9e5" class="b"/>
<ellipse rx="221.9" ry="208.7" stroke="#319" class="a"/>
<ellipse rx="222.6" ry="209.4" stroke="#751" class="b"/>
<ellipse rx="223.4" ry="210.1" stroke="#5f1"/>
<ellipse rx="224.1" ry="210.8" stroke="#7d8" class="b"/>
<ellipse rx="224.9" ry="211.5" stroke="#c3e" class="a"/>
<ellipse rx="225.6" ry="212.2" stroke="#211" class="b"/>
</g>
<polygon fill="#fff" points="740.7,650.6 735.5,653.6 730.2,656.3 722,659.1 713.5,661.3 719.3,659.5 724.9,657.4 732.9,654.2"/>
<polygon fill="#fff" points="613.7,639.9 608.4,637.1 603.3,634 596.7,628.6 590.5,622.8 595,626.6 599.7,630.2 606.5,635.3"/>
<polygon fill="#fff" points="583.2,476.6 586.1,471.6 589.2,466.7 594.9,460.4 600.9,454.5 596.9,458.8 593.2,463.2 587.9,469.8"/>
<polygon fill="#fff" points="701.3,426 707.4,426.1 713.4,426.4 722,428.1 730.4,430.4 724.5,429.1 718.5,428.1 710,426.8"/>
<polygon fill="#fff" points="808.2,512.2 810.4,517.5 812.4,522.9 813.9,531 814.8,539.2 813.8,533.5 812.6,527.9 810.7,520"/>
</g>
<g clip-path="url(#cl2)" fill="none" stroke-width="2.6">
<rect x="76.0" y="779.9" width="316.8" height="298.0" fill="#fff"/>
<rect x="196" y="779.9" width="76" height="298.0" fill="url(#ch2)"/>
<polygon fill="#116" points="221.5,812.5 222.8,816.2 224.2,819.9 227.6,820.5 231,821 227.7,822.7 224.3,824.4 223.9,827.9 223.4,831.5 221,827.7 218.7,823.9 215.3,823.4 212,823 215.6,821.3 219.1,819.6 220.3,816.1"/>
<polygon fill="#227" points="222.5,814 221.5,816.7 220.5,819.5 218,819.9 215.5,820.3 217.9,821.5 220.4,822.8 220.8,825.4 221.1,828 222.8,825.2 224.6,822.4 227.1,822 229.5,821.7 226.9,820.5 224.2,819.2 223.4,816.6"/>
<polygon fill="#fff" points="221.5,816.5 222.3,818.6 223,820.8 225,821.1 227,821.5 225.1,822.4 223.2,823.4 222.9,825.4 222.6,827.5 221.2,825.3 219.8,823.1 217.9,822.8 216,822.5 218.1,821.6 220.1,820.6 220.8,818.6"/>
<polygon fill="#116" points="223,908.5 224.3,912.2 225.7,915.9 229.1,916.5 232.5,917 229.2,918.7 225.8,920.4 225.4,923.9 224.9,927.5 222.5,923.7 220.2,919.9 216.8,919.4 213.5,919 217.1,917.3 220.6,915.6 221.8,912.1"/>
<polygon fill="#227" points="224,910 223,912.7 222,915.5 219.5,915.9 217,916.3 219.4,917.5 221.9,918.8 222.2,921.4 222.6,924 224.3,921.2 226.1,918.4 228.6,918 231,917.7 228.4,916.5 225.8,915.2 224.9,912.6"/>
<polygon fill="#fff" points="223,912.5 223.8,914.6 224.5,916.8 226.5,917.1 228.5,917.5 226.6,918.4 224.7,919.4 224.4,921.4 224.1,923.5 222.7,921.3 221.3,919.1 219.4,918.8 217.5,918.5 219.6,917.6 221.6,916.6 222.3,914.6"/>
<polygon fill="#116" points="228,1011.5 229.3,1015.2 230.7,1018.9 234.1,1019.5 237.5,1020 234.2,1021.7 230.8,1023.4 230.4,1026.9 229.9,1030.5 227.5,1026.7 225.2,1022.9 221.8,1022.4 218.5,1022 222.1,1020.3 225.6,1018.6 226.8,1015.1"/>
<polygon fill="#227" points="229,1013 228,1015.7 227,1018.5 224.5,1018.9 222,1019.3 224.4,1020.5 226.9,1021.8 227.2,1024.4 227.6,1027 229.3,1024.2 231.1,1021.4 233.6,1021 236,1020.7 233.4,1019.5 230.8,1018.2 229.9,1015.6"/>
<polygon fill="#fff" points="228,1015.5 228.8,1017.6 229.5,1019.8 231.5,1020.1 233.5,1020.5 231.6,1021.4 229.7,1022.4 229.4,1024.4 229.1,1026.5 227.7,1024.3 226.3,1022.1 224.4,1021.8 222.5,1021.5 224.6,1020.6 226.6,1019.6 227.3,1017.6"/>
<path d="M76 779.9h114v298.0h-114zM300 779.9h93v298.0h-93z" fill="#777" stroke="none"/>
<path d="M211.5 1100.4c4.4-8.3 11-16.6 11-24.9s-6.6-16.5-11-24.8s-5.8-16.6-5.8-24.8s1.4-16.6 5.8-24.9s11-16.5 11-24.8s-6.6-16.6-11-24.8s-5.8-16.6-5.8-24.9s1.4-16.5 5.8-24.8s11-16.6 11-24.8s-6.6-16.6-11-24.9s-5.8-16.5-5.8-24.8s1.4-16.6 5.8-24.8s11-16.6 11-24.9" stroke="#e54"/>
<path d="M210.4 1100.4c4.1-8.3 10.1-16.6 10.1-24.9s-6-16.5-10.1-24.8s-5.6-16.6-5.6-24.8s1.4-16.6 5.6-24.9s10.1-16.5 10.1-24.8s-6-16.6-10.1-24.8s-5.6-16.6-5.6-24.9s1.4-16.5 5.6-24.8s10.1-16.6 10.1-24.8s-6-16.6-10.1-24.9s-5.6-16.5-5.6-24.8s1.4-16.6 5.6-24.8s10.1-16.6 10.1-24.9" stroke="#47c"/>
<path d="M209.2 1100.4c3.9-8.3 9.4-16.6 9.4-24.9s-5.5-16.5-9.4-24.8s-5.4-16.6-5.4-24.8s1.5-16.6 5.4-24.9s9.4-16.5 9.4-24.8s-5.5-16.6-9.4-24.8s-5.4-16.6-5.4-24.9s1.5-16.5 5.4-24.8s9.4-16.6 9.4-24.8s-5.5-16.6-9.4-24.9s-5.4-16.5-5.4-24.8s1.5-16.6 5.4-24.8s9.4-16.6 9.4-24.9" stroke="#c93"/>
<path d="M208 1100.4c3.6-8.3 8.8-16.6 8.8-24.9s-5.2-16.5-8.8-24.8s-5.2-16.6-5.2-24.8s1.5-16.6 5.2-24.9s8.8-16.5 8.8-24.8s-5.2-16.6-8.8-24.8s-5.2-16.6-5.2-24.9s1.5-16.5 5.2-24.8s8.8-16.6 8.8-24.8s-5.2-16.6-8.8-24.9s-5.2-16.5-5.2-24.8s1.5-16.6 5.2-24.8s8.8-16.6 8.8-24.9" stroke="#58d"/>
<path d="M206.8 1100.4c3.4-8.3 8.3-16.6 8.3-24.9s-4.9-16.5-8.3-24.8s-5-16.6-5-24.8s1.5-16.6 5-24.9s8.3-16.5 8.3-24.8s-4.9-16.6-8.3-24.8s-5-16.6-5-24.9s1.5-16.5 5-24.8s8.3-16.6 8.3-24.8s-4.9-16.6-8.3-24.9s-5-16.5-5-24.8s1.5-16.6 5-24.8s8.3-16.6 8.3-24.9" stroke="#52a"/>
<path d="M205.5 1100.4c3.3-8.3 7.8-16.6 7.8-24.9s-4.5-16.5-7.8-24.8s-4.7-16.6-4.7-24.8s1.4-16.6 4.7-24.9s7.8-16.5 7.8-24.8s-4.5-16.6-7.8-24.8s-4.7-16.6-4.7-24.9s1.4-16.5 4.7-24.8s7.8-16.6 7.8-24.8s-4.5-16.6-7.8-24.9s-4.7-16.5-4.7-24.8s1.4-16.6 4.7-24.8s7.8-16.6 7.8-24.9" stroke="#aa3"/>
<path d="M204.3 1100.4c3.1-8.3 7.4-16.6 7.4-24.9s-4.3-16.5-7.4-24.8s-4.6-16.6-4.6-24.8s1.5-16.6 4.6-24.9s7.4-16.5 7.4-24.8s-4.3-16.6-7.4-24.8s-4.6-16.6-4.6-24.9s1.5-16.5 4.6-24.8s7.4-16.6 7.4-24.8s-4.3-16.6-7.4-24.9s-4.6-16.5-4.6-24.8s1.5-16.6 4.6-24.8s7.4-16.6 7.4-24.9" stroke="#7ae"/>
<path d="M203.1 1100.4c3-8.3 6.9-16.6 6.9-24.9s-3.9-16.5-6.9-24.8s-4.5-16.6-4.5-24.8s1.5-16.6 4.5-24.9s6.9-16.5 6.9-24.8s-3.9-16.6-6.9-24.8s-4.5-16.6-4.5-24.9s1.5-16.5 4.5-24.8s6.9-16.6 6.9-24.8s-3.9-16.6-6.9-24.9s-4.5-16.5-4.5-24.8s1.5-16.6 4.5-24.8s6.9-16.6 6.9-24.9" stroke="#935"/>
<path d="M201.8 1100.4c2.9-8.3 6.6-16.6 6.6-24.9s-3.7-16.5-6.6-24.8s-4.3-16.6-4.3-24.8s1.5-16.6 4.3-24.9s6.6-16.5 6.6-24.8s-3.7-16.6-6.6-24.8s-4.3-16.6-4.3-24.9s1.5-16.5 4.3-24.8s6.6-16.6 6.6-24.8s-3.7-16.6-6.6-24.9s-4.3-16.5-4.3-24.8s1.5-16.6 4.3-24.8s6.6-16.6 6.6-24.9" stroke="#265" class="a"/>
<path d="M200.6 1100.4c2.7-8.3 6.2-16.6 6.2-24.9s-3.5-16.5-6.2-24.8s-4.2-16.6-4.2-24.8s1.4-16.6 4.2-24.9s6.2-16.5 6.2-24.8s-3.5-16.6-6.2-24.8s-4.2-16.6-4.2-24.9s1.4-16.5 4.2-24.8s6.2-16.6 6.2-24.8s-3.5-16.6-6.2-24.9s-4.2-16.5-4.2-24.8s1.4-16.6 4.2-24.8s6.2-16.6 6.2-24.9" stroke="#cbd"/>
<path d="M199.3 1100.4c2.6-8.3 6-16.6 6-24.9s-3.4-16.5-6-24.8s-4-16.6-4-24.8s1.4-16.6 4-24.9s6-16.5 6-24.8s-3.4-16.6-6-24.8s-4-16.6-4-24.9s1.4-16.5 4-24.8s6-16.6 6-24.8s-3.4-16.6-6-24.9s-4-16.5-4-24.8s1.4-16.6 4-24.8s6-16.6 6-24.9" stroke="#2e7" class="c"/>
<path d="M198.1 1100.4c2.5-8.3 5.6-16.6 5.6-24.9s-3.1-16.5-5.6-24.8s-3.9-16.6-3.9-24.8s1.3-16.6 3.9-24.9s5.6-16.5 5.6-24.8s-3.1-16.6-5.6-24.8s-3.9-16.6-3.9-24.9s1.3-16.5 3.9-24.8s5.6-16.6 5.6-24.8s-3.1-16.6-5.6-24.9s-3.9-16.5-3.9-24.8s1.3-16.6 3.9-24.8s5.6-16.6 5.6-24.9" stroke="#889"/>
<path d="M196.8 1100.4c2.4-8.3 5.4-16.6 5.4-24.9s-3-16.5-5.4-24.8s-3.8-16.6-3.8-24.8s1.4-16.6 3.8-24.9s5.4-16.5 5.4-24.8s-3-16.6-5.4-24.8s-3.8-16.6-3.8-24.9s1.4-16.5 3.8-24.8s5.4-16.6 5.4-24.8s-3-16.6-5.4-24.9s-3.8-16.5-3.8-24.8s1.4-16.6 3.8-24.8s5.4-16.6 5.4-24.9" stroke="#31b"/>
<path d="M195.5 1100.4c2.3-8.3 5.2-16.6 5.2-24.9s-2.9-16.5-5.2-24.8s-3.7-16.6-3.7-24.8s1.4-16.6 3.7-24.9s5.2-16.5 5.2-24.8s-2.9-16.6-5.2-24.8s-3.7-16.6-3.7-24.9s1.4-16.5 3.7-24.8s5.2-16.6 5.2-24.8s-2.9-16.6-5.2-24.9s-3.7-16.5-3.7-24.8s1.4-16.6 3.7-24.8s5.2-16.6 5.2-24.9" stroke="#e73" class="b"/>
<path d="M194.3 1100.4c2.2-8.3 4.9-16.6 4.9-24.9s-2.7-16.5-4.9-24.8s-3.6-16.6-3.6-24.8s1.3-16.6 3.6-24.9s4.9-16.5 4.9-24.8s-2.7-16.6-4.9-24.8s-3.6-16.6-3.6-24.9s1.3-16.5 3.6-24.8s4.9-16.6 4.9-24.8s-2.7-16.6-4.9-24.9s-3.6-16.5-3.6-24.8s1.3-16.6 3.6-24.8s4.9-16.6 4.9-24.9" stroke="#3ad"/>
<path d="M193 1100.4c2.1-8.3 4.7-16.6 4.7-24.9s-2.6-16.5-4.7-24.8s-3.5-16.6-3.5-24.8s1.3-16.6 3.5-24.9s4.7-16.5 4.7-24.8s-2.6-16.6-4.7-24.8s-3.5-16.6-3.5-24.9s1.3-16.5 3.5-24.8s4.7-16.6 4.7-24.8s-2.6-16.6-4.7-24.9s-3.5-16.5-3.5-24.8s1.3-16.6 3.5-24.8s4.7-16.6 4.7-24.9" stroke="#6c0" class="a"/>
<path d="M191.7 1100.4c2.1-8.3 4.6-16.6 4.6-24.9s-2.5-16.5-4.6-24.8s-3.4-16.6-3.4-24.8s1.3-16.6 3.4-24.9s4.6-16.5 4.6-24.8s-2.5-16.6-4.6-24.8s-3.4-16.6-3.4-24.9s1.3-16.5 3.4-24.8s4.6-16.6 4.6-24.8s-2.5-16.6-4.6-24.9s-3.4-16.5-3.4-24.8s1.3-16.6 3.4-24.8s4.6-16.6 4.6-24.9" stroke="#c17"/>
<path d="M190.4 1100.4c2-8.3 4.4-16.6 4.4-24.9s-2.4-16.5-4.4-24.8s-3.3-16.6-3.3-24.8s1.3-16.6 3.3-24.9s4.4-16.5 4.4-24.8s-2.4-16.6-4.4-24.8s-3.3-16.6-3.3-24.9s1.3-16.5 3.3-24.8s4.4-16.6 4.4-24.8s-2.4-16.6-4.4-24.9s-3.3-16.5-3.3-24.8s1.3-16.6 3.3-24.8s4.4-16.6 4.4-24.9" stroke="#75e"/>
<path d="M189.1 1100.4c2-8.3 4.3-16.6 4.3-24.9s-2.3-16.5-4.3-24.8s-3.2-16.6-3.2-24.8s1.3-16.6 3.2-24.9s4.3-16.5 4.3-24.8s-2.3-16.6-4.3-24.8s-3.2-16.6-3.2-24.9s1.3-16.5 3.2-24.8s4.3-16.6 4.3-24.8s-2.3-16.6-4.3-24.9s-3.2-16.5-3.2-24.8s1.3-16.6 3.2-24.8s4.3-16.6 4.3-24.9" stroke="#c3b" class="c"/>
<path d="M187.9 1100.4c1.8-8.3 4-16.6 4-24.9s-2.2-16.5-4-24.8s-3.1-16.6-3.1-24.8s1.2-16.6 3.1-24.9s4-16.5 4-24.8s-2.2-16.6-4-24.8s-3.1-16.6-3.1-24.9s1.2-16.5 3.1-24.8s4-16.6 4-24.8s-2.2-16.6-4-24.9s-3.1-16.5-3.1-24.8s1.2-16.6 3.1-24.8s4-16.6 4-24.9" stroke="#7e9"/>
<path d="M186.6 1100.4c1.8-8.3 3.9-16.6 3.9-24.9s-2.1-16.5-3.9-24.8s-3-16.6-3-24.8s1.2-16.6 3-24.9s3.9-16.5 3.9-24.8s-2.1-16.6-3.9-24.8s-3-16.6-3-24.9s1.2-16.5 3-24.8s3.9-16.6 3.9-24.8s-2.1-16.6-3.9-24.9s-3-16.5-3-24.8s1.2-16.6 3-24.8s3.9-16.6 3.9-24.9" stroke="#c52"/>
<path d="M185.3 1100.4c1.8-8.3 3.8-16.6 3.8-24.9s-2-16.5-3.8-24.8s-3-16.6-3-24.8s1.2-16.6 3-24.9s3.8-16.5 3.8-24.8s-2-16.6-3.8-24.8s-3-16.6-3-24.9s1.2-16.5 3-24.8s3.8-16.6 3.8-24.8s-2-16.6-3.8-24.9s-3-16.5-3-24.8s1.2-16.6 3-24.8s3.8-16.6 3.8-24.9" stroke="#34d" class="b"/>
<path d="M184 1100.4c1.7-8.3 3.6-16.6 3.6-24.9s-1.9-16.5-3.6-24.8s-2.9-16.6-2.9-24.8s1.2-16.6 2.9-24.9s3.6-16.5 3.6-24.8s-1.9-16.6-3.6-24.8s-2.9-16.6-2.9-24.9s1.2-16.5 2.9-24.8s3.6-16.6 3.6-24.8s-1.9-16.6-3.6-24.9s-2.9-16.5-2.9-24.8s1.2-16.6 2.9-24.8s3.6-16.6 3.6-24.9" stroke="#e65"/>
<path d="M182.7 1100.4c1.7-8.3 3.5-16.6 3.5-24.9s-1.8-16.5-3.5-24.8s-2.8-16.6-2.8-24.8s1.2-16.6 2.8-24.9s3.5-16.5 3.5-24.8s-1.8-16.6-3.5-24.8s-2.8-16.6-2.8-24.9s1.2-16.5 2.8-24.8s3.5-16.6 3.5-24.8s-1.8-16.6-3.5-24.9s-2.8-16.5-2.8-24.8s1.2-16.6 2.8-24.8s3.5-16.6 3.5-24.9" stroke="#1be"/>
<path d="M181.4 1100.4c1.6-8.3 3.4-16.6 3.4-24.9s-1.8-16.5-3.4-24.8s-2.7-16.6-2.7-24.8s1.1-16.6 2.7-24.9s3.4-16.5 3.4-24.8s-1.8-16.6-3.4-24.8s-2.7-16.6-2.7-24.9s1.1-16.5 2.7-24.8s3.4-16.6 3.4-24.8s-1.8-16.6-3.4-24.9s-2.7-16.5-2.7-24.8s1.1-16.6 2.7-24.8s3.4-16.6 3.4-24.9" stroke="#f30"/>
<path d="M180.1 1100.4c1.6-8.3 3.3-16.6 3.3-24.9s-1.7-16.5-3.3-24.8s-2.6-16.6-2.6-24.8s1.1-16.6 2.6-24.9s3.3-16.5 3.3-24.8s-1.7-16.6-3.3-24.8s-2.6-16.6-2.6-24.9s1.1-16.5 2.6-24.8s3.3-16.6 3.3-24.8s-1.7-16.6-3.3-24.9s-2.6-16.5-2.6-24.8s1.1-16.6 2.6-24.8s3.3-16.6 3.3-24.9" stroke="#269" class="a"/>
<path d="M178.9 1100.4c1.5-8.3 3.1-16.6 3.1-24.9s-1.6-16.5-3.1-24.8s-2.6-16.6-2.6-24.8s1.1-16.6 2.6-24.9s3.1-16.5 3.1-24.8s-1.6-16.6-3.1-24.8s-2.6-16.6-2.6-24.9s1.1-16.5 2.6-24.8s3.1-16.6 3.1-24.8s-1.6-16.6-3.1-24.9s-2.6-16.5-2.6-24.8s1.1-16.6 2.6-24.8s3.1-16.6 3.1-24.9" stroke="#6ba"/>
<path d="M175.1 1125.2c0-16.6 5.5-33.1 5.5-49.7s-5.5-33.1-5.5-49.6s5.5-33.1 5.5-49.7s-5.5-33.1-5.5-49.7s5.5-33.1 5.5-49.6s-5.5-33.1-5.5-49.7s5.5-33.1 5.5-49.7" stroke="#e75"/>
<path d="M173.8 1125.2c0-16.6 5.4-33.1 5.4-49.7s-5.4-33.1-5.4-49.6s5.4-33.1 5.4-49.7s-5.4-33.1-5.4-49.7s5.4-33.1 5.4-49.6s-5.4-33.1-5.4-49.7s5.4-33.1 5.4-49.7" stroke="#876" class="b"/>
<path d="M172.6 1125.2c0-16.6 5.2-33.1 5.2-49.7s-5.2-33.1-5.2-49.6s5.2-33.1 5.2-49.7s-5.2-33.1-5.2-49.7s5.2-33.1 5.2-49.6s-5.2-33.1-5.2-49.7s5.2-33.1 5.2-49.7" stroke="#42f"/>
<path d="M171.4 1125.2c0-16.6 5-33.1 5-49.7s-5-33.1-5-49.6s5-33.1 5-49.7s-5-33.1-5-49.7s5-33.1 5-49.6s-5-33.1-5-49.7s5-33.1 5-49.7" stroke="#9e6"/>
<path d="M170.1 1125.2c0-16.6 5-33.1 5-49.7s-5-33.1-5-49.6s5-33.1 5-49.7s-5-33.1-5-49.7s5-33.1 5-49.6s-5-33.1-5-49.7s5-33.1 5-49.7" stroke="#a55" class="b"/>
<path d="M168.9 1125.2c0-16.6 4.8-33.1 4.8-49.7s-4.8-33.1-4.8-49.6s4.8-33.1 4.8-49.7s-4.8-33.1-4.8-49.7s4.8-33.1 4.8-49.6s-4.8-33.1-4.8-49.7s4.8-33.1 4.8-49.7" stroke="#4b2"/>
<path d="M167.7 1125.2c0-16.6 4.6-33.1 4.6-49.7s-4.6-33.1-4.6-49.6s4.6-33.1 4.6-49.7s-4.6-33.1-4.6-49.7s4.6-33.1 4.6-49.6s-4.6-33.1-4.6-49.7s4.6-33.1 4.6-49.7" stroke="#c39" class="a"/>
<path d="M166.4 1125.2c0-16.6 4.5-33.1 4.5-49.7s-4.5-33.1-4.5-49.6s4.5-33.1 4.5-49.7s-4.5-33.1-4.5-49.7s4.5-33.1 4.5-49.6s-4.5-33.1-4.5-49.7s4.5-33.1 4.5-49.7" stroke="#99b"/>
<path d="M165.2 1125.2c0-16.6 4.4-33.1 4.4-49.7s-4.4-33.1-4.4-49.6s4.4-33.1 4.4-49.7s-4.4-33.1-4.4-49.7s4.4-33.1 4.4-49.6s-4.4-33.1-4.4-49.7s4.4-33.1 4.4-49.7" stroke="#169"/>
<path d="M163.9 1125.2c0-16.6 4.3-33.1 4.3-49.7s-4.3-33.1-4.3-49.6s4.3-33.1 4.3-49.7s-4.3-33.1-4.3-49.7s4.3-33.1 4.3-49.6s-4.3-33.1-4.3-49.7s4.3-33.1 4.3-49.7" stroke="#4ab" class="a"/>
<path d="M162.7 1125.2c0-16.6 4.1-33.1 4.1-49.7s-4.1-33.1-4.1-49.6s4.1-33.1 4.1-49.7s-4.1-33.1-4.1-49.7s4.1-33.1 4.1-49.6s-4.1-33.1-4.1-49.7s4.1-33.1 4.1-49.7" stroke="#e05"/>
<path d="M161.5 1125.2c0-16.6 4-33.1 4-49.7s-4-33.1-4-49.6s4-33.1 4-49.7s-4-33.1-4-49.7s4-33.1 4-49.6s-4-33.1-4-49.7s4-33.1 4-49.7" stroke="#fce"/>
<path d="M160.2 1125.2c0-16.6 3.9-33.1 3.9-49.7s-3.9-33.1-3.9-49.6s3.9-33.1 3.9-49.7s-3.9-33.1-3.9-49.7s3.9-33.1 3.9-49.6s-3.9-33.1-3.9-49.7s3.9-33.1 3.9-49.7" stroke="#0bd"/>
<path d="M159 1125.2c0-16.6 3.7-33.1 3.7-49.7s-3.7-33.1-3.7-49.6s3.7-33.1 3.7-49.7s-3.7-33.1-3.7-49.7s3.7-33.1 3.7-49.6s-3.7-33.1-3.7-49.7s3.7-33.1 3.7-49.7" stroke="#716"/>
<path d="M157.7 1125.2c0-16.6 3.7-33.1 3.7-49.7s-3.7-33.1-3.7-49.6s3.7-33.1 3.7-49.7s-3.7-33.1-3.7-49.7s3.7-33.1 3.7-49.6s-3.7-33.1-3.7-49.7s3.7-33.1 3.7-49.7" stroke="#f50"/>
<path d="M156.5 1125.2c0-16.6 3.5-33.1 3.5-49.7s-3.5-33.1-3.5-49.6s3.5-33.1 3.5-49.7s-3.5-33.1-3.5-49.7s3.5-33.1 3.5-49.6s-3.5-33.1-3.5-49.7s3.5-33.1 3.5-49.7" stroke="#49d"/>
<path d="M155.2 1125.2c0-16.6 3.5-33.1 3.5-49.7s-3.5-33.1-3.5-49.6s3.5-33.1 3.5-49.7s-3.5-33.1-3.5-49.7s3.5-33.1 3.5-49.6s-3.5-33.1-3.5-49.7s3.5-33.1 3.5-49.7" stroke="#ee4"/>
<path d="M153.9 1125.2c0-16.6 3.4-33.1 3.4-49.7s-3.4-33.1-3.4-49.6s3.4-33.1 3.4-49.7s-3.4-33.1-3.4-49.7s3.4-33.1 3.4-49.6s-3.4-33.1-3.4-49.7s3.4-33.1 3.4-49.7" stroke="#028" class="a"/>
<path d="M152.7 1125.2c0-16.6 3.3-33.1 3.3-49.7s-3.3-33.1-3.3-49.6s3.3-33.1 3.3-49.7s-3.3-33.1-3.3-49.7s3.3-33.1 3.3-49.6s-3.3-33.1-3.3-49.7s3.3-33.1 3.3-49.7" stroke="#b83"/>
<path d="M151.4 1125.2c0-16.6 3.2-33.1 3.2-49.7s-3.2-33.1-3.2-49.6s3.2-33.1 3.2-49.7s-3.2-33.1-3.2-49.7s3.2-33.1 3.2-49.6s-3.2-33.1-3.2-49.7s3.2-33.1 3.2-49.7" stroke="#2e8"/>
<path d="M150.2 1125.2c0-16.6 3.1-33.1 3.1-49.7s-3.1-33.1-3.1-49.6s3.1-33.1 3.1-49.7s-3.1-33.1-3.1-49.7s3.1-33.1 3.1-49.6s-3.1-33.1-3.1-49.7s3.1-33.1 3.1-49.7" stroke="#d9f"/>
<path d="M148.9 1125.2c0-16.6 3-33.1 3-49.7s-3-33.1-3-49.6s3-33.1 3-49.7s-3-33.1-3-49.7s3-33.1 3-49.6s-3-33.1-3-49.7s3-33.1 3-49.7" stroke="#a13"/>
<path d="M147.7 1125.2c0-16.6 2.9-33.1 2.9-49.7s-2.9-33.1-2.9-49.6s2.9-33.1 2.9-49.7s-2.9-33.1-2.9-49.7s2.9-33.1 2.9-49.6s-2.9-33.1-2.9-49.7s2.9-33.1 2.9-49.7" stroke="#066"/>
<path d="M146.4 1125.2c0-16.6 2.9-33.1 2.9-49.7s-2.9-33.1-2.9-49.6s2.9-33.1 2.9-49.7s-2.9-33.1-2.9-49.7s2.9-33.1 2.9-49.6s-2.9-33.1-2.9-49.7s2.9-33.1 2.9-49.7" stroke="#da8" class="b"/>
<path d="M145.1 1125.2c0-16.6 2.8-33.1 2.8-49.7s-2.8-33.1-2.8-49.6s2.8-33.1 2.8-49.7s-2.8-33.1-2.8-49.7s2.8-33.1 2.8-49.6s-2.8-33.1-2.8-49.7s2.8-33.1 2.8-49.7" stroke="#0f2"/>
<path d="M143.9 1125.2c0-16.6 2.7-33.1 2.7-49.7s-2.7-33.1-2.7-49.6s2.7-33.1 2.7-49.7s-2.7-33.1-2.7-49.7s2.7-33.1 2.7-49.6s-2.7-33.1-2.7-49.7s2.7-33.1 2.7-49.7" stroke="#725" class="c"/>
<path d="M142.6 1125.2c0-16.6 2.6-33.1 2.6-49.7s-2.6-33.1-2.6-49.6s2.6-33.1 2.6-49.7s-2.6-33.1-2.6-49.7s2.6-33.1 2.6-49.6s-2.6-33.1-2.6-49.7s2.6-33.1 2.6-49.7" stroke="#85d"/>
<path d="M141.3 1125.2c0-16.6 2.6-33.1 2.6-49.7s-2.6-33.1-2.6-49.6s2.6-33.1 2.6-49.7s-2.6-33.1-2.6-49.7s2.6-33.1 2.6-49.6s-2.6-33.1-2.6-49.7s2.6-33.1 2.6-49.7" stroke="#d88"/>
<path d="M140.1 1125.2c0-16.6 2.5-33.1 2.5-49.7s-2.5-33.1-2.5-49.6s2.5-33.1 2.5-49.7s-2.5-33.1-2.5-49.7s2.5-33.1 2.5-49.6s-2.5-33.1-2.5-49.7s2.5-33.1 2.5-49.7" stroke="#97d" class="a"/>
<path d="M138.8 1125.2c0-16.6 2.4-33.1 2.4-49.7s-2.4-33.1-2.4-49.6s2.4-33.1 2.4-49.7s-2.4-33.1-2.4-49.7s2.4-33.1 2.4-49.6s-2.4-33.1-2.4-49.7s2.4-33.1 2.4-49.7" stroke="#a2a"/>
<path d="M137.5 1125.2c0-16.6 2.4-33.1 2.4-49.7s-2.4-33.1-2.4-49.6s2.4-33.1 2.4-49.7s-2.4-33.1-2.4-49.7s2.4-33.1 2.4-49.6s-2.4-33.1-2.4-49.7s2.4-33.1 2.4-49.7" stroke="#0cb" class="c"/>
<path d="M136.3 1125.2c0-16.6 2.3-33.1 2.3-49.7s-2.3-33.1-2.3-49.6s2.3-33.1 2.3-49.7s-2.3-33.1-2.3-49.7s2.3-33.1 2.3-49.6s-2.3-33.1-2.3-49.7s2.3-33.1 2.3-49.7" stroke="#4c3"/>
<path d="M135 1125.2c0-16.6 2.2-33.1 2.2-49.7s-2.2-33.1-2.2-49.6s2.2-33.1 2.2-49.7s-2.2-33.1-2.2-49.7s2.2-33.1 2.2-49.6s-2.2-33.1-2.2-49.7s2.2-33.1 2.2-49.7" stroke="#a2a" class="a"/>
<path d="M133.7 1125.2c0-16.6 2.2-33.1 2.2-49.7s-2.2-33.1-2.2-49.6s2.2-33.1 2.2-49.7s-2.2-33.1-2.2-49.7s2.2-33.1 2.2-49.6s-2.2-33.1-2.2-49.7s2.2-33.1 2.2-49.7" stroke="#616"/>
<path d="M132.5 1125.2c0-16.6 2.1-33.1 2.1-49.7s-2.1-33.1-2.1-49.6s2.1-33.1 2.1-49.7s-2.1-33.1-2.1-49.7s2.1-33.1 2.1-49.6s-2.1-33.1-2.1-49.7s2.1-33.1 2.1-49.7" stroke="#cbe" class="b"/>
<path d="M131.2 1125.2c0-16.6 2-33.1 2-49.7s-2-33.1-2-49.6s2-33.1 2-49.7s-2-33.1-2-49.7s2-33.1 2-49.6s-2-33.1-2-49.7s2-33.1 2-49.7" stroke="#1eb"/>
<path d="M129.9 1125.2c0-16.6 2-33.1 2-49.7s-2-33.1-2-49.6s2-33.1 2-49.7s-2-33.1-2-49.7s2-33.1 2-49.6s-2-33.1-2-49.7s2-33.1 2-49.7" stroke="#918"/>
<path d="M128.6 1125.2c0-16.6 2-33.1 2-49.7s-2-33.1-2-49.6s2-33.1 2-49.7s-2-33.1-2-49.7s2-33.1 2-49.6s-2-33.1-2-49.7s2-33.1 2-49.7" stroke="#440"/>
<path d="M127.4 1125.2c0-16.6 1.9-33.1 1.9-49.7s-1.9-33.1-1.9-49.6s1.9-33.1 1.9-49.7s-1.9-33.1-1.9-49.7s1.9-33.1 1.9-49.6s-1.9-33.1-1.9-49.7s1.9-33.1 1.9-49.7" stroke="#bdb"/>
<path d="M126.1 1125.2c0-16.6 1.8-33.1 1.8-49.7s-1.8-33.1-1.8-49.6s1.8-33.1 1.8-49.7s-1.8-33.1-1.8-49.7s1.8-33.1 1.8-49.6s-1.8-33.1-1.8-49.7s1.8-33.1 1.8-49.7" stroke="#d8d" class="a"/>
<path d="M124.8 1125.2c0-16.6 1.8-33.1 1.8-49.7s-1.8-33.1-1.8-49.6s1.8-33.1 1.8-49.7s-1.8-33.1-1.8-49.7s1.8-33.1 1.8-49.6s-1.8-33.1-1.8-49.7s1.8-33.1 1.8-49.7" stroke="#576"/>
<path d="M123.5 1125.2c0-16.6 1.8-33.1 1.8-49.7s-1.8-33.1-1.8-49.6s1.8-33.1 1.8-49.7s-1.8-33.1-1.8-49.7s1.8-33.1 1.8-49.6s-1.8-33.1-1.8-49.7s1.8-33.1 1.8-49.7" stroke="#315"/>
<path d="M122.2 1125.2c0-16.6 1.8-33.1 1.8-49.7s-1.8-33.1-1.8-49.6s1.8-33.1 1.8-49.7s-1.8-33.1-1.8-49.7s1.8-33.1 1.8-49.6s-1.8-33.1-1.8-49.7s1.8-33.1 1.8-49.7" stroke="#ef5"/>
<path d="M121 1125.2c0-16.6 1.6-33.1 1.6-49.7s-1.6-33.1-1.6-49.6s1.6-33.1 1.6-49.7s-1.6-33.1-1.6-49.7s1.6-33.1 1.6-49.6s-1.6-33.1-1.6-49.7s1.6-33.1 1.6-49.7" stroke="#c3a"/>
<path d="M119.7 1125.2c0-16.6 1.6-33.1 1.6-49.7s-1.6-33.1-1.6-49.6s1.6-33.1 1.6-49.7s-1.6-33.1-1.6-49.7s1.6-33.1 1.6-49.6s-1.6-33.1-1.6-49.7s1.6-33.1 1.6-49.7" stroke="#3eb" class="b"/>
<path d="M118.4 1125.2c0-16.6 1.6-33.1 1.6-49.7s-1.6-33.1-1.6-49.6s1.6-33.1 1.6-49.7s-1.6-33.1-1.6-49.7s1.6-33.1 1.6-49.6s-1.6-33.1-1.6-49.7s1.6-33.1 1.6-49.7" stroke="#264"/>
<path d="M117.1 1125.2c0-16.6 1.6-33.1 1.6-49.7s-1.6-33.1-1.6-49.6s1.6-33.1 1.6-49.7s-1.6-33.1-1.6-49.7s1.6-33.1 1.6-49.6s-1.6-33.1-1.6-49.7s1.6-33.1 1.6-49.7" stroke="#e91"/>
<path d="M115.8 1125.2c0-16.6 1.6-33.1 1.6-49.7s-1.6-33.1-1.6-49.6s1.6-33.1 1.6-49.7s-1.6-33.1-1.6-49.7s1.6-33.1 1.6-49.6s-1.6-33.1-1.6-49.7s1.6-33.1 1.6-49.7" stroke="#357"/>
<path d="M114.6 1125.2c0-16.6 1.4-33.1 1.4-49.7s-1.4-33.1-1.4-49.6s1.4-33.1 1.4-49.7s-1.4-33.1-1.4-49.7s1.4-33.1 1.4-49.6s-1.4-33.1-1.4-49.7s1.4-33.1 1.4-49.7" stroke="#99b"/>
<path d="M113.3 1125.2c0-16.6 1.4-33.1 1.4-49.7s-1.4-33.1-1.4-49.6s1.4-33.1 1.4-49.7s-1.4-33.1-1.4-49.7s1.4-33.1 1.4-49.6s-1.4-33.1-1.4-49.7s1.4-33.1 1.4-49.7" stroke="#466"/>
<path d="M112 1125.2c0-16.6 1.4-33.1 1.4-49.7s-1.4-33.1-1.4-49.6s1.4-33.1 1.4-49.7s-1.4-33.1-1.4-49.7s1.4-33.1 1.4-49.6s-1.4-33.1-1.4-49.7s1.4-33.1 1.4-49.7" stroke="#e65"/>
<path d="M110.7 1125.2c0-16.6 1.4-33.1 1.4-49.7s-1.4-33.1-1.4-49.6s1.4-33.1 1.4-49.7s-1.4-33.1-1.4-49.7s1.4-33.1 1.4-49.6s-1.4-33.1-1.4-49.7s1.4-33.1 1.4-49.7" stroke="#38c" class="b"/>
<path d="M109.4 1125.2c0-16.6 1.4-33.1 1.4-49.7s-1.4-33.1-1.4-49.6s1.4-33.1 1.4-49.7s-1.4-33.1-1.4-49.7s1.4-33.1 1.4-49.6s-1.4-33.1-1.4-49.7s1.4-33.1 1.4-49.7" stroke="#789"/>
<path d="M108.1 1125.2c0-16.6 1.4-33.1 1.4-49.7s-1.4-33.1-1.4-49.6s1.4-33.1 1.4-49.7s-1.4-33.1-1.4-49.7s1.4-33.1 1.4-49.6s-1.4-33.1-1.4-49.7s1.4-33.1 1.4-49.7" stroke="#b62"/>
<path d="M106.9 1125.2c0-16.6 1.2-33.1 1.2-49.7s-1.2-33.1-1.2-49.6s1.2-33.1 1.2-49.7s-1.2-33.1-1.2-49.7s1.2-33.1 1.2-49.6s-1.2-33.1-1.2-49.7s1.2-33.1 1.2-49.7" stroke="#88e"/>
<path d="M105.6 1125.2c0-16.6 1.2-33.1 1.2-49.7s-1.2-33.1-1.2-49.6s1.2-33.1 1.2-49.7s-1.2-33.1-1.2-49.7s1.2-33.1 1.2-49.6s-1.2-33.1-1.2-49.7s1.2-33.1 1.2-49.7" stroke="#5b2"/>
<path d="M104.3 1125.2c0-16.6 1.2-33.1 1.2-49.7s-1.2-33.1-1.2-49.6s1.2-33.1 1.2-49.7s-1.2-33.1-1.2-49.7s1.2-33.1 1.2-49.6s-1.2-33.1-1.2-49.7s1.2-33.1 1.2-49.7" stroke="#73a"/>
<path d="M103 1125.2c0-16.6 1.2-33.1 1.2-49.7s-1.2-33.1-1.2-49.6s1.2-33.1 1.2-49.7s-1.2-33.1-1.2-49.7s1.2-33.1 1.2-49.6s-1.2-33.1-1.2-49.7s1.2-33.1 1.2-49.7" stroke="#b40"/>
<path d="M101.7 1125.2c0-16.6 1.2-33.1 1.2-49.7s-1.2-33.1-1.2-49.6s1.2-33.1 1.2-49.7s-1.2-33.1-1.2-49.7s1.2-33.1 1.2-49.6s-1.2-33.1-1.2-49.7s1.2-33.1 1.2-49.7" stroke="#88d"/>
<path d="M100.4 1125.2c0-16.6 1.2-33.1 1.2-49.7s-1.2-33.1-1.2-49.6s1.2-33.1 1.2-49.7s-1.2-33.1-1.2-49.7s1.2-33.1 1.2-49.6s-1.2-33.1-1.2-49.7s1.2-33.1 1.2-49.7" stroke="#4b8"/>
<path d="M99.1 1125.2c0-16.6 1.2-33.1 1.2-49.7s-1.2-33.1-1.2-49.6s1.2-33.1 1.2-49.7s-1.2-33.1-1.2-49.7s1.2-33.1 1.2-49.6s-1.2-33.1-1.2-49.7s1.2-33.1 1.2-49.7" stroke="#775"/>
<path d="M97.9 1125.2c0-16.6 1-33.1 1-49.7s-1-33.1-1-49.6s1-33.1 1-49.7s-1-33.1-1-49.7s1-33.1 1-49.6s-1-33.1-1-49.7s1-33.1 1-49.7" stroke="#d18" class="c"/>
<path d="M96.6 1125.2c0-16.6 1-33.1 1-49.7s-1-33.1-1-49.6s1-33.1 1-49.7s-1-33.1-1-49.7s1-33.1 1-49.6s-1-33.1-1-49.7s1-33.1 1-49.7" stroke="#cc2"/>
<path d="M95.3 1125.2c0-16.6 1-33.1 1-49.7s-1-33.1-1-49.6s1-33.1 1-49.7s-1-33.1-1-49.7s1-33.1 1-49.6s-1-33.1-1-49.7s1-33.1 1-49.7" stroke="#3be"/>
<path d="M94 1125.2c0-16.6 1-33.1 1-49.7s-1-33.1-1-49.6s1-33.1 1-49.7s-1-33.1-1-49.7s1-33.1 1-49.6s-1-33.1-1-49.7s1-33.1 1-49.7" stroke="#193" class="a"/>
<path d="M92.7 1125.2c0-16.6 1-33.1 1-49.7s-1-33.1-1-49.6s1-33.1 1-49.7s-1-33.1-1-49.7s1-33.1 1-49.6s-1-33.1-1-49.7s1-33.1 1-49.7" stroke="#94e"/>
<path d="M91.4 1125.2c0-16.6 1-33.1 1-49.7s-1-33.1-1-49.6s1-33.1 1-49.7s-1-33.1-1-49.7s1-33.1 1-49.6s-1-33.1-1-49.7s1-33.1 1-49.7" stroke="#c04"/>
<path d="M90.1 1125.2c0-16.6 1-33.1 1-49.7s-1-33.1-1-49.6s1-33.1 1-49.7s-1-33.1-1-49.7s1-33.1 1-49.6s-1-33.1-1-49.7s1-33.1 1-49.7" stroke="#9ef" class="b"/>
<path d="M88.9 1125.2c0-16.6 .9-33.1 .9-49.7s-.9-33.1-.9-49.6s.9-33.1 .9-49.7s-.9-33.1-.9-49.7s.9-33.1 .9-49.6s-.9-33.1-.9-49.7s.9-33.1 .9-49.7" stroke="#b65"/>
<path d="M87.6 1125.2c0-16.6 .8-33.1 .8-49.7s-.8-33.1-.8-49.6s.8-33.1 .8-49.7s-.8-33.1-.8-49.7s.8-33.1 .8-49.6s-.8-33.1-.8-49.7s.8-33.1 .8-49.7" stroke="#2c1"/>
<path d="M86.3 1125.2c0-16.6 .8-33.1 .8-49.7s-.8-33.1-.8-49.6s.8-33.1 .8-49.7s-.8-33.1-.8-49.7s.8-33.1 .8-49.6s-.8-33.1-.8-49.7s.8-33.1 .8-49.7" stroke="#90b"/>
<path d="M85 1125.2c0-16.6 .8-33.1 .8-49.7s-.8-33.1-.8-49.6s.8-33.1 .8-49.7s-.8-33.1-.8-49.7s.8-33.1 .8-49.6s-.8-33.1-.8-49.7s.8-33.1 .8-49.7" stroke="#5cc" class="c"/>
<path d="M83.7 1125.2c0-16.6 .8-33.1 .8-49.7s-.8-33.1-.8-49.6s.8-33.1 .8-49.7s-.8-33.1-.8-49.7s.8-33.1 .8-49.6s-.8-33.1-.8-49.7s.8-33.1 .8-49.7" stroke="#d07"/>
<path d="M82.4 1125.2c0-16.6 .8-33.1 .8-49.7s-.8-33.1-.8-49.6s.8-33.1 .8-49.7s-.8-33.1-.8-49.7s.8-33.1 .8-49.6s-.8-33.1-.8-49.7s.8-33.1 .8-49.7" stroke="#596" class="a"/>
<path d="M81.1 1125.2c0-16.6 .8-33.1 .8-49.7s-.8-33.1-.8-49.6s.8-33.1 .8-49.7s-.8-33.1-.8-49.7s.8-33.1 .8-49.6s-.8-33.1-.8-49.7s.8-33.1 .8-49.7" stroke="#b77"/>
<path d="M79.8 1125.2c0-16.6 .8-33.1 .8-49.7s-.8-33.1-.8-49.6s.8-33.1 .8-49.7s-.8-33.1-.8-49.7s.8-33.1 .8-49.6s-.8-33.1-.8-49.7s.8-33.1 .8-49.7" stroke="#55f"/>
<path d="M78.5 1125.2c0-16.6 .8-33.1 .8-49.7s-.8-33.1-.8-49.6s.8-33.1 .8-49.7s-.8-33.1-.8-49.7s.8-33.1 .8-49.6s-.8-33.1-.8-49.7s.8-33.1 .8-49.7" stroke="#f5e" class="a"/>
<path d="M77.3 1125.2c0-16.6 .6-33.1 .6-49.7s-.6-33.1-.6-49.6s.6-33.1 .6-49.7s-.6-33.1-.6-49.7s.6-33.1 .6-49.6s-.6-33.1-.6-49.7s.6-33.1 .6-49.7" stroke="#1a4"/>
<path d="M76 1125.2c0-16.6 .6-33.1 .6-49.7s-.6-33.1-.6-49.6s.6-33.1 .6-49.7s-.6-33.1-.6-49.7s.6-33.1 .6-49.6s-.6-33.1-.6-49.7s.6-33.1 .6-49.7" stroke="#298"/>
<path d="M74.7 1125.2c0-16.6 .6-33.1 .6-49.7s-.6-33.1-.6-49.6s.6-33.1 .6-49.7s-.6-33.1-.6-49.7s.6-33.1 .6-49.6s-.6-33.1-.6-49.7s.6-33.1 .6-49.7" stroke="#883"/>
<path d="M73.4 1125.2c0-16.6 .6-33.1 .6-49.7s-.6-33.1-.6-49.6s.6-33.1 .6-49.7s-.6-33.1-.6-49.7s.6-33.1 .6-49.6s-.6-33.1-.6-49.7s.6-33.1 .6-49.7" stroke="#59f" class="b"/>
<path d="M72.1 1125.2c0-16.6 .6-33.1 .6-49.7s-.6-33.1-.6-49.6s.6-33.1 .6-49.7s-.6-33.1-.6-49.7s.6-33.1 .6-49.6s-.6-33.1-.6-49.7s.6-33.1 .6-49.7" stroke="#d16"/>
<path d="M70.8 1125.2c0-16.6 .6-33.1 .6-49.7s-.6-33.1-.6-49.6s.6-33.1 .6-49.7s-.6-33.1-.6-49.7s.6-33.1 .6-49.6s-.6-33.1-.6-49.7s.6-33.1 .6-49.7" stroke="#48d"/>
<path d="M69.5 1125.2c0-16.6 .6-33.1 .6-49.7s-.6-33.1-.6-49.6s.6-33.1 .6-49.7s-.6-33.1-.6-49.7s.6-33.1 .6-49.6s-.6-33.1-.6-49.7s.6-33.1 .6-49.7" stroke="#8c0"/>
<path d="M68.2 1125.2c0-16.6 .6-33.1 .6-49.7s-.6-33.1-.6-49.6s.6-33.1 .6-49.7s-.6-33.1-.6-49.7s.6-33.1 .6-49.6s-.6-33.1-.6-49.7s.6-33.1 .6-49.7" stroke="#4a9"/>
<path d="M66.9 1125.2c0-16.6 .6-33.1 .6-49.7s-.6-33.1-.6-49.6s.6-33.1 .6-49.7s-.6-33.1-.6-49.7s.6-33.1 .6-49.6s-.6-33.1-.6-49.7s.6-33.1 .6-49.7" stroke="#81c"/>
<path d="M65.6 1125.2c0-16.6 .6-33.1 .6-49.7s-.6-33.1-.6-49.6s.6-33.1 .6-49.7s-.6-33.1-.6-49.7s.6-33.1 .6-49.6s-.6-33.1-.6-49.7s.6-33.1 .6-49.7" stroke="#b16"/>
<path d="M64.4 1125.2c0-16.6 .4-33.1 .4-49.7s-.4-33.1-.4-49.6s.4-33.1 .4-49.7s-.4-33.1-.4-49.7s.4-33.1 .4-49.6s-.4-33.1-.4-49.7s.4-33.1 .4-49.7" stroke="#6c5"/>
<path d="M254.2 1086.2c-2.9-5-7.2-10-7.2-14.9s4.3-10 7.2-14.9s4.7-10 4.7-14.9s-1.9-10-4.7-14.9s-7.2-10-7.2-14.9s4.3-10 7.2-14.9s4.7-10 4.7-14.9s-1.9-10-4.7-14.9s-7.2-10-7.2-14.9s4.3-10 7.2-14.9s4.7-10 4.7-14.9s-1.9-10-4.7-14.9s-7.2-10-7.2-14.9s4.3-10 7.2-14.9s4.7-10 4.7-14.9s-1.9-10-4.7-14.9s-7.2-10-7.2-14.9s4.3-10 7.2-14.9s4.7-10 4.7-14.9s-1.9-10-4.7-14.9s-7.2-10-7.2-14.9" stroke="#25a"/>
<path d="M254.9 1086.2c-2.8-5-6.6-10-6.6-14.9s3.8-10 6.6-14.9s4.5-10 4.5-14.9s-1.8-10-4.5-14.9s-6.6-10-6.6-14.9s3.8-10 6.6-14.9s4.5-10 4.5-14.9s-1.8-10-4.5-14.9s-6.6-10-6.6-14.9s3.8-10 6.6-14.9s4.5-10 4.5-14.9s-1.8-10-4.5-14.9s-6.6-10-6.6-14.9s3.8-10 6.6-14.9s4.5-10 4.5-14.9s-1.8-10-4.5-14.9s-6.6-10-6.6-14.9s3.8-10 6.6-14.9s4.5-10 4.5-14.9s-1.8-10-4.5-14.9s-6.6-10-6.6-14.9" stroke="#7b3"/>
<path d="M255.7 1086.2c-2.6-5-6.1-10-6.1-14.9s3.5-10 6.1-14.9s4.3-10 4.3-14.9s-1.7-10-4.3-14.9s-6.1-10-6.1-14.9s3.5-10 6.1-14.9s4.3-10 4.3-14.9s-1.7-10-4.3-14.9s-6.1-10-6.1-14.9s3.5-10 6.1-14.9s4.3-10 4.3-14.9s-1.7-10-4.3-14.9s-6.1-10-6.1-14.9s3.5-10 6.1-14.9s4.3-10 4.3-14.9s-1.7-10-4.3-14.9s-6.1-10-6.1-14.9s3.5-10 6.1-14.9s4.3-10 4.3-14.9s-1.7-10-4.3-14.9s-6.1-10-6.1-14.9" stroke="#9c4"/>
<path d="M256.5 1086.2c-2.5-5-5.6-10-5.6-14.9s3.1-10 5.6-14.9s4.2-10 4.2-14.9s-1.7-10-4.2-14.9s-5.6-10-5.6-14.9s3.1-10 5.6-14.9s4.2-10 4.2-14.9s-1.7-10-4.2-14.9s-5.6-10-5.6-14.9s3.1-10 5.6-14.9s4.2-10 4.2-14.9s-1.7-10-4.2-14.9s-5.6-10-5.6-14.9s3.1-10 5.6-14.9s4.2-10 4.2-14.9s-1.7-10-4.2-14.9s-5.6-10-5.6-14.9s3.1-10 5.6-14.9s4.2-10 4.2-14.9s-1.7-10-4.2-14.9s-5.6-10-5.6-14.9" stroke="#6a3"/>
<path d="M257.4 1086.2c-2.3-5-5.2-10-5.2-14.9s2.9-10 5.2-14.9s4-10 4-14.9s-1.7-10-4-14.9s-5.2-10-5.2-14.9s2.9-10 5.2-14.9s4-10 4-14.9s-1.7-10-4-14.9s-5.2-10-5.2-14.9s2.9-10 5.2-14.9s4-10 4-14.9s-1.7-10-4-14.9s-5.2-10-5.2-14.9s2.9-10 5.2-14.9s4-10 4-14.9s-1.7-10-4-14.9s-5.2-10-5.2-14.9s2.9-10 5.2-14.9s4-10 4-14.9s-1.7-10-4-14.9s-5.2-10-5.2-14.9" stroke="#5e3"/>
<path d="M262.2 1101.1c0-10-8.7-19.9-8.7-29.8s8.7-19.9 8.7-29.8s-8.7-19.9-8.7-29.8s8.7-19.9 8.7-29.8s-8.7-19.9-8.7-29.8s8.7-19.9 8.7-29.8s-8.7-19.9-8.7-29.8s8.7-19.9 8.7-29.8s-8.7-19.9-8.7-29.8s8.7-19.9 8.7-29.8s-8.7-19.9-8.7-29.8" stroke="#a86"/>
<path d="M263 1101.1c0-10-8.2-19.9-8.2-29.8s8.2-19.9 8.2-29.8s-8.2-19.9-8.2-29.8s8.2-19.9 8.2-29.8s-8.2-19.9-8.2-29.8s8.2-19.9 8.2-29.8s-8.2-19.9-8.2-29.8s8.2-19.9 8.2-29.8s-8.2-19.9-8.2-29.8s8.2-19.9 8.2-29.8s-8.2-19.9-8.2-29.8" stroke="#b02" class="a"/>
<path d="M263.8 1101.1c0-10-7.7-19.9-7.7-29.8s7.7-19.9 7.7-29.8s-7.7-19.9-7.7-29.8s7.7-19.9 7.7-29.8s-7.7-19.9-7.7-29.8s7.7-19.9 7.7-29.8s-7.7-19.9-7.7-29.8s7.7-19.9 7.7-29.8s-7.7-19.9-7.7-29.8s7.7-19.9 7.7-29.8s-7.7-19.9-7.7-29.8" stroke="#98d"/>
<path d="M264.7 1101.1c0-10-7.3-19.9-7.3-29.8s7.3-19.9 7.3-29.8s-7.3-19.9-7.3-29.8s7.3-19.9 7.3-29.8s-7.3-19.9-7.3-29.8s7.3-19.9 7.3-29.8s-7.3-19.9-7.3-29.8s7.3-19.9 7.3-29.8s-7.3-19.9-7.3-29.8s7.3-19.9 7.3-29.8s-7.3-19.9-7.3-29.8" stroke="#697" class="b"/>
<path d="M265.6 1101.1c0-10-6.9-19.9-6.9-29.8s6.9-19.9 6.9-29.8s-6.9-19.9-6.9-29.8s6.9-19.9 6.9-29.8s-6.9-19.9-6.9-29.8s6.9-19.9 6.9-29.8s-6.9-19.9-6.9-29.8s6.9-19.9 6.9-29.8s-6.9-19.9-6.9-29.8s6.9-19.9 6.9-29.8s-6.9-19.9-6.9-29.8" stroke="#8d5"/>
<path d="M266.5 1101.1c0-10-6.5-19.9-6.5-29.8s6.5-19.9 6.5-29.8s-6.5-19.9-6.5-29.8s6.5-19.9 6.5-29.8s-6.5-19.9-6.5-29.8s6.5-19.9 6.5-29.8s-6.5-19.9-6.5-29.8s6.5-19.9 6.5-29.8s-6.5-19.9-6.5-29.8s6.5-19.9 6.5-29.8s-6.5-19.9-6.5-29.8" stroke="#a28"/>
<path d="M267.5 1101.1c0-10-6.2-19.9-6.2-29.8s6.2-19.9 6.2-29.8s-6.2-19.9-6.2-29.8s6.2-19.9 6.2-29.8s-6.2-19.9-6.2-29.8s6.2-19.9 6.2-29.8s-6.2-19.9-6.2-29.8s6.2-19.9 6.2-29.8s-6.2-19.9-6.2-29.8s6.2-19.9 6.2-29.8s-6.2-19.9-6.2-29.8" stroke="#51c" class="b"/>
<path d="M268.5 1101.1c0-10-5.9-19.9-5.9-29.8s5.9-19.9 5.9-29.8s-5.9-19.9-5.9-29.8s5.9-19.9 5.9-29.8s-5.9-19.9-5.9-29.8s5.9-19.9 5.9-29.8s-5.9-19.9-5.9-29.8s5.9-19.9 5.9-29.8s-5.9-19.9-5.9-29.8s5.9-19.9 5.9-29.8s-5.9-19.9-5.9-29.8" stroke="#9d8"/>
<path d="M269.5 1101.1c0-10-5.6-19.9-5.6-29.8s5.6-19.9 5.6-29.8s-5.6-19.9-5.6-29.8s5.6-19.9 5.6-29.8s-5.6-19.9-5.6-29.8s5.6-19.9 5.6-29.8s-5.6-19.9-5.6-29.8s5.6-19.9 5.6-29.8s-5.6-19.9-5.6-29.8s5.6-19.9 5.6-29.8s-5.6-19.9-5.6-29.8" stroke="#d39" class="a"/>
<path d="M270.5 1101.1c0-10-5.3-19.9-5.3-29.8s5.3-19.9 5.3-29.8s-5.3-19.9-5.3-29.8s5.3-19.9 5.3-29.8s-5.3-19.9-5.3-29.8s5.3-19.9 5.3-29.8s-5.3-19.9-5.3-29.8s5.3-19.9 5.3-29.8s-5.3-19.9-5.3-29.8s5.3-19.9 5.3-29.8s-5.3-19.9-5.3-29.8" stroke="#593"/>
<path d="M271.6 1101.1c0-10-5.1-19.9-5.1-29.8s5.1-19.9 5.1-29.8s-5.1-19.9-5.1-29.8s5.1-19.9 5.1-29.8s-5.1-19.9-5.1-29.8s5.1-19.9 5.1-29.8s-5.1-19.9-5.1-29.8s5.1-19.9 5.1-29.8s-5.1-19.9-5.1-29.8s5.1-19.9 5.1-29.8s-5.1-19.9-5.1-29.8" stroke="#37b"/>
<path d="M272.6 1101.1c0-10-4.8-19.9-4.8-29.8s4.8-19.9 4.8-29.8s-4.8-19.9-4.8-29.8s4.8-19.9 4.8-29.8s-4.8-19.9-4.8-29.8s4.8-19.9 4.8-29.8s-4.8-19.9-4.8-29.8s4.8-19.9 4.8-29.8s-4.8-19.9-4.8-29.8s4.8-19.9 4.8-29.8s-4.8-19.9-4.8-29.8" stroke="#7ea" class="a"/>
<path d="M273.7 1101.1c0-10-4.6-19.9-4.6-29.8s4.6-19.9 4.6-29.8s-4.6-19.9-4.6-29.8s4.6-19.9 4.6-29.8s-4.6-19.9-4.6-29.8s4.6-19.9 4.6-29.8s-4.6-19.9-4.6-29.8s4.6-19.9 4.6-29.8s-4.6-19.9-4.6-29.8s4.6-19.9 4.6-29.8s-4.6-19.9-4.6-29.8" stroke="#a34"/>
<path d="M274.8 1101.1c0-10-4.4-19.9-4.4-29.8s4.4-19.9 4.4-29.8s-4.4-19.9-4.4-29.8s4.4-19.9 4.4-29.8s-4.4-19.9-4.4-29.8s4.4-19.9 4.4-29.8s-4.4-19.9-4.4-29.8s4.4-19.9 4.4-29.8s-4.4-19.9-4.4-29.8s4.4-19.9 4.4-29.8s-4.4-19.9-4.4-29.8" stroke="#f62"/>
<path d="M275.9 1101.1c0-10-4.2-19.9-4.2-29.8s4.2-19.9 4.2-29.8s-4.2-19.9-4.2-29.8s4.2-19.9 4.2-29.8s-4.2-19.9-4.2-29.8s4.2-19.9 4.2-29.8s-4.2-19.9-4.2-29.8s4.2-19.9 4.2-29.8s-4.2-19.9-4.2-29.8s4.2-19.9 4.2-29.8s-4.2-19.9-4.2-29.8" stroke="#01b" class="a"/>
<path d="M277 1101.1c0-10-4-19.9-4-29.8s4-19.9 4-29.8s-4-19.9-4-29.8s4-19.9 4-29.8s-4-19.9-4-29.8s4-19.9 4-29.8s-4-19.9-4-29.8s4-19.9 4-29.8s-4-19.9-4-29.8s4-19.9 4-29.8s-4-19.9-4-29.8" stroke="#6d3"/>
<path d="M278.2 1101.1c0-10-3.9-19.9-3.9-29.8s3.9-19.9 3.9-29.8s-3.9-19.9-3.9-29.8s3.9-19.9 3.9-29.8s-3.9-19.9-3.9-29.8s3.9-19.9 3.9-29.8s-3.9-19.9-3.9-29.8s3.9-19.9 3.9-29.8s-3.9-19.9-3.9-29.8s3.9-19.9 3.9-29.8s-3.9-19.9-3.9-29.8" stroke="#c5e" class="b"/>
<path d="M279.3 1101.1c0-10-3.7-19.9-3.7-29.8s3.7-19.9 3.7-29.8s-3.7-19.9-3.7-29.8s3.7-19.9 3.7-29.8s-3.7-19.9-3.7-29.8s3.7-19.9 3.7-29.8s-3.7-19.9-3.7-29.8s3.7-19.9 3.7-29.8s-3.7-19.9-3.7-29.8s3.7-19.9 3.7-29.8s-3.7-19.9-3.7-29.8" stroke="#e62"/>
<path d="M280.4 1101.1c0-10-3.5-19.9-3.5-29.8s3.5-19.9 3.5-29.8s-3.5-19.9-3.5-29.8s3.5-19.9 3.5-29.8s-3.5-19.9-3.5-29.8s3.5-19.9 3.5-29.8s-3.5-19.9-3.5-29.8s3.5-19.9 3.5-29.8s-3.5-19.9-3.5-29.8s3.5-19.9 3.5-29.8s-3.5-19.9-3.5-29.8" stroke="#682" class="b"/>
<path d="M281.6 1101.1c0-10-3.4-19.9-3.4-29.8s3.4-19.9 3.4-29.8s-3.4-19.9-3.4-29.8s3.4-19.9 3.4-29.8s-3.4-19.9-3.4-29.8s3.4-19.9 3.4-29.8s-3.4-19.9-3.4-29.8s3.4-19.9 3.4-29.8s-3.4-19.9-3.4-29.8s3.4-19.9 3.4-29.8s-3.4-19.9-3.4-29.8" stroke="#175"/>
<path d="M282.7 1101.1c0-10-3.2-19.9-3.2-29.8s3.2-19.9 3.2-29.8s-3.2-19.9-3.2-29.8s3.2-19.9 3.2-29.8s-3.2-19.9-3.2-29.8s3.2-19.9 3.2-29.8s-3.2-19.9-3.2-29.8s3.2-19.9 3.2-29.8s-3.2-19.9-3.2-29.8s3.2-19.9 3.2-29.8s-3.2-19.9-3.2-29.8" stroke="#d0f" class="b"/>
<path d="M283.9 1101.1c0-10-3.1-19.9-3.1-29.8s3.1-19.9 3.1-29.8s-3.1-19.9-3.1-29.8s3.1-19.9 3.1-29.8s-3.1-19.9-3.1-29.8s3.1-19.9 3.1-29.8s-3.1-19.9-3.1-29.8s3.1-19.9 3.1-29.8s-3.1-19.9-3.1-29.8s3.1-19.9 3.1-29.8s-3.1-19.9-3.1-29.8" stroke="#bd9"/>
<path d="M285.1 1101.1c0-10-3-19.9-3-29.8s3-19.9 3-29.8s-3-19.9-3-29.8s3-19.9 3-29.8s-3-19.9-3-29.8s3-19.9 3-29.8s-3-19.9-3-29.8s3-19.9 3-29.8s-3-19.9-3-29.8s3-19.9 3-29.8s-3-19.9-3-29.8" stroke="#642" class="b"/>
<path d="M286.3 1101.1c0-10-2.9-19.9-2.9-29.8s2.9-19.9 2.9-29.8s-2.9-19.9-2.9-29.8s2.9-19.9 2.9-29.8s-2.9-19.9-2.9-29.8s2.9-19.9 2.9-29.8s-2.9-19.9-2.9-29.8s2.9-19.9 2.9-29.8s-2.9-19.9-2.9-29.8s2.9-19.9 2.9-29.8s-2.9-19.9-2.9-29.8" stroke="#256"/>
<path d="M287.4 1101.1c0-10-2.7-19.9-2.7-29.8s2.7-19.9 2.7-29.8s-2.7-19.9-2.7-29.8s2.7-19.9 2.7-29.8s-2.7-19.9-2.7-29.8s2.7-19.9 2.7-29.8s-2.7-19.9-2.7-29.8s2.7-19.9 2.7-29.8s-2.7-19.9-2.7-29.8s2.7-19.9 2.7-29.8s-2.7-19.9-2.7-29.8" stroke="#d87"/>
<path d="M288.6 1101.1c0-10-2.6-19.9-2.6-29.8s2.6-19.9 2.6-29.8s-2.6-19.9-2.6-29.8s2.6-19.9 2.6-29.8s-2.6-19.9-2.6-29.8s2.6-19.9 2.6-29.8s-2.6-19.9-2.6-29.8s2.6-19.9 2.6-29.8s-2.6-19.9-2.6-29.8s2.6-19.9 2.6-29.8s-2.6-19.9-2.6-29.8" stroke="#5ea"/>
<path d="M289.8 1101.1c0-10-2.5-19.9-2.5-29.8s2.5-19.9 2.5-29.8s-2.5-19.9-2.5-29.8s2.5-19.9 2.5-29.8s-2.5-19.9-2.5-29.8s2.5-19.9 2.5-29.8s-2.5-19.9-2.5-29.8s2.5-19.9 2.5-29.8s-2.5-19.9-2.5-29.8s2.5-19.9 2.5-29.8s-2.5-19.9-2.5-29.8" stroke="#742"/>
<path d="M291 1101.1c0-10-2.4-19.9-2.4-29.8s2.4-19.9 2.4-29.8s-2.4-19.9-2.4-29.8s2.4-19.9 2.4-29.8s-2.4-19.9-2.4-29.8s2.4-19.9 2.4-29.8s-2.4-19.9-2.4-29.8s2.4-19.9 2.4-29.8s-2.4-19.9-2.4-29.8s2.4-19.9 2.4-29.8s-2.4-19.9-2.4-29.8" stroke="#25b" class="b"/>
<path d="M292.2 1101.1c0-10-2.3-19.9-2.3-29.8s2.3-19.9 2.3-29.8s-2.3-19.9-2.3-29.8s2.3-19.9 2.3-29.8s-2.3-19.9-2.3-29.8s2.3-19.9 2.3-29.8s-2.3-19.9-2.3-29.8s2.3-19.9 2.3-29.8s-2.3-19.9-2.3-29.8s2.3-19.9 2.3-29.8s-2.3-19.9-2.3-29.8" stroke="#980"/>
<path d="M293.4 1101.1c0-10-2.2-19.9-2.2-29.8s2.2-19.9 2.2-29.8s-2.2-19.9-2.2-29.8s2.2-19.9 2.2-29.8s-2.2-19.9-2.2-29.8s2.2-19.9 2.2-29.8s-2.2-19.9-2.2-29.8s2.2-19.9 2.2-29.8s-2.2-19.9-2.2-29.8s2.2-19.9 2.2-29.8s-2.2-19.9-2.2-29.8" stroke="#7aa"/>
<path d="M294.7 1101.1c0-10-2.2-19.9-2.2-29.8s2.2-19.9 2.2-29.8s-2.2-19.9-2.2-29.8s2.2-19.9 2.2-29.8s-2.2-19.9-2.2-29.8s2.2-19.9 2.2-29.8s-2.2-19.9-2.2-29.8s2.2-19.9 2.2-29.8s-2.2-19.9-2.2-29.8s2.2-19.9 2.2-29.8s-2.2-19.9-2.2-29.8" stroke="#b7d" class="c"/>
<path d="M295.9 1101.1c0-10-2.1-19.9-2.1-29.8s2.1-19.9 2.1-29.8s-2.1-19.9-2.1-29.8s2.1-19.9 2.1-29.8s-2.1-19.9-2.1-29.8s2.1-19.9 2.1-29.8s-2.1-19.9-2.1-29.8s2.1-19.9 2.1-29.8s-2.1-19.9-2.1-29.8s2.1-19.9 2.1-29.8s-2.1-19.9-2.1-29.8" stroke="#53d"/>
<path d="M297.1 1101.1c0-10-2-19.9-2-29.8s2-19.9 2-29.8s-2-19.9-2-29.8s2-19.9 2-29.8s-2-19.9-2-29.8s2-19.9 2-29.8s-2-19.9-2-29.8s2-19.9 2-29.8s-2-19.9-2-29.8s2-19.9 2-29.8s-2-19.9-2-29.8" stroke="#bb1"/>
<path d="M298.3 1101.1c0-10-1.9-19.9-1.9-29.8s1.9-19.9 1.9-29.8s-1.9-19.9-1.9-29.8s1.9-19.9 1.9-29.8s-1.9-19.9-1.9-29.8s1.9-19.9 1.9-29.8s-1.9-19.9-1.9-29.8s1.9-19.9 1.9-29.8s-1.9-19.9-1.9-29.8s1.9-19.9 1.9-29.8s-1.9-19.9-1.9-29.8" stroke="#0b9"/>
<path d="M299.5 1101.1c0-10-1.8-19.9-1.8-29.8s1.8-19.9 1.8-29.8s-1.8-19.9-1.8-29.8s1.8-19.9 1.8-29.8s-1.8-19.9-1.8-29.8s1.8-19.9 1.8-29.8s-1.8-19.9-1.8-29.8s1.8-19.9 1.8-29.8s-1.8-19.9-1.8-29.8s1.8-19.9 1.8-29.8s-1.8-19.9-1.8-29.8" stroke="#91e" class="a"/>
<path d="M300.8 1101.1c0-10-1.8-19.9-1.8-29.8s1.8-19.9 1.8-29.8s-1.8-19.9-1.8-29.8s1.8-19.9 1.8-29.8s-1.8-19.9-1.8-29.8s1.8-19.9 1.8-29.8s-1.8-19.9-1.8-29.8s1.8-19.9 1.8-29.8s-1.8-19.9-1.8-29.8s1.8-19.9 1.8-29.8s-1.8-19.9-1.8-29.8" stroke="#d56"/>
<path d="M302 1101.1c0-10-1.7-19.9-1.7-29.8s1.7-19.9 1.7-29.8s-1.7-19.9-1.7-29.8s1.7-19.9 1.7-29.8s-1.7-19.9-1.7-29.8s1.7-19.9 1.7-29.8s-1.7-19.9-1.7-29.8s1.7-19.9 1.7-29.8s-1.7-19.9-1.7-29.8s1.7-19.9 1.7-29.8s-1.7-19.9-1.7-29.8" stroke="#190" class="b"/>
<path d="M303.2 1101.1c0-10-1.6-19.9-1.6-29.8s1.6-19.9 1.6-29.8s-1.6-19.9-1.6-29.8s1.6-19.9 1.6-29.8s-1.6-19.9-1.6-29.8s1.6-19.9 1.6-29.8s-1.6-19.9-1.6-29.8s1.6-19.9 1.6-29.8s-1.6-19.9-1.6-29.8s1.6-19.9 1.6-29.8s-1.6-19.9-1.6-29.8" stroke="#099"/>
<path d="M304.5 1101.1c0-10-1.6-19.9-1.6-29.8s1.6-19.9 1.6-29.8s-1.6-19.9-1.6-29.8s1.6-19.9 1.6-29.8s-1.6-19.9-1.6-29.8s1.6-19.9 1.6-29.8s-1.6-19.9-1.6-29.8s1.6-19.9 1.6-29.8s-1.6-19.9-1.6-29.8s1.6-19.9 1.6-29.8s-1.6-19.9-1.6-29.8" stroke="#ff9"/>
<path d="M305.7 1101.1c0-10-1.5-19.9-1.5-29.8s1.5-19.9 1.5-29.8s-1.5-19.9-1.5-29.8s1.5-19.9 1.5-29.8s-1.5-19.9-1.5-29.8s1.5-19.9 1.5-29.8s-1.5-19.9-1.5-29.8s1.5-19.9 1.5-29.8s-1.5-19.9-1.5-29.8s1.5-19.9 1.5-29.8s-1.5-19.9-1.5-29.8" stroke="#570" class="a"/>
<path d="M306.9 1101.1c0-10-1.4-19.9-1.4-29.8s1.4-19.9 1.4-29.8s-1.4-19.9-1.4-29.8s1.4-19.9 1.4-29.8s-1.4-19.9-1.4-29.8s1.4-19.9 1.4-29.8s-1.4-19.9-1.4-29.8s1.4-19.9 1.4-29.8s-1.4-19.9-1.4-29.8s1.4-19.9 1.4-29.8s-1.4-19.9-1.4-29.8" stroke="#626"/>
<path d="M308.2 1101.1c0-10-1.4-19.9-1.4-29.8s1.4-19.9 1.4-29.8s-1.4-19.9-1.4-29.8s1.4-19.9 1.4-29.8s-1.4-19.9-1.4-29.8s1.4-19.9 1.4-29.8s-1.4-19.9-1.4-29.8s1.4-19.9 1.4-29.8s-1.4-19.9-1.4-29.8s1.4-19.9 1.4-29.8s-1.4-19.9-1.4-29.8" stroke="#b3e"/>
<path d="M309.4 1101.1c0-10-1.3-19.9-1.3-29.8s1.3-19.9 1.3-29.8s-1.3-19.9-1.3-29.8s1.3-19.9 1.3-29.8s-1.3-19.9-1.3-29.8s1.3-19.9 1.3-29.8s-1.3-19.9-1.3-29.8s1.3-19.9 1.3-29.8s-1.3-19.9-1.3-29.8s1.3-19.9 1.3-29.8s-1.3-19.9-1.3-29.8" stroke="#bcd"/>
<path d="M310.7 1101.1c0-10-1.3-19.9-1.3-29.8s1.3-19.9 1.3-29.8s-1.3-19.9-1.3-29.8s1.3-19.9 1.3-29.8s-1.3-19.9-1.3-29.8s1.3-19.9 1.3-29.8s-1.3-19.9-1.3-29.8s1.3-19.9 1.3-29.8s-1.3-19.9-1.3-29.8s1.3-19.9 1.3-29.8s-1.3-19.9-1.3-29.8" stroke="#842" class="a"/>
<path d="M311.9 1101.1c0-10-1.2-19.9-1.2-29.8s1.2-19.9 1.2-29.8s-1.2-19.9-1.2-29.8s1.2-19.9 1.2-29.8s-1.2-19.9-1.2-29.8s1.2-19.9 1.2-29.8s-1.2-19.9-1.2-29.8s1.2-19.9 1.2-29.8s-1.2-19.9-1.2-29.8s1.2-19.9 1.2-29.8s-1.2-19.9-1.2-29.8" stroke="#7a8"/>
<path d="M313.2 1101.1c0-10-1.2-19.9-1.2-29.8s1.2-19.9 1.2-29.8s-1.2-19.9-1.2-29.8s1.2-19.9 1.2-29.8s-1.2-19.9-1.2-29.8s1.2-19.9 1.2-29.8s-1.2-19.9-1.2-29.8s1.2-19.9 1.2-29.8s-1.2-19.9-1.2-29.8s1.2-19.9 1.2-29.8s-1.2-19.9-1.2-29.8" stroke="#23b" class="a"/>
<path d="M314.4 1101.1c0-10-1.1-19.9-1.1-29.8s1.1-19.9 1.1-29.8s-1.1-19.9-1.1-29.8s1.1-19.9 1.1-29.8s-1.1-19.9-1.1-29.8s1.1-19.9 1.1-29.8s-1.1-19.9-1.1-29.8s1.1-19.9 1.1-29.8s-1.1-19.9-1.1-29.8s1.1-19.9 1.1-29.8s-1.1-19.9-1.1-29.8" stroke="#bfe"/>
<path d="M315.7 1101.1c0-10-1.1-19.9-1.1-29.8s1.1-19.9 1.1-29.8s-1.1-19.9-1.1-29.8s1.1-19.9 1.1-29.8s-1.1-19.9-1.1-29.8s1.1-19.9 1.1-29.8s-1.1-19.9-1.1-29.8s1.1-19.9 1.1-29.8s-1.1-19.9-1.1-29.8s1.1-19.9 1.1-29.8s-1.1-19.9-1.1-29.8" stroke="#b46"/>
<path d="M316.9 1101.1c0-10-1-19.9-1-29.8s1-19.9 1-29.8s-1-19.9-1-29.8s1-19.9 1-29.8s-1-19.9-1-29.8s1-19.9 1-29.8s-1-19.9-1-29.8s1-19.9 1-29.8s-1-19.9-1-29.8s1-19.9 1-29.8s-1-19.9-1-29.8" stroke="#b41" class="b"/>
<path d="M318.2 1101.1c0-10-1-19.9-1-29.8s1-19.9 1-29.8s-1-19.9-1-29.8s1-19.9 1-29.8s-1-19.9-1-29.8s1-19.9 1-29.8s-1-19.9-1-29.8s1-19.9 1-29.8s-1-19.9-1-29.8s1-19.9 1-29.8s-1-19.9-1-29.8" stroke="#188"/>
<path d="M319.5 1101.1c0-10-1-19.9-1-29.8s1-19.9 1-29.8s-1-19.9-1-29.8s1-19.9 1-29.8s-1-19.9-1-29.8s1-19.9 1-29.8s-1-19.9-1-29.8s1-19.9 1-29.8s-1-19.9-1-29.8s1-19.9 1-29.8s-1-19.9-1-29.8" stroke="#6ef"/>
<path d="M320.7 1101.1c0-10-.9-19.9-.9-29.8s.9-19.9 .9-29.8s-.9-19.9-.9-29.8s.9-19.9 .9-29.8s-.9-19.9-.9-29.8s.9-19.9 .9-29.8s-.9-19.9-.9-29.8s.9-19.9 .9-29.8s-.9-19.9-.9-29.8s.9-19.9 .9-29.8s-.9-19.9-.9-29.8" stroke="#f40"/>
<path d="M322 1101.1c0-10-.9-19.9-.9-29.8s.9-19.9 .9-29.8s-.9-19.9-.9-29.8s.9-19.9 .9-29.8s-.9-19.9-.9-29.8s.9-19.9 .9-29.8s-.9-19.9-.9-29.8s.9-19.9 .9-29.8s-.9-19.9-.9-29.8s.9-19.9 .9-29.8s-.9-19.9-.9-29.8" stroke="#739"/>
<path d="M323.2 1101.1c0-10-.8-19.9-.8-29.8s.8-19.9 .8-29.8s-.8-19.9-.8-29.8s.8-19.9 .8-29.8s-.8-19.9-.8-29.8s.8-19.9 .8-29.8s-.8-19.9-.8-29.8s.8-19.9 .8-29.8s-.8-19.9-.8-29.8s.8-19.9 .8-29.8s-.8-19.9-.8-29.8" stroke="#832"/>
<path d="M324.5 1101.1c0-10-.8-19.9-.8-29.8s.8-19.9 .8-29.8s-.8-19.9-.8-29.8s.8-19.9 .8-29.8s-.8-19.9-.8-29.8s.8-19.9 .8-29.8s-.8-19.9-.8-29.8s.8-19.9 .8-29.8s-.8-19.9-.8-29.8s.8-19.9 .8-29.8s-.8-19.9-.8-29.8" stroke="#8d9"/>
<path d="M325.8 1101.1c0-10-.8-19.9-.8-29.8s.8-19.9 .8-29.8s-.8-19.9-.8-29.8s.8-19.9 .8-29.8s-.8-19.9-.8-29.8s.8-19.9 .8-29.8s-.8-19.9-.8-29.8s.8-19.9 .8-29.8s-.8-19.9-.8-29.8s.8-19.9 .8-29.8s-.8-19.9-.8-29.8" stroke="#0cb" class="b"/>
<path d="M327 1101.1c0-10-.7-19.9-.7-29.8s.7-19.9 .7-29.8s-.7-19.9-.7-29.8s.7-19.9 .7-29.8s-.7-19.9-.7-29.8s.7-19.9 .7-29.8s-.7-19.9-.7-29.8s.7-19.9 .7-29.8s-.7-19.9-.7-29.8s.7-19.9 .7-29.8s-.7-19.9-.7-29.8" stroke="#e28"/>
<path d="M328.3 1101.1c0-10-.7-19.9-.7-29.8s.7-19.9 .7-29.8s-.7-19.9-.7-29.8s.7-19.9 .7-29.8s-.7-19.9-.7-29.8s.7-19.9 .7-29.8s-.7-19.9-.7-29.8s.7-19.9 .7-29.8s-.7-19.9-.7-29.8s.7-19.9 .7-29.8s-.7-19.9-.7-29.8" stroke="#225" class="a"/>
<path d="M329.6 1101.1c0-10-.7-19.9-.7-29.8s.7-19.9 .7-29.8s-.7-19.9-.7-29.8s.7-19.9 .7-29.8s-.7-19.9-.7-29.8s.7-19.9 .7-29.8s-.7-19.9-.7-29.8s.7-19.9 .7-29.8s-.7-19.9-.7-29.8s.7-19.9 .7-29.8s-.7-19.9-.7-29.8" stroke="#9eb"/>
<path d="M330.9 1101.1c0-10-.7-19.9-.7-29.8s.7-19.9 .7-29.8s-.7-19.9-.7-29.8s.7-19.9 .7-29.8s-.7-19.9-.7-29.8s.7-19.9 .7-29.8s-.7-19.9-.7-29.8s.7-19.9 .7-29.8s-.7-19.9-.7-29.8s.7-19.9 .7-29.8s-.7-19.9-.7-29.8" stroke="#3d2"/>
<path d="M332.1 1101.1c0-10-.6-19.9-.6-29.8s.6-19.9 .6-29.8s-.6-19.9-.6-29.8s.6-19.9 .6-29.8s-.6-19.9-.6-29.8s.6-19.9 .6-29.8s-.6-19.9-.6-29.8s.6-19.9 .6-29.8s-.6-19.9-.6-29.8s.6-19.9 .6-29.8s-.6-19.9-.6-29.8" stroke="#629"/>
<path d="M333.4 1101.1c0-10-.6-19.9-.6-29.8s.6-19.9 .6-29.8s-.6-19.9-.6-29.8s.6-19.9 .6-29.8s-.6-19.9-.6-29.8s.6-19.9 .6-29.8s-.6-19.9-.6-29.8s.6-19.9 .6-29.8s-.6-19.9-.6-29.8s.6-19.9 .6-29.8s-.6-19.9-.6-29.8" stroke="#e0a" class="c"/>
<path d="M334.7 1101.1c0-10-.6-19.9-.6-29.8s.6-19.9 .6-29.8s-.6-19.9-.6-29.8s.6-19.9 .6-29.8s-.6-19.9-.6-29.8s.6-19.9 .6-29.8s-.6-19.9-.6-29.8s.6-19.9 .6-29.8s-.6-19.9-.6-29.8s.6-19.9 .6-29.8s-.6-19.9-.6-29.8" stroke="#5d3"/>
<path d="M335.9 1101.1c0-10-.5-19.9-.5-29.8s.5-19.9 .5-29.8s-.5-19.9-.5-29.8s.5-19.9 .5-29.8s-.5-19.9-.5-29.8s.5-19.9 .5-29.8s-.5-19.9-.5-29.8s.5-19.9 .5-29.8s-.5-19.9-.5-29.8s.5-19.9 .5-29.8s-.5-19.9-.5-29.8" stroke="#7ab"/>
<path d="M337.2 1101.1c0-10-.5-19.9-.5-29.8s.5-19.9 .5-29.8s-.5-19.9-.5-29.8s.5-19.9 .5-29.8s-.5-19.9-.5-29.8s.5-19.9 .5-29.8s-.5-19.9-.5-29.8s.5-19.9 .5-29.8s-.5-19.9-.5-29.8s.5-19.9 .5-29.8s-.5-19.9-.5-29.8" stroke="#299" class="c"/>
<path d="M338.5 1101.1c0-10-.5-19.9-.5-29.8s.5-19.9 .5-29.8s-.5-19.9-.5-29.8s.5-19.9 .5-29.8s-.5-19.9-.5-29.8s.5-19.9 .5-29.8s-.5-19.9-.5-29.8s.5-19.9 .5-29.8s-.5-19.9-.5-29.8s.5-19.9 .5-29.8s-.5-19.9-.5-29.8" stroke="#e58"/>
<path d="M339.8 1101.1c0-10-.5-19.9-.5-29.8s.5-19.9 .5-29.8s-.5-19.9-.5-29.8s.5-19.9 .5-29.8s-.5-19.9-.5-29.8s.5-19.9 .5-29.8s-.5-19.9-.5-29.8s.5-19.9 .5-29.8s-.5-19.9-.5-29.8s.5-19.9 .5-29.8s-.5-19.9-.5-29.8" stroke="#060" class="c"/>
<path d="M341.1 1101.1c0-10-.5-19.9-.5-29.8s.5-19.9 .5-29.8s-.5-19.9-.5-29.8s.5-19.9 .5-29.8s-.5-19.9-.5-29.8s.5-19.9 .5-29.8s-.5-19.9-.5-29.8s.5-19.9 .5-29.8s-.5-19.9-.5-29.8s.5-19.9 .5-29.8s-.5-19.9-.5-29.8" stroke="#c36"/>
<path d="M342.3 1101.1c0-10-.4-19.9-.4-29.8s.4-19.9 .4-29.8s-.4-19.9-.4-29.8s.4-19.9 .4-29.8s-.4-19.9-.4-29.8s.4-19.9 .4-29.8s-.4-19.9-.4-29.8s.4-19.9 .4-29.8s-.4-19.9-.4-29.8s.4-19.9 .4-29.8s-.4-19.9-.4-29.8" stroke="#bf2"/>
<path d="M343.6 1101.1c0-10-.4-19.9-.4-29.8s.4-19.9 .4-29.8s-.4-19.9-.4-29.8s.4-19.9 .4-29.8s-.4-19.9-.4-29.8s.4-19.9 .4-29.8s-.4-19.9-.4-29.8s.4-19.9 .4-29.8s-.4-19.9-.4-29.8s.4-19.9 .4-29.8s-.4-19.9-.4-29.8" stroke="#89e"/>
<path d="M344.9 1101.1c0-10-.4-19.9-.4-29.8s.4-19.9 .4-29.8s-.4-19.9-.4-29.8s.4-19.9 .4-29.8s-.4-19.9-.4-29.8s.4-19.9 .4-29.8s-.4-19.9-.4-29.8s.4-19.9 .4-29.8s-.4-19.9-.4-29.8s.4-19.9 .4-29.8s-.4-19.9-.4-29.8" stroke="#857" class="b"/>
<path d="M346.2 1101.1c0-10-.4-19.9-.4-29.8s.4-19.9 .4-29.8s-.4-19.9-.4-29.8s.4-19.9 .4-29.8s-.4-19.9-.4-29.8s.4-19.9 .4-29.8s-.4-19.9-.4-29.8s.4-19.9 .4-29.8s-.4-19.9-.4-29.8s.4-19.9 .4-29.8s-.4-19.9-.4-29.8" stroke="#039"/>
<path d="M347.5 1101.1c0-10-.4-19.9-.4-29.8s.4-19.9 .4-29.8s-.4-19.9-.4-29.8s.4-19.9 .4-29.8s-.4-19.9-.4-29.8s.4-19.9 .4-29.8s-.4-19.9-.4-29.8s.4-19.9 .4-29.8s-.4-19.9-.4-29.8s.4-19.9 .4-29.8s-.4-19.9-.4-29.8" stroke="#aa4" class="a"/>
<path d="M348.7 1101.1c0-10-.3-19.9-.3-29.8s.3-19.9 .3-29.8s-.3-19.9-.3-29.8s.3-19.9 .3-29.8s-.3-19.9-.3-29.8s.3-19.9 .3-29.8s-.3-19.9-.3-29.8s.3-19.9 .3-29.8s-.3-19.9-.3-29.8s.3-19.9 .3-29.8s-.3-19.9-.3-29.8" stroke="#cbc"/>
<path d="M350 1101.1c0-10-.3-19.9-.3-29.8s.3-19.9 .3-29.8s-.3-19.9-.3-29.8s.3-19.9 .3-29.8s-.3-19.9-.3-29.8s.3-19.9 .3-29.8s-.3-19.9-.3-29.8s.3-19.9 .3-29.8s-.3-19.9-.3-29.8s.3-19.9 .3-29.8s-.3-19.9-.3-29.8" stroke="#75a"/>
<path d="M351.3 1101.1c0-10-.3-19.9-.3-29.8s.3-19.9 .3-29.8s-.3-19.9-.3-29.8s.3-19.9 .3-29.8s-.3-19.9-.3-29.8s.3-19.9 .3-29.8s-.3-19.9-.3-29.8s.3-19.9 .3-29.8s-.3-19.9-.3-29.8s.3-19.9 .3-29.8s-.3-19.9-.3-29.8" stroke="#473"/>
<path d="M352.6 1101.1c0-10-.3-19.9-.3-29.8s.3-19.9 .3-29.8s-.3-19.9-.3-29.8s.3-19.9 .3-29.8s-.3-19.9-.3-29.8s.3-19.9 .3-29.8s-.3-19.9-.3-29.8s.3-19.9 .3-29.8s-.3-19.9-.3-29.8s.3-19.9 .3-29.8s-.3-19.9-.3-29.8" stroke="#145"/>
<path d="M353.6 778.9v300" stroke="#9d6"/>
<path d="M354.9 778.9v300" stroke="#b4b"/>
<path d="M356.2 778.9v300" stroke="#9c1"/>
<path d="M357.5 778.9v300" stroke="#116"/>
<path d="M358.8 778.9v300" stroke="#dd3"/>
<path d="M360.1 778.9v300" stroke="#13a"/>
<path d="M361.4 778.9v300" stroke="#5b7"/>
<path d="M362.7 778.9v300" stroke="#b1d" class="b"/>
<path d="M364 778.9v300" stroke="#ec5"/>
<path d="M365.3 778.9v300" stroke="#543" class="a"/>
<path d="M366.6 778.9v300" stroke="#593"/>
<path d="M367.9 778.9v300" stroke="#10b"/>
<path d="M369.2 778.9v300" stroke="#cd2"/>
<path d="M370.5 778.9v300" stroke="#bbb"/>
<path d="M371.8 778.9v300" stroke="#a10"/>
<path d="M373.1 778.9v300" stroke="#30e"/>
<path d="M374.4 778.9v300" stroke="#69e"/>
<path d="M375.7 778.9v300" stroke="#ef9"/>
<path d="M377 778.9v300" stroke="#418"/>
<path d="M378.3 778.9v300" stroke="#136"/>
<path d="M379.6 778.9v300" stroke="#c6b" class="a"/>
<path d="M380.9 778.9v300" stroke="#ad5"/>
<path d="M382.2 778.9v300" stroke="#c29"/>
<path d="M383.5 778.9v300" stroke="#221" class="b"/>
<path d="M384.8 778.9v300" stroke="#7a1"/>
<path d="M386.1 778.9v300" stroke="#77f"/>
<path d="M387.4 778.9v300" stroke="#ebd"/>
<path d="M388.7 778.9v300" stroke="#312"/>
<path d="M390 778.9v300" stroke="#3a1" class="b"/>
<path d="M391.3 778.9v300" stroke="#85d"/>
<path d="M392.6 778.9v300" stroke="#4b4"/>
<path d="M393.9 778.9v300" stroke="#a1c"/>
<path d="M395.2 778.9v300" stroke="#373" class="c"/>
<path d="M396.5 778.9v300" stroke="#c81"/>
<path d="M397.8 778.9v300" stroke="#17a"/>
<path d="M399.1 778.9v300" stroke="#d4c"/>
<path d="M400.4 778.9v300" stroke="#86a" class="b"/>
<path d="M401.7 778.9v300" stroke="#ca4"/>
<path d="M403 778.9v300" stroke="#1f8"/>
<path d="M404.3 778.9v300" stroke="#a22" class="c"/>
<path d="M77 779.9V1077.9" stroke="#c4b" stroke-width="1.8"/>
<path d="M373.7 779.9V1077.9" stroke="#134" stroke-width="2" stroke-dasharray="9 4"/>
<path d="M391.8 779.9V1077.9" stroke="#eb8" stroke-width="2"/>
<path d="M391.8 779.9V1077.9" stroke="#e3f" stroke-width="2.2" stroke-dasharray="62 38" stroke-dashoffset="40"/>
<path d="M76 1020.5 83.9 1020.3 91.8 1020.1 99.8 1019.8 107.7 1019.5 115.6 1019.2 123.5 1018.8 131.4 1018.4 139.4 1017.9 147.3 1017.3 155.2 1016.8 163.1 1016.1 171 1015.4 179 1014.7 186.9 1013.9 194.8 1013 202.7 1012.1 210.6 1011 218.6 1009.9 226.5 1008.8 234.4 1007.5 242.3 1006.1 250.2 1004.6 258.2 1002.9 266.1 1001.2 274 999.2 281.9 997.1 289.8 994.9 297.8 992.4 305.7 989.6 313.6 986.6 321.5 983.3 329.4 979.7 337.4 975.6 345.3 971.1 353.2 966 361.1 960.2 369 953.7 377 946.2 384.9 937.5 392.8 927.3" fill="none" stroke="#8fa528" stroke-width="5.2" stroke-linejoin="round"/>
<path d="M238.2 1077.9V779.9" stroke="#f00" stroke-width="3.4" stroke-dasharray="13 12.3" />
<path d="M277.6 1077.9V779.9" stroke="#00f" stroke-width="3.4" stroke-dasharray="13 12.3" />
</g>
<g clip-path="url(#cr2)" fill="none" stroke-width="2.6">
<rect x="528.5" y="779.9" width="316.8" height="298.0" fill="#fff"/>
<ellipse cx="686.9" cy="928.9" rx="134.6" ry="126.6" fill="url(#ch2)"/>
<polygon fill="#116" points="763.4,997.6 758,1003.6 752,1009.1 752.2,1011.3 752.2,1013.5 748,1014.2 743.8,1014.6 736.6,1018.1 729.3,1021.2 736.4,1016.6 742.9,1011.5 742.8,1009.4 742.6,1007.4 746.6,1007.1 750.8,1006.6 757.2,1002.3"/>
<polygon fill="#227" points="761.4,1000.2 756.6,1003.8 751.6,1007 749.9,1006.4 748.3,1005.9 747,1008.4 745.6,1011 740.8,1014 735.8,1016.9 741.7,1014.8 747.6,1012.4 749,1013.1 750.5,1013.7 751.9,1011 753.2,1008.3 757.5,1004.4"/>
<polygon fill="#fff" points="757,1003.4 753.6,1006.7 750,1009.7 750.1,1011 750.2,1012.3 747.7,1012.6 745.3,1012.9 741.3,1015.1 737.2,1017.1 741.1,1014.2 744.8,1011.1 744.7,1009.9 744.6,1008.8 746.9,1008.6 749.4,1008.3 753.2,1005.9"/>
<polygon fill="#116" points="586.9,963.8 583.6,956.5 580.9,949 578.7,948.1 576.6,947.2 577.8,943.3 579.2,939.5 579,931.9 579.3,924.3 580.6,932.4 582.6,940.2 584.6,941 586.6,941.7 585.1,945.3 583.8,949 585.1,956.4"/>
<polygon fill="#227" points="585.3,961 584,955.3 583.1,949.5 584.3,948.4 585.6,947.3 583.7,945 581.9,942.7 581.1,937.2 580.5,931.7 579.9,937.7 579.7,943.8 578.4,944.7 577.1,945.7 579.1,948.1 581.1,950.4 583,955.7"/>
<polygon fill="#fff" points="584.2,955.7 582.5,951.4 581.1,947 579.9,946.5 578.6,946 579.4,943.8 580.2,941.6 579.8,937.2 579.7,932.8 580.8,937.4 582.1,941.9 583.3,942.4 584.5,942.8 583.6,944.9 582.8,947.1 583.4,951.4"/>
<polygon fill="#116" points="713.5,829 722,830.6 730.3,832.8 732.3,831.6 734.4,830.5 737.2,833.7 739.8,837 746.8,841.2 753.5,845.9 745.5,842.2 737.3,839.2 735.5,840.3 733.7,841.5 731.2,838.2 728.6,835.1 721.2,831.8"/>
<polygon fill="#227" points="717,829.3 722.9,831.6 728.6,834.2 728.9,835.8 729.2,837.4 732.3,837.3 735.4,837.2 740.8,839.7 746.1,842.5 741.1,838.6 735.7,834.9 735.6,833.3 735.5,831.8 732.2,832 728.9,832.2 723,830.6"/>
<polygon fill="#fff" points="722.4,831.5 727.2,832.7 732,834.1 733.1,833.5 734.3,832.8 735.9,834.7 737.4,836.5 741.6,838.8 745.6,841.3 740.8,839.4 736,837.8 734.9,838.5 733.9,839.2 732.4,837.3 730.9,835.4 726.7,833.4"/>
<g transform="translate(686.9,928.9)">
<ellipse rx="188.9" ry="177.7" stroke="#777" stroke-width="76"/>
<ellipse rx="90.5" ry="85.1" fill="#777" stroke="none"/>
<path d="M109.5 2.6c.5-18-10.2-34.8-22-47.4s-24-23.1-38-31.4s-29.7-14.2-47-17.7s-37.5-3.3-53.8 5.3s-27.2 24.2-34.1 39.5s-10.8 31-11.2 46.8s2.7 31.7 8.7 47.3s16.2 31.6 32 41s35.9 10.6 53.4 7.9s33.4-7.9 47.9-15.5s27.3-17.4 39.7-29.5s23.9-28.3 24.4-46.3z" stroke="#e54"/>
<path d="M108.2 2.5c.5-17.7-9.7-34.4-21.2-47.1s-23.8-23-37.7-31.2s-29.6-14.2-46.8-17.5s-37.1-2.8-53.2 5.7s-27.2 23.7-34.1 38.9s-10.9 30.7-11.3 46.4s2.7 31.6 8.8 47s16.4 31.1 32 40.4s35.4 10.7 52.8 8.2s33.3-7.7 47.7-15.2s27.2-17.4 39.3-29.5s23.2-28.3 23.7-46.1z" stroke="#47c"/>
<path d="M106.9 2.5c.5-17.5-9.2-34.1-20.5-46.8s-23.5-23-37.4-31.2s-29.4-14-46.5-17.2s-36.7-2.4-52.7 6s-27 23.3-34 38.3s-11 30.5-11.4 46.2s2.7 31.3 8.9 46.6s16.5 30.6 32 39.8s35 10.8 52.2 8.5s33.1-7.5 47.5-15s27.1-17.3 39-29.4s22.5-28.2 22.9-45.8z" stroke="#c93"/>
<path d="M105.7 2.5c.5-17.4-8.8-33.8-19.8-46.5s-23.3-22.9-37.1-31.1s-29.3-13.9-46.4-16.9s-36.2-2.1-52.1 6.2s-26.9 22.9-33.9 37.7s-11 30.3-11.4 45.9s2.7 31.2 8.9 46.3s16.6 30.2 32 39.2s34.5 10.9 51.7 8.8s32.9-7.3 47.2-14.8s27-17.2 38.6-29.3s21.9-28.2 22.3-45.5z" stroke="#58d"/>
<path d="M104.6 2.5c.4-17.2-8.5-33.6-19.3-46.2s-23-22.9-36.8-31s-29.2-13.8-46.1-16.7s-35.9-1.7-51.6 6.5s-26.8 22.5-33.8 37.2s-11 30-11.4 45.5s2.6 31 8.9 46s16.7 29.7 31.9 38.7s34.1 10.9 51.2 8.9s32.7-7.1 46.9-14.5s26.9-17.2 38.3-29.3s21.3-28 21.8-45.1z" stroke="#52a"/>
<path d="M103.4 2.4c.5-16.9-8.1-33.2-18.7-45.8s-22.8-22.8-36.5-30.8s-29-13.8-45.8-16.6s-35.6-1.4-51.1 6.7s-26.6 22.2-33.7 36.7s-11 29.8-11.5 45.2s2.7 30.9 9 45.7s16.8 29.3 31.9 38.1s33.7 11.1 50.6 9.2s32.5-7 46.7-14.3s26.7-17.1 38-29.2s20.7-27.9 21.1-44.9z" stroke="#aa3"/>
<path d="M102.4 2.4c.4-16.8-7.9-32.9-18.3-45.5s-22.5-22.7-36.1-30.7s-28.9-13.7-45.6-16.3s-35.2-1.2-50.6 6.8s-26.5 21.9-33.6 36.2s-11 29.6-11.4 44.9s2.6 30.7 9 45.4s16.8 28.9 31.7 37.6s33.3 11.1 50.1 9.3s32.4-6.8 46.4-14.1s26.6-17 37.7-29s20.2-27.8 20.7-44.6z" stroke="#7ae"/>
<path d="M101.3 2.4c.5-16.6-7.6-32.6-17.8-45.2s-22.3-22.6-35.8-30.6s-28.8-13.6-45.3-16.1s-34.9-.9-50.1 7s-26.4 21.6-33.5 35.8s-11 29.3-11.4 44.5s2.6 30.5 9 45s16.8 28.6 31.6 37.3s33 11.1 49.6 9.4s32.2-6.7 46.1-14s26.5-16.9 37.4-28.9s19.8-27.6 20.2-44.2z" stroke="#935"/>
<path d="M100.3 2.4c.4-16.5-7.4-32.4-17.4-44.8s-22.1-22.6-35.5-30.5s-28.6-13.5-45-15.9s-34.6-.8-49.7 7.1s-26.2 21.3-33.3 35.3s-11 29.1-11.4 44.2s2.6 30.3 9 44.7s16.8 28.2 31.5 36.8s32.6 11.1 49.1 9.5s32-6.5 45.8-13.7s26.4-16.8 37.1-28.8s19.3-27.5 19.8-43.9z" stroke="#265" class="a"/>
<path d="M99.3 2.3c.4-16.3-7.1-32-17.1-44.4s-21.8-22.5-35.1-30.3s-28.5-13.4-44.8-15.7s-34.2-.6-49.1 7.2s-26.1 20.9-33.2 34.9s-11 28.8-11.4 43.9s2.6 30 9 44.3s16.8 27.9 31.4 36.4s32.3 11.1 48.7 9.5s31.7-6.3 45.5-13.5s26.1-16.7 36.7-28.7s18.9-27.3 19.4-43.6z" stroke="#cbd"/>
<path d="M98.3 2.3c.4-16.1-6.9-31.7-16.7-44.1s-21.6-22.4-34.9-30.1s-28.2-13.3-44.4-15.6s-33.9-.4-48.7 7.4s-25.9 20.6-33 34.4s-10.9 28.7-11.3 43.6s2.6 29.8 9 44s16.8 27.5 31.1 35.9s32 11.1 48.3 9.7s31.5-6.3 45.2-13.4s26-16.6 36.4-28.5s18.6-27.1 19-43.3z" stroke="#2e7" class="c"/>
<path d="M97.3 2.3c.5-16-6.6-31.5-16.3-43.8s-21.4-22.2-34.6-30s-28-13.1-44.1-15.3s-33.6-.3-48.3 7.4s-25.7 20.4-32.8 34.1s-10.9 28.4-11.3 43.2s2.6 29.7 9 43.6s16.8 27.3 31 35.6s31.6 11.1 47.8 9.7s31.3-6.1 44.9-13.2s25.8-16.5 36.1-28.4s18.2-26.9 18.6-42.9z" stroke="#889"/>
<path d="M96.4 2.3c.4-15.9-6.5-31.2-16-43.5s-21.2-22.1-34.3-29.8s-27.9-13-43.8-15.1s-33.3-.1-47.8 7.4s-25.6 20.2-32.7 33.7s-10.8 28.2-11.2 42.9s2.5 29.5 8.9 43.3s16.7 27 30.9 35.2s31.3 11 47.3 9.7s31.1-6 44.6-13s25.7-16.4 35.8-28.2s17.9-26.8 18.3-42.6z" stroke="#31b"/>
<path d="M95.5 2.2c.4-15.6-6.4-30.9-15.7-43s-21-22.1-34-29.7s-27.7-12.9-43.5-14.9s-33 0-47.4 7.5s-25.4 19.9-32.5 33.3s-10.8 27.9-11.2 42.5s2.6 29.3 9 43s16.6 26.6 30.6 34.8s31 11 46.9 9.7s30.9-5.9 44.3-12.9s25.5-16.2 35.5-28s17.6-26.6 18-42.3z" stroke="#e73" class="b"/>
<path d="M94.6 2.2c.4-15.5-6.2-30.6-15.5-42.7s-20.7-21.9-33.7-29.5s-27.5-12.8-43.1-14.8s-32.7 .1-47 7.6s-25.2 19.7-32.3 33s-10.7 27.7-11.1 42.1s2.5 29.1 8.9 42.7s16.6 26.3 30.5 34.4s30.7 11 46.4 9.8s30.7-5.9 44-12.8s25.3-16.2 35.2-27.8s17.2-26.5 17.7-42z" stroke="#3ad"/>
<path d="M93.7 2.2c.4-15.4-6.1-30.4-15.2-42.4s-20.5-21.8-33.4-29.2s-27.3-12.8-42.9-14.7s-32.3 .2-46.5 7.6s-25 19.4-32 32.6s-10.7 27.5-11.1 41.8s2.5 28.9 8.8 42.3s16.6 26.1 30.3 34.1s30.4 10.9 46.1 9.8s30.4-5.7 43.6-12.6s25.1-16.1 34.9-27.7s16.9-26.2 17.4-41.6z" stroke="#6c0" class="a"/>
<path d="M92.8 2.2c.4-15.2-5.9-30.1-14.9-42.1s-20.4-21.6-33.1-29s-27.1-12.7-42.6-14.5s-32.1 .3-46.1 7.6s-24.8 19.2-31.8 32.3s-10.7 27.2-11.1 41.5s2.6 28.6 8.9 41.9s16.5 25.8 30.1 33.7s30.1 10.9 45.6 9.8s30.2-5.6 43.3-12.4s24.9-16 34.5-27.5s16.7-26.1 17.2-41.3z" stroke="#c17"/>
<path d="M91.9 2.2c.4-15.1-5.8-29.9-14.7-41.8s-20.1-21.4-32.8-28.8s-26.9-12.5-42.2-14.3s-31.8 .4-45.7 7.6s-24.6 19-31.6 31.9s-10.6 27-11 41.2s2.5 28.4 8.8 41.6s16.4 25.5 29.9 33.3s29.8 10.9 45.2 9.8s29.9-5.5 43-12.3s24.7-15.8 34.2-27.3s16.5-25.9 16.9-40.9z" stroke="#75e"/>
<path d="M91 2.1c.4-14.9-5.6-29.5-14.4-41.3s-19.9-21.4-32.5-28.7s-26.7-12.4-41.9-14.1s-31.5 .4-45.3 7.6s-24.4 18.8-31.4 31.6s-10.5 26.8-10.9 40.8s2.5 28.2 8.7 41.3s16.4 25.2 29.7 33s29.6 10.7 44.8 9.7s29.7-5.4 42.7-12.1s24.5-15.7 33.9-27.1s16.2-25.7 16.6-40.7z" stroke="#c3b" class="c"/>
<path d="M90.1 2.1c.4-14.8-5.5-29.3-14.2-41s-19.7-21.2-32.1-28.4s-26.6-12.4-41.6-14.1s-31.2 .6-44.9 7.7s-24.2 18.6-31.1 31.2s-10.5 26.6-10.9 40.5s2.5 27.9 8.7 40.9s16.2 25 29.5 32.7s29.2 10.7 44.3 9.8s29.5-5.4 42.3-12.1s24.4-15.6 33.7-26.9s15.9-25.5 16.3-40.3z" stroke="#7e9"/>
<path d="M89.3 2.1c.3-14.7-5.4-29-14-40.7s-19.5-21-31.9-28.2s-26.3-12.2-41.3-13.9s-30.9 .7-44.4 7.7s-24 18.3-30.9 30.9s-10.5 26.3-10.8 40.1s2.4 27.7 8.6 40.6s16.2 24.7 29.3 32.3s29 10.7 44 9.8s29.2-5.3 41.9-11.9s24.2-15.5 33.4-26.7s15.7-25.3 16.1-40z" stroke="#c52"/>
<path d="M88.4 2.1c.4-14.5-5.3-28.8-13.7-40.3s-19.4-21-31.6-28.1s-26.2-12.1-41-13.7s-30.6 .7-44 7.7s-23.9 18.1-30.7 30.6s-10.4 26.1-10.7 39.7s2.4 27.5 8.6 40.3s16.1 24.4 29 32s28.7 10.6 43.6 9.7s29-5.2 41.6-11.8s24-15.3 33-26.5s15.5-25.1 15.9-39.6z" stroke="#34d" class="b"/>
<path d="M87.5 2.1c.4-14.4-5.1-28.5-13.5-40s-19.1-20.8-31.3-27.9s-25.9-11.9-40.6-13.5s-30.3 .8-43.6 7.6s-23.7 18-30.5 30.3s-10.3 25.9-10.7 39.5s2.5 27.2 8.6 39.8s16 24.2 28.9 31.7s28.3 10.5 43.1 9.7s28.8-5.1 41.3-11.6s23.8-15.3 32.7-26.4s15.3-24.9 15.6-39.2z" stroke="#e65"/>
<path d="M86.7 2c.4-14.2-5.1-28.2-13.3-39.6s-19-20.6-31-27.6s-25.8-11.9-40.3-13.4s-30.1 .8-43.2 7.6s-23.5 17.8-30.2 30s-10.3 25.6-10.7 39.1s2.5 27 8.6 39.5s15.9 23.9 28.6 31.3s28.1 10.5 42.7 9.7s28.5-5 41-11.5s23.6-15.1 32.4-26.1s15-24.7 15.4-39z" stroke="#1be"/>
<path d="M85.9 2c.3-14.1-5-28-13.2-39.3s-18.7-20.4-30.7-27.4s-25.5-11.7-39.9-13.2s-29.8 .8-42.8 7.6s-23.3 17.6-30 29.6s-10.2 25.4-10.6 38.8s2.4 26.8 8.5 39.2s15.8 23.6 28.4 31s27.8 10.4 42.3 9.6s28.3-4.9 40.6-11.3s23.4-15.1 32.2-26s14.8-24.5 15.2-38.6z" stroke="#f30"/>
<path d="M85 2c.4-14-4.8-27.7-12.9-38.9s-18.6-20.3-30.4-27.2s-25.3-11.7-39.6-13.1s-29.5 .9-42.4 7.6s-23.1 17.3-29.8 29.3s-10.1 25.2-10.5 38.4s2.4 26.6 8.5 38.8s15.6 23.5 28.2 30.7s27.5 10.4 41.8 9.6s28.1-4.8 40.3-11.2s23.2-14.9 31.8-25.7s14.6-24.3 15-38.3z" stroke="#269" class="a"/>
<path d="M84.2 2c.4-13.8-4.8-27.5-12.7-38.6s-18.4-20.2-30.2-27s-25.1-11.5-39.3-12.9s-29.2 .9-41.9 7.5s-22.9 17.2-29.6 29.1s-10 24.9-10.4 38s2.4 26.4 8.4 38.5s15.6 23.2 28 30.4s27.2 10.2 41.5 9.5s27.8-4.8 39.9-11s23-14.8 31.5-25.6s14.4-24.1 14.8-37.9z" stroke="#6ba"/>
<path d="M83.4 2c.3-13.7-4.7-27.2-12.6-38.3s-18.2-20-29.8-26.7s-24.9-11.5-39-12.8s-28.9 .9-41.5 7.5s-22.7 17-29.3 28.7s-10 24.7-10.4 37.7s2.4 26.2 8.4 38.2s15.4 22.9 27.7 30s27 10.2 41.1 9.5s27.6-4.7 39.6-10.9s22.8-14.7 31.2-25.3s14.2-24 14.6-37.6z" stroke="#e75"/>
<path d="M82.5 1.9c.4-13.5-4.6-26.9-12.3-37.8s-18-19.9-29.6-26.6s-24.7-11.3-38.6-12.6s-28.6 1-41.2 7.5s-22.4 16.8-29 28.4s-9.9 24.5-10.3 37.4s2.4 25.8 8.3 37.8s15.4 22.6 27.5 29.7s26.7 10.1 40.7 9.4s27.3-4.6 39.2-10.8s22.6-14.5 31-25.1s14-23.7 14.3-37.3z" stroke="#876" class="b"/>
<path d="M81.7 1.9c.4-13.4-4.5-26.6-12.2-37.5s-17.8-19.7-29.2-26.3s-24.5-11.3-38.3-12.6s-28.4 1.1-40.8 7.5s-22.3 16.7-28.8 28.2s-9.8 24.2-10.2 37s2.4 25.6 8.3 37.4s15.2 22.5 27.2 29.5s26.5 10 40.3 9.4s27.1-4.6 38.9-10.7s22.4-14.5 30.6-25s13.8-23.5 14.2-36.9z" stroke="#42f"/>
<path d="M80.9 1.9c.3-13.3-4.4-26.4-12-37.2s-17.6-19.5-29-26.1s-24.3-11.1-37.9-12.4s-28.1 1.1-40.4 7.5s-22.1 16.4-28.5 27.8s-9.8 24-10.2 36.7s2.3 25.4 8.2 37.1s15.1 22.2 27 29.1s26.2 10 39.9 9.4s26.9-4.5 38.6-10.6s22.2-14.3 30.3-24.7s13.6-23.3 14-36.6z" stroke="#9e6"/>
<path d="M80.1 1.9c.3-13.2-4.4-26.2-11.9-36.8s-17.4-19.4-28.7-25.9s-24-11-37.6-12.3s-27.8 1.2-39.9 7.4s-21.9 16.3-28.3 27.6s-9.7 23.8-10.1 36.3s2.3 25.2 8.1 36.8s15.1 21.9 26.9 28.8s25.9 9.8 39.5 9.3s26.6-4.5 38.2-10.5s21.9-14.2 30-24.5s13.4-23.1 13.8-36.2z" stroke="#a55" class="b"/>
<path d="M79.3 1.9c.3-13-4.3-25.9-11.7-36.5s-17.3-19.2-28.4-25.7s-23.9-10.9-37.3-12.1s-27.5 1.2-39.5 7.4s-21.7 16.1-28.1 27.2s-9.6 23.6-10 36s2.3 25 8.1 36.4s14.9 21.8 26.6 28.5s25.6 9.8 39.1 9.3s26.3-4.4 37.8-10.3s21.8-14.1 29.8-24.4s13.2-22.8 13.6-35.8z" stroke="#4b2"/>
<path d="M78.4 1.8c.4-12.8-4.2-25.6-11.5-36.1s-17-19-28.1-25.4s-23.6-10.8-36.9-12s-27.2 1.2-39.1 7.4s-21.5 15.9-27.8 26.9s-9.6 23.3-10 35.6s2.3 24.8 8 36.1s14.8 21.5 26.4 28.2s25.4 9.7 38.7 9.2s26.1-4.3 37.5-10.2s21.6-14 29.4-24.1s13.1-22.7 13.4-35.6z" stroke="#c39" class="a"/>
<path d="M77.6 1.8c.4-12.7-4.1-25.3-11.3-35.7s-16.9-18.9-27.8-25.3s-23.5-10.6-36.6-11.8s-27 1.2-38.8 7.3s-21.3 15.7-27.5 26.7s-9.5 23.1-9.9 35.3s2.3 24.5 8 35.7s14.7 21.2 26.1 27.9s25.1 9.6 38.3 9.1s25.9-4.2 37.2-10.1s21.3-13.8 29.1-23.9s12.9-22.4 13.2-35.2z" stroke="#99b"/>
<path d="M76.8 1.8c.4-12.6-4-25.1-11.2-35.4s-16.7-18.7-27.5-25s-23.2-10.6-36.2-11.7s-26.7 1.2-38.4 7.3s-21.1 15.5-27.3 26.3s-9.4 22.9-9.8 35s2.3 24.2 7.9 35.3s14.6 21.1 25.9 27.6s24.9 9.6 37.9 9.1s25.7-4.2 36.8-9.9s21.2-13.8 28.9-23.7s12.7-22.3 13-34.9z" stroke="#169"/>
<path d="M76 1.8c.4-12.5-4-24.9-11-35.1s-16.5-18.5-27.3-24.8s-23-10.4-35.9-11.5s-26.4 1.2-37.9 7.2s-20.9 15.4-27.1 26.1s-9.3 22.6-9.6 34.6s2.2 24 7.8 35s14.4 20.8 25.6 27.3s24.6 9.5 37.6 9s25.3-4.1 36.4-9.8s21-13.6 28.5-23.5s12.6-22 12.9-34.5z" stroke="#4ab" class="a"/>
<path d="M75.2 1.8c.3-12.4-3.9-24.6-10.9-34.8s-16.3-18.3-26.9-24.5s-22.8-10.3-35.6-11.4s-26.1 1.3-37.5 7.2s-20.7 15.2-26.8 25.8s-9.3 22.4-9.6 34.2s2.2 23.8 7.7 34.7s14.3 20.5 25.4 27s24.4 9.4 37.2 8.9s25.1-4 36.1-9.7s20.7-13.5 28.2-23.3s12.4-21.8 12.7-34.1z" stroke="#e05"/>
<path d="M74.4 1.8c.3-12.3-3.8-24.4-10.7-34.4s-16.2-18.2-26.7-24.4s-22.6-10.2-35.2-11.2s-25.8 1.3-37.2 7.1s-20.4 15-26.5 25.5s-9.2 22.2-9.5 33.9s2.2 23.6 7.7 34.3s14.2 20.4 25.1 26.7s24.1 9.3 36.8 8.9s24.9-4 35.7-9.6s20.6-13.3 28-23s12.2-21.6 12.5-33.8z" stroke="#fce"/>
<path d="M73.6 1.7c.3-12.1-3.8-24-10.6-34s-15.9-18-26.4-24.1s-22.3-10.1-34.8-11.1s-25.6 1.3-36.8 7.1s-20.3 14.8-26.3 25.2s-9.1 21.9-9.4 33.5s2.2 23.4 7.6 34s14.1 20.1 25 26.4s23.8 9.2 36.3 8.8s24.7-3.9 35.4-9.4s20.3-13.3 27.6-22.9s12.1-21.4 12.4-33.5z" stroke="#0bd"/>
<path d="M72.8 1.7c.3-11.9-3.7-23.8-10.4-33.7s-15.8-17.8-26.1-23.8s-22.1-10-34.5-11s-25.3 1.3-36.4 7s-20.1 14.7-26 24.9s-9.1 21.8-9.4 33.3s2.2 23 7.6 33.6s13.9 19.8 24.7 26.1s23.5 9.1 35.9 8.7s24.4-3.8 35.1-9.3s20.1-13.1 27.3-22.7s11.9-21.1 12.2-33.1z" stroke="#716"/>
<path d="M72 1.7c.3-11.8-3.6-23.6-10.3-33.3s-15.6-17.7-25.8-23.7s-21.9-9.8-34.1-10.8s-25.1 1.3-36 7s-19.9 14.5-25.8 24.6s-9 21.5-9.3 32.9s2.2 22.8 7.5 33.2s13.8 19.7 24.5 25.9s23.3 9 35.5 8.6s24.2-3.8 34.7-9.2s20-13 27.1-22.4s11.7-21 12-32.8z" stroke="#f50"/>
<path d="M71.2 1.7c.3-11.7-3.6-23.3-10.1-33s-15.4-17.5-25.6-23.4s-21.6-9.8-33.8-10.7s-24.7 1.3-35.6 6.9s-19.6 14.3-25.5 24.4s-8.9 21.2-9.2 32.5s2.2 22.6 7.5 32.9s13.7 19.4 24.2 25.5s23 9 35.2 8.6s23.9-3.7 34.3-9.1s19.7-12.8 26.8-22.2s11.5-20.7 11.8-32.4z" stroke="#49d"/>
<path d="M70.4 1.7c.4-11.6-3.5-23.1-10-32.7s-15.2-17.3-25.2-23.1s-21.5-9.7-33.5-10.6s-24.5 1.3-35.2 6.8s-19.4 14.2-25.2 24.1s-8.9 21.1-9.2 32.2s2.2 22.4 7.4 32.6s13.6 19.2 24 25.2s22.8 8.9 34.8 8.5s23.6-3.6 34-9s19.5-12.7 26.4-21.9s11.4-20.6 11.7-32.1z" stroke="#ee4"/>
<path d="M69.7 1.6c.3-11.4-3.5-22.8-9.9-32.2s-15.1-17.2-25-23s-21.2-9.5-33.1-10.4s-24.2 1.3-34.8 6.8s-19.3 14-25 23.8s-8.7 20.8-9 31.8s2.1 22.2 7.3 32.2s13.4 19 23.7 25s22.5 8.8 34.4 8.4s23.4-3.6 33.6-8.8s19.3-12.6 26.2-21.8s11.3-20.3 11.6-31.8z" stroke="#028" class="a"/>
<path d="M68.9 1.6c.3-11.3-3.5-22.5-9.8-31.9s-14.8-17-24.7-22.7s-21-9.4-32.7-10.3s-24 1.3-34.4 6.7s-19.1 13.9-24.8 23.6s-8.6 20.5-8.9 31.4s2.1 22 7.2 31.9s13.3 18.8 23.5 24.7s22.3 8.7 34 8.3s23.2-3.5 33.3-8.7s19.1-12.5 25.9-21.6s11.1-20.1 11.4-31.4z" stroke="#b83"/>
<path d="M68.1 1.6c.3-11.2-3.4-22.3-9.6-31.6s-14.7-16.8-24.4-22.4s-20.8-9.4-32.4-10.2s-23.7 1.3-34.1 6.7s-18.8 13.6-24.4 23.2s-8.6 20.4-8.9 31.2s2.1 21.6 7.2 31.5s13.1 18.5 23.2 24.3s22 8.6 33.6 8.3s23-3.5 32.9-8.6s18.9-12.4 25.6-21.3s11-19.9 11.3-31.1z" stroke="#2e8"/>
<path d="M67.3 1.6c.3-11.1-3.3-22.1-9.5-31.2s-14.5-16.7-24.1-22.3s-20.6-9.2-32.1-10s-23.4 1.3-33.6 6.6s-18.6 13.5-24.2 23s-8.5 20.1-8.8 30.8s2.1 21.4 7.2 31.1s13 18.4 22.9 24.1s21.7 8.5 33.3 8.2s22.6-3.4 32.5-8.5s18.7-12.2 25.3-21.1s10.8-19.7 11.1-30.7z" stroke="#d9f"/>
<path d="M66.5 1.6c.3-11-3.3-21.8-9.3-30.9s-14.4-16.5-23.9-22s-20.3-9.1-31.7-9.9s-23.1 1.3-33.2 6.5s-18.4 13.4-24 22.8s-8.4 19.8-8.7 30.4s2.1 21.2 7.1 30.8s12.9 18.1 22.7 23.8s21.5 8.4 32.9 8.1s22.4-3.3 32.2-8.4s18.4-12.1 25-20.9s10.6-19.4 10.9-30.3z" stroke="#a13"/>
<path d="M65.7 1.5c.3-10.7-3.2-21.5-9.2-30.5s-14.1-16.3-23.5-21.7s-20.2-9-31.4-9.8s-22.9 1.3-32.9 6.5s-18.2 13.2-23.6 22.4s-8.4 19.7-8.6 30.1s2 21 7 30.5s12.7 17.9 22.4 23.5s21.2 8.3 32.5 8s22.2-3.3 31.8-8.3s18.3-11.9 24.7-20.6s10.5-19.3 10.8-30.1z" stroke="#066"/>
<path d="M65 1.5c.2-10.6-3.2-21.2-9.1-30.1s-14-16.2-23.3-21.6s-19.9-8.9-31-9.6s-22.6 1.3-32.5 6.4s-18 13-23.4 22.2s-8.2 19.4-8.5 29.7s2 20.7 6.9 30.1s12.6 17.7 22.2 23.3s21 8.2 32.1 7.9s21.9-3.2 31.5-8.2s18-11.8 24.4-20.4s10.4-19 10.7-29.7z" stroke="#da8" class="b"/>
<path d="M64.2 1.5c.3-10.5-3.1-21-9-29.8s-13.8-16-23-21.3s-19.7-8.8-30.6-9.5s-22.4 1.3-32.1 6.3s-17.8 12.9-23.2 21.9s-8.1 19.2-8.4 29.4s2 20.5 6.9 29.8s12.4 17.4 21.9 22.9s20.7 8.2 31.7 7.9s21.7-3.2 31.1-8.1s17.9-11.7 24.2-20.1s10.2-18.9 10.5-29.4z" stroke="#0f2"/>
<path d="M63.4 1.5c.3-10.4-3.1-20.8-8.8-29.5s-13.7-15.8-22.8-21s-19.4-8.7-30.2-9.4s-22.1 1.3-31.8 6.3s-17.5 12.7-22.8 21.6s-8.1 19-8.4 29.1s2 20.2 6.8 29.4s12.3 17.2 21.7 22.6s20.5 8.1 31.3 7.8s21.5-3.1 30.8-7.9s17.6-11.6 23.8-20s10.1-18.6 10.4-29z" stroke="#725" class="c"/>
<path d="M62.6 1.5c.3-10.3-3-20.5-8.7-29.1s-13.5-15.7-22.4-20.8s-19.3-8.6-30-9.4s-21.8 1.4-31.3 6.3s-17.4 12.6-22.6 21.4s-8 18.7-8.3 28.7s2 20 6.8 29s12.1 17 21.4 22.4s20.2 8 31 7.8s21.1-3.2 30.4-7.9s17.4-11.5 23.5-19.8s9.9-18.3 10.2-28.6z" stroke="#85d"/>
<path d="M61.8 1.5c.3-10.2-2.9-20.3-8.5-28.8s-13.3-15.4-22.2-20.6s-19-8.4-29.6-9.2s-21.5 1.4-30.9 6.3s-17.2 12.3-22.4 21s-7.9 18.6-8.1 28.4s1.9 19.8 6.6 28.7s12.1 16.8 21.2 22.1s20 7.9 30.6 7.7s20.9-3.1 30-7.8s17.2-11.3 23.3-19.5s9.8-18.2 10-28.3z" stroke="#d88"/>
<path d="M61.1 1.4c.2-10-3-20-8.5-28.4s-13.1-15.2-21.9-20.3s-18.8-8.4-29.2-9.1s-21.3 1.4-30.6 6.2s-16.9 12.2-22 20.8s-7.9 18.3-8.1 28s1.9 19.5 6.6 28.4s11.9 16.5 20.9 21.8s19.7 7.8 30.2 7.6s20.7-3.1 29.7-7.7s17-11.2 22.9-19.3s9.7-17.9 10-28z" stroke="#97d" class="a"/>
<path d="M60.3 1.4c.3-9.9-2.9-19.7-8.3-28s-13-15.1-21.6-20.1s-18.6-8.3-28.9-9s-21 1.4-30.2 6.1s-16.7 12.1-21.8 20.6s-7.7 18-8 27.6s1.9 19.3 6.5 28s11.8 16.4 20.7 21.6s19.5 7.7 29.8 7.5s20.4-3 29.3-7.6s16.8-11 22.7-19.1s9.5-17.7 9.8-27.6z" stroke="#a2a"/>
<path d="M59.5 1.4c.3-9.8-2.8-19.5-8.2-27.7s-12.8-14.9-21.3-19.8s-18.4-8.2-28.5-8.9s-20.8 1.4-29.8 6.1s-16.6 11.9-21.6 20.2s-7.6 17.9-7.9 27.3s1.9 19.1 6.5 27.7s11.6 16.2 20.4 21.2s19.2 7.6 29.4 7.5s20.2-3 29-7.5s16.6-10.9 22.4-18.8s9.4-17.5 9.6-27.3z" stroke="#0cb" class="c"/>
<path d="M58.7 1.4c.3-9.7-2.7-19.3-8-27.4s-12.7-14.7-21.1-19.6s-18.1-8-28.2-8.7s-20.4 1.4-29.4 6s-16.3 11.7-21.2 20s-7.6 17.6-7.8 27s1.8 18.8 6.3 27.3s11.5 15.9 20.2 20.9s19 7.5 29.1 7.4s19.9-2.9 28.6-7.4s16.3-10.8 22-18.6s9.3-17.3 9.5-26.9z" stroke="#4c3"/>
<path d="M58 1.4c.2-9.6-2.8-19-8-27s-12.4-14.6-20.8-19.4s-17.8-7.9-27.8-8.6s-20.2 1.4-29 5.9s-16.1 11.6-21 19.8s-7.5 17.3-7.7 26.6s1.8 18.6 6.3 26.9s11.3 15.8 19.9 20.7s18.7 7.4 28.7 7.3s19.6-2.9 28.2-7.3s16.2-10.6 21.8-18.4s9.1-17 9.4-26.5z" stroke="#a2a" class="a"/>
<path d="M57.2 1.3c.3-9.3-2.7-18.7-7.8-26.6s-12.3-14.4-20.5-19.1s-17.7-7.8-27.5-8.5s-19.9 1.3-28.6 5.8s-15.9 11.5-20.8 19.5s-7.3 17.2-7.6 26.3s1.8 18.3 6.2 26.6s11.2 15.5 19.7 20.4s18.5 7.3 28.3 7.2s19.4-2.8 27.9-7.2s15.9-10.5 21.5-18.1s9-16.9 9.2-26.3z" stroke="#616"/>
<path d="M56.4 1.3c.3-9.2-2.6-18.5-7.7-26.3s-12.1-14.1-20.2-18.8s-17.4-7.8-27.1-8.4s-19.7 1.3-28.3 5.8s-15.7 11.2-20.4 19.2s-7.3 16.9-7.6 25.9s1.8 18.1 6.2 26.3s11 15.3 19.4 20.1s18.2 7.2 27.9 7.1s19.2-2.8 27.5-7.1s15.8-10.4 21.2-17.9s8.9-16.6 9.1-25.9z" stroke="#cbe" class="b"/>
<path d="M55.7 1.3c.2-9.1-2.6-18.2-7.6-25.9s-12-14-20-18.7s-17.2-7.6-26.7-8.2s-19.4 1.3-27.9 5.7s-15.5 11.1-20.2 18.9s-7.2 16.7-7.4 25.6s1.7 17.9 6 25.9s11 15.1 19.2 19.9s18 7.1 27.5 7s18.9-2.7 27.2-7s15.5-10.2 20.9-17.7s8.7-16.4 9-25.5z" stroke="#1eb"/>
<path d="M54.9 1.3c.2-9-2.6-18-7.5-25.6s-11.8-13.8-19.7-18.4s-16.9-7.5-26.4-8.1s-19.1 1.3-27.4 5.6s-15.3 11-20 18.7s-7.1 16.5-7.3 25.2s1.7 17.7 6 25.6s10.8 14.9 18.9 19.6s17.7 7 27.2 6.9s18.6-2.7 26.7-6.9s15.4-10.1 20.7-17.4s8.6-16.2 8.8-25.2z" stroke="#918"/>
<path d="M54.1 1.3c.3-8.9-2.5-17.8-7.3-25.3s-11.6-13.6-19.4-18.1s-16.8-7.4-26.1-8s-18.8 1.3-27.1 5.6s-15.1 10.8-19.6 18.4s-7 16.2-7.3 24.9s1.8 17.3 5.9 25.2s10.7 14.6 18.7 19.3s17.5 6.9 26.8 6.8s18.4-2.6 26.4-6.8s15.1-9.9 20.3-17.2s8.5-15.9 8.7-24.8z" stroke="#440"/>
<path d="M53.4 1.3c.2-8.8-2.5-17.5-7.3-24.9s-11.4-13.5-19.1-17.9s-16.5-7.3-25.7-7.9s-18.6 1.3-26.7 5.5s-14.9 10.6-19.4 18.1s-6.9 16-7.2 24.6s1.8 17.1 5.9 24.8s10.5 14.5 18.4 19.1s17.2 6.8 26.4 6.7s18.1-2.6 26-6.7s14.9-9.8 20.1-16.9s8.3-15.8 8.6-24.5z" stroke="#bdb"/>
<path d="M52.6 1.2c.2-8.6-2.4-17.2-7.1-24.5s-11.3-13.3-18.9-17.6s-16.3-7.2-25.3-7.8s-18.3 1.3-26.4 5.4s-14.6 10.5-19.1 17.9s-6.8 15.8-7 24.2s1.7 16.9 5.7 24.5s10.4 14.2 18.2 18.7s17 6.8 26 6.7s17.9-2.5 25.7-6.6s14.7-9.7 19.8-16.7s8.2-15.5 8.4-24.2z" stroke="#d8d" class="a"/>
<path d="M51.8 1.2c.3-8.5-2.4-17-7-24.2s-11.1-13-18.6-17.4s-16-7-24.9-7.6s-18.1 1.3-26 5.3s-14.4 10.4-18.8 17.7s-6.8 15.5-7 23.8s1.7 16.7 5.7 24.2s10.2 14 17.9 18.4s16.7 6.7 25.6 6.6s17.7-2.5 25.3-6.5s14.5-9.5 19.5-16.5s8.1-15.3 8.3-23.8z" stroke="#576"/>
<path d="M51.1 1.2c.2-8.4-2.4-16.8-6.9-23.8s-11-12.9-18.4-17.2s-15.8-7-24.5-7.5s-17.8 1.3-25.6 5.3s-14.3 10.2-18.6 17.3s-6.6 15.4-6.9 23.5s1.7 16.4 5.6 23.8s10.1 13.9 17.7 18.2s16.5 6.6 25.2 6.5s17.4-2.4 25-6.4s14.3-9.4 19.2-16.2s8-15.1 8.2-23.5z" stroke="#315"/>
<path d="M50.3 1.2c.2-8.3-2.3-16.5-6.8-23.5s-10.8-12.7-18-16.9s-15.6-6.9-24.3-7.4s-17.5 1.2-25.2 5.2s-14 10-18.3 17.1s-6.5 15.1-6.7 23.1s1.6 16.2 5.5 23.5s9.9 13.6 17.4 17.9s16.2 6.5 24.9 6.4s17.1-2.4 24.6-6.2s14-9.4 18.9-16.1s7.8-14.9 8-23.1z" stroke="#ef5"/>
<path d="M49.5 1.2c.3-8.2-2.2-16.3-6.6-23.1s-10.7-12.6-17.8-16.7s-15.4-6.8-23.9-7.3s-17.2 1.2-24.8 5.1s-13.8 9.9-18 16.9s-6.5 14.8-6.7 22.8s1.6 15.9 5.4 23s9.8 13.5 17.2 17.7s16 6.4 24.5 6.3s16.8-2.4 24.2-6.1s13.9-9.2 18.6-15.9s7.7-14.6 7.9-22.7z" stroke="#c3a"/>
<path d="M48.8 1.1c.2-8-2.3-16-6.6-22.7s-10.4-12.4-17.5-16.4s-15.1-6.7-23.5-7.2s-17 1.2-24.4 5s-13.6 9.8-17.8 16.6s-6.4 14.7-6.6 22.5s1.6 15.7 5.4 22.7s9.6 13.2 16.9 17.4s15.7 6.3 24.1 6.2s16.6-2.3 23.9-6s13.6-9.1 18.3-15.6s7.6-14.4 7.8-22.5z" stroke="#3eb" class="b"/>
<path d="M48 1.1c.2-7.9-2.2-15.7-6.5-22.4s-10.2-12.1-17.2-16.1s-14.9-6.6-23.1-7.1s-16.8 1.2-24.1 5s-13.4 9.5-17.5 16.3s-6.2 14.4-6.4 22.1s1.5 15.4 5.2 22.4s9.5 13 16.7 17.1s15.5 6.2 23.7 6.1s16.4-2.3 23.5-5.9s13.4-8.9 18.1-15.4s7.4-14.2 7.6-22.1z" stroke="#264"/>
<path d="M47.3 1.1c.2-7.7-2.2-15.5-6.4-22s-10.1-12-16.9-16s-14.7-6.4-22.8-6.9s-16.5 1.2-23.7 4.9s-13.2 9.4-17.2 16.1s-6.2 14.1-6.4 21.7s1.5 15.2 5.2 22s9.3 12.8 16.3 16.9s15.3 6.1 23.4 6s16.1-2.2 23.2-5.8s13.2-8.8 17.7-15.2s7.4-13.9 7.6-21.7z" stroke="#e91"/>
<path d="M46.5 1.1c.2-7.6-2.1-15.3-6.3-21.7s-9.9-11.8-16.6-15.7s-14.5-6.3-22.5-6.8s-16.2 1.2-23.3 4.8s-12.9 9.3-16.9 15.8s-6.1 14-6.3 21.4s1.5 15 5.2 21.7s9.1 12.6 16 16.6s15.1 6 23.1 5.9s15.8-2.2 22.7-5.7s13-8.7 17.5-14.9s7.2-13.8 7.4-21.4z" stroke="#357"/>
<path d="M45.7 1.1c.2-7.5-2-15-6.1-21.4s-9.8-11.6-16.4-15.4s-14.2-6.2-22.1-6.7s-15.9 1.2-22.9 4.7s-12.8 9.2-16.7 15.6s-6 13.7-6.1 21s1.4 14.8 5 21.4s9.1 12.4 15.8 16.3s14.8 5.9 22.7 5.8s15.6-2.1 22.4-5.7s12.8-8.4 17.2-14.6s7-13.5 7.2-21z" stroke="#99b"/>
<path d="M45 1.1c.2-7.4-2.1-14.8-6.1-21s-9.6-11.5-16.1-15.2s-14-6.1-21.7-6.6s-15.7 1.1-22.5 4.7s-12.6 8.9-16.4 15.2s-5.9 13.6-6.1 20.8s1.5 14.5 5 20.9s8.9 12.2 15.5 16.1s14.5 5.8 22.3 5.7s15.3-2.1 22-5.6s12.6-8.3 16.9-14.3s7-13.4 7.2-20.7z" stroke="#466"/>
<path d="M44.2 1c.2-7.2-2-14.5-5.9-20.6s-9.5-11.2-15.9-14.9s-13.7-6.1-21.3-6.5s-15.4 1.1-22.2 4.6s-12.3 8.8-16.1 15s-5.8 13.3-6 20.4s1.5 14.2 4.9 20.6s8.8 12 15.3 15.8s14.3 5.7 21.9 5.6s15.1-2.1 21.7-5.5s12.4-8.2 16.6-14.1s6.8-13.1 7-20.4z" stroke="#e65"/>
<path d="M43.5 1c.2-7.1-2-14.2-5.9-20.3s-9.3-11-15.5-14.6s-13.6-6-21-6.4s-15.2 1.1-21.8 4.5s-12.2 8.7-15.9 14.8s-5.7 13-5.8 20s1.4 14 4.8 20.3s8.6 11.7 15 15.5s14 5.6 21.5 5.5s14.9-2 21.3-5.4s12.2-8 16.4-13.9s6.7-12.8 6.9-20z" stroke="#38c" class="b"/>
<path d="M42.7 1c.2-7-1.9-14-5.7-19.9s-9.1-10.9-15.3-14.5s-13.3-5.8-20.6-6.2s-14.9 1.1-21.5 4.4s-11.9 8.5-15.5 14.5s-5.6 12.9-5.8 19.7s1.4 13.8 4.7 19.9s8.5 11.6 14.8 15.3s13.8 5.5 21.1 5.4s14.6-2 21-5.3s11.9-7.9 16-13.6s6.6-12.7 6.8-19.7z" stroke="#789"/>
<path d="M42 1c.1-6.9-1.9-13.8-5.7-19.6s-8.9-10.7-15-14.2s-13.1-5.7-20.3-6.1s-14.6 1.1-21 4.4s-11.7 8.3-15.3 14.2s-5.5 12.6-5.7 19.3s1.4 13.6 4.7 19.6s8.3 11.4 14.5 15s13.5 5.4 20.8 5.3s14.3-1.9 20.5-5.2s11.8-7.8 15.8-13.4s6.5-12.4 6.7-19.3z" stroke="#b62"/>
<path d="M41.2 1c.2-6.8-1.9-13.5-5.5-19.3s-8.8-10.4-14.8-13.9s-12.8-5.6-19.9-6s-14.3 1-20.6 4.3s-11.5 8.2-15.1 14s-5.4 12.3-5.5 19s1.3 13.2 4.5 19.2s8.2 11.1 14.3 14.6s13.3 5.4 20.4 5.3s14-1.9 20.2-5.1s11.5-7.6 15.5-13.2s6.3-12.2 6.5-18.9z" stroke="#88e"/>
<ellipse rx="39.9" ry="37.5" stroke="#5b2"/>
<ellipse rx="39.1" ry="36.8" stroke="#73a"/>
<ellipse rx="38.4" ry="36.1" stroke="#b40"/>
<ellipse rx="37.7" ry="35.4" stroke="#88d"/>
<ellipse rx="36.9" ry="34.7" stroke="#4b8"/>
<ellipse rx="36.2" ry="34" stroke="#775"/>
<ellipse rx="35.4" ry="33.3" stroke="#d18" class="c"/>
<ellipse rx="34.7" ry="32.6" stroke="#cc2"/>
<ellipse rx="33.9" ry="31.9" stroke="#3be"/>
<ellipse rx="33.2" ry="31.2" stroke="#193" class="a"/>
<ellipse rx="32.5" ry="30.5" stroke="#94e"/>
<ellipse rx="31.7" ry="29.8" stroke="#c04"/>
<ellipse rx="31" ry="29.1" stroke="#9ef" class="b"/>
<ellipse rx="30.2" ry="28.4" stroke="#b65"/>
<ellipse rx="29.5" ry="27.7" stroke="#2c1"/>
<ellipse rx="28.7" ry="27" stroke="#90b"/>
<ellipse rx="28" ry="26.3" stroke="#5cc" class="c"/>
<ellipse rx="27.3" ry="25.6" stroke="#d07"/>
<ellipse rx="26.5" ry="24.9" stroke="#596" class="a"/>
<ellipse rx="25.8" ry="24.2" stroke="#b77"/>
<ellipse rx="25" ry="23.5" stroke="#55f"/>
<ellipse rx="24.3" ry="22.8" stroke="#f5e" class="a"/>
<ellipse rx="23.5" ry="22.1" stroke="#1a4"/>
<ellipse rx="22.8" ry="21.4" stroke="#298"/>
<ellipse rx="22.1" ry="20.7" stroke="#883"/>
<ellipse rx="21.3" ry="20" stroke="#59f" class="b"/>
<ellipse rx="20.6" ry="19.4" stroke="#d16"/>
<ellipse rx="19.8" ry="18.7" stroke="#48d"/>
<ellipse rx="19.1" ry="18" stroke="#8c0"/>
<ellipse rx="18.3" ry="17.3" stroke="#4a9"/>
<ellipse rx="17.6" ry="16.6" stroke="#81c"/>
<ellipse rx="16.9" ry="15.9" stroke="#b16"/>
<ellipse rx="16.1" ry="15.2" stroke="#6c5"/>
<ellipse rx="15.4" ry="14.5" stroke="#5fd"/>
<ellipse rx="14.6" ry="13.8" stroke="#229"/>
<ellipse rx="13.9" ry="13.1" stroke="#e24" class="a"/>
<ellipse rx="13.1" ry="12.4" stroke="#8f0"/>
<ellipse rx="12.4" ry="11.7" stroke="#47c"/>
<ellipse rx="11.7" ry="11" stroke="#785"/>
<ellipse rx="10.9" ry="10.3" stroke="#b4b" class="a"/>
<ellipse rx="10.2" ry="9.6" stroke="#9c3"/>
<ellipse rx="9.4" ry="8.9" stroke="#415" class="a"/>
<ellipse rx="8.7" ry="8.2" stroke="#5e7"/>
<ellipse rx="7.9" ry="7.5" stroke="#98a" class="b"/>
<ellipse rx="7.2" ry="6.8" stroke="#8c7"/>
<ellipse rx="6.5" ry="6.1" stroke="#92b"/>
<ellipse rx="5.7" ry="5.4" stroke="#2b0" class="b"/>
<ellipse rx="5" ry="4.7" stroke="#68f"/>
<ellipse rx="4.2" ry="4" stroke="#4d3"/>
<ellipse rx="3.5" ry="3.3" stroke="#e1b"/>
<ellipse rx="2.7" ry="2.6" stroke="#378"/>
<ellipse rx="2" ry="1.9" stroke="#45b" class="a"/>
<ellipse rx="1.3" ry="1.2" stroke="#4aa"/>
<ellipse rx=".5" ry=".5" stroke="#cc5" class="a"/>
<path d="M98.4-76.9c-8.6-9.6-19.8-17.2-31.8-22.3s-24.7-7.6-36.9-10.5s-24.7-6.4-37.8-7.1s-26.5 1.3-38.8 6s-23.4 12.1-32.4 21.1s-15.7 19.2-22.4 29.3s-13.7 20.2-18.3 31.7s-6.8 24-5.9 36.4s4.7 24.6 10.8 35.4s14.5 20.1 22.5 29.2s16.2 18.6 26.3 26.4s22.1 13.8 35 17s26.5 3.4 39.4 1.1s24.7-7.3 36.4-11.6s24.1-8.3 35.3-14.9s21.2-15.4 28.4-26s11.5-22.9 13-35.3s-.3-24.5-1.1-36.4s-.8-24.1-4-36.1s-9.1-23.7-17.7-33.4z" stroke="#25a"/>
<path d="M98.6-77.1c-8.6-9.6-19.8-17.2-31.8-22.4s-24.7-7.9-36.9-10.9s-24.9-6.2-38-6.8s-26.6 1.4-38.9 6.1s-23.5 12.1-32.5 21s-16.1 19.2-22.9 29.3s-13.5 20.4-18 32s-6.7 24.1-5.9 36.5s4.8 24.7 10.8 35.6s14.3 20.3 22.4 29.5s16.4 18.5 26.6 26.2s22.2 13.8 35.1 17s26.6 3.4 39.5 1.2s24.9-7 36.7-11.4s24-8.6 35.2-15.2s21.2-15.5 28.4-26.2s11.6-22.9 13.2-35.3s.1-24.6-.8-36.5s-1-24.2-4.3-36.3s-9.3-23.7-17.9-33.4z" stroke="#7b3"/>
<path d="M98.8-77.2c-8.6-9.7-19.7-17.4-31.7-22.7s-24.7-8.2-37.1-11.2s-25-5.9-38.1-6.5s-26.7 1.5-39.1 6.2s-23.5 12.1-32.6 21s-16.4 19.1-23.2 29.2s-13.5 20.6-17.9 32.3s-6.6 24.2-5.7 36.7s4.7 24.7 10.7 35.6s14 20.6 22.2 29.8s16.6 18.5 27 26.2s22.3 13.7 35.2 16.9s26.6 3.5 39.6 1.3s25.1-6.7 37-11.1s24-8.9 35.2-15.6s21.2-15.6 28.4-26.3s11.6-23 13.3-35.4s.4-24.7-.4-36.6s-1.4-24.3-4.7-36.4s-9.4-23.7-18.1-33.4z" stroke="#9c4"/>
<path d="M99.1-77.5c-8.7-9.7-19.8-17.4-31.8-22.8s-24.6-8.5-37.1-11.4s-25.1-5.9-38.4-6.3s-26.7 1.5-39.1 6.3s-23.6 12.1-32.9 21s-16.6 18.9-23.4 29.1s-13.4 20.9-17.8 32.5s-6.5 24.4-5.6 36.9s4.6 24.8 10.6 35.8s13.9 20.8 22.1 30.1s16.9 18.4 27.3 26.1s22.5 13.7 35.4 16.8s26.7 3.6 39.8 1.5s25.2-6.5 37.2-11s24-9.1 35.2-15.9s21.1-15.7 28.4-26.4s11.7-23.1 13.4-35.5s.7-24.7-.1-36.8s-1.6-24.4-5-36.5s-9.5-23.7-18.2-33.5z" stroke="#6a3"/>
<path d="M99.4-77.7c-8.7-9.7-19.8-17.5-31.8-23s-24.7-8.7-37.2-11.7s-25.3-5.7-38.6-6.1s-26.8 1.7-39.3 6.4s-23.6 12.1-33 21s-16.9 18.9-23.8 29.2s-13.3 21-17.6 32.7s-6.4 24.4-5.6 37s4.7 24.9 10.6 36s13.8 21 22.1 30.3s17 18.5 27.5 26.1s22.6 13.6 35.6 16.8s26.8 3.6 39.9 1.6s25.4-6.3 37.4-10.8s24.2-9.3 35.3-16.2s21.1-15.9 28.4-26.7s11.8-23 13.6-35.5s1-24.8 .2-36.9s-1.8-24.5-5.3-36.6s-9.7-23.8-18.4-33.6z" stroke="#5e3"/>
<path d="M99.7-77.9c-17.4-19.6-43.9-29.2-69.1-35.2s-53.3-8.9-78.2 .6s-43.4 29.5-57.3 50.2s-24.8 44.9-23.1 70.1s16 48 32.6 66.8s37.5 36.4 63.6 42.8s53.6 .1 77.7-9s49.2-21.7 63.8-43.3s15.8-48.3 14.1-72.7s-6.7-50.8-24.1-70.3z" stroke="#a86"/>
<path d="M100-78.2c-17.5-19.6-43.9-29.5-69.2-35.6s-53.5-8.6-78.6 .9s-43.8 29.4-57.7 50.2s-24.7 45.3-22.9 70.6s15.7 48.2 32.4 67.1s37.9 36.4 64.1 42.8s53.8 .4 78.1-8.7s49.2-22.1 63.8-43.7s16.2-48.5 14.5-73s-7-50.9-24.5-70.6z" stroke="#b02" class="a"/>
<path d="M100.4-78.5c-17.6-19.7-44-29.8-69.4-35.9s-53.8-8.5-79 1.1s-44.1 29.3-58.1 50.2s-24.6 45.6-22.9 71s15.6 48.5 32.4 67.6s38.3 36.4 64.6 42.8s54 .6 78.5-8.6s49.2-22.4 63.9-44.1s16.6-48.6 14.9-73.3s-7.4-51.1-24.9-70.8z" stroke="#98d"/>
<path d="M100.8-78.8c-17.6-19.7-44-30.2-69.7-36.3s-54-8.3-79.3 1.3s-44.4 29.3-58.6 50.4s-24.4 45.8-22.7 71.3s15.5 48.9 32.4 68s38.6 36.4 65 42.9s54.3 .8 78.8-8.4s49.4-22.8 64.1-44.6s16.9-48.7 15.2-73.5s-7.6-51.3-25.2-71.1z" stroke="#697" class="b"/>
<path d="M101.1-79.1c-17.6-19.8-44-30.5-69.8-36.7s-54.3-8.1-79.7 1.6s-44.8 29.2-59 50.4s-24.4 46.1-22.6 71.8s15.3 49.1 32.3 68.4s38.9 36.4 65.4 42.8s54.6 1.1 79.3-8.2s49.5-23 64.2-44.9s17.3-48.9 15.6-73.9s-8-51.4-25.7-71.3z" stroke="#8d5"/>
<path d="M101.5-79.4c-17.7-19.9-44.1-30.9-70-37.1s-54.6-7.9-80.1 1.8s-45.1 29.2-59.4 50.5s-24.4 46.5-22.6 72.2s15.2 49.5 32.3 68.8s39.3 36.4 65.9 42.9s54.8 1.3 79.7-8s49.5-23.4 64.4-45.4s17.5-49 15.8-74.1s-8.2-51.6-26-71.6z" stroke="#a28"/>
<path d="M102-79.7c-17.9-20-44.2-31.2-70.3-37.5s-54.9-7.7-80.5 2s-45.5 29.2-59.9 50.6s-24.2 46.8-22.5 72.6s15.2 49.8 32.4 69.3s39.5 36.4 66.3 42.9s55.1 1.5 80.1-7.9s49.6-23.6 64.5-45.7s17.9-49.2 16.1-74.5s-8.4-51.8-26.2-71.8z" stroke="#51c" class="b"/>
<path d="M102.4-80c-17.9-20.1-44.3-31.6-70.5-37.8s-55.2-7.7-80.9 2.1s-45.8 29.2-60.3 50.8s-24.2 47-22.5 73s15.1 50 32.4 69.6s39.9 36.5 66.7 43.1s55.4 1.6 80.5-7.8s49.8-24 64.8-46.1s18.1-49.4 16.4-74.8s-8.7-52-26.6-72.1z" stroke="#9d8"/>
<path d="M102.8-80.4c-18-20.2-44.4-31.8-70.7-38.1s-55.5-7.5-81.3 2.3s-46.2 29.2-60.7 50.9s-24.3 47.3-22.5 73.4s15 50.4 32.4 70.1s40.2 36.5 67.2 43.1s55.6 1.8 80.9-7.7s49.9-24.2 64.9-46.4s18.5-49.6 16.7-75.1s-8.9-52.2-26.9-72.5z" stroke="#d39" class="a"/>
<path d="M103.2-80.7c-18-20.3-44.4-32.1-71-38.5s-55.7-7.4-81.6 2.5s-46.5 29.2-61.1 51s-24.3 47.6-22.5 73.8s14.9 50.7 32.4 70.5s40.5 36.6 67.6 43.2s56 2 81.4-7.6s50.1-24.4 65.1-46.8s18.7-49.7 17-75.4s-9.2-52.4-27.3-72.7z" stroke="#593"/>
<path d="M103.7-81c-18.1-20.4-44.6-32.5-71.3-38.9s-56-7.2-82.1 2.6s-46.8 29.4-61.5 51.3s-24.2 47.9-22.4 74.2s14.9 50.9 32.5 70.8s40.8 36.8 68 43.4s56.2 2.1 81.8-7.5s50.2-24.7 65.3-47.2s19-49.9 17.2-75.7s-9.4-52.7-27.5-73z" stroke="#37b"/>
<path d="M104.1-81.4c-18.1-20.5-44.7-32.7-71.5-39.1s-56.3-7.2-82.5 2.7s-47.1 29.4-61.9 51.4s-24.2 48.2-22.4 74.6s14.8 51.3 32.5 71.3s41.1 36.8 68.4 43.4s56.5 2.3 82.2-7.4s50.4-24.9 65.6-47.5s19.2-50.1 17.4-76.1s-9.6-52.8-27.8-73.3z" stroke="#7ea" class="a"/>
<path d="M104.6-81.8c-18.3-20.5-44.8-33-71.8-39.4s-56.6-7.1-82.9 2.9s-47.5 29.4-62.3 51.5s-24.3 48.5-22.5 75.1s14.8 51.5 32.6 71.6s41.4 36.9 68.9 43.6s56.7 2.4 82.6-7.3s50.6-25.2 65.8-47.9s19.5-50.3 17.7-76.4s-9.8-53.1-28.1-73.7z" stroke="#a34"/>
<path d="M105.1-82.1c-18.4-20.7-45-33.3-72.1-39.8s-56.9-7-83.4 3s-47.7 29.5-62.7 51.7s-24.2 48.8-22.4 75.5s14.8 51.8 32.7 72.1s41.6 37 69.2 43.7s57.1 2.5 83.1-7.3s50.7-25.4 66-48.2s19.8-50.5 17.9-76.8s-10-53.3-28.3-73.9z" stroke="#f62"/>
<path d="M105.5-82.5c-18.4-20.8-45.1-33.5-72.3-40.1s-57.2-6.9-83.8 3.1s-48 29.6-63.1 52s-24.3 49-22.4 75.8s14.7 52.2 32.7 72.5s41.9 37.1 69.7 43.9s57.3 2.6 83.5-7.2s50.9-25.7 66.3-48.6s19.9-50.7 18.1-77.1s-10.2-53.5-28.7-74.3z" stroke="#01b" class="a"/>
<path d="M106-82.9c-18.5-20.8-45.2-33.8-72.7-40.3s-57.4-6.9-84.1 3.2s-48.4 29.6-63.5 52.1s-24.4 49.3-22.5 76.3s14.7 52.4 32.8 72.9s42.3 37.2 70.1 44s57.6 2.7 83.9-7.2s51.1-25.9 66.6-48.8s20.2-51 18.3-77.6s-10.4-53.7-28.9-74.6z" stroke="#6d3"/>
<path d="M106.5-83.2c-18.6-21-45.4-34.1-73-40.7s-57.8-6.8-84.6 3.3s-48.6 29.7-63.8 52.3s-24.4 49.6-22.6 76.7s14.7 52.7 32.9 73.3s42.6 37.4 70.6 44.1s57.9 2.9 84.3-7s51.3-26.2 66.8-49.2s20.4-51.2 18.6-77.9s-10.6-54-29.2-74.9z" stroke="#c5e" class="b"/>
<path d="M107-83.6c-18.7-21.1-45.6-34.4-73.3-41s-58.1-6.7-85 3.4s-49 29.8-64.3 52.5s-24.4 49.9-22.5 77.2s14.7 53 33 73.7s42.8 37.4 70.9 44.2s58.2 3 84.8-7s51.4-26.4 67-49.5s20.7-51.4 18.8-78.3s-10.7-54.2-29.4-75.2z" stroke="#e62"/>
<path d="M107.5-84c-18.8-21.2-45.7-34.6-73.6-41.3s-58.4-6.7-85.5 3.6s-49.2 29.8-64.6 52.7s-24.5 50.2-22.6 77.5s14.7 53.3 33.1 74.1s43.1 37.6 71.3 44.4s58.5 3.1 85.3-6.9s51.6-26.6 67.3-49.9s20.8-51.6 18.9-78.6s-10.9-54.5-29.6-75.6z" stroke="#682" class="b"/>
<path d="M108-84.4c-18.8-21.2-45.9-34.8-73.9-41.6s-58.7-6.6-85.9 3.7s-49.6 29.9-65 52.9s-24.6 50.5-22.7 77.9s14.7 53.6 33.2 74.6s43.4 37.7 71.8 44.5s58.8 3.2 85.6-6.9s51.9-26.8 67.6-50.2s21.1-51.8 19.2-78.9s-11.1-54.8-29.9-76z" stroke="#175"/>
<path d="M108.5-84.8c-18.9-21.3-46-35.1-74.2-41.8s-59-6.6-86.4 3.7s-49.8 30-65.4 53.1s-24.5 50.8-22.6 78.4s14.7 53.9 33.3 74.9s43.6 37.8 72.1 44.7s59.1 3.3 86.1-6.8s52.1-27.1 67.9-50.5s21.2-52.1 19.3-79.4s-11.2-55-30.1-76.3z" stroke="#d0f" class="b"/>
<path d="M109-85.2c-19-21.4-46.2-35.3-74.6-42.1s-59.2-6.5-86.7 3.8s-50.2 30.1-65.8 53.3s-24.6 51.1-22.7 78.8s14.7 54.2 33.4 75.4s43.9 37.9 72.5 44.9s59.4 3.3 86.6-6.9s52.3-27.2 68.1-50.8s21.5-52.3 19.6-79.7s-11.4-55.2-30.4-76.7z" stroke="#bd9"/>
<path d="M109.5-85.6c-19.1-21.5-46.4-35.6-74.9-42.4s-59.6-6.5-87.2 3.9s-50.4 30.2-66.1 53.6s-24.7 51.3-22.8 79.2s14.7 54.4 33.5 75.7s44.2 38.1 73 45.1s59.7 3.4 87-6.8s52.4-27.5 68.4-51.2s21.6-52.5 19.7-80.1s-11.5-55.4-30.6-77z" stroke="#642" class="b"/>
<path d="M110-86c-19.2-21.6-46.5-35.8-75.2-42.7s-59.9-6.4-87.6 4s-50.7 30.3-66.5 53.8s-24.8 51.6-22.9 79.6s14.8 54.8 33.6 76.2s44.5 38.2 73.4 45.2s60 3.5 87.4-6.8s52.7-27.6 68.8-51.4s21.8-52.8 19.8-80.5s-11.6-55.7-30.8-77.4z" stroke="#256"/>
<path d="M110.5-86.4c-19.2-21.7-46.7-36.1-75.5-42.9s-60.2-6.5-88.1 4s-51 30.4-66.9 54s-24.8 51.9-22.9 80s14.8 55.1 33.8 76.6s44.7 38.4 73.7 45.4s60.3 3.6 87.9-6.7s52.9-27.9 69-51.8s22-53 20.1-80.9s-11.8-55.9-31.1-77.7z" stroke="#d87"/>
<path d="M111-86.8c-19.3-21.8-46.9-36.3-75.8-43.2s-60.5-6.4-88.5 4.1s-51.3 30.5-67.3 54.3s-24.9 52.1-23 80.4s14.8 55.3 33.9 76.9s44.9 38.6 74.2 45.6s60.5 3.7 88.3-6.7s53.1-28 69.3-52.1s22.2-53.2 20.2-81.2s-11.9-56.2-31.3-78.1z" stroke="#5ea"/>
<path d="M111.6-87.2c-19.5-21.9-47.1-36.5-76.2-43.5s-60.8-6.4-89 4.2s-51.6 30.6-67.6 54.5s-25 52.4-23 80.8s14.7 55.7 33.9 77.4s45.2 38.7 74.6 45.8s60.9 3.7 88.8-6.7s53.3-28.3 69.6-52.4s22.3-53.5 20.4-81.7s-12.1-56.4-31.5-78.4z" stroke="#742"/>
<path d="M112.1-87.6c-19.6-22.1-47.3-36.8-76.6-43.8s-61-6.3-89.3 4.3s-51.9 30.7-68 54.7s-25.1 52.7-23.1 81.3s14.8 55.9 34.1 77.7s45.4 38.9 74.9 46s61.2 3.8 89.2-6.7s53.6-28.4 69.9-52.7s22.6-53.7 20.6-82s-12.2-56.7-31.7-78.8z" stroke="#25b" class="b"/>
<path d="M112.6-88c-19.6-22.2-47.5-37-76.9-44.1s-61.4-6.3-89.8 4.4s-52.2 30.8-68.4 54.9s-25.1 53-23.1 81.7s14.8 56.2 34.2 78.2s45.7 39 75.4 46.1s61.4 3.9 89.6-6.6s53.8-28.7 70.2-53.1s22.7-53.9 20.8-82.4s-12.4-56.9-32-79.1z" stroke="#980"/>
<path d="M113.1-88.4c-19.7-22.3-47.6-37.3-77.2-44.3s-61.7-6.3-90.2 4.4s-52.5 30.9-68.8 55.2s-25.2 53.2-23.2 82.1s14.8 56.5 34.3 78.5s46 39.2 75.8 46.3s61.8 4 90.1-6.6s54-28.8 70.5-53.3s22.9-54.2 20.9-82.8s-12.5-57.3-32.2-79.5z" stroke="#7aa" class="b"/>
<path d="M113.7-88.8c-19.9-22.4-47.9-37.5-77.6-44.6s-62-6.3-90.7 4.5s-52.8 31-69.1 55.4s-25.3 53.5-23.3 82.5s14.9 56.8 34.4 79s46.3 39.3 76.2 46.5s62.1 4.1 90.6-6.6s54.2-29.1 70.8-53.7s23-54.4 21-83.1s-12.5-57.6-32.3-79.9z" stroke="#b7d" class="c"/>
<path d="M114.2-89.2c-19.9-22.5-48.1-37.7-77.9-44.9s-62.3-6.2-91.1 4.6s-53.1 31.1-69.6 55.6s-25.3 53.8-23.3 82.9s14.9 57.1 34.6 79.4s46.5 39.5 76.6 46.7s62.3 4.2 90.9-6.6s54.5-29.2 71.1-53.9s23.3-54.7 21.3-83.6s-12.7-57.8-32.6-80.2z" stroke="#53d" class="b"/>
<path d="M114.7-89.7c-20-22.5-48.2-37.9-78.2-45.1s-62.7-6.2-91.6 4.7s-53.4 31.2-69.9 55.8s-25.5 54.1-23.4 83.4s14.9 57.4 34.7 79.8s46.8 39.6 77 46.8s62.7 4.3 91.4-6.5s54.7-29.4 71.4-54.3s23.4-54.9 21.4-83.9s-12.8-58.1-32.8-80.7z" stroke="#bb1"/>
<path d="M115.2-90.1c-20-22.7-48.4-38.1-78.6-45.3s-62.9-6.3-92 4.7s-53.6 31.3-70.2 56.1s-25.6 54.3-23.5 83.7s14.9 57.7 34.8 80.2s47.1 39.8 77.4 47.1s63 4.3 91.9-6.6s54.9-29.6 71.7-54.5s23.6-55.2 21.6-84.4s-13-58.3-33.1-81z" stroke="#0b9" class="b"/>
<path d="M115.8-90.5c-20.2-22.8-48.7-38.4-79-45.6s-63.2-6.2-92.4 4.8s-53.9 31.4-70.6 56.3s-25.7 54.7-23.6 84.2s15 57.9 35 80.6s47.2 39.9 77.7 47.2s63.3 4.4 92.4-6.5s55.1-29.8 72-54.9s23.7-55.4 21.7-84.7s-13.1-58.6-33.2-81.4z" stroke="#91e" class="a"/>
<ellipse rx="150.6" ry="141.6" stroke="#d56" class="b"/>
<ellipse rx="151.3" ry="142.3" stroke="#190"/>
<ellipse rx="152" ry="143" stroke="#099" class="b"/>
<ellipse rx="152.7" ry="143.7" stroke="#ff9"/>
<ellipse rx="153.5" ry="144.4" stroke="#570" class="b"/>
<ellipse rx="154.2" ry="145" stroke="#626"/>
<ellipse rx="154.9" ry="145.7" stroke="#b3e" class="b"/>
<ellipse rx="155.6" ry="146.4" stroke="#bcd"/>
<ellipse rx="156.4" ry="147.1" stroke="#842" class="b"/>
<ellipse rx="157.1" ry="147.8" stroke="#7a8"/>
<ellipse rx="157.8" ry="148.5" stroke="#23b" class="b"/>
<ellipse rx="158.6" ry="149.1" stroke="#bfe"/>
<ellipse rx="159.3" ry="149.8" stroke="#b46" class="b"/>
<ellipse rx="160" ry="150.5" stroke="#b41"/>
<ellipse rx="160.7" ry="151.2" stroke="#188" class="b"/>
<ellipse rx="161.5" ry="151.9" stroke="#6ef"/>
<ellipse rx="162.2" ry="152.6" stroke="#f40" class="b"/>
<ellipse rx="162.9" ry="153.3" stroke="#739"/>
<ellipse rx="163.7" ry="154" stroke="#832" class="b"/>
<ellipse rx="164.4" ry="154.6" stroke="#8d9"/>
<ellipse rx="165.1" ry="155.3" stroke="#0cb" class="b"/>
<ellipse rx="165.9" ry="156" stroke="#e28"/>
<ellipse rx="166.6" ry="156.7" stroke="#225" class="b"/>
<ellipse rx="167.3" ry="157.4" stroke="#9eb"/>
<ellipse rx="168.1" ry="158.1" stroke="#3d2" class="b"/>
<ellipse rx="168.8" ry="158.8" stroke="#629"/>
<ellipse rx="169.5" ry="159.5" stroke="#e0a" class="b"/>
<ellipse rx="170.3" ry="160.2" stroke="#5d3"/>
<ellipse rx="171" ry="160.9" stroke="#7ab" class="b"/>
<ellipse rx="171.8" ry="161.6" stroke="#299" class="c"/>
<ellipse rx="172.5" ry="162.3" stroke="#e58" class="b"/>
<ellipse rx="173.2" ry="162.9" stroke="#060" class="c"/>
<ellipse rx="174" ry="163.6" stroke="#c36" class="b"/>
<ellipse rx="174.7" ry="164.3" stroke="#bf2"/>
<ellipse rx="175.4" ry="165" stroke="#89e" class="b"/>
<ellipse rx="176.2" ry="165.7" stroke="#857"/>
<ellipse rx="176.9" ry="166.4" stroke="#039" class="b"/>
<ellipse rx="177.6" ry="167.1" stroke="#aa4" class="a"/>
<ellipse rx="178.4" ry="167.8" stroke="#cbc" class="b"/>
<ellipse rx="179.1" ry="168.5" stroke="#75a"/>
<ellipse rx="179.9" ry="169.2" stroke="#473" class="b"/>
<ellipse rx="180.6" ry="169.9" stroke="#145"/>
<ellipse rx="181.3" ry="170.6" stroke="#9d6" class="b"/>
<ellipse rx="182.1" ry="171.3" stroke="#b4b"/>
<ellipse rx="182.8" ry="172" stroke="#9c1" class="b"/>
<ellipse rx="183.6" ry="172.7" stroke="#116"/>
<ellipse rx="184.3" ry="173.4" stroke="#dd3" class="b"/>
<ellipse rx="185" ry="174.1" stroke="#13a"/>
<ellipse rx="185.8" ry="174.8" stroke="#5b7" class="b"/>
<ellipse rx="186.5" ry="175.4" stroke="#b1d"/>
<ellipse rx="187.3" ry="176.1" stroke="#ec5" class="b"/>
<ellipse rx="188" ry="176.8" stroke="#543" class="a"/>
<ellipse rx="188.7" ry="177.5" stroke="#593" class="b"/>
<ellipse rx="189.5" ry="178.2" stroke="#10b"/>
<ellipse rx="190.2" ry="178.9" stroke="#cd2" class="b"/>
<ellipse rx="191" ry="179.6" stroke="#bbb"/>
<ellipse rx="191.7" ry="180.3" stroke="#a10" class="b"/>
<ellipse rx="192.4" ry="181" stroke="#30e"/>
<ellipse rx="193.2" ry="181.7" stroke="#69e" class="b"/>
<ellipse rx="193.9" ry="182.4" stroke="#ef9"/>
<ellipse rx="194.7" ry="183.1" stroke="#418" class="b"/>
<ellipse rx="195.4" ry="183.8" stroke="#136"/>
<ellipse rx="196.1" ry="184.5" stroke="#c6b" class="b"/>
<ellipse rx="196.9" ry="185.2" stroke="#ad5"/>
<ellipse rx="197.6" ry="185.9" stroke="#c29" class="b"/>
<ellipse rx="198.4" ry="186.6" stroke="#221"/>
<ellipse rx="199.1" ry="187.3" stroke="#7a1" class="b"/>
<ellipse rx="199.9" ry="188" stroke="#77f"/>
<ellipse rx="200.6" ry="188.7" stroke="#ebd" class="b"/>
<ellipse rx="201.3" ry="189.4" stroke="#312"/>
<ellipse rx="202.1" ry="190.1" stroke="#3a1" class="b"/>
<ellipse rx="202.8" ry="190.8" stroke="#85d"/>
<ellipse rx="203.6" ry="191.5" stroke="#4b4" class="b"/>
<ellipse rx="204.3" ry="192.2" stroke="#a1c"/>
<ellipse rx="205" ry="192.9" stroke="#373" class="b"/>
<ellipse rx="205.8" ry="193.6" stroke="#c81"/>
<ellipse rx="206.5" ry="194.3" stroke="#17a" class="b"/>
<ellipse rx="207.3" ry="195" stroke="#d4c"/>
<ellipse rx="208" ry="195.7" stroke="#86a" class="b"/>
<ellipse rx="208.8" ry="196.4" stroke="#ca4"/>
<ellipse rx="209.5" ry="197.1" stroke="#1f8" class="b"/>
<ellipse rx="210.2" ry="197.8" stroke="#a22" class="c"/>
<ellipse rx="211" ry="198.5" stroke="#81b" class="b"/>
<ellipse rx="211.7" ry="199.2" stroke="#7fa"/>
<ellipse rx="212.5" ry="199.9" stroke="#77d" class="b"/>
<ellipse rx="213.2" ry="200.6" stroke="#7a0"/>
<ellipse rx="214" ry="201.3" stroke="#a1e" class="b"/>
<ellipse rx="214.7" ry="202" stroke="#3c6"/>
<ellipse rx="215.4" ry="202.7" stroke="#32a" class="b"/>
<ellipse rx="216.2" ry="203.3" stroke="#5c7"/>
<ellipse rx="216.9" ry="204" stroke="#a78" class="b"/>
<ellipse rx="217.7" ry="204.7" stroke="#a42"/>
<ellipse rx="218.4" ry="205.4" stroke="#64c" class="b"/>
<ellipse rx="219.1" ry="206.1" stroke="#7d4" class="c"/>
<ellipse rx="219.9" ry="206.8" stroke="#068" class="b"/>
<ellipse rx="220.6" ry="207.5" stroke="#d41"/>
<ellipse rx="221.4" ry="208.2" stroke="#9ce" class="b"/>
<ellipse rx="222.1" ry="208.9" stroke="#683"/>
<ellipse rx="222.9" ry="209.6" stroke="#248" class="b"/>
<ellipse rx="223.6" ry="210.3" stroke="#953" class="c"/>
<ellipse rx="224.3" ry="211" stroke="#cb3" class="b"/>
<ellipse rx="225.1" ry="211.7" stroke="#2df"/>
<ellipse rx="225.8" ry="212.4" stroke="#a3e" class="b"/>
</g>
</g>
<g clip-path="url(#cl3)" fill="none" stroke-width="2.6">
<rect x="76.0" y="1163.0" width="316.8" height="298.0" fill="#fff"/>
<rect x="196" y="1163.0" width="76" height="298.0" fill="url(#ch3)"/>
<polygon fill="#a4b" points="222.5,1243.5 223.8,1247.8 225,1252.1 228.3,1252.7 231.5,1253.4 228.3,1255.3 225.2,1257.2 224.8,1261.4 224.3,1265.5 222.1,1261.1 219.8,1256.7 216.7,1256.2 213.5,1255.6 216.9,1253.7 220.2,1251.8 221.4,1247.6"/>
<polygon fill="#b6c" points="227,1254.5 226.1,1251 223.9,1248.8 221.1,1248.8 218.9,1251 218,1254.5 218.9,1258 221.1,1260.2 223.9,1260.2 226.1,1258"/>
<polygon fill="#fff" points="224.3,1254.5 223.8,1252.2 222.5,1251.3 221.2,1252.2 220.7,1254.5 221.2,1256.8 222.5,1257.7 223.8,1256.8"/>
<polygon fill="#a4b" points="222.5,1346 223.8,1350.3 225,1354.6 228.3,1355.2 231.5,1355.9 228.3,1357.8 225.2,1359.8 224.8,1363.9 224.3,1368 222.1,1363.6 219.8,1359.2 216.7,1358.7 213.5,1358.1 216.9,1356.2 220.2,1354.2 221.4,1350.1"/>
<polygon fill="#b6c" points="227,1357 226.1,1353.5 223.9,1351.3 221.1,1351.3 218.9,1353.5 218,1357 218.9,1360.5 221.1,1362.7 223.9,1362.7 226.1,1360.5"/>
<polygon fill="#fff" points="224.3,1357 223.8,1354.7 222.5,1353.8 221.2,1354.7 220.7,1357 221.2,1359.3 222.5,1360.2 223.8,1359.3"/>
<polygon fill="#a4b" points="220.5,1441 221.8,1445.3 223,1449.6 226.3,1450.2 229.5,1450.9 226.3,1452.8 223.2,1454.8 222.8,1458.9 222.3,1463 220.1,1458.6 217.8,1454.2 214.7,1453.7 211.5,1453.1 214.9,1451.2 218.2,1449.2 219.4,1445.1"/>
<polygon fill="#a4b" points="220.5,1143 221.8,1147.3 223,1151.6 226.3,1152.2 229.5,1152.9 226.3,1154.8 223.2,1156.8 222.8,1160.9 222.3,1165 220.1,1160.6 217.8,1156.2 214.7,1155.7 211.5,1155.1 214.9,1153.2 218.2,1151.2 219.4,1147.1"/>
<polygon fill="#b6c" points="225,1452 224.1,1448.5 221.9,1446.3 219.1,1446.3 216.9,1448.5 216,1452 216.9,1455.5 219.1,1457.7 221.9,1457.7 224.1,1455.5"/>
<polygon fill="#fff" points="222.3,1452 221.8,1449.7 220.5,1448.8 219.2,1449.7 218.7,1452 219.2,1454.3 220.5,1455.2 221.8,1454.3"/>
<polygon fill="#a4b" points="222.5,1144 223.8,1148.3 225,1152.6 228.3,1153.2 231.5,1153.9 228.3,1155.8 225.2,1157.8 224.8,1161.9 224.3,1166 222.1,1161.6 219.8,1157.2 216.7,1156.7 213.5,1156.1 216.9,1154.2 220.2,1152.2 221.4,1148.1"/>
<polygon fill="#a4b" points="222.5,1442 223.8,1446.3 225,1450.6 228.3,1451.2 231.5,1451.9 228.3,1453.8 225.2,1455.8 224.8,1459.9 224.3,1464 222.1,1459.6 219.8,1455.2 216.7,1454.7 213.5,1454.1 216.9,1452.2 220.2,1450.2 221.4,1446.1"/>
<polygon fill="#b6c" points="227,1453 226.1,1449.5 223.9,1447.3 221.1,1447.3 218.9,1449.5 218,1453 218.9,1456.5 221.1,1458.7 223.9,1458.7 226.1,1456.5"/>
<polygon fill="#fff" points="224.3,1453 223.8,1450.7 222.5,1449.8 221.2,1450.7 220.7,1453 221.2,1455.3 222.5,1456.2 223.8,1455.3"/>
<polygon fill="#fff" points="221.1,1204.7 220.6,1201.5 219.5,1200.2 218.4,1201.5 217.9,1204.7 218.4,1207.9 219.5,1209.2 220.6,1207.9"/>
<polygon fill="#fff" points="221.1,1307.5 220.6,1304.3 219.5,1303 218.4,1304.3 217.9,1307.5 218.4,1310.7 219.5,1312 220.6,1310.7"/>
<polygon fill="#fff" points="221.1,1412 220.6,1408.8 219.5,1407.5 218.4,1408.8 217.9,1412 218.4,1415.2 219.5,1416.5 220.6,1415.2"/>
<polygon fill="#120" points="246.3,1222 244.8,1219.4 241.8,1219.4 240.3,1222 241.8,1224.6 244.8,1224.6"/>
<polygon fill="#fff" points="244.5,1222 243.7,1220.9 242.3,1221.3 242.3,1222.7 243.7,1223.1"/>
<polygon fill="#120" points="246.3,1270.6 244.8,1268 241.8,1268 240.3,1270.6 241.8,1273.2 244.8,1273.2"/>
<polygon fill="#fff" points="244.5,1270.6 243.7,1269.5 242.3,1269.9 242.3,1271.3 243.7,1271.7"/>
<polygon fill="#120" points="240.5,1338.5 239,1335.9 236,1335.9 234.5,1338.5 236,1341.1 239,1341.1"/>
<polygon fill="#fff" points="238.7,1338.5 237.9,1337.4 236.5,1337.8 236.5,1339.2 237.9,1339.6"/>
<polygon fill="#120" points="251,1396.6 249.5,1394 246.5,1394 245,1396.6 246.5,1399.2 249.5,1399.2"/>
<polygon fill="#fff" points="249.2,1396.6 248.4,1395.5 247,1395.9 247,1397.3 248.4,1397.7"/>
<path d="M76 1163.0h114v298.0h-114zM300 1163.0h93v298.0h-93z" fill="#777" stroke="none"/>
<path d="M208.3 1481c-3.6-8.3-2.7-16.6-2.7-24.9s-.9-16.5 2.7-24.8s10.8-16.6 10.8-24.8s-7.3-16.6-10.8-24.9s-2.7-16.5-2.7-24.8s-.9-16.6 2.7-24.8s10.8-16.6 10.8-24.9s-7.3-16.5-10.8-24.8s-2.7-16.6-2.7-24.8s-.9-16.6 2.7-24.9s10.8-16.5 10.8-24.8s-7.3-16.6-10.8-24.8s-2.7-16.6-2.7-24.9" stroke="#24f"/>
<path d="M207.2 1481c-3.4-8.3-2.8-16.6-2.8-24.9s-.6-16.5 2.8-24.8s10-16.6 10-24.8s-6.7-16.6-10-24.9s-2.8-16.5-2.8-24.8s-.6-16.6 2.8-24.8s10-16.6 10-24.9s-6.7-16.5-10-24.8s-2.8-16.6-2.8-24.8s-.6-16.6 2.8-24.9s10-16.5 10-24.8s-6.7-16.6-10-24.8s-2.8-16.6-2.8-24.9" stroke="#e2c"/>
<path d="M206 1481c-3.2-8.3-2.7-16.6-2.7-24.9s-.5-16.5 2.7-24.8s9.5-16.6 9.5-24.8s-6.3-16.6-9.5-24.9s-2.7-16.5-2.7-24.8s-.5-16.6 2.7-24.8s9.5-16.6 9.5-24.9s-6.3-16.5-9.5-24.8s-2.7-16.6-2.7-24.8s-.5-16.6 2.7-24.9s9.5-16.5 9.5-24.8s-6.3-16.6-9.5-24.8s-2.7-16.6-2.7-24.9" stroke="#f4b"/>
<path d="M204.9 1481c-3.1-8.3-2.8-16.6-2.8-24.9s-.3-16.5 2.8-24.8s8.8-16.6 8.8-24.8s-5.8-16.6-8.8-24.9s-2.8-16.5-2.8-24.8s-.3-16.6 2.8-24.8s8.8-16.6 8.8-24.9s-5.8-16.5-8.8-24.8s-2.8-16.6-2.8-24.8s-.3-16.6 2.8-24.9s8.8-16.5 8.8-24.8s-5.8-16.6-8.8-24.8s-2.8-16.6-2.8-24.9" stroke="#c5d"/>
<path d="M203.7 1481c-2.9-8.3-2.8-16.6-2.8-24.9s-.1-16.5 2.8-24.8s8.4-16.6 8.4-24.8s-5.5-16.6-8.4-24.9s-2.8-16.5-2.8-24.8s-.1-16.6 2.8-24.8s8.4-16.6 8.4-24.9s-5.5-16.5-8.4-24.8s-2.8-16.6-2.8-24.8s-.1-16.6 2.8-24.9s8.4-16.5 8.4-24.8s-5.5-16.6-8.4-24.8s-2.8-16.6-2.8-24.9" stroke="#3d0"/>
<path d="M202.5 1481c-2.8-8.3-2.7-16.6-2.7-24.9s-.1-16.5 2.7-24.8s7.9-16.6 7.9-24.8s-5.1-16.6-7.9-24.9s-2.7-16.5-2.7-24.8s-.1-16.6 2.7-24.8s7.9-16.6 7.9-24.9s-5.1-16.5-7.9-24.8s-2.7-16.6-2.7-24.8s-.1-16.6 2.7-24.9s7.9-16.5 7.9-24.8s-5.1-16.6-7.9-24.8s-2.7-16.6-2.7-24.9" stroke="#443" class="a"/>
<path d="M201.3 1481c-2.6-8.3-2.7-16.6-2.7-24.9s.1-16.5 2.7-24.8s7.5-16.6 7.5-24.8s-4.8-16.6-7.5-24.9s-2.7-16.5-2.7-24.8s.1-16.6 2.7-24.8s7.5-16.6 7.5-24.9s-4.8-16.5-7.5-24.8s-2.7-16.6-2.7-24.8s.1-16.6 2.7-24.9s7.5-16.5 7.5-24.8s-4.8-16.6-7.5-24.8s-2.7-16.6-2.7-24.9" stroke="#64c"/>
<path d="M200.1 1481c-2.5-8.3-2.7-16.6-2.7-24.9s.2-16.5 2.7-24.8s7.1-16.6 7.1-24.8s-4.5-16.6-7.1-24.9s-2.7-16.5-2.7-24.8s.2-16.6 2.7-24.8s7.1-16.6 7.1-24.9s-4.5-16.5-7.1-24.8s-2.7-16.6-2.7-24.8s.2-16.6 2.7-24.9s7.1-16.5 7.1-24.8s-4.5-16.6-7.1-24.8s-2.7-16.6-2.7-24.9" stroke="#9a6"/>
<path d="M198.9 1481c-2.5-8.3-2.7-16.6-2.7-24.9s.2-16.5 2.7-24.8s6.7-16.6 6.7-24.8s-4.2-16.6-6.7-24.9s-2.7-16.5-2.7-24.8s.2-16.6 2.7-24.8s6.7-16.6 6.7-24.9s-4.2-16.5-6.7-24.8s-2.7-16.6-2.7-24.8s.2-16.6 2.7-24.9s6.7-16.5 6.7-24.8s-4.2-16.6-6.7-24.8s-2.7-16.6-2.7-24.9" stroke="#d8f" class="a"/>
<path d="M197.7 1481c-2.4-8.3-2.7-16.6-2.7-24.9s.3-16.5 2.7-24.8s6.4-16.6 6.4-24.8s-4-16.6-6.4-24.9s-2.7-16.5-2.7-24.8s.3-16.6 2.7-24.8s6.4-16.6 6.4-24.9s-4-16.5-6.4-24.8s-2.7-16.6-2.7-24.8s.3-16.6 2.7-24.9s6.4-16.5 6.4-24.8s-4-16.6-6.4-24.8s-2.7-16.6-2.7-24.9" stroke="#c62"/>
<path d="M196.5 1481c-2.3-8.3-2.7-16.6-2.7-24.9s.4-16.5 2.7-24.8s6-16.6 6-24.8s-3.8-16.6-6-24.9s-2.7-16.5-2.7-24.8s.4-16.6 2.7-24.8s6-16.6 6-24.9s-3.8-16.5-6-24.8s-2.7-16.6-2.7-24.8s.4-16.6 2.7-24.9s6-16.5 6-24.8s-3.8-16.6-6-24.8s-2.7-16.6-2.7-24.9" stroke="#37a" class="a"/>
<path d="M195.2 1481c-2.2-8.3-2.6-16.6-2.6-24.9s.4-16.5 2.6-24.8s5.8-16.6 5.8-24.8s-3.6-16.6-5.8-24.9s-2.6-16.5-2.6-24.8s.4-16.6 2.6-24.8s5.8-16.6 5.8-24.9s-3.6-16.5-5.8-24.8s-2.6-16.6-2.6-24.8s.4-16.6 2.6-24.9s5.8-16.5 5.8-24.8s-3.6-16.6-5.8-24.8s-2.6-16.6-2.6-24.9" stroke="#7b3"/>
<path d="M194 1481c-2.2-8.3-2.6-16.6-2.6-24.9s.4-16.5 2.6-24.8s5.5-16.6 5.5-24.8s-3.4-16.6-5.5-24.9s-2.6-16.5-2.6-24.8s.4-16.6 2.6-24.8s5.5-16.6 5.5-24.9s-3.4-16.5-5.5-24.8s-2.6-16.6-2.6-24.8s.4-16.6 2.6-24.9s5.5-16.5 5.5-24.8s-3.4-16.6-5.5-24.8s-2.6-16.6-2.6-24.9" stroke="#36b"/>
<path d="M192.7 1481c-2-8.3-2.6-16.6-2.6-24.9s.6-16.5 2.6-24.8s5.3-16.6 5.3-24.8s-3.2-16.6-5.3-24.9s-2.6-16.5-2.6-24.8s.6-16.6 2.6-24.8s5.3-16.6 5.3-24.9s-3.2-16.5-5.3-24.8s-2.6-16.6-2.6-24.8s.6-16.6 2.6-24.9s5.3-16.5 5.3-24.8s-3.2-16.6-5.3-24.8s-2.6-16.6-2.6-24.9" stroke="#c6f" class="a"/>
<path d="M191.5 1481c-2-8.3-2.6-16.6-2.6-24.9s.6-16.5 2.6-24.8s5-16.6 5-24.8s-3-16.6-5-24.9s-2.6-16.5-2.6-24.8s.6-16.6 2.6-24.8s5-16.6 5-24.9s-3-16.5-5-24.8s-2.6-16.6-2.6-24.8s.6-16.6 2.6-24.9s5-16.5 5-24.8s-3-16.6-5-24.8s-2.6-16.6-2.6-24.9" stroke="#785"/>
<path d="M190.2 1481c-1.9-8.3-2.5-16.6-2.5-24.9s.6-16.5 2.5-24.8s4.9-16.6 4.9-24.8s-3-16.6-4.9-24.9s-2.5-16.5-2.5-24.8s.6-16.6 2.5-24.8s4.9-16.6 4.9-24.9s-3-16.5-4.9-24.8s-2.5-16.6-2.5-24.8s.6-16.6 2.5-24.9s4.9-16.5 4.9-24.8s-3-16.6-4.9-24.8s-2.5-16.6-2.5-24.9" stroke="#a34" class="a"/>
<path d="M189 1481c-1.9-8.3-2.5-16.6-2.5-24.9s.6-16.5 2.5-24.8s4.6-16.6 4.6-24.8s-2.8-16.6-4.6-24.9s-2.5-16.5-2.5-24.8s.6-16.6 2.5-24.8s4.6-16.6 4.6-24.9s-2.8-16.5-4.6-24.8s-2.5-16.6-2.5-24.8s.6-16.6 2.5-24.9s4.6-16.5 4.6-24.8s-2.8-16.6-4.6-24.8s-2.5-16.6-2.5-24.9" stroke="#79b"/>
<path d="M187.7 1481c-1.8-8.3-2.4-16.6-2.4-24.9s.6-16.5 2.4-24.8s4.4-16.6 4.4-24.8s-2.6-16.6-4.4-24.9s-2.4-16.5-2.4-24.8s.6-16.6 2.4-24.8s4.4-16.6 4.4-24.9s-2.6-16.5-4.4-24.8s-2.4-16.6-2.4-24.8s.6-16.6 2.4-24.9s4.4-16.5 4.4-24.8s-2.6-16.6-4.4-24.8s-2.4-16.6-2.4-24.9" stroke="#857" class="a"/>
<path d="M186.4 1481c-1.7-8.3-2.4-16.6-2.4-24.9s.7-16.5 2.4-24.8s4.3-16.6 4.3-24.8s-2.5-16.6-4.3-24.9s-2.4-16.5-2.4-24.8s.7-16.6 2.4-24.8s4.3-16.6 4.3-24.9s-2.5-16.5-4.3-24.8s-2.4-16.6-2.4-24.8s.7-16.6 2.4-24.9s4.3-16.5 4.3-24.8s-2.5-16.6-4.3-24.8s-2.4-16.6-2.4-24.9" stroke="#6c4"/>
<path d="M185.2 1481c-1.7-8.3-2.4-16.6-2.4-24.9s.7-16.5 2.4-24.8s4.1-16.6 4.1-24.8s-2.4-16.6-4.1-24.9s-2.4-16.5-2.4-24.8s.7-16.6 2.4-24.8s4.1-16.6 4.1-24.9s-2.4-16.5-4.1-24.8s-2.4-16.6-2.4-24.8s.7-16.6 2.4-24.9s4.1-16.5 4.1-24.8s-2.4-16.6-4.1-24.8s-2.4-16.6-2.4-24.9" stroke="#b4d"/>
<path d="M183.9 1481c-1.6-8.3-2.3-16.6-2.3-24.9s.7-16.5 2.3-24.8s3.9-16.6 3.9-24.8s-2.3-16.6-3.9-24.9s-2.3-16.5-2.3-24.8s.7-16.6 2.3-24.8s3.9-16.6 3.9-24.9s-2.3-16.5-3.9-24.8s-2.3-16.6-2.3-24.8s.7-16.6 2.3-24.9s3.9-16.5 3.9-24.8s-2.3-16.6-3.9-24.8s-2.3-16.6-2.3-24.9" stroke="#979"/>
<path d="M182.6 1481c-1.6-8.3-2.3-16.6-2.3-24.9s.7-16.5 2.3-24.8s3.8-16.6 3.8-24.8s-2.2-16.6-3.8-24.9s-2.3-16.5-2.3-24.8s.7-16.6 2.3-24.8s3.8-16.6 3.8-24.9s-2.2-16.5-3.8-24.8s-2.3-16.6-2.3-24.8s.7-16.6 2.3-24.9s3.8-16.5 3.8-24.8s-2.2-16.6-3.8-24.8s-2.3-16.6-2.3-24.9" stroke="#581"/>
<path d="M181.4 1481c-1.6-8.3-2.3-16.6-2.3-24.9s.7-16.5 2.3-24.8s3.6-16.6 3.6-24.8s-2.1-16.6-3.6-24.9s-2.3-16.5-2.3-24.8s.7-16.6 2.3-24.8s3.6-16.6 3.6-24.9s-2.1-16.5-3.6-24.8s-2.3-16.6-2.3-24.8s.7-16.6 2.3-24.9s3.6-16.5 3.6-24.8s-2.1-16.6-3.6-24.8s-2.3-16.6-2.3-24.9" stroke="#288"/>
<path d="M180.1 1481c-1.5-8.3-2.2-16.6-2.2-24.9s.7-16.5 2.2-24.8s3.5-16.6 3.5-24.8s-2-16.6-3.5-24.9s-2.2-16.5-2.2-24.8s.7-16.6 2.2-24.8s3.5-16.6 3.5-24.9s-2-16.5-3.5-24.8s-2.2-16.6-2.2-24.8s.7-16.6 2.2-24.9s3.5-16.5 3.5-24.8s-2-16.6-3.5-24.8s-2.2-16.6-2.2-24.9" stroke="#c7b"/>
<path d="M178.8 1481c-1.4-8.3-2.2-16.6-2.2-24.9s.8-16.5 2.2-24.8s3.4-16.6 3.4-24.8s-1.9-16.6-3.4-24.9s-2.2-16.5-2.2-24.8s.8-16.6 2.2-24.8s3.4-16.6 3.4-24.9s-1.9-16.5-3.4-24.8s-2.2-16.6-2.2-24.8s.8-16.6 2.2-24.9s3.4-16.5 3.4-24.8s-1.9-16.6-3.4-24.8s-2.2-16.6-2.2-24.9" stroke="#35e"/>
<path d="M177.5 1481c-1.4-8.3-2.1-16.6-2.1-24.9s.7-16.5 2.1-24.8s3.3-16.6 3.3-24.8s-1.9-16.6-3.3-24.9s-2.1-16.5-2.1-24.8s.7-16.6 2.1-24.8s3.3-16.6 3.3-24.9s-1.9-16.5-3.3-24.8s-2.1-16.6-2.1-24.8s.7-16.6 2.1-24.9s3.3-16.5 3.3-24.8s-1.9-16.6-3.3-24.8s-2.1-16.6-2.1-24.9" stroke="#e79"/>
<path d="M176.2 1481c-1.3-8.3-2.1-16.6-2.1-24.9s.8-16.5 2.1-24.8s3.2-16.6 3.2-24.8s-1.8-16.6-3.2-24.9s-2.1-16.5-2.1-24.8s.8-16.6 2.1-24.8s3.2-16.6 3.2-24.9s-1.8-16.5-3.2-24.8s-2.1-16.6-2.1-24.8s.8-16.6 2.1-24.9s3.2-16.5 3.2-24.8s-1.8-16.6-3.2-24.8s-2.1-16.6-2.1-24.9" stroke="#2b0"/>
<path d="M178 1505.8c0-16.6-5.1-33.1-5.1-49.7s5.1-33.1 5.1-49.6s-5.1-33.2-5.1-49.7s5.1-33.1 5.1-49.7s-5.1-33.1-5.1-49.6s5.1-33.2 5.1-49.7s-5.1-33.1-5.1-49.7" stroke="#c64"/>
<path d="M176.6 1505.8c0-16.6-4.9-33.1-4.9-49.7s4.9-33.1 4.9-49.6s-4.9-33.2-4.9-49.7s4.9-33.1 4.9-49.7s-4.9-33.1-4.9-49.6s4.9-33.2 4.9-49.7s-4.9-33.1-4.9-49.7" stroke="#09a"/>
<path d="M175.2 1505.8c0-16.6-4.8-33.1-4.8-49.7s4.8-33.1 4.8-49.6s-4.8-33.2-4.8-49.7s4.8-33.1 4.8-49.7s-4.8-33.1-4.8-49.6s4.8-33.2 4.8-49.7s-4.8-33.1-4.8-49.7" stroke="#f85" class="b"/>
<path d="M173.8 1505.8c0-16.6-4.6-33.1-4.6-49.7s4.6-33.1 4.6-49.6s-4.6-33.2-4.6-49.7s4.6-33.1 4.6-49.7s-4.6-33.1-4.6-49.6s4.6-33.2 4.6-49.7s-4.6-33.1-4.6-49.7" stroke="#263"/>
<path d="M172.4 1505.8c0-16.6-4.5-33.1-4.5-49.7s4.5-33.1 4.5-49.6s-4.5-33.2-4.5-49.7s4.5-33.1 4.5-49.7s-4.5-33.1-4.5-49.6s4.5-33.2 4.5-49.7s-4.5-33.1-4.5-49.7" stroke="#b85" class="b"/>
<path d="M171.1 1505.8c0-16.6-4.4-33.1-4.4-49.7s4.4-33.1 4.4-49.6s-4.4-33.2-4.4-49.7s4.4-33.1 4.4-49.7s-4.4-33.1-4.4-49.6s4.4-33.2 4.4-49.7s-4.4-33.1-4.4-49.7" stroke="#0bb"/>
<path d="M169.7 1505.8c0-16.6-4.3-33.1-4.3-49.7s4.3-33.1 4.3-49.6s-4.3-33.2-4.3-49.7s4.3-33.1 4.3-49.7s-4.3-33.1-4.3-49.6s4.3-33.2 4.3-49.7s-4.3-33.1-4.3-49.7" stroke="#acd"/>
<path d="M168.3 1505.8c0-16.6-4.1-33.1-4.1-49.7s4.1-33.1 4.1-49.6s-4.1-33.2-4.1-49.7s4.1-33.1 4.1-49.7s-4.1-33.1-4.1-49.6s4.1-33.2 4.1-49.7s-4.1-33.1-4.1-49.7" stroke="#110"/>
<path d="M166.9 1505.8c0-16.6-4-33.1-4-49.7s4-33.1 4-49.6s-4-33.2-4-49.7s4-33.1 4-49.7s-4-33.1-4-49.6s4-33.2 4-49.7s-4-33.1-4-49.7" stroke="#c87"/>
<path d="M165.6 1505.8c0-16.6-3.9-33.1-3.9-49.7s3.9-33.1 3.9-49.6s-3.9-33.2-3.9-49.7s3.9-33.1 3.9-49.7s-3.9-33.1-3.9-49.6s3.9-33.2 3.9-49.7s-3.9-33.1-3.9-49.7" stroke="#7de" class="a"/>
<path d="M164.2 1505.8c0-16.6-3.8-33.1-3.8-49.7s3.8-33.1 3.8-49.6s-3.8-33.2-3.8-49.7s3.8-33.1 3.8-49.7s-3.8-33.1-3.8-49.6s3.8-33.2 3.8-49.7s-3.8-33.1-3.8-49.7" stroke="#b81"/>
<path d="M162.8 1505.8c0-16.6-3.6-33.1-3.6-49.7s3.6-33.1 3.6-49.6s-3.6-33.2-3.6-49.7s3.6-33.1 3.6-49.7s-3.6-33.1-3.6-49.6s3.6-33.2 3.6-49.7s-3.6-33.1-3.6-49.7" stroke="#204" class="a"/>
<path d="M161.5 1505.8c0-16.6-3.6-33.1-3.6-49.7s3.6-33.1 3.6-49.6s-3.6-33.2-3.6-49.7s3.6-33.1 3.6-49.7s-3.6-33.1-3.6-49.6s3.6-33.2 3.6-49.7s-3.6-33.1-3.6-49.7" stroke="#67f"/>
<path d="M160.1 1505.8c0-16.6-3.4-33.1-3.4-49.7s3.4-33.1 3.4-49.6s-3.4-33.2-3.4-49.7s3.4-33.1 3.4-49.7s-3.4-33.1-3.4-49.6s3.4-33.2 3.4-49.7s-3.4-33.1-3.4-49.7" stroke="#9ac"/>
<path d="M158.8 1505.8c0-16.6-3.4-33.1-3.4-49.7s3.4-33.1 3.4-49.6s-3.4-33.2-3.4-49.7s3.4-33.1 3.4-49.7s-3.4-33.1-3.4-49.6s3.4-33.2 3.4-49.7s-3.4-33.1-3.4-49.7" stroke="#3ea" class="b"/>
<path d="M157.4 1505.8c0-16.6-3.3-33.1-3.3-49.7s3.3-33.1 3.3-49.6s-3.3-33.2-3.3-49.7s3.3-33.1 3.3-49.7s-3.3-33.1-3.3-49.6s3.3-33.2 3.3-49.7s-3.3-33.1-3.3-49.7" stroke="#431"/>
<path d="M156.1 1505.8c0-16.6-3.2-33.1-3.2-49.7s3.2-33.1 3.2-49.6s-3.2-33.2-3.2-49.7s3.2-33.1 3.2-49.7s-3.2-33.1-3.2-49.6s3.2-33.2 3.2-49.7s-3.2-33.1-3.2-49.7" stroke="#a59" class="a"/>
<path d="M154.7 1505.8c0-16.6-3.1-33.1-3.1-49.7s3.1-33.1 3.1-49.6s-3.1-33.2-3.1-49.7s3.1-33.1 3.1-49.7s-3.1-33.1-3.1-49.6s3.1-33.2 3.1-49.7s-3.1-33.1-3.1-49.7" stroke="#a75"/>
<path d="M153.4 1505.8c0-16.6-3-33.1-3-49.7s3-33.1 3-49.6s-3-33.2-3-49.7s3-33.1 3-49.7s-3-33.1-3-49.6s3-33.2 3-49.7s-3-33.1-3-49.7" stroke="#3e6"/>
<path d="M152 1505.8c0-16.6-2.9-33.1-2.9-49.7s2.9-33.1 2.9-49.6s-2.9-33.2-2.9-49.7s2.9-33.1 2.9-49.7s-2.9-33.1-2.9-49.6s2.9-33.2 2.9-49.7s-2.9-33.1-2.9-49.7" stroke="#639"/>
<path d="M150.7 1505.8c0-16.6-2.9-33.1-2.9-49.7s2.9-33.1 2.9-49.6s-2.9-33.2-2.9-49.7s2.9-33.1 2.9-49.7s-2.9-33.1-2.9-49.6s2.9-33.2 2.9-49.7s-2.9-33.1-2.9-49.7" stroke="#c53"/>
<path d="M149.3 1505.8c0-16.6-2.7-33.1-2.7-49.7s2.7-33.1 2.7-49.6s-2.7-33.2-2.7-49.7s2.7-33.1 2.7-49.7s-2.7-33.1-2.7-49.6s2.7-33.2 2.7-49.7s-2.7-33.1-2.7-49.7" stroke="#435"/>
<path d="M148 1505.8c0-16.6-2.7-33.1-2.7-49.7s2.7-33.1 2.7-49.6s-2.7-33.2-2.7-49.7s2.7-33.1 2.7-49.7s-2.7-33.1-2.7-49.6s2.7-33.2 2.7-49.7s-2.7-33.1-2.7-49.7" stroke="#2bf"/>
<path d="M146.6 1505.8c0-16.6-2.6-33.1-2.6-49.7s2.6-33.1 2.6-49.6s-2.6-33.2-2.6-49.7s2.6-33.1 2.6-49.7s-2.6-33.1-2.6-49.6s2.6-33.2 2.6-49.7s-2.6-33.1-2.6-49.7" stroke="#5e1"/>
<path d="M145.3 1505.8c0-16.6-2.5-33.1-2.5-49.7s2.5-33.1 2.5-49.6s-2.5-33.2-2.5-49.7s2.5-33.1 2.5-49.7s-2.5-33.1-2.5-49.6s2.5-33.2 2.5-49.7s-2.5-33.1-2.5-49.7" stroke="#d5c"/>
<path d="M144 1505.8c0-16.6-2.5-33.1-2.5-49.7s2.5-33.1 2.5-49.6s-2.5-33.2-2.5-49.7s2.5-33.1 2.5-49.7s-2.5-33.1-2.5-49.6s2.5-33.2 2.5-49.7s-2.5-33.1-2.5-49.7" stroke="#733"/>
<path d="M142.6 1505.8c0-16.6-2.4-33.1-2.4-49.7s2.4-33.1 2.4-49.6s-2.4-33.2-2.4-49.7s2.4-33.1 2.4-49.7s-2.4-33.1-2.4-49.6s2.4-33.2 2.4-49.7s-2.4-33.1-2.4-49.7" stroke="#4a8"/>
<path d="M141.3 1505.8c0-16.6-2.3-33.1-2.3-49.7s2.3-33.1 2.3-49.6s-2.3-33.2-2.3-49.7s2.3-33.1 2.3-49.7s-2.3-33.1-2.3-49.6s2.3-33.2 2.3-49.7s-2.3-33.1-2.3-49.7" stroke="#c83" class="a"/>
<path d="M140 1505.8c0-16.6-2.3-33.1-2.3-49.7s2.3-33.1 2.3-49.6s-2.3-33.2-2.3-49.7s2.3-33.1 2.3-49.7s-2.3-33.1-2.3-49.6s2.3-33.2 2.3-49.7s-2.3-33.1-2.3-49.7" stroke="#ab9"/>
<path d="M138.6 1505.8c0-16.6-2.2-33.1-2.2-49.7s2.2-33.1 2.2-49.6s-2.2-33.2-2.2-49.7s2.2-33.1 2.2-49.7s-2.2-33.1-2.2-49.6s2.2-33.2 2.2-49.7s-2.2-33.1-2.2-49.7" stroke="#737" class="b"/>
<path d="M137.3 1505.8c0-16.6-2.1-33.1-2.1-49.7s2.1-33.1 2.1-49.6s-2.1-33.2-2.1-49.7s2.1-33.1 2.1-49.7s-2.1-33.1-2.1-49.6s2.1-33.2 2.1-49.7s-2.1-33.1-2.1-49.7" stroke="#01b"/>
<path d="M136 1505.8c0-16.6-2.1-33.1-2.1-49.7s2.1-33.1 2.1-49.6s-2.1-33.2-2.1-49.7s2.1-33.1 2.1-49.7s-2.1-33.1-2.1-49.6s2.1-33.2 2.1-49.7s-2.1-33.1-2.1-49.7" stroke="#acf" class="b"/>
<path d="M134.6 1505.8c0-16.6-2-33.1-2-49.7s2-33.1 2-49.6s-2-33.2-2-49.7s2-33.1 2-49.7s-2-33.1-2-49.6s2-33.2 2-49.7s-2-33.1-2-49.7" stroke="#b81"/>
<path d="M133.3 1505.8c0-16.6-2-33.1-2-49.7s2-33.1 2-49.6s-2-33.2-2-49.7s2-33.1 2-49.7s-2-33.1-2-49.6s2-33.2 2-49.7s-2-33.1-2-49.7" stroke="#a4b"/>
<path d="M132 1505.8c0-16.6-1.9-33.1-1.9-49.7s1.9-33.1 1.9-49.6s-1.9-33.2-1.9-49.7s1.9-33.1 1.9-49.7s-1.9-33.1-1.9-49.6s1.9-33.2 1.9-49.7s-1.9-33.1-1.9-49.7" stroke="#032" class="c"/>
<path d="M130.6 1505.8c0-16.6-1.8-33.1-1.8-49.7s1.8-33.1 1.8-49.6s-1.8-33.2-1.8-49.7s1.8-33.1 1.8-49.7s-1.8-33.1-1.8-49.6s1.8-33.2 1.8-49.7s-1.8-33.1-1.8-49.7" stroke="#a35"/>
<path d="M129.3 1505.8c0-16.6-1.8-33.1-1.8-49.7s1.8-33.1 1.8-49.6s-1.8-33.2-1.8-49.7s1.8-33.1 1.8-49.7s-1.8-33.1-1.8-49.6s1.8-33.2 1.8-49.7s-1.8-33.1-1.8-49.7" stroke="#8de" class="b"/>
<path d="M128 1505.8c0-16.6-1.7-33.1-1.7-49.7s1.7-33.1 1.7-49.6s-1.7-33.2-1.7-49.7s1.7-33.1 1.7-49.7s-1.7-33.1-1.7-49.6s1.7-33.2 1.7-49.7s-1.7-33.1-1.7-49.7" stroke="#e86"/>
<path d="M126.7 1505.8c0-16.6-1.7-33.1-1.7-49.7s1.7-33.1 1.7-49.6s-1.7-33.2-1.7-49.7s1.7-33.1 1.7-49.7s-1.7-33.1-1.7-49.6s1.7-33.2 1.7-49.7s-1.7-33.1-1.7-49.7" stroke="#050" class="c"/>
<path d="M125.3 1505.8c0-16.6-1.6-33.1-1.6-49.7s1.6-33.1 1.6-49.6s-1.6-33.2-1.6-49.7s1.6-33.1 1.6-49.7s-1.6-33.1-1.6-49.6s1.6-33.2 1.6-49.7s-1.6-33.1-1.6-49.7" stroke="#52e"/>
<path d="M124 1505.8c0-16.6-1.6-33.1-1.6-49.7s1.6-33.1 1.6-49.6s-1.6-33.2-1.6-49.7s1.6-33.1 1.6-49.7s-1.6-33.1-1.6-49.6s1.6-33.2 1.6-49.7s-1.6-33.1-1.6-49.7" stroke="#2ce"/>
<path d="M122.7 1505.8c0-16.6-1.6-33.1-1.6-49.7s1.6-33.1 1.6-49.6s-1.6-33.2-1.6-49.7s1.6-33.1 1.6-49.7s-1.6-33.1-1.6-49.6s1.6-33.2 1.6-49.7s-1.6-33.1-1.6-49.7" stroke="#9f3" class="b"/>
<path d="M121.4 1505.8c0-16.6-1.5-33.1-1.5-49.7s1.5-33.1 1.5-49.6s-1.5-33.2-1.5-49.7s1.5-33.1 1.5-49.7s-1.5-33.1-1.5-49.6s1.5-33.2 1.5-49.7s-1.5-33.1-1.5-49.7" stroke="#e47"/>
<path d="M120 1505.8c0-16.6-1.4-33.1-1.4-49.7s1.4-33.1 1.4-49.6s-1.4-33.2-1.4-49.7s1.4-33.1 1.4-49.7s-1.4-33.1-1.4-49.6s1.4-33.2 1.4-49.7s-1.4-33.1-1.4-49.7" stroke="#a03"/>
<path d="M118.7 1505.8c0-16.6-1.4-33.1-1.4-49.7s1.4-33.1 1.4-49.6s-1.4-33.2-1.4-49.7s1.4-33.1 1.4-49.7s-1.4-33.1-1.4-49.6s1.4-33.2 1.4-49.7s-1.4-33.1-1.4-49.7" stroke="#37d"/>
<path d="M117.4 1505.8c0-16.6-1.4-33.1-1.4-49.7s1.4-33.1 1.4-49.6s-1.4-33.2-1.4-49.7s1.4-33.1 1.4-49.7s-1.4-33.1-1.4-49.6s1.4-33.2 1.4-49.7s-1.4-33.1-1.4-49.7" stroke="#1aa"/>
<path d="M116.1 1505.8c0-16.6-1.4-33.1-1.4-49.7s1.4-33.1 1.4-49.6s-1.4-33.2-1.4-49.7s1.4-33.1 1.4-49.7s-1.4-33.1-1.4-49.6s1.4-33.2 1.4-49.7s-1.4-33.1-1.4-49.7" stroke="#9d0"/>
<path d="M114.8 1505.8c0-16.6-1.3-33.1-1.3-49.7s1.3-33.1 1.3-49.6s-1.3-33.2-1.3-49.7s1.3-33.1 1.3-49.7s-1.3-33.1-1.3-49.6s1.3-33.2 1.3-49.7s-1.3-33.1-1.3-49.7" stroke="#c3a"/>
<path d="M113.4 1505.8c0-16.6-1.2-33.1-1.2-49.7s1.2-33.1 1.2-49.6s-1.2-33.2-1.2-49.7s1.2-33.1 1.2-49.7s-1.2-33.1-1.2-49.6s1.2-33.2 1.2-49.7s-1.2-33.1-1.2-49.7" stroke="#496"/>
<path d="M112.1 1505.8c0-16.6-1.2-33.1-1.2-49.7s1.2-33.1 1.2-49.6s-1.2-33.2-1.2-49.7s1.2-33.1 1.2-49.7s-1.2-33.1-1.2-49.6s1.2-33.2 1.2-49.7s-1.2-33.1-1.2-49.7" stroke="#d9c" class="b"/>
<path d="M110.8 1505.8c0-16.6-1.2-33.1-1.2-49.7s1.2-33.1 1.2-49.6s-1.2-33.2-1.2-49.7s1.2-33.1 1.2-49.7s-1.2-33.1-1.2-49.6s1.2-33.2 1.2-49.7s-1.2-33.1-1.2-49.7" stroke="#496"/>
<path d="M109.5 1505.8c0-16.6-1.2-33.1-1.2-49.7s1.2-33.1 1.2-49.6s-1.2-33.2-1.2-49.7s1.2-33.1 1.2-49.7s-1.2-33.1-1.2-49.6s1.2-33.2 1.2-49.7s-1.2-33.1-1.2-49.7" stroke="#991"/>
<path d="M108.2 1505.8c0-16.6-1.2-33.1-1.2-49.7s1.2-33.1 1.2-49.6s-1.2-33.2-1.2-49.7s1.2-33.1 1.2-49.7s-1.2-33.1-1.2-49.6s1.2-33.2 1.2-49.7s-1.2-33.1-1.2-49.7" stroke="#828"/>
<path d="M106.9 1505.8c0-16.6-1.1-33.1-1.1-49.7s1.1-33.1 1.1-49.6s-1.1-33.2-1.1-49.7s1.1-33.1 1.1-49.7s-1.1-33.1-1.1-49.6s1.1-33.2 1.1-49.7s-1.1-33.1-1.1-49.7" stroke="#2ba"/>
<path d="M105.5 1505.8c0-16.6-1-33.1-1-49.7s1-33.1 1-49.6s-1-33.2-1-49.7s1-33.1 1-49.7s-1-33.1-1-49.6s1-33.2 1-49.7s-1-33.1-1-49.7" stroke="#d68" class="c"/>
<path d="M104.2 1505.8c0-16.6-1-33.1-1-49.7s1-33.1 1-49.6s-1-33.2-1-49.7s1-33.1 1-49.7s-1-33.1-1-49.6s1-33.2 1-49.7s-1-33.1-1-49.7" stroke="#5c5"/>
<path d="M102.9 1505.8c0-16.6-1-33.1-1-49.7s1-33.1 1-49.6s-1-33.2-1-49.7s1-33.1 1-49.7s-1-33.1-1-49.6s1-33.2 1-49.7s-1-33.1-1-49.7" stroke="#b28"/>
<path d="M101.6 1505.8c0-16.6-1-33.1-1-49.7s1-33.1 1-49.6s-1-33.2-1-49.7s1-33.1 1-49.7s-1-33.1-1-49.6s1-33.2 1-49.7s-1-33.1-1-49.7" stroke="#2ad"/>
<path d="M100.3 1505.8c0-16.6-1-33.1-1-49.7s1-33.1 1-49.6s-1-33.2-1-49.7s1-33.1 1-49.7s-1-33.1-1-49.6s1-33.2 1-49.7s-1-33.1-1-49.7" stroke="#b46"/>
<path d="M99 1505.8c0-16.6-1-33.1-1-49.7s1-33.1 1-49.6s-1-33.2-1-49.7s1-33.1 1-49.7s-1-33.1-1-49.6s1-33.2 1-49.7s-1-33.1-1-49.7" stroke="#ab0" class="a"/>
<path d="M97.6 1505.8c0-16.6-.8-33.1-.8-49.7s.8-33.1 .8-49.6s-.8-33.2-.8-49.7s.8-33.1 .8-49.7s-.8-33.1-.8-49.6s.8-33.2 .8-49.7s-.8-33.1-.8-49.7" stroke="#78c"/>
<path d="M96.3 1505.8c0-16.6-.8-33.1-.8-49.7s.8-33.1 .8-49.6s-.8-33.2-.8-49.7s.8-33.1 .8-49.7s-.8-33.1-.8-49.6s.8-33.2 .8-49.7s-.8-33.1-.8-49.7" stroke="#3bc" class="a"/>
<path d="M95 1505.8c0-16.6-.8-33.1-.8-49.7s.8-33.1 .8-49.6s-.8-33.2-.8-49.7s.8-33.1 .8-49.7s-.8-33.1-.8-49.6s.8-33.2 .8-49.7s-.8-33.1-.8-49.7" stroke="#f0e"/>
<path d="M93.7 1505.8c0-16.6-.8-33.1-.8-49.7s.8-33.1 .8-49.6s-.8-33.2-.8-49.7s.8-33.1 .8-49.7s-.8-33.1-.8-49.6s.8-33.2 .8-49.7s-.8-33.1-.8-49.7" stroke="#b52" class="a"/>
<path d="M92.4 1505.8c0-16.6-.8-33.1-.8-49.7s.8-33.1 .8-49.6s-.8-33.2-.8-49.7s.8-33.1 .8-49.7s-.8-33.1-.8-49.6s.8-33.2 .8-49.7s-.8-33.1-.8-49.7" stroke="#7e4"/>
<path d="M91.1 1505.8c0-16.6-.8-33.1-.8-49.7s.8-33.1 .8-49.6s-.8-33.2-.8-49.7s.8-33.1 .8-49.7s-.8-33.1-.8-49.6s.8-33.2 .8-49.7s-.8-33.1-.8-49.7" stroke="#406"/>
<path d="M89.8 1505.8c0-16.6-.8-33.1-.8-49.7s.8-33.1 .8-49.6s-.8-33.2-.8-49.7s.8-33.1 .8-49.7s-.8-33.1-.8-49.6s.8-33.2 .8-49.7s-.8-33.1-.8-49.7" stroke="#679" class="c"/>
<path d="M88.5 1505.8c0-16.6-.8-33.1-.8-49.7s.8-33.1 .8-49.6s-.8-33.2-.8-49.7s.8-33.1 .8-49.7s-.8-33.1-.8-49.6s.8-33.2 .8-49.7s-.8-33.1-.8-49.7" stroke="#6a3"/>
<path d="M87.2 1505.8c0-16.6-.8-33.1-.8-49.7s.8-33.1 .8-49.6s-.8-33.2-.8-49.7s.8-33.1 .8-49.7s-.8-33.1-.8-49.6s.8-33.2 .8-49.7s-.8-33.1-.8-49.7" stroke="#ef0"/>
<path d="M85.8 1505.8c0-16.6-.6-33.1-.6-49.7s.6-33.1 .6-49.6s-.6-33.2-.6-49.7s.6-33.1 .6-49.7s-.6-33.1-.6-49.6s.6-33.2 .6-49.7s-.6-33.1-.6-49.7" stroke="#59c" class="a"/>
<path d="M84.5 1505.8c0-16.6-.6-33.1-.6-49.7s.6-33.1 .6-49.6s-.6-33.2-.6-49.7s.6-33.1 .6-49.7s-.6-33.1-.6-49.6s.6-33.2 .6-49.7s-.6-33.1-.6-49.7" stroke="#902"/>
<path d="M83.2 1505.8c0-16.6-.6-33.1-.6-49.7s.6-33.1 .6-49.6s-.6-33.2-.6-49.7s.6-33.1 .6-49.7s-.6-33.1-.6-49.6s.6-33.2 .6-49.7s-.6-33.1-.6-49.7" stroke="#26b" class="a"/>
<path d="M81.9 1505.8c0-16.6-.6-33.1-.6-49.7s.6-33.1 .6-49.6s-.6-33.2-.6-49.7s.6-33.1 .6-49.7s-.6-33.1-.6-49.6s.6-33.2 .6-49.7s-.6-33.1-.6-49.7" stroke="#eb0"/>
<path d="M80.6 1505.8c0-16.6-.6-33.1-.6-49.7s.6-33.1 .6-49.6s-.6-33.2-.6-49.7s.6-33.1 .6-49.7s-.6-33.1-.6-49.6s.6-33.2 .6-49.7s-.6-33.1-.6-49.7" stroke="#2dd"/>
<path d="M79.3 1505.8c0-16.6-.6-33.1-.6-49.7s.6-33.1 .6-49.6s-.6-33.2-.6-49.7s.6-33.1 .6-49.7s-.6-33.1-.6-49.6s.6-33.2 .6-49.7s-.6-33.1-.6-49.7" stroke="#666" class="a"/>
<path d="M78 1505.8c0-16.6-.6-33.1-.6-49.7s.6-33.1 .6-49.6s-.6-33.2-.6-49.7s.6-33.1 .6-49.7s-.6-33.1-.6-49.6s.6-33.2 .6-49.7s-.6-33.1-.6-49.7" stroke="#418"/>
<path d="M76.7 1505.8c0-16.6-.6-33.1-.6-49.7s.6-33.1 .6-49.6s-.6-33.2-.6-49.7s.6-33.1 .6-49.7s-.6-33.1-.6-49.6s.6-33.2 .6-49.7s-.6-33.1-.6-49.7" stroke="#e65" class="a"/>
<path d="M75.4 1505.8c0-16.6-.6-33.1-.6-49.7s.6-33.1 .6-49.6s-.6-33.2-.6-49.7s.6-33.1 .6-49.7s-.6-33.1-.6-49.6s.6-33.2 .6-49.7s-.6-33.1-.6-49.7" stroke="#0ea"/>
<path d="M74.1 1505.8c0-16.6-.6-33.1-.6-49.7s.6-33.1 .6-49.6s-.6-33.2-.6-49.7s.6-33.1 .6-49.7s-.6-33.1-.6-49.6s.6-33.2 .6-49.7s-.6-33.1-.6-49.7" stroke="#ba2" class="b"/>
<path d="M72.8 1505.8c0-16.6-.6-33.1-.6-49.7s.6-33.1 .6-49.6s-.6-33.2-.6-49.7s.6-33.1 .6-49.7s-.6-33.1-.6-49.6s.6-33.2 .6-49.7s-.6-33.1-.6-49.7" stroke="#33d"/>
<path d="M71.5 1505.8c0-16.6-.5-33.1-.5-49.7s.5-33.1 .5-49.6s-.5-33.2-.5-49.7s.5-33.1 .5-49.7s-.5-33.1-.5-49.6s.5-33.2 .5-49.7s-.5-33.1-.5-49.7" stroke="#76d" class="a"/>
<path d="M70.1 1505.8c0-16.6-.4-33.1-.4-49.7s.4-33.1 .4-49.6s-.4-33.2-.4-49.7s.4-33.1 .4-49.7s-.4-33.1-.4-49.6s.4-33.2 .4-49.7s-.4-33.1-.4-49.7" stroke="#a62"/>
<path d="M68.8 1505.8c0-16.6-.4-33.1-.4-49.7s.4-33.1 .4-49.6s-.4-33.2-.4-49.7s.4-33.1 .4-49.7s-.4-33.1-.4-49.6s.4-33.2 .4-49.7s-.4-33.1-.4-49.7" stroke="#d97"/>
<path d="M67.5 1505.8c0-16.6-.4-33.1-.4-49.7s.4-33.1 .4-49.6s-.4-33.2-.4-49.7s.4-33.1 .4-49.7s-.4-33.1-.4-49.6s.4-33.2 .4-49.7s-.4-33.1-.4-49.7" stroke="#189" class="a"/>
<path d="M66.2 1505.8c0-16.6-.4-33.1-.4-49.7s.4-33.1 .4-49.6s-.4-33.2-.4-49.7s.4-33.1 .4-49.7s-.4-33.1-.4-49.6s.4-33.2 .4-49.7s-.4-33.1-.4-49.7" stroke="#c38"/>
<path d="M64.9 1505.8c0-16.6-.4-33.1-.4-49.7s.4-33.1 .4-49.6s-.4-33.2-.4-49.7s.4-33.1 .4-49.7s-.4-33.1-.4-49.6s.4-33.2 .4-49.7s-.4-33.1-.4-49.7" stroke="#4c2" class="a"/>
<path d="M256.5 1467.3c3.3-5 5.4-10 5.4-14.9s-2.1-10-5.4-14.9s-8.5-10-8.5-14.9s5.2-10 8.5-14.9s5.4-10 5.4-14.9s-2.1-10-5.4-14.9s-8.5-10-8.5-14.9s5.2-10 8.5-14.9s5.4-10 5.4-14.9s-2.1-10-5.4-14.9s-8.5-10-8.5-14.9s5.2-10 8.5-14.9s5.4-10 5.4-14.9s-2.1-10-5.4-14.9s-8.5-10-8.5-14.9s5.2-10 8.5-14.9s5.4-10 5.4-14.9s-2.1-10-5.4-14.9s-8.5-10-8.5-14.9s5.2-10 8.5-14.9s5.4-10 5.4-14.9" stroke="#c4c"/>
<path d="M257.2 1467.3c3.1-5 5.2-10 5.2-14.9s-2.1-10-5.2-14.9s-7.9-10-7.9-14.9s4.7-10 7.9-14.9s5.2-10 5.2-14.9s-2.1-10-5.2-14.9s-7.9-10-7.9-14.9s4.7-10 7.9-14.9s5.2-10 5.2-14.9s-2.1-10-5.2-14.9s-7.9-10-7.9-14.9s4.7-10 7.9-14.9s5.2-10 5.2-14.9s-2.1-10-5.2-14.9s-7.9-10-7.9-14.9s4.7-10 7.9-14.9s5.2-10 5.2-14.9s-2.1-10-5.2-14.9s-7.9-10-7.9-14.9s4.7-10 7.9-14.9s5.2-10 5.2-14.9" stroke="#a5d"/>
<path d="M257.9 1467.3c3-5 5.1-10 5.1-14.9s-2.1-10-5.1-14.9s-7.3-10-7.3-14.9s4.2-10 7.3-14.9s5.1-10 5.1-14.9s-2.1-10-5.1-14.9s-7.3-10-7.3-14.9s4.2-10 7.3-14.9s5.1-10 5.1-14.9s-2.1-10-5.1-14.9s-7.3-10-7.3-14.9s4.2-10 7.3-14.9s5.1-10 5.1-14.9s-2.1-10-5.1-14.9s-7.3-10-7.3-14.9s4.2-10 7.3-14.9s5.1-10 5.1-14.9s-2.1-10-5.1-14.9s-7.3-10-7.3-14.9s4.2-10 7.3-14.9s5.1-10 5.1-14.9" stroke="#84c"/>
<path d="M258.7 1467.3c2.9-5 4.8-10 4.8-14.9s-1.9-10-4.8-14.9s-6.8-10-6.8-14.9s3.9-10 6.8-14.9s4.8-10 4.8-14.9s-1.9-10-4.8-14.9s-6.8-10-6.8-14.9s3.9-10 6.8-14.9s4.8-10 4.8-14.9s-1.9-10-4.8-14.9s-6.8-10-6.8-14.9s3.9-10 6.8-14.9s4.8-10 4.8-14.9s-1.9-10-4.8-14.9s-6.8-10-6.8-14.9s3.9-10 6.8-14.9s4.8-10 4.8-14.9s-1.9-10-4.8-14.9s-6.8-10-6.8-14.9s3.9-10 6.8-14.9s4.8-10 4.8-14.9" stroke="#d6c"/>
<path d="M259.5 1467.3c2.8-5 4.7-10 4.7-14.9s-1.9-10-4.7-14.9s-6.3-10-6.3-14.9s3.5-10 6.3-14.9s4.7-10 4.7-14.9s-1.9-10-4.7-14.9s-6.3-10-6.3-14.9s3.5-10 6.3-14.9s4.7-10 4.7-14.9s-1.9-10-4.7-14.9s-6.3-10-6.3-14.9s3.5-10 6.3-14.9s4.7-10 4.7-14.9s-1.9-10-4.7-14.9s-6.3-10-6.3-14.9s3.5-10 6.3-14.9s4.7-10 4.7-14.9s-1.9-10-4.7-14.9s-6.3-10-6.3-14.9s3.5-10 6.3-14.9s4.7-10 4.7-14.9" stroke="#1d4"/>
<path d="M254.5 1482.2c0-10 10.4-19.9 10.4-29.8s-10.4-19.9-10.4-29.8s10.4-19.9 10.4-29.8s-10.4-19.9-10.4-29.8s10.4-19.9 10.4-29.8s-10.4-19.9-10.4-29.8s10.4-19.9 10.4-29.8s-10.4-19.9-10.4-29.8s10.4-19.9 10.4-29.8s-10.4-19.9-10.4-29.8s10.4-19.9 10.4-29.8" stroke="#81b" class="a"/>
<path d="M255.8 1482.2c0-10 9.8-19.9 9.8-29.8s-9.8-19.9-9.8-29.8s9.8-19.9 9.8-29.8s-9.8-19.9-9.8-29.8s9.8-19.9 9.8-29.8s-9.8-19.9-9.8-29.8s9.8-19.9 9.8-29.8s-9.8-19.9-9.8-29.8s9.8-19.9 9.8-29.8s-9.8-19.9-9.8-29.8s9.8-19.9 9.8-29.8" stroke="#5b4"/>
<path d="M257.1 1482.2c0-10 9.3-19.9 9.3-29.8s-9.3-19.9-9.3-29.8s9.3-19.9 9.3-29.8s-9.3-19.9-9.3-29.8s9.3-19.9 9.3-29.8s-9.3-19.9-9.3-29.8s9.3-19.9 9.3-29.8s-9.3-19.9-9.3-29.8s9.3-19.9 9.3-29.8s-9.3-19.9-9.3-29.8s9.3-19.9 9.3-29.8" stroke="#94c" class="b"/>
<path d="M258.4 1482.2c0-10 8.8-19.9 8.8-29.8s-8.8-19.9-8.8-29.8s8.8-19.9 8.8-29.8s-8.8-19.9-8.8-29.8s8.8-19.9 8.8-29.8s-8.8-19.9-8.8-29.8s8.8-19.9 8.8-29.8s-8.8-19.9-8.8-29.8s8.8-19.9 8.8-29.8s-8.8-19.9-8.8-29.8s8.8-19.9 8.8-29.8" stroke="#fe1"/>
<path d="M259.7 1482.2c0-10 8.4-19.9 8.4-29.8s-8.4-19.9-8.4-29.8s8.4-19.9 8.4-29.8s-8.4-19.9-8.4-29.8s8.4-19.9 8.4-29.8s-8.4-19.9-8.4-29.8s8.4-19.9 8.4-29.8s-8.4-19.9-8.4-29.8s8.4-19.9 8.4-29.8s-8.4-19.9-8.4-29.8s8.4-19.9 8.4-29.8" stroke="#51f" class="a"/>
<path d="M261 1482.2c0-10 8-19.9 8-29.8s-8-19.9-8-29.8s8-19.9 8-29.8s-8-19.9-8-29.8s8-19.9 8-29.8s-8-19.9-8-29.8s8-19.9 8-29.8s-8-19.9-8-29.8s8-19.9 8-29.8s-8-19.9-8-29.8s8-19.9 8-29.8" stroke="#3b7"/>
<path d="M262.3 1482.2c0-10 7.6-19.9 7.6-29.8s-7.6-19.9-7.6-29.8s7.6-19.9 7.6-29.8s-7.6-19.9-7.6-29.8s7.6-19.9 7.6-29.8s-7.6-19.9-7.6-29.8s7.6-19.9 7.6-29.8s-7.6-19.9-7.6-29.8s7.6-19.9 7.6-29.8s-7.6-19.9-7.6-29.8s7.6-19.9 7.6-29.8" stroke="#669"/>
<path d="M263.6 1482.2c0-10 7.2-19.9 7.2-29.8s-7.2-19.9-7.2-29.8s7.2-19.9 7.2-29.8s-7.2-19.9-7.2-29.8s7.2-19.9 7.2-29.8s-7.2-19.9-7.2-29.8s7.2-19.9 7.2-29.8s-7.2-19.9-7.2-29.8s7.2-19.9 7.2-29.8s-7.2-19.9-7.2-29.8s7.2-19.9 7.2-29.8" stroke="#d66"/>
<path d="M264.9 1482.2c0-10 6.9-19.9 6.9-29.8s-6.9-19.9-6.9-29.8s6.9-19.9 6.9-29.8s-6.9-19.9-6.9-29.8s6.9-19.9 6.9-29.8s-6.9-19.9-6.9-29.8s6.9-19.9 6.9-29.8s-6.9-19.9-6.9-29.8s6.9-19.9 6.9-29.8s-6.9-19.9-6.9-29.8s6.9-19.9 6.9-29.8" stroke="#3a6" class="a"/>
<path d="M266.2 1482.2c0-10 6.5-19.9 6.5-29.8s-6.5-19.9-6.5-29.8s6.5-19.9 6.5-29.8s-6.5-19.9-6.5-29.8s6.5-19.9 6.5-29.8s-6.5-19.9-6.5-29.8s6.5-19.9 6.5-29.8s-6.5-19.9-6.5-29.8s6.5-19.9 6.5-29.8s-6.5-19.9-6.5-29.8s6.5-19.9 6.5-29.8" stroke="#5aa"/>
<path d="M267.5 1482.2c0-10 6.2-19.9 6.2-29.8s-6.2-19.9-6.2-29.8s6.2-19.9 6.2-29.8s-6.2-19.9-6.2-29.8s6.2-19.9 6.2-29.8s-6.2-19.9-6.2-29.8s6.2-19.9 6.2-29.8s-6.2-19.9-6.2-29.8s6.2-19.9 6.2-29.8s-6.2-19.9-6.2-29.8s6.2-19.9 6.2-29.8" stroke="#98d"/>
<path d="M268.8 1482.2c0-10 6-19.9 6-29.8s-6-19.9-6-29.8s6-19.9 6-29.8s-6-19.9-6-29.8s6-19.9 6-29.8s-6-19.9-6-29.8s6-19.9 6-29.8s-6-19.9-6-29.8s6-19.9 6-29.8s-6-19.9-6-29.8s6-19.9 6-29.8" stroke="#a61"/>
<path d="M270.1 1482.2c0-10 5.7-19.9 5.7-29.8s-5.7-19.9-5.7-29.8s5.7-19.9 5.7-29.8s-5.7-19.9-5.7-29.8s5.7-19.9 5.7-29.8s-5.7-19.9-5.7-29.8s5.7-19.9 5.7-29.8s-5.7-19.9-5.7-29.8s5.7-19.9 5.7-29.8s-5.7-19.9-5.7-29.8s5.7-19.9 5.7-29.8" stroke="#14c"/>
<path d="M271.4 1482.2c0-10 5.5-19.9 5.5-29.8s-5.5-19.9-5.5-29.8s5.5-19.9 5.5-29.8s-5.5-19.9-5.5-29.8s5.5-19.9 5.5-29.8s-5.5-19.9-5.5-29.8s5.5-19.9 5.5-29.8s-5.5-19.9-5.5-29.8s5.5-19.9 5.5-29.8s-5.5-19.9-5.5-29.8s5.5-19.9 5.5-29.8" stroke="#a9b" class="c"/>
<path d="M272.7 1482.2c0-10 5.2-19.9 5.2-29.8s-5.2-19.9-5.2-29.8s5.2-19.9 5.2-29.8s-5.2-19.9-5.2-29.8s5.2-19.9 5.2-29.8s-5.2-19.9-5.2-29.8s5.2-19.9 5.2-29.8s-5.2-19.9-5.2-29.8s5.2-19.9 5.2-29.8s-5.2-19.9-5.2-29.8s5.2-19.9 5.2-29.8" stroke="#2da"/>
<path d="M274 1482.2c0-10 5-19.9 5-29.8s-5-19.9-5-29.8s5-19.9 5-29.8s-5-19.9-5-29.8s5-19.9 5-29.8s-5-19.9-5-29.8s5-19.9 5-29.8s-5-19.9-5-29.8s5-19.9 5-29.8s-5-19.9-5-29.8s5-19.9 5-29.8" stroke="#8c7" class="a"/>
<path d="M275.3 1482.2c0-10 4.8-19.9 4.8-29.8s-4.8-19.9-4.8-29.8s4.8-19.9 4.8-29.8s-4.8-19.9-4.8-29.8s4.8-19.9 4.8-29.8s-4.8-19.9-4.8-29.8s4.8-19.9 4.8-29.8s-4.8-19.9-4.8-29.8s4.8-19.9 4.8-29.8s-4.8-19.9-4.8-29.8s4.8-19.9 4.8-29.8" stroke="#807"/>
<path d="M276.6 1482.2c0-10 4.6-19.9 4.6-29.8s-4.6-19.9-4.6-29.8s4.6-19.9 4.6-29.8s-4.6-19.9-4.6-29.8s4.6-19.9 4.6-29.8s-4.6-19.9-4.6-29.8s4.6-19.9 4.6-29.8s-4.6-19.9-4.6-29.8s4.6-19.9 4.6-29.8s-4.6-19.9-4.6-29.8s4.6-19.9 4.6-29.8" stroke="#64c"/>
<path d="M277.9 1482.2c0-10 4.4-19.9 4.4-29.8s-4.4-19.9-4.4-29.8s4.4-19.9 4.4-29.8s-4.4-19.9-4.4-29.8s4.4-19.9 4.4-29.8s-4.4-19.9-4.4-29.8s4.4-19.9 4.4-29.8s-4.4-19.9-4.4-29.8s4.4-19.9 4.4-29.8s-4.4-19.9-4.4-29.8s4.4-19.9 4.4-29.8" stroke="#994" class="b"/>
<path d="M279.2 1482.2c0-10 4.2-19.9 4.2-29.8s-4.2-19.9-4.2-29.8s4.2-19.9 4.2-29.8s-4.2-19.9-4.2-29.8s4.2-19.9 4.2-29.8s-4.2-19.9-4.2-29.8s4.2-19.9 4.2-29.8s-4.2-19.9-4.2-29.8s4.2-19.9 4.2-29.8s-4.2-19.9-4.2-29.8s4.2-19.9 4.2-29.8" stroke="#4e5"/>
<path d="M280.5 1482.2c0-10 4-19.9 4-29.8s-4-19.9-4-29.8s4-19.9 4-29.8s-4-19.9-4-29.8s4-19.9 4-29.8s-4-19.9-4-29.8s4-19.9 4-29.8s-4-19.9-4-29.8s4-19.9 4-29.8s-4-19.9-4-29.8s4-19.9 4-29.8" stroke="#46b"/>
<path d="M281.8 1482.2c0-10 3.9-19.9 3.9-29.8s-3.9-19.9-3.9-29.8s3.9-19.9 3.9-29.8s-3.9-19.9-3.9-29.8s3.9-19.9 3.9-29.8s-3.9-19.9-3.9-29.8s3.9-19.9 3.9-29.8s-3.9-19.9-3.9-29.8s3.9-19.9 3.9-29.8s-3.9-19.9-3.9-29.8s3.9-19.9 3.9-29.8" stroke="#f48" class="b"/>
<path d="M283.1 1482.2c0-10 3.7-19.9 3.7-29.8s-3.7-19.9-3.7-29.8s3.7-19.9 3.7-29.8s-3.7-19.9-3.7-29.8s3.7-19.9 3.7-29.8s-3.7-19.9-3.7-29.8s3.7-19.9 3.7-29.8s-3.7-19.9-3.7-29.8s3.7-19.9 3.7-29.8s-3.7-19.9-3.7-29.8s3.7-19.9 3.7-29.8" stroke="#748"/>
<path d="M284.4 1482.2c0-10 3.6-19.9 3.6-29.8s-3.6-19.9-3.6-29.8s3.6-19.9 3.6-29.8s-3.6-19.9-3.6-29.8s3.6-19.9 3.6-29.8s-3.6-19.9-3.6-29.8s3.6-19.9 3.6-29.8s-3.6-19.9-3.6-29.8s3.6-19.9 3.6-29.8s-3.6-19.9-3.6-29.8s3.6-19.9 3.6-29.8" stroke="#4f9" class="a"/>
<path d="M285.7 1482.2c0-10 3.4-19.9 3.4-29.8s-3.4-19.9-3.4-29.8s3.4-19.9 3.4-29.8s-3.4-19.9-3.4-29.8s3.4-19.9 3.4-29.8s-3.4-19.9-3.4-29.8s3.4-19.9 3.4-29.8s-3.4-19.9-3.4-29.8s3.4-19.9 3.4-29.8s-3.4-19.9-3.4-29.8s3.4-19.9 3.4-29.8" stroke="#2ba"/>
<path d="M287 1482.2c0-10 3.3-19.9 3.3-29.8s-3.3-19.9-3.3-29.8s3.3-19.9 3.3-29.8s-3.3-19.9-3.3-29.8s3.3-19.9 3.3-29.8s-3.3-19.9-3.3-29.8s3.3-19.9 3.3-29.8s-3.3-19.9-3.3-29.8s3.3-19.9 3.3-29.8s-3.3-19.9-3.3-29.8s3.3-19.9 3.3-29.8" stroke="#b4a" class="c"/>
<path d="M288.3 1482.2c0-10 3.2-19.9 3.2-29.8s-3.2-19.9-3.2-29.8s3.2-19.9 3.2-29.8s-3.2-19.9-3.2-29.8s3.2-19.9 3.2-29.8s-3.2-19.9-3.2-29.8s3.2-19.9 3.2-29.8s-3.2-19.9-3.2-29.8s3.2-19.9 3.2-29.8s-3.2-19.9-3.2-29.8s3.2-19.9 3.2-29.8" stroke="#e63"/>
<path d="M289.6 1482.2c0-10 3-19.9 3-29.8s-3-19.9-3-29.8s3-19.9 3-29.8s-3-19.9-3-29.8s3-19.9 3-29.8s-3-19.9-3-29.8s3-19.9 3-29.8s-3-19.9-3-29.8s3-19.9 3-29.8s-3-19.9-3-29.8s3-19.9 3-29.8" stroke="#62b" class="a"/>
<path d="M290.9 1482.2c0-10 2.9-19.9 2.9-29.8s-2.9-19.9-2.9-29.8s2.9-19.9 2.9-29.8s-2.9-19.9-2.9-29.8s2.9-19.9 2.9-29.8s-2.9-19.9-2.9-29.8s2.9-19.9 2.9-29.8s-2.9-19.9-2.9-29.8s2.9-19.9 2.9-29.8s-2.9-19.9-2.9-29.8s2.9-19.9 2.9-29.8" stroke="#49e"/>
<path d="M292.2 1482.2c0-10 2.8-19.9 2.8-29.8s-2.8-19.9-2.8-29.8s2.8-19.9 2.8-29.8s-2.8-19.9-2.8-29.8s2.8-19.9 2.8-29.8s-2.8-19.9-2.8-29.8s2.8-19.9 2.8-29.8s-2.8-19.9-2.8-29.8s2.8-19.9 2.8-29.8s-2.8-19.9-2.8-29.8s2.8-19.9 2.8-29.8" stroke="#279"/>
<path d="M293.5 1482.2c0-10 2.7-19.9 2.7-29.8s-2.7-19.9-2.7-29.8s2.7-19.9 2.7-29.8s-2.7-19.9-2.7-29.8s2.7-19.9 2.7-29.8s-2.7-19.9-2.7-29.8s2.7-19.9 2.7-29.8s-2.7-19.9-2.7-29.8s2.7-19.9 2.7-29.8s-2.7-19.9-2.7-29.8s2.7-19.9 2.7-29.8" stroke="#9c1" class="b"/>
<path d="M294.8 1482.2c0-10 2.6-19.9 2.6-29.8s-2.6-19.9-2.6-29.8s2.6-19.9 2.6-29.8s-2.6-19.9-2.6-29.8s2.6-19.9 2.6-29.8s-2.6-19.9-2.6-29.8s2.6-19.9 2.6-29.8s-2.6-19.9-2.6-29.8s2.6-19.9 2.6-29.8s-2.6-19.9-2.6-29.8s2.6-19.9 2.6-29.8" stroke="#a2a"/>
<path d="M296.1 1482.2c0-10 2.5-19.9 2.5-29.8s-2.5-19.9-2.5-29.8s2.5-19.9 2.5-29.8s-2.5-19.9-2.5-29.8s2.5-19.9 2.5-29.8s-2.5-19.9-2.5-29.8s2.5-19.9 2.5-29.8s-2.5-19.9-2.5-29.8s2.5-19.9 2.5-29.8s-2.5-19.9-2.5-29.8s2.5-19.9 2.5-29.8" stroke="#e98"/>
<path d="M297.4 1482.2c0-10 2.4-19.9 2.4-29.8s-2.4-19.9-2.4-29.8s2.4-19.9 2.4-29.8s-2.4-19.9-2.4-29.8s2.4-19.9 2.4-29.8s-2.4-19.9-2.4-29.8s2.4-19.9 2.4-29.8s-2.4-19.9-2.4-29.8s2.4-19.9 2.4-29.8s-2.4-19.9-2.4-29.8s2.4-19.9 2.4-29.8" stroke="#34f" class="a"/>
<path d="M298.7 1482.2c0-10 2.3-19.9 2.3-29.8s-2.3-19.9-2.3-29.8s2.3-19.9 2.3-29.8s-2.3-19.9-2.3-29.8s2.3-19.9 2.3-29.8s-2.3-19.9-2.3-29.8s2.3-19.9 2.3-29.8s-2.3-19.9-2.3-29.8s2.3-19.9 2.3-29.8s-2.3-19.9-2.3-29.8s2.3-19.9 2.3-29.8" stroke="#492"/>
<path d="M300 1482.2c0-10 2.2-19.9 2.2-29.8s-2.2-19.9-2.2-29.8s2.2-19.9 2.2-29.8s-2.2-19.9-2.2-29.8s2.2-19.9 2.2-29.8s-2.2-19.9-2.2-29.8s2.2-19.9 2.2-29.8s-2.2-19.9-2.2-29.8s2.2-19.9 2.2-29.8s-2.2-19.9-2.2-29.8s2.2-19.9 2.2-29.8" stroke="#c43"/>
<path d="M301.3 1482.2c0-10 2.1-19.9 2.1-29.8s-2.1-19.9-2.1-29.8s2.1-19.9 2.1-29.8s-2.1-19.9-2.1-29.8s2.1-19.9 2.1-29.8s-2.1-19.9-2.1-29.8s2.1-19.9 2.1-29.8s-2.1-19.9-2.1-29.8s2.1-19.9 2.1-29.8s-2.1-19.9-2.1-29.8s2.1-19.9 2.1-29.8" stroke="#cd7"/>
<path d="M302.6 1482.2c0-10 2-19.9 2-29.8s-2-19.9-2-29.8s2-19.9 2-29.8s-2-19.9-2-29.8s2-19.9 2-29.8s-2-19.9-2-29.8s2-19.9 2-29.8s-2-19.9-2-29.8s2-19.9 2-29.8s-2-19.9-2-29.8s2-19.9 2-29.8" stroke="#847"/>
<path d="M303.9 1482.2c0-10 2-19.9 2-29.8s-2-19.9-2-29.8s2-19.9 2-29.8s-2-19.9-2-29.8s2-19.9 2-29.8s-2-19.9-2-29.8s2-19.9 2-29.8s-2-19.9-2-29.8s2-19.9 2-29.8s-2-19.9-2-29.8s2-19.9 2-29.8" stroke="#198" class="a"/>
<path d="M305.2 1482.2c0-10 1.9-19.9 1.9-29.8s-1.9-19.9-1.9-29.8s1.9-19.9 1.9-29.8s-1.9-19.9-1.9-29.8s1.9-19.9 1.9-29.8s-1.9-19.9-1.9-29.8s1.9-19.9 1.9-29.8s-1.9-19.9-1.9-29.8s1.9-19.9 1.9-29.8s-1.9-19.9-1.9-29.8s1.9-19.9 1.9-29.8" stroke="#856"/>
<path d="M306.5 1482.2c0-10 1.8-19.9 1.8-29.8s-1.8-19.9-1.8-29.8s1.8-19.9 1.8-29.8s-1.8-19.9-1.8-29.8s1.8-19.9 1.8-29.8s-1.8-19.9-1.8-29.8s1.8-19.9 1.8-29.8s-1.8-19.9-1.8-29.8s1.8-19.9 1.8-29.8s-1.8-19.9-1.8-29.8s1.8-19.9 1.8-29.8" stroke="#5ae" class="a"/>
<path d="M307.8 1482.2c0-10 1.7-19.9 1.7-29.8s-1.7-19.9-1.7-29.8s1.7-19.9 1.7-29.8s-1.7-19.9-1.7-29.8s1.7-19.9 1.7-29.8s-1.7-19.9-1.7-29.8s1.7-19.9 1.7-29.8s-1.7-19.9-1.7-29.8s1.7-19.9 1.7-29.8s-1.7-19.9-1.7-29.8s1.7-19.9 1.7-29.8" stroke="#d4b"/>
<path d="M309.1 1482.2c0-10 1.7-19.9 1.7-29.8s-1.7-19.9-1.7-29.8s1.7-19.9 1.7-29.8s-1.7-19.9-1.7-29.8s1.7-19.9 1.7-29.8s-1.7-19.9-1.7-29.8s1.7-19.9 1.7-29.8s-1.7-19.9-1.7-29.8s1.7-19.9 1.7-29.8s-1.7-19.9-1.7-29.8s1.7-19.9 1.7-29.8" stroke="#2da" class="a"/>
<path d="M310.4 1482.2c0-10 1.6-19.9 1.6-29.8s-1.6-19.9-1.6-29.8s1.6-19.9 1.6-29.8s-1.6-19.9-1.6-29.8s1.6-19.9 1.6-29.8s-1.6-19.9-1.6-29.8s1.6-19.9 1.6-29.8s-1.6-19.9-1.6-29.8s1.6-19.9 1.6-29.8s-1.6-19.9-1.6-29.8s1.6-19.9 1.6-29.8" stroke="#c61"/>
<path d="M311.7 1482.2c0-10 1.5-19.9 1.5-29.8s-1.5-19.9-1.5-29.8s1.5-19.9 1.5-29.8s-1.5-19.9-1.5-29.8s1.5-19.9 1.5-29.8s-1.5-19.9-1.5-29.8s1.5-19.9 1.5-29.8s-1.5-19.9-1.5-29.8s1.5-19.9 1.5-29.8s-1.5-19.9-1.5-29.8s1.5-19.9 1.5-29.8" stroke="#878"/>
<path d="M313 1482.2c0-10 1.5-19.9 1.5-29.8s-1.5-19.9-1.5-29.8s1.5-19.9 1.5-29.8s-1.5-19.9-1.5-29.8s1.5-19.9 1.5-29.8s-1.5-19.9-1.5-29.8s1.5-19.9 1.5-29.8s-1.5-19.9-1.5-29.8s1.5-19.9 1.5-29.8s-1.5-19.9-1.5-29.8s1.5-19.9 1.5-29.8" stroke="#927"/>
<path d="M314.3 1482.2c0-10 1.4-19.9 1.4-29.8s-1.4-19.9-1.4-29.8s1.4-19.9 1.4-29.8s-1.4-19.9-1.4-29.8s1.4-19.9 1.4-29.8s-1.4-19.9-1.4-29.8s1.4-19.9 1.4-29.8s-1.4-19.9-1.4-29.8s1.4-19.9 1.4-29.8s-1.4-19.9-1.4-29.8s1.4-19.9 1.4-29.8" stroke="#3b2"/>
<path d="M315.6 1482.2c0-10 1.4-19.9 1.4-29.8s-1.4-19.9-1.4-29.8s1.4-19.9 1.4-29.8s-1.4-19.9-1.4-29.8s1.4-19.9 1.4-29.8s-1.4-19.9-1.4-29.8s1.4-19.9 1.4-29.8s-1.4-19.9-1.4-29.8s1.4-19.9 1.4-29.8s-1.4-19.9-1.4-29.8s1.4-19.9 1.4-29.8" stroke="#09d"/>
<path d="M316.9 1482.2c0-10 1.3-19.9 1.3-29.8s-1.3-19.9-1.3-29.8s1.3-19.9 1.3-29.8s-1.3-19.9-1.3-29.8s1.3-19.9 1.3-29.8s-1.3-19.9-1.3-29.8s1.3-19.9 1.3-29.8s-1.3-19.9-1.3-29.8s1.3-19.9 1.3-29.8s-1.3-19.9-1.3-29.8s1.3-19.9 1.3-29.8" stroke="#8ad"/>
<path d="M318.2 1482.2c0-10 1.3-19.9 1.3-29.8s-1.3-19.9-1.3-29.8s1.3-19.9 1.3-29.8s-1.3-19.9-1.3-29.8s1.3-19.9 1.3-29.8s-1.3-19.9-1.3-29.8s1.3-19.9 1.3-29.8s-1.3-19.9-1.3-29.8s1.3-19.9 1.3-29.8s-1.3-19.9-1.3-29.8s1.3-19.9 1.3-29.8" stroke="#63a"/>
<path d="M319.5 1482.2c0-10 1.2-19.9 1.2-29.8s-1.2-19.9-1.2-29.8s1.2-19.9 1.2-29.8s-1.2-19.9-1.2-29.8s1.2-19.9 1.2-29.8s-1.2-19.9-1.2-29.8s1.2-19.9 1.2-29.8s-1.2-19.9-1.2-29.8s1.2-19.9 1.2-29.8s-1.2-19.9-1.2-29.8s1.2-19.9 1.2-29.8" stroke="#891"/>
<path d="M320.8 1482.2c0-10 1.2-19.9 1.2-29.8s-1.2-19.9-1.2-29.8s1.2-19.9 1.2-29.8s-1.2-19.9-1.2-29.8s1.2-19.9 1.2-29.8s-1.2-19.9-1.2-29.8s1.2-19.9 1.2-29.8s-1.2-19.9-1.2-29.8s1.2-19.9 1.2-29.8s-1.2-19.9-1.2-29.8s1.2-19.9 1.2-29.8" stroke="#a74"/>
<path d="M322.1 1482.2c0-10 1.1-19.9 1.1-29.8s-1.1-19.9-1.1-29.8s1.1-19.9 1.1-29.8s-1.1-19.9-1.1-29.8s1.1-19.9 1.1-29.8s-1.1-19.9-1.1-29.8s1.1-19.9 1.1-29.8s-1.1-19.9-1.1-29.8s1.1-19.9 1.1-29.8s-1.1-19.9-1.1-29.8s1.1-19.9 1.1-29.8" stroke="#5ec"/>
<path d="M323.4 1482.2c0-10 1.1-19.9 1.1-29.8s-1.1-19.9-1.1-29.8s1.1-19.9 1.1-29.8s-1.1-19.9-1.1-29.8s1.1-19.9 1.1-29.8s-1.1-19.9-1.1-29.8s1.1-19.9 1.1-29.8s-1.1-19.9-1.1-29.8s1.1-19.9 1.1-29.8s-1.1-19.9-1.1-29.8s1.1-19.9 1.1-29.8" stroke="#a8a" class="a"/>
<path d="M324.7 1482.2c0-10 1-19.9 1-29.8s-1-19.9-1-29.8s1-19.9 1-29.8s-1-19.9-1-29.8s1-19.9 1-29.8s-1-19.9-1-29.8s1-19.9 1-29.8s-1-19.9-1-29.8s1-19.9 1-29.8s-1-19.9-1-29.8s1-19.9 1-29.8" stroke="#939"/>
<path d="M326 1482.2c0-10 1-19.9 1-29.8s-1-19.9-1-29.8s1-19.9 1-29.8s-1-19.9-1-29.8s1-19.9 1-29.8s-1-19.9-1-29.8s1-19.9 1-29.8s-1-19.9-1-29.8s1-19.9 1-29.8s-1-19.9-1-29.8s1-19.9 1-29.8" stroke="#c52" class="b"/>
<path d="M327.3 1482.2c0-10 .9-19.9 .9-29.8s-.9-19.9-.9-29.8s.9-19.9 .9-29.8s-.9-19.9-.9-29.8s.9-19.9 .9-29.8s-.9-19.9-.9-29.8s.9-19.9 .9-29.8s-.9-19.9-.9-29.8s.9-19.9 .9-29.8s-.9-19.9-.9-29.8s.9-19.9 .9-29.8" stroke="#199"/>
<path d="M328.6 1482.2c0-10 .9-19.9 .9-29.8s-.9-19.9-.9-29.8s.9-19.9 .9-29.8s-.9-19.9-.9-29.8s.9-19.9 .9-29.8s-.9-19.9-.9-29.8s.9-19.9 .9-29.8s-.9-19.9-.9-29.8s.9-19.9 .9-29.8s-.9-19.9-.9-29.8s.9-19.9 .9-29.8" stroke="#7d1" class="b"/>
<path d="M329.9 1482.2c0-10 .9-19.9 .9-29.8s-.9-19.9-.9-29.8s.9-19.9 .9-29.8s-.9-19.9-.9-29.8s.9-19.9 .9-29.8s-.9-19.9-.9-29.8s.9-19.9 .9-29.8s-.9-19.9-.9-29.8s.9-19.9 .9-29.8s-.9-19.9-.9-29.8s.9-19.9 .9-29.8" stroke="#e2d"/>
<path d="M331.2 1482.2c0-10 .8-19.9 .8-29.8s-.8-19.9-.8-29.8s.8-19.9 .8-29.8s-.8-19.9-.8-29.8s.8-19.9 .8-29.8s-.8-19.9-.8-29.8s.8-19.9 .8-29.8s-.8-19.9-.8-29.8s.8-19.9 .8-29.8s-.8-19.9-.8-29.8s.8-19.9 .8-29.8" stroke="#46c"/>
<path d="M332.5 1482.2c0-10 .8-19.9 .8-29.8s-.8-19.9-.8-29.8s.8-19.9 .8-29.8s-.8-19.9-.8-29.8s.8-19.9 .8-29.8s-.8-19.9-.8-29.8s.8-19.9 .8-29.8s-.8-19.9-.8-29.8s.8-19.9 .8-29.8s-.8-19.9-.8-29.8s.8-19.9 .8-29.8" stroke="#557" class="a"/>
<path d="M333.8 1482.2c0-10 .8-19.9 .8-29.8s-.8-19.9-.8-29.8s.8-19.9 .8-29.8s-.8-19.9-.8-29.8s.8-19.9 .8-29.8s-.8-19.9-.8-29.8s.8-19.9 .8-29.8s-.8-19.9-.8-29.8s.8-19.9 .8-29.8s-.8-19.9-.8-29.8s.8-19.9 .8-29.8" stroke="#3e0"/>
<path d="M335.1 1482.2c0-10 .7-19.9 .7-29.8s-.7-19.9-.7-29.8s.7-19.9 .7-29.8s-.7-19.9-.7-29.8s.7-19.9 .7-29.8s-.7-19.9-.7-29.8s.7-19.9 .7-29.8s-.7-19.9-.7-29.8s.7-19.9 .7-29.8s-.7-19.9-.7-29.8s.7-19.9 .7-29.8" stroke="#b0a"/>
<path d="M336.4 1482.2c0-10 .7-19.9 .7-29.8s-.7-19.9-.7-29.8s.7-19.9 .7-29.8s-.7-19.9-.7-29.8s.7-19.9 .7-29.8s-.7-19.9-.7-29.8s.7-19.9 .7-29.8s-.7-19.9-.7-29.8s.7-19.9 .7-29.8s-.7-19.9-.7-29.8s.7-19.9 .7-29.8" stroke="#6fa"/>
<path d="M337.7 1482.2c0-10 .7-19.9 .7-29.8s-.7-19.9-.7-29.8s.7-19.9 .7-29.8s-.7-19.9-.7-29.8s.7-19.9 .7-29.8s-.7-19.9-.7-29.8s.7-19.9 .7-29.8s-.7-19.9-.7-29.8s.7-19.9 .7-29.8s-.7-19.9-.7-29.8s.7-19.9 .7-29.8" stroke="#90d"/>
<path d="M339 1482.2c0-10 .6-19.9 .6-29.8s-.6-19.9-.6-29.8s.6-19.9 .6-29.8s-.6-19.9-.6-29.8s.6-19.9 .6-29.8s-.6-19.9-.6-29.8s.6-19.9 .6-29.8s-.6-19.9-.6-29.8s.6-19.9 .6-29.8s-.6-19.9-.6-29.8s.6-19.9 .6-29.8" stroke="#dd3"/>
<path d="M340.3 1482.2c0-10 .6-19.9 .6-29.8s-.6-19.9-.6-29.8s.6-19.9 .6-29.8s-.6-19.9-.6-29.8s.6-19.9 .6-29.8s-.6-19.9-.6-29.8s.6-19.9 .6-29.8s-.6-19.9-.6-29.8s.6-19.9 .6-29.8s-.6-19.9-.6-29.8s.6-19.9 .6-29.8" stroke="#b17"/>
<path d="M341.6 1482.2c0-10 .6-19.9 .6-29.8s-.6-19.9-.6-29.8s.6-19.9 .6-29.8s-.6-19.9-.6-29.8s.6-19.9 .6-29.8s-.6-19.9-.6-29.8s.6-19.9 .6-29.8s-.6-19.9-.6-29.8s.6-19.9 .6-29.8s-.6-19.9-.6-29.8s.6-19.9 .6-29.8" stroke="#bdd" class="a"/>
<path d="M342.9 1482.2c0-10 .6-19.9 .6-29.8s-.6-19.9-.6-29.8s.6-19.9 .6-29.8s-.6-19.9-.6-29.8s.6-19.9 .6-29.8s-.6-19.9-.6-29.8s.6-19.9 .6-29.8s-.6-19.9-.6-29.8s.6-19.9 .6-29.8s-.6-19.9-.6-29.8s.6-19.9 .6-29.8" stroke="#38d"/>
<path d="M344.2 1482.2c0-10 .5-19.9 .5-29.8s-.5-19.9-.5-29.8s.5-19.9 .5-29.8s-.5-19.9-.5-29.8s.5-19.9 .5-29.8s-.5-19.9-.5-29.8s.5-19.9 .5-29.8s-.5-19.9-.5-29.8s.5-19.9 .5-29.8s-.5-19.9-.5-29.8s.5-19.9 .5-29.8" stroke="#a75" class="a"/>
<path d="M345.5 1482.2c0-10 .5-19.9 .5-29.8s-.5-19.9-.5-29.8s.5-19.9 .5-29.8s-.5-19.9-.5-29.8s.5-19.9 .5-29.8s-.5-19.9-.5-29.8s.5-19.9 .5-29.8s-.5-19.9-.5-29.8s.5-19.9 .5-29.8s-.5-19.9-.5-29.8s.5-19.9 .5-29.8" stroke="#051"/>
<path d="M346.8 1482.2c0-10 .5-19.9 .5-29.8s-.5-19.9-.5-29.8s.5-19.9 .5-29.8s-.5-19.9-.5-29.8s.5-19.9 .5-29.8s-.5-19.9-.5-29.8s.5-19.9 .5-29.8s-.5-19.9-.5-29.8s.5-19.9 .5-29.8s-.5-19.9-.5-29.8s.5-19.9 .5-29.8" stroke="#aa5" class="b"/>
<path d="M348.1 1482.2c0-10 .5-19.9 .5-29.8s-.5-19.9-.5-29.8s.5-19.9 .5-29.8s-.5-19.9-.5-29.8s.5-19.9 .5-29.8s-.5-19.9-.5-29.8s.5-19.9 .5-29.8s-.5-19.9-.5-29.8s.5-19.9 .5-29.8s-.5-19.9-.5-29.8s.5-19.9 .5-29.8" stroke="#1ba"/>
<path d="M349.4 1482.2c0-10 .4-19.9 .4-29.8s-.4-19.9-.4-29.8s.4-19.9 .4-29.8s-.4-19.9-.4-29.8s.4-19.9 .4-29.8s-.4-19.9-.4-29.8s.4-19.9 .4-29.8s-.4-19.9-.4-29.8s.4-19.9 .4-29.8s-.4-19.9-.4-29.8s.4-19.9 .4-29.8" stroke="#f5d"/>
<path d="M350.7 1482.2c0-10 .4-19.9 .4-29.8s-.4-19.9-.4-29.8s.4-19.9 .4-29.8s-.4-19.9-.4-29.8s.4-19.9 .4-29.8s-.4-19.9-.4-29.8s.4-19.9 .4-29.8s-.4-19.9-.4-29.8s.4-19.9 .4-29.8s-.4-19.9-.4-29.8s.4-19.9 .4-29.8" stroke="#515" class="c"/>
<path d="M352 1482.2c0-10 .4-19.9 .4-29.8s-.4-19.9-.4-29.8s.4-19.9 .4-29.8s-.4-19.9-.4-29.8s.4-19.9 .4-29.8s-.4-19.9-.4-29.8s.4-19.9 .4-29.8s-.4-19.9-.4-29.8s.4-19.9 .4-29.8s-.4-19.9-.4-29.8s.4-19.9 .4-29.8" stroke="#f81"/>
<path d="M353.3 1482.2c0-10 .4-19.9 .4-29.8s-.4-19.9-.4-29.8s.4-19.9 .4-29.8s-.4-19.9-.4-29.8s.4-19.9 .4-29.8s-.4-19.9-.4-29.8s.4-19.9 .4-29.8s-.4-19.9-.4-29.8s.4-19.9 .4-29.8s-.4-19.9-.4-29.8s.4-19.9 .4-29.8" stroke="#6c9"/>
<path d="M354.6 1482.2c0-10 .4-19.9 .4-29.8s-.4-19.9-.4-29.8s.4-19.9 .4-29.8s-.4-19.9-.4-29.8s.4-19.9 .4-29.8s-.4-19.9-.4-29.8s.4-19.9 .4-29.8s-.4-19.9-.4-29.8s.4-19.9 .4-29.8s-.4-19.9-.4-29.8s.4-19.9 .4-29.8" stroke="#48a"/>
<path d="M355.9 1482.2c0-10 .3-19.9 .3-29.8s-.3-19.9-.3-29.8s.3-19.9 .3-29.8s-.3-19.9-.3-29.8s.3-19.9 .3-29.8s-.3-19.9-.3-29.8s.3-19.9 .3-29.8s-.3-19.9-.3-29.8s.3-19.9 .3-29.8s-.3-19.9-.3-29.8s.3-19.9 .3-29.8" stroke="#209"/>
<path d="M357.2 1482.2c0-10 .3-19.9 .3-29.8s-.3-19.9-.3-29.8s.3-19.9 .3-29.8s-.3-19.9-.3-29.8s.3-19.9 .3-29.8s-.3-19.9-.3-29.8s.3-19.9 .3-29.8s-.3-19.9-.3-29.8s.3-19.9 .3-29.8s-.3-19.9-.3-29.8s.3-19.9 .3-29.8" stroke="#9b4"/>
<path d="M358.5 1482.2c0-10 .3-19.9 .3-29.8s-.3-19.9-.3-29.8s.3-19.9 .3-29.8s-.3-19.9-.3-29.8s.3-19.9 .3-29.8s-.3-19.9-.3-29.8s.3-19.9 .3-29.8s-.3-19.9-.3-29.8s.3-19.9 .3-29.8s-.3-19.9-.3-29.8s.3-19.9 .3-29.8" stroke="#ea2"/>
<path d="M360 1162v300" stroke="#e3f" class="b"/>
<path d="M361.3 1162v300" stroke="#95b"/>
<path d="M362.6 1162v300" stroke="#022" class="b"/>
<path d="M363.9 1162v300" stroke="#db1"/>
<path d="M365.2 1162v300" stroke="#1ea" class="b"/>
<path d="M366.5 1162v300" stroke="#368"/>
<path d="M367.8 1162v300" stroke="#d3e" class="a"/>
<path d="M369.1 1162v300" stroke="#fa4"/>
<path d="M370.4 1162v300" stroke="#3bb" class="a"/>
<path d="M371.7 1162v300" stroke="#3b4"/>
<path d="M372.9 1162v300" stroke="#816" class="a"/>
<path d="M374.2 1162v300" stroke="#c99"/>
<path d="M375.5 1162v300" stroke="#547"/>
<path d="M376.8 1162v300" stroke="#4b9"/>
<path d="M378.1 1162v300" stroke="#a65"/>
<path d="M379.4 1162v300" stroke="#4b5"/>
<path d="M380.7 1162v300" stroke="#b1d"/>
<path d="M382 1162v300" stroke="#298"/>
<path d="M383.3 1162v300" stroke="#bce"/>
<path d="M384.6 1162v300" stroke="#244"/>
<path d="M385.9 1162v300" stroke="#627"/>
<path d="M387.2 1162v300" stroke="#a86"/>
<path d="M388.5 1162v300" stroke="#cf5"/>
<path d="M389.8 1162v300" stroke="#81d" class="c"/>
<path d="M391.1 1162v300" stroke="#26f"/>
<path d="M392.4 1162v300" stroke="#857"/>
<path d="M393.7 1162v300" stroke="#2f1"/>
<path d="M395 1162v300" stroke="#908"/>
<path d="M396.3 1162v300" stroke="#d84"/>
<path d="M397.6 1162v300" stroke="#36e"/>
<path d="M398.8 1162v300" stroke="#7a1"/>
<path d="M400.1 1162v300" stroke="#568" class="b"/>
<path d="M401.4 1162v300" stroke="#f8b"/>
<path d="M402.7 1162v300" stroke="#05a" class="a"/>
<path d="M404 1162v300" stroke="#8c3"/>
<path d="M77 1163V1461" stroke="#c4b" stroke-width="1.8"/>
<path d="M391.8 1163V1461" stroke="#e3f" stroke-width="2.2"/>
<path d="M76 1403.6 83.9 1403.4 91.8 1403.2 99.8 1402.9 107.7 1402.6 115.6 1402.3 123.5 1401.9 131.4 1401.5 139.4 1401 147.3 1400.4 155.2 1399.9 163.1 1399.2 171 1398.5 179 1397.8 186.9 1397 194.8 1396.1 202.7 1395.2 210.6 1394.1 218.6 1393 226.5 1391.9 234.4 1390.6 242.3 1389.2 250.2 1387.7 258.2 1386 266.1 1384.3 274 1382.3 281.9 1380.2 289.8 1378 297.8 1375.5 305.7 1372.7 313.6 1369.7 321.5 1366.4 329.4 1362.8 337.4 1358.7 345.3 1354.2 353.2 1349.1 361.1 1343.3 369 1336.8 377 1329.3 384.9 1320.6 392.8 1310.4" fill="none" stroke="#8fa528" stroke-width="5.2" stroke-linejoin="round"/>
<path d="M238.2 1461V1163" stroke="#f00" stroke-width="3.4" stroke-dasharray="13 12.3" />
<path d="M277.6 1461V1163" stroke="#00f" stroke-width="3.4" stroke-dasharray="13 12.3" />
</g>
<g clip-path="url(#cr3)" fill="none" stroke-width="2.6">
<rect x="528.5" y="1163.0" width="316.8" height="298.0" fill="#fff"/>
<ellipse cx="686.9" cy="1312.0" rx="134.6" ry="126.6" fill="url(#ch3)"/>
<polygon fill="#a4b" points="665.6,1410 656.1,1408.4 646.7,1406.1 644.6,1407.1 642.4,1408.2 639.1,1404.9 636,1401.5 628.1,1396.8 620.6,1391.5 629.4,1395.9 638.5,1399.4 640.4,1398.5 642.3,1397.4 645.2,1400.7 648.4,1403.9 656.8,1407.3"/>
<polygon fill="#b6c" points="641.2,1405 648.8,1407.5 653.9,1407.9 654.4,1406.5 650.3,1403.8 643.3,1400.6 636.2,1397.7 631.4,1396.4 630.6,1397.7 634.2,1401.1"/>
<polygon fill="#fff" points="641.8,1403.7 646.6,1405.3 648.8,1405.4 647.2,1404 642.7,1401.9 638,1400.1 635.8,1399.7 637.3,1401.3"/>
<polygon fill="#a4b" points="612.2,1240.8 618.9,1234.2 626.2,1228.2 626.4,1226 626.7,1223.7 631.5,1223 636.2,1222.4 644.8,1218.8 653.6,1216 644.8,1220.4 636.6,1225.5 636.4,1227.5 636.3,1229.6 631.7,1230 627.1,1230.7 619.5,1235.4"/>
<polygon fill="#b6c" points="630.3,1224.5 623.8,1229.1 620.6,1232.8 621.6,1234 626.2,1232.3 632.9,1228.6 639.4,1224.7 643.2,1221.6 642.6,1220.3 637.5,1221.2"/>
<polygon fill="#fff" points="631.1,1225.7 626.9,1228.6 625.6,1230.3 627.7,1229.7 632.1,1227.4 636.3,1224.8 637.8,1223.2 635.6,1223.6"/>
<polygon fill="#a4b" points="785.8,1278.4 789.4,1286.7 792.1,1295.4 794.1,1296.6 796.2,1297.7 794.9,1302.1 793.5,1306.3 793.3,1315 792.4,1323.7 791.8,1314.4 790.3,1305.3 788.4,1304.3 786.5,1303.4 788,1299.4 789.3,1295.2 788,1286.7"/>
<polygon fill="#b6c" points="794,1300.4 792.3,1293 790,1288.8 788.4,1289.1 788.2,1293.8 788.9,1300.9 789.9,1308.1 791.3,1312.5 792.9,1312.6 794.1,1307.9"/>
<polygon fill="#fff" points="792.4,1300.6 791.4,1295.9 790.4,1294.1 790,1296.1 790.4,1300.8 791.1,1305.4 792,1307.3 792.6,1305.3"/>
<polygon fill="#a4b" points="787.7,1280 791,1288.5 793.6,1297.4 795.6,1298.6 797.6,1299.8 796.3,1304.1 794.7,1308.4 794.4,1317.2 793.2,1325.9 792.9,1316.5 791.6,1307.3 789.7,1306.3 787.8,1305.3 789.4,1301.2 790.8,1297.1 789.6,1288.5"/>
<polygon fill="#b6c" points="795.3,1302.4 793.8,1294.9 791.6,1290.6 790,1290.9 789.7,1295.6 790.2,1302.9 791.1,1310.1 792.4,1314.6 794,1314.7 795.3,1310"/>
<polygon fill="#fff" points="793.8,1302.6 792.9,1297.8 791.9,1295.9 791.5,1298 791.8,1302.7 792.4,1307.4 793.2,1309.4 793.9,1307.4"/>
<polygon fill="#fff" points="747.9,1393 753.4,1388.8 755.2,1386.5 752.6,1387.8 746.9,1391.6 741.2,1395.4 739,1397.3 741.9,1396.5"/>
<polygon fill="#fff" points="581.4,1314 582,1320.6 583,1323.3 583.3,1320.5 583.2,1313.9 583,1307.4 582.6,1304.6 581.7,1307.3"/>
<polygon fill="#fff" points="747.6,1230.8 741.5,1227.3 738.7,1226.5 740.9,1228.4 746.5,1232.2 752.3,1235.9 754.9,1237.2 753.1,1235"/>
<polygon fill="#120" points="716.8,1421.3 722.8,1418.8 722.3,1417.3 715.9,1418.1 709.9,1420.3 710.2,1421.9"/>
<polygon fill="#fff" points="716.5,1420.3 719.2,1419.2 717.9,1418.8 714.5,1419.6 713.6,1420.5"/>
<polygon fill="#120" points="603.2,1392.8 608.5,1396.4 609.7,1395.1 605.5,1390.5 600.5,1386.7 599.2,1387.8"/>
<polygon fill="#fff" points="603.9,1392.1 606.3,1393.6 606,1392.4 603.5,1390.1 602.2,1389.9"/>
<polygon fill="#120" points="592.9,1247 590,1252.4 591.4,1253.3 595.7,1248.9 598.8,1243.8 597.5,1242.8"/>
<polygon fill="#fff" points="593.7,1247.6 592.5,1250 593.8,1249.6 595.8,1247 595.8,1245.8"/>
<polygon fill="#120" points="721.7,1201.4 715,1200.6 714.6,1202.1 720.8,1204.5 727.2,1205.6 727.8,1204.1"/>
<polygon fill="#fff" points="721.4,1202.3 718.5,1202 719.4,1203 722.8,1203.9 724.1,1203.6"/>
<g transform="translate(686.9,1312.0)">
<ellipse rx="188.9" ry="177.7" stroke="#777" stroke-width="76"/>
<ellipse rx="90.5" ry="85.1" fill="#777" stroke="none"/>
<path d="M50.7-88.2c-16.5-8.1-36.4-6.7-53.4-3.8s-33.4 6.7-47.7 14.9s-25.9 20-35.9 33.2s-18.6 29.5-18.1 46.6s10 33 20.8 45.7s23 23.8 37.8 31.2s31.4 10.4 48.5 12.4s37.2 2.4 53.2-6.6s24.6-26.2 29.9-41.7s9.7-30.6 9.3-46.2s-5.7-30.4-12-45.6s-15.9-31.9-32.4-40.1z" stroke="#24f"/>
<path d="M50.1-87.2c-16.2-8.1-35.9-7-52.8-4.3s-33.1 6.7-47.4 14.9s-25.8 19.8-35.7 33s-18.1 29.3-17.6 46.3s9.7 32.7 20.3 45.4s22.9 23.6 37.6 31s31.2 10.5 48.2 12.3s36.8 2 52.5-6.9s24.7-25.7 30.1-41.1s9.6-30.4 9.2-45.9s-5.5-30.3-11.9-45.3s-16.2-31.3-32.5-39.4z" stroke="#e2c"/>
<path d="M49.6-86.3c-16.1-7.9-35.5-7.2-52.3-4.6s-32.9 6.7-47.1 14.8s-25.7 19.6-35.4 32.7s-17.6 29.3-17.1 46.1s9.3 32.5 19.8 45s22.7 23.5 37.3 30.9s31 10.5 47.9 12.3s36.3 1.5 52-7.3s24.6-25.3 30.1-40.5s9.5-30.1 9-45.6s-5.3-30.1-11.7-45s-16.4-30.8-32.5-38.8z" stroke="#f4b"/>
<path d="M49.1-85.4c-15.9-7.9-35.1-7.4-51.8-4.9s-32.6 6.7-46.7 14.7s-25.6 19.5-35.2 32.5s-17.2 29.1-16.8 45.8s9.1 32.2 19.4 44.7s22.6 23.3 37.1 30.6s30.8 10.6 47.6 12.3s35.9 1.1 51.4-7.6s24.6-24.8 30.2-39.8s9.4-30 8.9-45.3s-5.2-30.1-11.6-44.8s-16.6-30.3-32.5-38.2z" stroke="#c5d"/>
<path d="M48.6-84.5c-15.8-7.8-34.7-7.6-51.3-5.2s-32.4 6.7-46.4 14.6s-25.5 19.3-35 32.3s-16.8 28.9-16.3 45.4s8.8 32 19 44.5s22.4 23.1 36.9 30.4s30.5 10.6 47.2 12.2s35.5 .8 50.8-7.8s24.6-24.4 30.2-39.3s9.3-29.8 8.9-45s-5-29.9-11.5-44.5s-16.8-29.8-32.5-37.6z" stroke="#3d0"/>
<path d="M48.1-83.6c-15.6-7.8-34.3-7.8-50.7-5.5s-32.2 6.7-46.1 14.6s-25.4 19.1-34.8 32s-16.4 28.8-15.9 45.1s8.5 31.7 18.6 44.2s22.2 22.9 36.6 30.1s30.3 10.7 46.8 12.1s35.3 .6 50.4-8s24.5-23.9 30.1-38.7s9.3-29.6 8.9-44.7s-4.9-29.7-11.5-44.2s-16.8-29.3-32.4-37z" stroke="#443" class="a"/>
<path d="M47.6-82.8c-15.4-7.7-33.9-7.9-50.2-5.6s-32 6.5-45.8 14.4s-25.2 19-34.5 31.8s-16.1 28.6-15.6 44.8s8.3 31.5 18.3 43.8s22.1 22.8 36.3 30s30.1 10.6 46.5 12s34.9 .3 49.8-8.2s24.5-23.6 30.2-38.2s9.2-29.4 8.7-44.4s-4.8-29.6-11.3-43.9s-17-28.8-32.4-36.5z" stroke="#64c"/>
<path d="M47.1-82c-15.2-7.6-33.5-8-49.7-5.8s-31.7 6.5-45.4 14.4s-25.1 18.7-34.3 31.5s-15.8 28.4-15.3 44.5s8.1 31.2 17.9 43.5s22 22.6 36.1 29.7s29.9 10.6 46.2 12s34.5 0 49.3-8.4s24.4-23.2 30.1-37.7s9.1-29.2 8.7-44.1s-4.7-29.4-11.3-43.5s-17-28.5-32.3-36.1z" stroke="#9a6"/>
<path d="M46.7-81.2c-15.2-7.5-33.2-8.1-49.3-6s-31.5 6.5-45.1 14.3s-24.9 18.6-34 31.4s-15.5 28.2-15 44s7.9 31 17.6 43.2s21.8 22.5 35.8 29.6s29.7 10.6 45.9 11.8s34.2-.1 48.8-8.5s24.2-22.8 30-37.2s9.1-29 8.6-43.8s-4.6-29.2-11.2-43.2s-17-28-32.1-35.6z" stroke="#d8f" class="a"/>
<path d="M46.2-80.4c-15-7.5-32.8-8.2-48.8-6.1s-31.2 6.4-44.7 14.1s-24.8 18.5-33.7 31.2s-15.3 28-14.8 43.7s7.7 30.7 17.3 42.9s21.6 22.3 35.5 29.3s29.5 10.6 45.6 11.8s33.8-.4 48.3-8.6s24.1-22.6 29.9-36.8s9-28.8 8.6-43.4s-4.5-29.1-11.1-43s-17.1-27.6-32.1-35.1z" stroke="#c62"/>
<path d="M45.8-79.6c-14.9-7.4-32.5-8.2-48.3-6.3s-31.1 6.4-44.5 14.1s-24.6 18.3-33.4 30.9s-15 27.8-14.5 43.4s7.5 30.5 17 42.6s21.5 22.1 35.3 29s29.2 10.6 45.1 11.8s33.6-.6 47.9-8.8s24-22.2 29.8-36.3s8.9-28.6 8.5-43.1s-4.4-28.9-11-42.6s-17.1-27.3-31.9-34.7z" stroke="#37a" class="a"/>
<path d="M45.3-78.9c-14.7-7.3-32.1-8.2-47.8-6.3s-30.8 6.3-44.1 13.9s-24.5 18.2-33.2 30.7s-14.7 27.6-14.3 43.1s7.4 30.2 16.8 42.2s21.3 22 35 28.9s29 10.5 44.8 11.6s33.2-.7 47.4-8.8s23.9-21.9 29.7-35.9s8.9-28.3 8.5-42.8s-4.4-28.7-11-42.3s-17.1-26.9-31.8-34.3z" stroke="#7b3"/>
<path d="M44.9-78.1c-14.5-7.3-31.8-8.3-47.4-6.5s-30.6 6.4-43.7 13.9s-24.4 18-33 30.4s-14.4 27.4-14 42.7s7.2 30 16.5 42s21.1 21.8 34.7 28.6s28.8 10.5 44.5 11.5s32.9-.8 47-8.8s23.7-21.7 29.5-35.5s8.8-28.1 8.4-42.5s-4.3-28.5-10.9-42s-17-26.5-31.6-33.8z" stroke="#36b"/>
<path d="M44.5-77.4c-14.4-7.2-31.5-8.3-47-6.5s-30.3 6.3-43.4 13.7s-24.2 17.9-32.7 30.2s-14.2 27.3-13.7 42.4s7 29.7 16.2 41.6s21 21.7 34.5 28.4s28.5 10.5 44.1 11.5s32.5-1 46.5-9s23.6-21.3 29.4-35s8.7-27.9 8.3-42.2s-4.2-28.3-10.8-41.6s-17-26.2-31.4-33.5z" stroke="#c6f" class="a"/>
<path d="M44.1-76.6c-14.3-7.2-31.2-8.4-46.6-6.6s-30.1 6.2-43 13.6s-24 17.7-32.4 30s-14 27-13.6 42s6.9 29.5 16 41.3s20.8 21.4 34.2 28.2s28.3 10.3 43.8 11.3s32.2-1.1 46-9s23.5-21.1 29.3-34.6s8.7-27.7 8.3-41.9s-4.2-28-10.8-41.3s-17-25.9-31.2-33z" stroke="#785"/>
<path d="M43.6-75.9c-14.1-7.1-30.8-8.4-46-6.7s-29.9 6.2-42.8 13.5s-23.8 17.6-32.1 29.8s-13.8 26.8-13.4 41.7s6.8 29.2 15.8 40.9s20.6 21.3 33.9 28s28.1 10.3 43.4 11.3s32-1.3 45.7-9.1s23.3-20.8 29.1-34.2s8.6-27.5 8.2-41.5s-4.1-27.9-10.7-41s-16.9-25.6-31.1-32.7z" stroke="#a34" class="a"/>
<path d="M43.2-75.2c-14-7-30.5-8.4-45.6-6.7s-29.6 6.1-42.4 13.4s-23.6 17.4-31.9 29.5s-13.6 26.6-13.1 41.3s6.6 29 15.6 40.7s20.4 21.1 33.5 27.7s27.9 10.3 43.1 11.2s31.6-1.4 45.2-9.1s23.2-20.6 28.9-33.9s8.6-27.2 8.2-41.1s-4-27.7-10.6-40.7s-16.9-25.3-30.9-32.3z" stroke="#79b"/>
<path d="M42.8-74.4c-13.9-7-30.2-8.5-45.2-6.8s-29.4 6-42 13.3s-23.5 17.2-31.6 29.2s-13.4 26.4-13 41s6.5 28.8 15.4 40.3s20.2 21 33.3 27.5s27.6 10.3 42.7 11.1s31.3-1.4 44.8-9.1s23-20.3 28.7-33.5s8.5-27 8.1-40.8s-4-27.5-10.5-40.3s-16.8-25-30.7-31.9z" stroke="#857" class="a"/>
<path d="M42.4-73.7c-13.7-6.9-29.9-8.4-44.8-6.8s-29.1 5.9-41.7 13.1s-23.3 17.1-31.3 29s-13.2 26.2-12.8 40.7s6.4 28.5 15.2 39.9s20.1 20.9 33 27.4s27.4 10.1 42.4 10.9s31-1.5 44.3-9.1s22.8-20 28.6-33.1s8.5-26.8 8.1-40.5s-4-27.2-10.5-40s-16.8-24.7-30.5-31.5z" stroke="#6c4"/>
<path d="M42-73c-13.6-6.8-29.6-8.4-44.4-6.9s-28.9 5.9-41.3 13.1s-23.1 16.9-31.1 28.8s-13 25.9-12.5 40.3s6.2 28.2 14.9 39.6s19.9 20.6 32.7 27.1s27.2 10.1 42.1 10.9s30.7-1.6 43.9-9.2s22.6-19.8 28.4-32.7s8.4-26.6 8-40.2s-3.9-27-10.4-39.6s-16.7-24.4-30.3-31.2z" stroke="#b4d"/>
<path d="M41.6-72.3c-13.5-6.8-29.3-8.4-43.9-6.9s-28.7 5.9-41 12.9s-23 16.9-30.8 28.6s-12.8 25.8-12.4 40s6.2 27.9 14.7 39.2s19.7 20.5 32.5 26.9s26.9 10 41.6 10.8s30.5-1.7 43.5-9.1s22.5-19.6 28.2-32.4s8.4-26.4 8-39.8s-3.9-26.9-10.3-39.4s-16.7-24.1-30.1-30.8z" stroke="#979"/>
<path d="M41.2-71.6c-13.3-6.7-29-8.4-43.5-6.9s-28.4 5.8-40.7 12.8s-22.7 16.7-30.5 28.3s-12.6 25.6-12.2 39.6s6.1 27.8 14.5 39s19.6 20.3 32.2 26.6s26.7 10 41.3 10.7s30.1-1.7 43.1-9.1s22.3-19.4 28-32.1s8.3-26.1 7.9-39.4s-3.8-26.7-10.2-39s-16.6-23.8-29.9-30.5z" stroke="#581"/>
<path d="M40.8-70.9c-13.2-6.7-28.7-8.4-43.1-6.9s-28.2 5.7-40.3 12.6s-22.6 16.6-30.3 28.1s-12.4 25.4-12 39.3s6 27.5 14.4 38.6s19.3 20.2 31.8 26.5s26.5 9.8 41 10.5s29.8-1.8 42.6-9.1s22.2-19.1 27.9-31.7s8.2-25.9 7.8-39.1s-3.7-26.4-10.1-38.7s-16.5-23.5-29.7-30.1z" stroke="#288"/>
<path d="M40.4-70.2c-13.1-6.6-28.4-8.4-42.7-7s-27.9 5.7-39.9 12.6s-22.4 16.4-30 27.9s-12.3 25.1-11.9 38.9s5.9 27.2 14.2 38.3s19.2 19.9 31.6 26.2s26.2 9.8 40.6 10.5s29.5-1.9 42.2-9.2s22-18.9 27.6-31.3s8.2-25.7 7.9-38.8s-3.8-26.2-10.1-38.3s-16.4-23.3-29.5-29.8z" stroke="#c7b"/>
<path d="M40-69.6c-13-6.5-28.1-8.2-42.3-6.9s-27.7 5.6-39.6 12.5s-22.1 16.2-29.7 27.6s-12.1 24.9-11.7 38.6s5.8 27 14 37.9s19 19.8 31.3 26s26 9.7 40.3 10.4s29.2-2 41.8-9.1s21.8-18.7 27.4-31s8.1-25.5 7.8-38.5s-3.7-26-10.1-38s-16.3-22.9-29.2-29.5z" stroke="#35e"/>
<path d="M39.6-68.9c-12.8-6.4-27.8-8.2-41.8-6.9s-27.5 5.6-39.3 12.3s-22 16.2-29.4 27.4s-12 24.7-11.6 38.3s5.7 26.7 13.8 37.5s18.8 19.7 31 25.8s25.9 9.7 39.9 10.3s29-2 41.4-9.1s21.7-18.5 27.3-30.7s8.1-25.2 7.7-38.1s-3.7-25.7-10-37.6s-16.2-22.7-29-29.2z" stroke="#e79"/>
<path d="M39.2-68.2c-12.7-6.4-27.5-8.2-41.4-6.9s-27.2 5.5-38.9 12.2s-21.8 16-29.2 27.1s-11.8 24.5-11.4 37.9s5.6 26.5 13.6 37.3s18.7 19.5 30.8 25.5s25.6 9.6 39.5 10.2s28.7-2 41-9.1s21.5-18.2 27-30.3s8.1-25 7.7-37.7s-3.6-25.6-9.9-37.3s-16.1-22.5-28.8-28.9z" stroke="#2b0"/>
<path d="M38.8-67.5c-12.5-6.3-27.2-8.2-41-6.9s-27 5.4-38.6 12.1s-21.6 15.8-28.8 26.9s-11.7 24.2-11.3 37.5s5.5 26.2 13.5 36.9s18.4 19.3 30.4 25.4s25.4 9.4 39.2 10s28.4-2 40.6-9s21.3-18 26.8-30s8-24.7 7.6-37.4s-3.6-25.3-9.8-37s-16-22.2-28.6-28.5z" stroke="#c64"/>
<path d="M38.4-66.8c-12.4-6.3-26.9-8.2-40.6-6.9s-26.7 5.3-38.2 11.9s-21.4 15.7-28.6 26.7s-11.5 24-11.1 37.2s5.4 26 13.3 36.6s18.3 19.1 30.1 25.1s25.2 9.4 38.9 9.9s28.1-2.1 40.1-9s21.1-17.8 26.6-29.6s8-24.5 7.6-37.1s-3.5-25.1-9.7-36.6s-15.9-22-28.4-28.2z" stroke="#09a"/>
<path d="M38-66.2c-12.3-6.1-26.6-8.1-40.2-6.8s-26.4 5.3-37.8 11.8s-21.2 15.5-28.3 26.4s-11.4 23.9-11 36.9s5.4 25.7 13.1 36.2s18.1 19 29.9 24.9s24.9 9.3 38.5 9.8s27.8-2.1 39.7-8.9s20.9-17.6 26.4-29.4s7.9-24.2 7.5-36.7s-3.5-24.9-9.7-36.3s-15.8-21.7-28.1-27.9z" stroke="#f85" class="b"/>
<path d="M37.7-65.5c-12.2-6.1-26.4-8-39.8-6.9s-26.3 5.3-37.5 11.8s-21.1 15.4-28.1 26.2s-11.2 23.6-10.8 36.5s5.3 25.4 12.9 35.8s18 18.8 29.6 24.7s24.7 9.3 38.1 9.7s27.6-2.1 39.4-8.9s20.7-17.4 26.2-29s7.8-24 7.4-36.4s-3.5-24.6-9.6-35.9s-15.7-21.5-27.8-27.6z" stroke="#263"/>
<path d="M37.3-64.8c-12.1-6.1-26.1-8-39.4-6.9s-26 5.2-37.2 11.6s-20.8 15.3-27.8 26s-11 23.4-10.6 36.1s5.2 25.3 12.8 35.6s17.7 18.6 29.2 24.4s24.5 9.2 37.8 9.7s27.3-2.2 38.9-8.9s20.6-17.2 26-28.7s7.8-23.8 7.4-36s-3.4-24.5-9.5-35.6s-15.6-21.2-27.6-27.3z" stroke="#b85" class="b"/>
<path d="M36.9-64.1c-11.9-6.1-25.9-8-39-6.9s-25.7 5.1-36.8 11.5s-20.6 15.1-27.5 25.7s-10.9 23.2-10.5 35.8s5.1 25 12.6 35.2s17.6 18.5 29 24.2s24.2 9.1 37.4 9.6s27-2.2 38.5-8.9s20.4-17 25.8-28.3s7.7-23.6 7.3-35.7s-3.4-24.2-9.4-35.3s-15.5-20.9-27.4-26.9z" stroke="#0bb"/>
<path d="M36.5-63.5c-11.8-5.9-25.6-7.9-38.6-6.8s-25.5 5.1-36.4 11.4s-20.5 14.9-27.3 25.4s-10.7 23-10.3 35.5s5 24.7 12.4 34.8s17.4 18.3 28.7 24.1s24 8.9 37.1 9.4s26.7-2.3 38.1-8.8s20.2-16.8 25.5-28.1s7.7-23.3 7.3-35.3s-3.4-24-9.4-34.9s-15.3-20.7-27.1-26.7z" stroke="#acd"/>
<path d="M36.1-62.8c-11.7-5.9-25.3-7.9-38.2-6.8s-25.2 5-36.1 11.2s-20.2 14.9-26.9 25.3s-10.6 22.7-10.3 35.1s5 24.5 12.3 34.5s17.2 18.1 28.4 23.8s23.8 8.9 36.8 9.3s26.4-2.3 37.7-8.8s20-16.6 25.3-27.7s7.6-23.1 7.2-35s-3.3-23.7-9.3-34.6s-15.2-20.4-26.9-26.3z" stroke="#110"/>
<path d="M35.7-62.2c-11.5-5.8-25-7.8-37.7-6.7s-25 4.9-35.8 11.1s-20 14.7-26.7 25s-10.4 22.5-10.1 34.8s4.9 24.2 12.2 34.1s17 18 28.1 23.6s23.5 8.8 36.3 9.2s26.2-2.3 37.4-8.7s19.8-16.4 25-27.4s7.6-22.9 7.2-34.7s-3.3-23.5-9.2-34.2s-15.1-20.2-26.7-26.1z" stroke="#c87"/>
<path d="M35.4-61.5c-11.5-5.8-24.8-7.7-37.4-6.7s-24.8 4.9-35.4 11s-19.9 14.5-26.4 24.7s-10.4 22.3-10 34.4s4.8 24 12 33.9s16.8 17.7 27.8 23.3s23.3 8.7 36 9.1s25.9-2.3 36.9-8.6s19.7-16.3 24.9-27.1s7.5-22.7 7.1-34.4s-3.3-23.3-9.1-33.8s-15-20-26.4-25.8z" stroke="#7de" class="a"/>
<path d="M35-60.8c-11.3-5.7-24.5-7.7-37-6.7s-24.5 4.8-35 10.8s-19.7 14.5-26.2 24.6s-10.2 22-9.8 34s4.7 23.7 11.8 33.5s16.7 17.6 27.6 23.1s23 8.6 35.6 9s25.6-2.3 36.5-8.6s19.5-16 24.6-26.8s7.5-22.4 7.1-33.9s-3.2-23.1-9.1-33.6s-14.8-19.7-26.1-25.4z" stroke="#b81"/>
<path d="M34.6-60.2c-11.2-5.6-24.2-7.6-36.6-6.6s-24.2 4.7-34.7 10.7s-19.4 14.3-25.8 24.3s-10.1 21.8-9.7 33.7s4.7 23.5 11.7 33.1s16.4 17.5 27.2 22.9s22.9 8.6 35.3 8.9s25.3-2.3 36.1-8.5s19.2-15.9 24.4-26.5s7.4-22.2 7-33.6s-3.2-22.9-9-33.2s-14.7-19.5-25.9-25.2z" stroke="#204" class="a"/>
<path d="M34.2-59.5c-11-5.6-23.9-7.6-36.2-6.6s-24 4.7-34.3 10.6s-19.2 14.1-25.6 24s-9.9 21.6-9.6 33.4s4.7 23.2 11.6 32.8s16.3 17.2 26.9 22.6s22.7 8.5 35 8.8s25-2.3 35.7-8.4s19-15.7 24.1-26.2s7.4-22 7-33.3s-3.2-22.6-8.9-32.8s-14.6-19.3-25.7-24.9z" stroke="#67f"/>
<path d="M33.9-58.9c-11-5.5-23.7-7.5-35.8-6.5s-23.8 4.6-34 10.5s-19.1 13.9-25.3 23.8s-9.8 21.3-9.5 32.9s4.6 23 11.4 32.5s16.1 17.1 26.7 22.4s22.4 8.4 34.5 8.7s24.8-2.3 35.4-8.4s18.8-15.5 23.9-25.9s7.3-21.7 6.9-32.9s-3.2-22.4-8.8-32.5s-14.5-19.1-25.4-24.6z" stroke="#9ac"/>
<path d="M33.5-58.2c-10.8-5.5-23.4-7.5-35.4-6.5s-23.5 4.5-33.7 10.3s-18.8 13.9-25 23.6s-9.7 21.2-9.3 32.6s4.5 22.8 11.2 32.1s16 17 26.4 22.2s22.2 8.3 34.2 8.6s24.5-2.3 35-8.3s18.6-15.3 23.6-25.6s7.3-21.5 6.9-32.6s-3.1-22.1-8.8-32.1s-14.3-18.9-25.1-24.3z" stroke="#3ea" class="b"/>
<path d="M33.1-57.6c-10.7-5.4-23.1-7.3-35-6.4s-23.3 4.5-33.3 10.2s-18.6 13.7-24.7 23.3s-9.6 21-9.2 32.3s4.4 22.5 11.1 31.8s15.7 16.7 26.1 21.9s21.9 8.3 33.8 8.5s24.2-2.3 34.6-8.2s18.4-15.2 23.4-25.3s7.2-21.3 6.8-32.2s-3.1-22-8.7-31.9s-14.2-18.6-24.9-24z" stroke="#431"/>
<path d="M32.7-56.9c-10.6-5.4-22.8-7.3-34.6-6.5s-23 4.5-32.9 10.2s-18.4 13.5-24.5 23s-9.4 20.8-9.1 32s4.4 22.2 11 31.4s15.6 16.6 25.8 21.8s21.7 8.1 33.5 8.4s23.9-2.4 34.1-8.3s18.3-14.9 23.3-25s7-21 6.7-31.8s-3.1-21.7-8.6-31.5s-14.1-18.4-24.7-23.7z" stroke="#a59" class="a"/>
<path d="M32.4-56.3c-10.5-5.2-22.6-7.2-34.3-6.4s-22.7 4.4-32.5 10s-18.3 13.5-24.2 22.9s-9.3 20.5-9 31.6s4.3 22 10.8 31s15.4 16.5 25.5 21.6s21.5 8 33.2 8.3s23.6-2.4 33.7-8.2s18.1-14.7 23-24.7s7-20.8 6.7-31.5s-3.1-21.5-8.5-31.1s-14-18.2-24.4-23.5z" stroke="#a75"/>
<path d="M32-55.6c-10.4-5.2-22.4-7.2-33.8-6.4s-22.6 4.4-32.3 9.9s-18 13.3-23.9 22.6s-9.1 20.3-8.8 31.2s4.2 21.8 10.7 30.8s15.2 16.2 25.2 21.3s21.2 7.9 32.7 8.2s23.4-2.4 33.4-8.1s17.9-14.6 22.8-24.4s6.9-20.6 6.6-31.2s-3-21.2-8.5-30.8s-13.8-17.9-24.1-23.1z" stroke="#3e6"/>
<path d="M31.6-55c-10.2-5.1-22.1-7.1-33.4-6.3s-22.3 4.3-31.9 9.8s-17.8 13.1-23.6 22.3s-9.1 20.1-8.8 30.9s4.2 21.5 10.6 30.4s15 16.1 24.9 21.1s21 7.8 32.4 8.1s23.1-2.4 33-8.1s17.7-14.3 22.5-24s6.9-20.4 6.6-30.9s-3-21-8.4-30.4s-13.7-17.7-23.9-22.9z" stroke="#639"/>
<path d="M31.2-54.3c-10.1-5.1-21.8-7.1-33-6.3s-22 4.2-31.5 9.7s-17.6 13-23.4 22.1s-8.9 19.8-8.6 30.5s4.2 21.3 10.4 30s14.9 15.9 24.7 20.9s20.7 7.7 32 8s22.8-2.4 32.6-8s17.5-14.2 22.3-23.8s6.8-20.1 6.5-30.5s-3-20.7-8.3-30s-13.6-17.5-23.7-22.6z" stroke="#c53"/>
<path d="M30.9-53.7c-10-5-21.6-7-32.7-6.2s-21.8 4.2-31.1 9.5s-17.4 12.9-23.1 21.9s-8.8 19.6-8.5 30.2s4.1 21 10.3 29.7s14.6 15.7 24.3 20.6s20.5 7.7 31.7 7.9s22.5-2.3 32.2-7.9s17.3-14 22-23.5s6.8-19.9 6.5-30.1s-3-20.6-8.3-29.8s-13.4-17.2-23.3-22.3z" stroke="#435"/>
<path d="M30.5-53c-9.9-5-21.3-6.9-32.2-6.2s-21.6 4.1-30.8 9.4s-17.3 12.7-22.9 21.6s-8.7 19.4-8.3 29.9s4 20.7 10.1 29.3s14.5 15.6 24 20.4s20.4 7.6 31.3 7.8s22.3-2.3 31.9-7.8s17.1-13.9 21.8-23.2s6.7-19.7 6.4-29.8s-3-20.3-8.2-29.4s-13.2-17.1-23.1-22z" stroke="#2bf"/>
<path d="M30.1-52.4c-9.7-4.9-21-6.8-31.8-6.1s-21.3 4-30.5 9.3s-17 12.6-22.5 21.4s-8.6 19.1-8.3 29.4s4 20.6 10 29.1s14.4 15.3 23.8 20.1s20.1 7.5 30.9 7.7s22-2.3 31.5-7.7s16.9-13.7 21.5-23s6.7-19.4 6.4-29.4s-3-20.1-8.1-29s-13.1-16.9-22.9-21.8z" stroke="#5e1"/>
<path d="M29.8-51.8c-9.7-4.8-20.8-6.7-31.5-6s-21.1 4-30.1 9.2s-16.8 12.4-22.3 21.1s-8.4 18.9-8.1 29.1s3.9 20.3 9.8 28.7s14.2 15.2 23.5 19.9s19.9 7.4 30.6 7.6s21.8-2.3 31.1-7.7s16.7-13.5 21.2-22.6s6.6-19.2 6.4-29.1s-2.9-19.8-8.1-28.7s-12.9-16.6-22.5-21.5z" stroke="#d5c"/>
<path d="M29.4-51.1c-9.5-4.8-20.5-6.7-31.1-6s-20.8 3.9-29.7 9.1s-16.6 12.2-22 20.8s-8.3 18.7-8.1 28.8s3.9 20 9.8 28.3s14 15 23.2 19.7s19.6 7.3 30.2 7.5s21.5-2.3 30.7-7.6s16.5-13.3 21-22.3s6.5-19 6.2-28.8s-2.8-19.5-7.9-28.3s-12.8-16.4-22.3-21.2z" stroke="#733"/>
<path d="M29-50.5c-9.4-4.7-20.2-6.6-30.7-5.9s-20.5 3.9-29.3 8.9s-16.4 12.2-21.8 20.7s-8.2 18.4-7.9 28.4s3.8 19.8 9.6 28s13.8 14.8 22.9 19.4s19.4 7.2 29.9 7.4s21.2-2.3 30.3-7.5s16.3-13.2 20.7-22.1s6.5-18.7 6.2-28.3s-2.8-19.4-7.8-28.1s-12.7-16.1-22.1-20.9z" stroke="#4a8"/>
<path d="M28.7-49.8c-9.3-4.7-20-6.6-30.3-5.9s-20.3 3.8-29.1 8.8s-16.2 12-21.4 20.4s-8.1 18.2-7.8 28.1s3.7 19.5 9.4 27.6s13.7 14.7 22.7 19.2s19.1 7.1 29.4 7.3s21-2.3 30-7.4s16.1-13 20.5-21.8s6.4-18.5 6.1-28s-2.8-19.1-7.8-27.7s-12.5-16-21.7-20.6z" stroke="#c83" class="a"/>
<path d="M28.3-49.2c-9.2-4.6-19.7-6.5-29.9-5.8s-20.1 3.7-28.7 8.7s-16 11.8-21.2 20.1s-7.9 18-7.7 27.7s3.7 19.3 9.4 27.3s13.4 14.5 22.3 19s18.9 7.1 29.1 7.2s20.7-2.3 29.6-7.3s15.8-12.8 20.2-21.5s6.4-18.3 6.1-27.7s-2.8-18.9-7.7-27.3s-12.4-15.8-21.5-20.4z" stroke="#ab9"/>
<path d="M27.9-48.6c-9-4.5-19.4-6.4-29.5-5.7s-19.8 3.7-28.3 8.6s-15.8 11.7-20.9 19.9s-7.9 17.7-7.6 27.3s3.6 19.1 9.2 27s13.3 14.3 22.1 18.7s18.6 7 28.7 7.1s20.4-2.2 29.2-7.3s15.6-12.6 20-21.2s6.3-18 6-27.3s-2.8-18.6-7.6-27s-12.3-15.5-21.3-20.1z" stroke="#737" class="b"/>
<path d="M27.6-47.9c-9-4.5-19.3-6.3-29.2-5.7s-19.5 3.6-27.9 8.5s-15.6 11.5-20.6 19.6s-7.8 17.5-7.5 27s3.5 18.8 9 26.6s13.1 14.1 21.8 18.5s18.4 6.9 28.4 7s20.1-2.2 28.7-7.2s15.5-12.4 19.8-20.9s6.2-17.8 6-27s-2.7-18.4-7.5-26.6s-12.1-15.3-21-19.8z" stroke="#01b"/>
<path d="M27.2-47.3c-8.8-4.4-19-6.2-28.8-5.6s-19.3 3.6-27.5 8.3s-15.4 11.4-20.4 19.4s-7.7 17.4-7.4 26.7s3.5 18.5 9 26.2s12.9 14 21.4 18.3s18.2 6.8 28.1 6.9s19.8-2.2 28.3-7.1s15.3-12.3 19.6-20.6s6.1-17.6 5.9-26.6s-2.7-18.2-7.5-26.3s-11.9-15.1-20.7-19.6z" stroke="#acf" class="b"/>
<path d="M26.8-46.7c-8.6-4.3-18.7-6.1-28.3-5.5s-19.1 3.5-27.3 8.2s-15.2 11.3-20 19.2s-7.6 17.1-7.3 26.3s3.5 18.3 8.8 25.9s12.7 13.8 21.2 18s17.9 6.7 27.6 6.8s19.6-2.2 28-7s15.1-12.1 19.3-20.4s6.1-17.3 5.8-26.2s-2.6-18-7.3-26s-11.8-14.9-20.5-19.3z" stroke="#b81"/>
<path d="M26.5-46c-8.6-4.3-18.5-6.1-28-5.5s-18.8 3.5-26.9 8.1s-15 11.1-19.8 18.9s-7.4 16.9-7.2 25.9s3.5 18.1 8.7 25.6s12.6 13.6 20.9 17.8s17.8 6.6 27.3 6.7s19.4-2.2 27.6-6.9s14.9-12 19.1-20.1s6-17.1 5.7-25.9s-2.6-17.7-7.2-25.6s-11.7-14.7-20.2-19z" stroke="#a4b"/>
<path d="M26.1-45.4c-8.4-4.2-18.2-6-27.6-5.4s-18.5 3.4-26.5 8s-14.8 10.9-19.5 18.6s-7.4 16.7-7.1 25.6s3.4 17.8 8.6 25.2s12.4 13.5 20.6 17.6s17.5 6.5 26.9 6.6s19.1-2.1 27.2-6.8s14.7-11.8 18.8-19.8s6-16.9 5.7-25.6s-2.6-17.5-7.2-25.2s-11.5-14.5-19.9-18.8z" stroke="#032" class="c"/>
<path d="M25.7-44.7c-8.3-4.3-17.9-6-27.2-5.4s-18.3 3.3-26.1 7.9s-14.6 10.8-19.3 18.3s-7.2 16.5-6.9 25.3s3.3 17.6 8.4 24.9s12.2 13.2 20.3 17.3s17.3 6.4 26.6 6.5s18.8-2.1 26.8-6.8s14.5-11.6 18.6-19.4s5.8-16.7 5.6-25.3s-2.6-17.2-7.1-24.9s-11.4-14.2-19.7-18.4z" stroke="#a35"/>
<path d="M25.4-44.1c-8.2-4.2-17.7-5.9-26.9-5.3s-18 3.3-25.7 7.7s-14.4 10.7-19 18.2s-7.1 16.2-6.9 24.9s3.3 17.3 8.3 24.5s12.1 13.1 20.1 17.1s17 6.3 26.2 6.4s18.5-2.1 26.4-6.7s14.3-11.4 18.3-19.2s5.8-16.4 5.6-24.9s-2.6-16.9-7-24.5s-11.2-14.1-19.4-18.2z" stroke="#8de" class="b"/>
<path d="M25-43.5c-8.1-4.1-17.4-5.8-26.4-5.2s-17.8 3.2-25.5 7.6s-14.1 10.5-18.7 17.9s-7 16-6.7 24.6s3.2 17 8.2 24.1s11.8 12.9 19.7 16.9s16.8 6.2 25.8 6.3s18.3-2.1 26.1-6.6s14.1-11.3 18.1-18.9s5.7-16.2 5.4-24.5s-2.5-16.8-6.9-24.2s-11-13.9-19.1-18z" stroke="#e86"/>
<path d="M24.6-42.8c-7.9-4.1-17.1-5.8-26-5.2s-17.6 3.2-25.1 7.5s-14 10.4-18.4 17.6s-6.9 15.8-6.7 24.2s3.2 16.9 8.1 23.9s11.7 12.7 19.5 16.6s16.5 6.1 25.4 6.2s18-2.1 25.7-6.5s13.9-11.1 17.8-18.6s5.7-16 5.4-24.2s-2.5-16.5-6.8-23.9s-10.9-13.6-18.9-17.6z" stroke="#050" class="c"/>
<path d="M24.3-42.2c-7.9-4-16.9-5.7-25.7-5.1s-17.3 3.1-24.7 7.4s-13.8 10.2-18.2 17.4s-6.8 15.5-6.5 23.8s3.1 16.6 7.9 23.5s11.5 12.5 19.2 16.4s16.3 6.1 25.1 6.1s17.7-2 25.3-6.4s13.7-10.9 17.6-18.4s5.5-15.7 5.3-23.8s-2.4-16.3-6.7-23.5s-10.8-13.4-18.6-17.4z" stroke="#52e"/>
<path d="M23.9-41.6c-7.7-3.9-16.6-5.5-25.3-5s-17 3.1-24.3 7.3s-13.6 10.1-17.9 17.1s-6.7 15.3-6.4 23.5s3 16.3 7.8 23.1s11.3 12.4 18.9 16.2s16 6 24.7 6s17.5-2 24.9-6.3s13.5-10.8 17.3-18.1s5.5-15.5 5.3-23.5s-2.4-16-6.7-23.1s-10.6-13.3-18.3-17.2z" stroke="#2ce"/>
<path d="M23.5-41c-7.6-3.8-16.3-5.4-24.9-4.9s-16.7 3-23.9 7.2s-13.4 9.9-17.7 16.8s-6.5 15.1-6.3 23.2s3 16.1 7.7 22.8s11.2 12.1 18.6 15.9s15.8 5.9 24.4 5.9s17.2-2 24.5-6.2s13.3-10.6 17.1-17.8s5.4-15.3 5.2-23.2s-2.4-15.8-6.6-22.8s-10.4-13-18.1-16.9z" stroke="#9f3" class="b"/>
<path d="M23.2-40.3c-7.5-3.8-16.2-5.4-24.5-4.9s-16.6 3-23.7 7s-13.1 9.8-17.3 16.7s-6.5 14.8-6.2 22.8s2.9 15.8 7.5 22.4s11 12 18.3 15.7s15.6 5.8 24 5.8s17-2 24.2-6.1s13.1-10.5 16.8-17.6s5.4-15 5.1-22.7s-2.3-15.6-6.4-22.5s-10.3-12.8-17.8-16.6z" stroke="#e47"/>
<path d="M22.8-39.7c-7.3-3.7-15.9-5.3-24.1-4.8s-16.3 2.9-23.3 6.9s-12.9 9.7-17.1 16.4s-6.3 14.6-6.1 22.4s2.9 15.6 7.5 22.1s10.8 11.9 18 15.5s15.3 5.7 23.6 5.7s16.7-1.9 23.8-6.1s12.9-10.2 16.6-17.2s5.2-14.8 5-22.4s-2.3-15.4-6.4-22.1s-10.1-12.7-17.5-16.4z" stroke="#a03"/>
<path d="M22.5-39.1c-7.3-3.6-15.7-5.2-23.8-4.7s-16 2.8-22.9 6.8s-12.7 9.5-16.8 16.1s-6.3 14.4-6 22.1s2.8 15.4 7.3 21.8s10.6 11.6 17.7 15.2s15.2 5.6 23.3 5.6s16.4-1.9 23.4-6s12.7-10.1 16.3-16.9s5.2-14.6 5-22.1s-2.3-15.1-6.3-21.8s-10-12.4-17.2-16.1z" stroke="#37d"/>
<path d="M22.1-38.4c-7.1-3.7-15.4-5.2-23.4-4.7s-15.7 2.8-22.5 6.7s-12.6 9.3-16.6 15.9s-6.1 14.1-5.9 21.7s2.8 15.1 7.2 21.4s10.5 11.5 17.5 15s14.9 5.5 22.9 5.5s16.1-1.9 23-5.9s12.5-9.9 16.1-16.7s5.1-14.3 4.9-21.7s-2.3-14.8-6.2-21.4s-9.9-12.2-17-15.8z" stroke="#1aa"/>
<path d="M21.7-37.8c-7-3.6-15.1-5.1-23-4.6s-15.5 2.7-22.1 6.6s-12.4 9.2-16.3 15.6s-6 13.9-5.8 21.4s2.7 14.8 7.1 21s10.3 11.3 17.1 14.8s14.7 5.4 22.6 5.4s15.8-1.9 22.6-5.8s12.3-9.7 15.8-16.4s5-14.1 4.8-21.4s-2.2-14.6-6.1-21s-9.6-12.1-16.7-15.6z" stroke="#9d0"/>
<path d="M21.4-37.2c-6.9-3.5-14.9-5-22.6-4.5s-15.3 2.7-21.8 6.5s-12.2 9-16 15.3s-6 13.7-5.8 21.1s2.8 14.6 7 20.7s10.1 11.1 16.9 14.5s14.4 5.3 22.1 5.3s15.7-1.8 22.3-5.7s12.1-9.6 15.5-16.1s5-13.9 4.8-21s-2.2-14.4-6-20.8s-9.5-11.8-16.4-15.3z" stroke="#c3a"/>
<ellipse rx="43.7" ry="41.1" stroke="#496"/>
<ellipse rx="42.9" ry="40.4" stroke="#d9c" class="b"/>
<ellipse rx="42.2" ry="39.7" stroke="#496"/>
<ellipse rx="41.4" ry="39" stroke="#991"/>
<ellipse rx="40.7" ry="38.3" stroke="#828"/>
<ellipse rx="39.9" ry="37.6" stroke="#2ba"/>
<ellipse rx="39.2" ry="36.9" stroke="#d68" class="c"/>
<ellipse rx="38.5" ry="36.2" stroke="#5c5"/>
<ellipse rx="37.7" ry="35.5" stroke="#b28"/>
<ellipse rx="37" ry="34.8" stroke="#2ad"/>
<ellipse rx="36.2" ry="34.1" stroke="#b46"/>
<ellipse rx="35.5" ry="33.4" stroke="#ab0" class="a"/>
<ellipse rx="34.7" ry="32.7" stroke="#78c"/>
<ellipse rx="34" ry="32" stroke="#3bc" class="a"/>
<ellipse rx="33.3" ry="31.3" stroke="#f0e"/>
<ellipse rx="32.5" ry="30.6" stroke="#b52" class="a"/>
<ellipse rx="31.8" ry="29.9" stroke="#7e4"/>
<ellipse rx="31" ry="29.2" stroke="#406"/>
<ellipse rx="30.3" ry="28.5" stroke="#679" class="c"/>
<ellipse rx="29.5" ry="27.8" stroke="#6a3"/>
<ellipse rx="28.8" ry="27.1" stroke="#ef0"/>
<ellipse rx="28.1" ry="26.4" stroke="#59c" class="a"/>
<ellipse rx="27.3" ry="25.7" stroke="#902"/>
<ellipse rx="26.6" ry="25" stroke="#26b" class="a"/>
<ellipse rx="25.8" ry="24.3" stroke="#eb0"/>
<ellipse rx="25.1" ry="23.6" stroke="#2dd"/>
<ellipse rx="24.3" ry="22.9" stroke="#666" class="a"/>
<ellipse rx="23.6" ry="22.2" stroke="#418"/>
<ellipse rx="22.9" ry="21.5" stroke="#e65" class="a"/>
<ellipse rx="22.1" ry="20.8" stroke="#0ea"/>
<ellipse rx="21.4" ry="20.1" stroke="#ba2" class="b"/>
<ellipse rx="20.6" ry="19.4" stroke="#33d"/>
<ellipse rx="19.9" ry="18.7" stroke="#76d" class="a"/>
<ellipse rx="19.1" ry="18" stroke="#a62"/>
<ellipse rx="18.4" ry="17.3" stroke="#d97"/>
<ellipse rx="17.7" ry="16.6" stroke="#189" class="a"/>
<ellipse rx="16.9" ry="15.9" stroke="#c38"/>
<ellipse rx="16.2" ry="15.2" stroke="#4c2" class="a"/>
<ellipse rx="15.4" ry="14.5" stroke="#993"/>
<ellipse rx="14.7" ry="13.8" stroke="#84e" class="b"/>
<ellipse rx="13.9" ry="13.1" stroke="#923"/>
<ellipse rx="13.2" ry="12.4" stroke="#2ba"/>
<ellipse rx="12.5" ry="11.7" stroke="#3e5" class="a"/>
<ellipse rx="11.7" ry="11" stroke="#f3e"/>
<ellipse rx="11" ry="10.3" stroke="#d41"/>
<ellipse rx="10.2" ry="9.6" stroke="#1f7"/>
<ellipse rx="9.5" ry="8.9" stroke="#83a" class="b"/>
<ellipse rx="8.7" ry="8.2" stroke="#c56"/>
<ellipse rx="8" ry="7.5" stroke="#f07" class="c"/>
<ellipse rx="7.3" ry="6.8" stroke="#4da"/>
<ellipse rx="6.5" ry="6.1" stroke="#480" class="a"/>
<ellipse rx="5.8" ry="5.4" stroke="#e63"/>
<ellipse rx="5" ry="4.7" stroke="#413"/>
<ellipse rx="4.3" ry="4" stroke="#fba"/>
<ellipse rx="3.5" ry="3.3" stroke="#178" class="a"/>
<ellipse rx="2.8" ry="2.6" stroke="#bae"/>
<ellipse rx="2.1" ry="1.9" stroke="#631"/>
<ellipse rx="1.3" ry="1.2" stroke="#777"/>
<ellipse rx=".6" ry=".5" stroke="#389" class="c"/>
<path d="M26.6-118.8c-13.3-2.5-27.1-1.9-40 1.2s-24.4 8.9-36 13.8s-23.8 9.3-34.6 16.4s-20.3 16.5-26.9 27.4s-10.4 23.4-11.5 35.8s.8 24.5 2.2 36.3s2.2 24.1 6 36s10.3 23.3 19.2 32.7s20.3 16.7 32.5 21.5s25.2 6.5 37.6 9s25 5.9 38.3 6.4s27-1.6 39.4-6.7s23.4-13.2 31.9-22.9s13.8-21.1 20.1-31.4s14.2-20.4 19-32.2s6.9-24.8 5.4-37.5s-6.4-25-13.8-35.6s-17.2-18.8-25.7-27.7s-16.4-18.8-26.8-26.6s-23.1-13.4-36.3-15.9z" stroke="#c4c"/>
<path d="M26.6-119.1c-13.2-2.5-27.1-1.9-40 1.2s-24.7 8.6-36.3 13.4s-23.7 9.6-34.6 16.8s-20.2 16.6-26.9 27.6s-10.4 23.4-11.6 35.8s.5 24.6 1.8 36.5s2.5 24.1 6.4 36s10.4 23.3 19.4 32.8s20.3 16.8 32.5 21.6s25.2 6.9 37.6 9.4s25.2 5.6 38.5 6.1s27.1-1.7 39.5-6.8s23.5-13.2 32-22.9s14.2-21 20.6-31.4s13.9-20.6 18.6-32.4s6.8-24.9 5.4-37.6s-6.5-25.1-13.8-35.7s-16.9-19.2-25.5-28s-16.6-18.7-27.2-26.5s-23.1-13.4-36.4-15.9z" stroke="#a5d"/>
<path d="M26.7-119.4c-13.3-2.5-27.2-1.9-40.2 1.1s-24.8 8.3-36.5 13.2s-23.8 9.8-34.6 17.1s-20.2 16.7-26.9 27.7s-10.5 23.5-11.7 35.9s.1 24.7 1.5 36.7s2.8 24.2 6.7 36.1s10.5 23.3 19.5 32.8s20.4 16.8 32.6 21.7s25.1 7.3 37.7 9.8s25.3 5.4 38.7 5.7s27.1-1.7 39.6-6.9s23.4-13.2 32.1-22.9s14.5-20.8 20.9-31.2s13.7-20.9 18.4-32.7s6.7-25 5.3-37.8s-6.5-25.1-13.7-35.8s-16.7-19.4-25.3-28.3s-16.9-18.6-27.6-26.3s-23.2-13.3-36.5-15.9z" stroke="#84c"/>
<path d="M26.8-119.7c-13.4-2.5-27.3-1.9-40.3 1s-25 8-36.8 13s-23.8 10-34.6 17.4s-20.2 16.8-26.9 27.9s-10.6 23.4-11.9 35.9s-.1 24.8 1.3 36.8s2.9 24.4 7 36.3s10.6 23.3 19.7 32.8s20.3 16.9 32.6 21.9s25.1 7.6 37.7 10.1s25.5 5.2 38.9 5.5s27.2-1.9 39.7-7.1s23.5-13.2 32.3-22.9s14.8-20.7 21.3-31.2s13.5-21 18.1-33s6.6-25 5.2-37.8s-6.5-25.2-13.6-35.9s-16.5-19.7-25.1-28.7s-17.2-18.5-28-26.1s-23.3-13.3-36.6-15.9z" stroke="#d6c"/>
<path d="M26.9-120c-13.4-2.6-27.4-2-40.5 .8s-25.2 7.8-37 12.8s-23.8 10.3-34.6 17.7s-20.2 17-26.9 28.1s-10.7 23.5-12.1 36s-.4 24.9 1 37s3.2 24.4 7.3 36.4s10.8 23.4 19.9 32.9s20.4 16.9 32.6 22s25.2 7.8 37.9 10.3s25.6 5.1 39.1 5.3s27.2-2 39.7-7.2s23.7-13.2 32.5-22.9s15.1-20.6 21.6-31.1s13.4-21.3 17.9-33.3s6.6-25.1 5.1-37.9s-6.4-25.3-13.5-36.1s-16.3-19.9-25-28.9s-17.4-18.5-28.2-26.1s-23.5-13.3-36.8-15.8z" stroke="#1d4"/>
<path d="M26.9-120.4c-26.8-5.1-54 3.4-77.8 13.4s-48.1 24-61.6 46.2s-14.2 48.9-11.4 73.3s9.4 50.4 27.6 69.4s45.1 27.8 70.6 32.8s54.1 8.1 79.2-2.3s41.5-32.7 54.6-54s25.6-45.8 22.7-71.6s-20.8-47.2-38.3-65.4s-38.7-36.6-65.6-41.8z" stroke="#81b" class="a"/>
<path d="M27-120.7c-26.9-5.2-54.3 3-78.2 13.1s-48.2 24.3-61.7 46.6s-14.6 49-11.8 73.6s9.8 50.5 28 69.6s45.2 28.1 70.9 33.2s54.3 7.8 79.5-2.6s41.9-32.6 55-54s25.4-46.2 22.5-72s-20.6-47.6-38.2-65.9s-39.1-36.5-66-41.6z" stroke="#5b4"/>
<path d="M27.1-121.2c-27-5.1-54.5 2.8-78.6 12.9s-48.2 24.7-61.8 47s-14.9 49.2-12.1 73.9s10.1 50.7 28.4 69.9s45.2 28.5 71 33.6s54.6 7.5 79.8-2.9s42.4-32.5 55.5-54.1s25.2-46.4 22.3-72.4s-20.3-47.8-38-66.3s-39.5-36.4-66.5-41.6z" stroke="#94c" class="b"/>
<path d="M27.2-121.6c-27.1-5.2-54.8 2.5-79 12.7s-48.3 25-61.9 47.4s-15.3 49.4-12.4 74.2s10.4 50.9 28.7 70.1s45.3 28.8 71.3 34s54.8 7.3 80.1-3.3s42.7-32.4 56-54s25-46.8 22-72.8s-20.1-48.2-37.9-66.7s-39.8-36.4-66.9-41.6z" stroke="#fe1"/>
<path d="M27.3-122c-27.2-5.2-55 2.2-79.4 12.4s-48.4 25.3-62.1 47.9s-15.5 49.5-12.7 74.5s10.7 51 29.1 70.3s45.4 29.2 71.5 34.4s55.1 7 80.5-3.5s43.1-32.4 56.4-54.2s24.9-47 21.9-73.1s-19.9-48.5-37.8-67.2s-40.2-36.3-67.4-41.5z" stroke="#51f" class="a"/>
<path d="M27.4-122.5c-27.3-5.2-55.3 2-79.8 12.3s-48.5 25.6-62.2 48.2s-15.9 49.7-13 74.9s10.9 51.2 29.4 70.6s45.5 29.4 71.8 34.6s55.3 6.9 80.8-3.7s43.5-32.3 56.9-54.2s24.6-47.4 21.6-73.6s-19.7-48.8-37.7-67.6s-40.5-36.2-67.8-41.5z" stroke="#3b7"/>
<path d="M27.5-122.9c-27.4-5.3-55.6 1.7-80.2 12.1s-48.6 25.8-62.4 48.6s-16.1 49.8-13.3 75.1s11.3 51.4 29.8 70.9s45.6 29.8 72 35s55.6 6.7 81.2-4s43.8-32.2 57.3-54.3s24.5-47.7 21.5-73.9s-19.5-49.2-37.6-68s-40.9-36.3-68.3-41.5z" stroke="#669"/>
<path d="M27.6-123.4c-27.5-5.3-55.8 1.5-80.6 11.9s-48.7 26.2-62.6 49s-16.4 50.1-13.5 75.5s11.5 51.6 30.1 71.2s45.6 30 72.3 35.3s55.8 6.4 81.5-4.2s44.2-32.3 57.8-54.4s24.3-48 21.3-74.4s-19.4-49.4-37.6-68.4s-41.2-36.2-68.7-41.5z" stroke="#d66"/>
<path d="M27.7-123.9c-27.6-5.4-56.1 1.3-81 11.8s-48.9 26.4-62.8 49.3s-16.6 50.3-13.7 75.9s11.7 51.8 30.4 71.4s45.7 30.4 72.5 35.7s56.1 6.3 82-4.5s44.5-32.2 58.1-54.5s24.3-48.3 21.2-74.7s-19.2-49.8-37.5-68.9s-41.5-36.2-69.2-41.5z" stroke="#3a6" class="a"/>
<path d="M27.8-124.4c-27.7-5.4-56.3 1.1-81.4 11.7s-49 26.7-63 49.7s-16.9 50.4-14 76.2s11.9 52 30.8 71.7s45.8 30.6 72.8 36s56.4 6.1 82.3-4.7s44.8-32.2 58.6-54.6s24.1-48.6 21.1-75.2s-19.1-50-37.6-69.2s-41.8-36.3-69.6-41.6z" stroke="#5aa"/>
<path d="M28-125c-27.9-5.4-56.7 1-81.9 11.6s-49.2 27-63.2 50.1s-17.2 50.7-14.2 76.5s12.1 52.2 31 72.1s46 30.9 73.1 36.3s56.7 5.9 82.7-4.9s45.2-32.2 59-54.8s24.1-48.9 21-75.6s-19-50.3-37.5-69.6s-42.2-36.3-70-41.7z" stroke="#98d"/>
<path d="M28.1-125.5c-28-5.4-57 .8-82.4 11.5s-49.2 27.2-63.3 50.4s-17.4 50.9-14.4 76.9s12.3 52.4 31.3 72.3s46.1 31.3 73.3 36.6s57 5.8 83.2-5s45.5-32.3 59.3-55s24-49.1 21-75.9s-18.9-50.7-37.6-70.1s-42.4-36.3-70.4-41.7z" stroke="#a61"/>
<path d="M28.2-126c-28.1-5.5-57.2 .6-82.8 11.3s-49.4 27.5-63.6 50.8s-17.6 51.1-14.6 77.3s12.5 52.6 31.6 72.6s46.3 31.5 73.7 36.9s57.2 5.7 83.5-5.2s45.8-32.3 59.8-55.1s23.9-49.4 20.8-76.4s-18.8-50.9-37.5-70.4s-42.8-36.4-70.9-41.8z" stroke="#14c"/>
<path d="M28.3-126.6c-28.2-5.5-57.5 .5-83.2 11.3s-49.6 27.7-63.8 51.1s-17.8 51.3-14.8 77.7s12.7 52.8 31.9 72.9s46.4 31.8 73.9 37.2s57.6 5.6 83.9-5.4s46.2-32.3 60.2-55.3s23.9-49.7 20.8-76.7s-18.7-51.3-37.6-70.9s-43.1-36.4-71.3-41.9z" stroke="#a9b" class="c"/>
<path d="M28.5-127.1c-28.4-5.5-57.9 .3-83.7 11.2s-49.7 27.9-64.1 51.4s-18 51.6-15 78s12.9 53.1 32.2 73.3s46.6 32 74.3 37.5s57.8 5.4 84.3-5.6s46.5-32.3 60.6-55.4s23.8-50 20.7-77.2s-18.7-51.5-37.6-71.3s-43.4-36.4-71.7-41.9z" stroke="#2da"/>
<path d="M28.6-127.7c-28.5-5.5-58.1 .2-84.1 11.1s-49.9 28.2-64.3 51.8s-18.2 51.8-15.2 78.4s13.1 53.4 32.4 73.6s46.8 32.3 74.6 37.8s58.1 5.3 84.7-5.8s46.8-32.4 61-55.6s23.8-50.3 20.7-77.5s-18.6-51.9-37.7-71.7s-43.7-36.6-72.1-42.1z" stroke="#8c7" class="a"/>
<path d="M28.7-128.3c-28.6-5.5-58.4 .1-84.5 11.1s-50.1 28.4-64.6 52.1s-18.4 52-15.3 78.8s13.2 53.6 32.7 73.9s46.9 32.5 74.9 38.1s58.4 5.2 85.1-6s47.1-32.4 61.4-55.7s23.7-50.6 20.6-78s-18.6-52.2-37.7-72.1s-44-36.6-72.6-42.2z" stroke="#807"/>
<path d="M28.8-128.8c-28.7-5.6-58.6-.1-84.9 11s-50.3 28.6-64.8 52.4s-18.6 52.3-15.6 79.1s13.5 53.9 33 74.3s47.1 32.8 75.2 38.3s58.7 5.2 85.5-6s47.5-32.5 61.8-56s23.7-50.9 20.6-78.4s-18.5-52.4-37.8-72.5s-44.3-36.7-73-42.2z" stroke="#64c"/>
<path d="M29-129.4c-28.9-5.6-59-.2-85.4 10.9s-50.5 28.9-65.1 52.8s-18.8 52.5-15.7 79.5s13.6 54.1 33.2 74.6s47.3 33 75.6 38.6s58.9 5.1 85.9-6.2s47.7-32.5 62.1-56.1s23.8-51.2 20.6-78.8s-18.4-52.8-37.8-72.9s-44.6-36.8-73.4-42.4z" stroke="#994" class="b"/>
<path d="M29.1-130c-29-5.7-59.3-.3-85.8 10.9s-50.7 29.1-65.3 53.1s-19 52.7-16 79.9s13.8 54.3 33.5 74.9s47.5 33.3 75.9 38.9s59.3 4.9 86.3-6.4s48.1-32.6 62.6-56.3s23.7-51.4 20.5-79.2s-18.4-53-37.9-73.3s-44.8-36.9-73.8-42.5z" stroke="#4e5"/>
<path d="M29.2-130.6c-29.1-5.7-59.5-.4-86.2 10.8s-50.9 29.3-65.6 53.5s-19.2 52.9-16.1 80.3s13.9 54.5 33.7 75.2s47.7 33.5 76.3 39.2s59.5 4.8 86.7-6.5s48.4-32.7 62.9-56.5s23.7-51.8 20.5-79.6s-18.3-53.4-37.9-73.8s-45.2-36.9-74.3-42.6z" stroke="#46b"/>
<path d="M29.4-131.2c-29.3-5.7-59.9-.5-86.7 10.8s-51.1 29.5-65.9 53.8s-19.4 53.2-16.2 80.6s14 54.9 34 75.7s47.8 33.7 76.5 39.4s59.9 4.8 87.2-6.7s48.6-32.7 63.3-56.7s23.7-52 20.5-80s-18.4-53.7-38.1-74.2s-45.4-37-74.6-42.7z" stroke="#f48" class="b"/>
<path d="M29.5-131.8c-29.4-5.7-60.1-.6-87.1 10.8s-51.3 29.7-66.2 54.1s-19.5 53.4-16.4 81s14.2 55.1 34.3 76s48 33.9 76.9 39.7s60.1 4.7 87.5-6.8s49-32.8 63.7-56.9s23.7-52.4 20.5-80.5s-18.3-53.9-38.1-74.5s-45.7-37.2-75.1-42.9z" stroke="#748"/>
<path d="M29.6-132.4c-29.5-5.8-60.4-.7-87.5 10.7s-51.5 30-66.5 54.5s-19.7 53.6-16.5 81.4s14.4 55.3 34.5 76.3s48.2 34.2 77.2 39.9s60.5 4.7 88-6.8s49.3-33 64.1-57.2s23.7-52.6 20.4-80.8s-18.3-54.3-38.2-75s-46-37.2-75.5-43z" stroke="#4f9" class="a"/>
<path d="M29.8-133c-29.7-5.8-60.8-.8-88 10.7s-51.7 30.1-66.7 54.8s-19.9 53.9-16.7 81.8s14.5 55.5 34.7 76.6s48.4 34.4 77.6 40.2s60.7 4.6 88.4-7s49.5-33 64.4-57.3s23.7-52.9 20.5-81.3s-18.3-54.5-38.3-75.4s-46.3-37.3-75.9-43.1z" stroke="#2ba"/>
<path d="M29.9-133.6c-29.8-5.8-61-.9-88.4 10.7s-51.9 30.3-67 55s-20.1 54.2-16.9 82.2s14.7 55.9 35 77.1s48.6 34.6 77.9 40.4s61 4.5 88.8-7.1s49.9-33.1 64.9-57.6s23.7-53.2 20.4-81.7s-18.3-54.8-38.4-75.7s-46.5-37.5-76.3-43.3z" stroke="#b4a" class="c"/>
<path d="M30-134.2c-29.9-5.9-61.3-1-88.8 10.6s-52.2 30.6-67.3 55.4s-20.2 54.4-17 82.6s14.8 56.1 35.2 77.4s48.7 34.9 78.2 40.7s61.4 4.4 89.3-7.2s50.2-33.2 65.2-57.8s23.7-53.5 20.5-82.1s-18.3-55.2-38.5-76.2s-46.9-37.6-76.8-43.4z" stroke="#e63"/>
<path d="M30.2-134.8c-30.1-5.9-61.6-1.1-89.3 10.6s-52.4 30.7-67.6 55.7s-20.4 54.6-17.2 83s15 56.3 35.5 77.7s48.9 35.1 78.6 41s61.6 4.4 89.7-7.4s50.4-33.3 65.5-58s23.8-53.8 20.5-82.5s-18.2-55.4-38.6-76.6s-47.1-37.7-77.1-43.5z" stroke="#62b" class="b"/>
<path d="M30.3-135.5c-30.2-5.9-61.9-1.1-89.7 10.6s-52.6 31-67.9 56.1s-20.5 54.9-17.3 83.4s15.1 56.5 35.7 78s49.1 35.4 78.9 41.3s62 4.3 90.1-7.5s50.8-33.4 66-58.2s23.8-54.1 20.5-83s-18.3-55.7-38.7-76.9s-47.4-37.8-77.6-43.8z" stroke="#49e"/>
<path d="M30.5-136.1c-30.4-5.9-62.3-1.2-90.2 10.6s-52.8 31.1-68.2 56.4s-20.7 55.1-17.4 83.7s15.2 56.9 35.8 78.5s49.4 35.5 79.4 41.4s62.2 4.3 90.5-7.5s51.1-33.5 66.3-58.5s23.9-54.3 20.6-83.3s-18.3-56-38.9-77.4s-47.6-37.9-77.9-43.9z" stroke="#279" class="b"/>
<path d="M30.6-136.7c-30.5-6-62.5-1.3-90.6 10.6s-53 31.3-68.5 56.6s-20.9 55.4-17.6 84.2s15.3 57.1 36.1 78.8s49.6 35.8 79.7 41.7s62.6 4.3 91-7.6s51.3-33.6 66.7-58.7s23.8-54.7 20.5-83.8s-18.3-56.3-38.9-77.8s-48-38-78.4-44z" stroke="#9c1"/>
<path d="M30.7-137.3c-30.6-6-62.8-1.4-91 10.5s-53.3 31.6-68.8 57s-21 55.7-17.7 84.6s15.4 57.4 36.3 79.1s49.8 36 80.1 42s62.8 4.2 91.4-7.8s51.6-33.7 67-58.9s23.9-54.9 20.6-84.2s-18.3-56.6-39.1-78.1s-48.2-38.2-78.8-44.2z" stroke="#a2a" class="b"/>
<path d="M30.9-138c-30.8-6-63.2-1.4-91.5 10.6s-53.5 31.7-69.1 57.3s-21.2 55.9-17.9 85s15.6 57.6 36.6 79.5s50 36.2 80.4 42.2s63.2 4.2 91.9-7.9s51.9-33.8 67.4-59.1s23.9-55.2 20.6-84.6s-18.4-56.9-39.2-78.6s-48.5-38.3-79.2-44.4z" stroke="#e98"/>
<path d="M31-138.6c-30.9-6-63.4-1.5-91.9 10.5s-53.7 32-69.4 57.7s-21.3 56.1-18 85.3s15.7 57.9 36.8 79.9s50.2 36.4 80.8 42.5s63.4 4.1 92.2-8s52.2-33.9 67.8-59.4s24-55.5 20.6-85s-18.3-57.2-39.3-79s-48.7-38.4-79.6-44.5z" stroke="#34f" class="b"/>
<path d="M31.2-139.2c-31.1-6.1-63.8-1.6-92.4 10.5s-54 32.1-69.7 57.9s-21.5 56.5-18.1 85.8s15.8 58.2 37 80.3s50.4 36.6 81.1 42.7s63.8 4 92.7-8.1s52.5-34 68.2-59.6s24-55.8 20.6-85.5s-18.4-57.4-39.4-79.3s-49-38.6-80-44.7z" stroke="#492"/>
<path d="M31.3-139.9c-31.2-6.1-64-1.5-92.8 10.6s-54.2 32.3-70 58.2s-21.6 56.7-18.3 86.2s16 58.4 37.3 80.6s50.6 36.8 81.5 43s64 4 93.1-8.2s52.8-34.2 68.5-59.9s24.1-56 20.7-85.8s-18.4-57.8-39.6-79.8s-49.3-38.7-80.4-44.9z" stroke="#c43" class="b"/>
<path d="M31.4-140.5c-31.3-6.1-64.3-1.6-93.2 10.5s-54.4 32.5-70.3 58.6s-21.8 56.9-18.4 86.6s16.1 58.6 37.4 80.9s50.9 37.1 81.9 43.2s64.4 4 93.6-8.2s53-34.3 68.8-60.1s24.2-56.4 20.8-86.3s-18.4-58.1-39.7-80.2s-49.6-38.8-80.9-45z" stroke="#cd7"/>
<path d="M31.6-141.1c-31.4-6.2-64.7-1.7-93.7 10.5s-54.7 32.7-70.6 58.8s-21.9 57.2-18.5 87s16.1 59 37.6 81.4s51.1 37.2 82.3 43.4s64.6 4 94-8.3s53.3-34.4 69.2-60.4s24.2-56.6 20.7-86.7s-18.4-58.3-39.8-80.6s-49.8-39-81.2-45.1z" stroke="#847" class="b"/>
<path d="M31.7-141.8c-31.5-6.2-64.9-1.7-94.1 10.6s-54.9 32.8-70.9 59.1s-22.1 57.5-18.7 87.4s16.3 59.2 37.9 81.7s51.3 37.5 82.6 43.7s65 3.9 94.4-8.4s53.7-34.5 69.6-60.7s24.3-56.8 20.8-87s-18.4-58.7-39.9-81s-50.1-39.2-81.7-45.4z" stroke="#198" class="a"/>
<path d="M31.9-142.4c-31.7-6.3-65.3-1.8-94.6 10.5s-55.1 33.1-71.3 59.5s-22.2 57.7-18.7 87.8s16.4 59.5 38.1 82.1s51.5 37.7 83 43.9s65.2 3.9 94.8-8.5s53.9-34.7 70-60.9s24.3-57.2 20.8-87.5s-18.5-58.9-40.1-81.4s-50.3-39.3-82-45.5z" stroke="#856" class="b"/>
<ellipse rx="154.9" ry="145.7" stroke="#5ae" class="a"/>
<ellipse rx="155.6" ry="146.4" stroke="#d4b" class="b"/>
<ellipse rx="156.3" ry="147" stroke="#2da" class="a"/>
<ellipse rx="157" ry="147.7" stroke="#c61" class="b"/>
<ellipse rx="157.8" ry="148.4" stroke="#878"/>
<ellipse rx="158.5" ry="149.1" stroke="#927" class="b"/>
<ellipse rx="159.2" ry="149.8" stroke="#3b2"/>
<ellipse rx="159.9" ry="150.4" stroke="#09d" class="b"/>
<ellipse rx="160.7" ry="151.1" stroke="#8ad"/>
<ellipse rx="161.4" ry="151.8" stroke="#63a" class="b"/>
<ellipse rx="162.1" ry="152.5" stroke="#891"/>
<ellipse rx="162.8" ry="153.2" stroke="#a74" class="b"/>
<ellipse rx="163.6" ry="153.9" stroke="#5ec"/>
<ellipse rx="164.3" ry="154.6" stroke="#a8a" class="b"/>
<ellipse rx="165" ry="155.2" stroke="#939"/>
<ellipse rx="165.8" ry="155.9" stroke="#c52" class="b"/>
<ellipse rx="166.5" ry="156.6" stroke="#199"/>
<ellipse rx="167.2" ry="157.3" stroke="#7d1" class="b"/>
<ellipse rx="168" ry="158" stroke="#e2d"/>
<ellipse rx="168.7" ry="158.7" stroke="#46c" class="b"/>
<ellipse rx="169.4" ry="159.4" stroke="#557" class="a"/>
<ellipse rx="170.2" ry="160.1" stroke="#3e0" class="b"/>
<ellipse rx="170.9" ry="160.8" stroke="#b0a"/>
<ellipse rx="171.6" ry="161.4" stroke="#6fa" class="b"/>
<ellipse rx="172.4" ry="162.1" stroke="#90d"/>
<ellipse rx="173.1" ry="162.8" stroke="#dd3" class="b"/>
<ellipse rx="173.8" ry="163.5" stroke="#b17"/>
<ellipse rx="174.6" ry="164.2" stroke="#bdd" class="b"/>
<ellipse rx="175.3" ry="164.9" stroke="#38d"/>
<ellipse rx="176" ry="165.6" stroke="#a75" class="b"/>
<ellipse rx="176.8" ry="166.3" stroke="#051"/>
<ellipse rx="177.5" ry="167" stroke="#aa5" class="b"/>
<ellipse rx="178.2" ry="167.7" stroke="#1ba"/>
<ellipse rx="179" ry="168.4" stroke="#f5d" class="b"/>
<ellipse rx="179.7" ry="169.1" stroke="#515" class="c"/>
<ellipse rx="180.5" ry="169.7" stroke="#f81" class="b"/>
<ellipse rx="181.2" ry="170.4" stroke="#6c9"/>
<ellipse rx="181.9" ry="171.1" stroke="#48a" class="b"/>
<ellipse rx="182.7" ry="171.8" stroke="#209"/>
<ellipse rx="183.4" ry="172.5" stroke="#9b4" class="b"/>
<ellipse rx="184.1" ry="173.2" stroke="#ea2"/>
<ellipse rx="184.9" ry="173.9" stroke="#e3f" class="b"/>
<ellipse rx="185.6" ry="174.6" stroke="#95b"/>
<ellipse rx="186.4" ry="175.3" stroke="#022" class="b"/>
<ellipse rx="187.1" ry="176" stroke="#db1"/>
<ellipse rx="187.8" ry="176.7" stroke="#1ea" class="b"/>
<ellipse rx="188.6" ry="177.4" stroke="#368"/>
<ellipse rx="189.3" ry="178.1" stroke="#d3e" class="b"/>
<ellipse rx="190.1" ry="178.8" stroke="#fa4"/>
<ellipse rx="190.8" ry="179.5" stroke="#3bb" class="b"/>
<ellipse rx="191.5" ry="180.2" stroke="#3b4"/>
<ellipse rx="192.3" ry="180.9" stroke="#816" class="b"/>
<ellipse rx="193" ry="181.6" stroke="#c99"/>
<ellipse rx="193.8" ry="182.3" stroke="#547" class="b"/>
<ellipse rx="194.5" ry="183" stroke="#4b9"/>
<ellipse rx="195.2" ry="183.7" stroke="#a65" class="b"/>
<ellipse rx="196" ry="184.4" stroke="#4b5"/>
<ellipse rx="196.7" ry="185" stroke="#b1d" class="b"/>
<ellipse rx="197.5" ry="185.7" stroke="#298"/>
<ellipse rx="198.2" ry="186.4" stroke="#bce" class="b"/>
<ellipse rx="198.9" ry="187.1" stroke="#244"/>
<ellipse rx="199.7" ry="187.8" stroke="#627" class="b"/>
<ellipse rx="200.4" ry="188.5" stroke="#a86"/>
<ellipse rx="201.2" ry="189.2" stroke="#cf5" class="b"/>
<ellipse rx="201.9" ry="189.9" stroke="#81d" class="c"/>
<ellipse rx="202.7" ry="190.6" stroke="#26f" class="b"/>
<ellipse rx="203.4" ry="191.3" stroke="#857"/>
<ellipse rx="204.1" ry="192" stroke="#2f1" class="b"/>
<ellipse rx="204.9" ry="192.7" stroke="#908"/>
<ellipse rx="205.6" ry="193.4" stroke="#d84" class="b"/>
<ellipse rx="206.4" ry="194.1" stroke="#36e"/>
<ellipse rx="207.1" ry="194.8" stroke="#7a1" class="b"/>
<ellipse rx="207.8" ry="195.5" stroke="#568"/>
<ellipse rx="208.6" ry="196.2" stroke="#f8b" class="b"/>
<ellipse rx="209.3" ry="196.9" stroke="#05a" class="a"/>
<ellipse rx="210.1" ry="197.6" stroke="#8c3" class="b"/>
<ellipse rx="210.8" ry="198.3" stroke="#37b"/>
<ellipse rx="211.6" ry="199" stroke="#fc2" class="b"/>
<ellipse rx="212.3" ry="199.7" stroke="#81e"/>
<ellipse rx="213" ry="200.4" stroke="#588" class="b"/>
<ellipse rx="213.8" ry="201.1" stroke="#765"/>
<ellipse rx="214.5" ry="201.8" stroke="#0f0" class="b"/>
<ellipse rx="215.3" ry="202.5" stroke="#e64"/>
<ellipse rx="216" ry="203.2" stroke="#32d" class="b"/>
<ellipse rx="216.8" ry="203.9" stroke="#b9b"/>
<ellipse rx="217.5" ry="204.6" stroke="#289" class="b"/>
<ellipse rx="218.2" ry="205.3" stroke="#c94"/>
<ellipse rx="219" ry="206" stroke="#0cb" class="b"/>
<ellipse rx="219.7" ry="206.7" stroke="#749"/>
<ellipse rx="220.5" ry="207.4" stroke="#a14" class="b"/>
<ellipse rx="221.2" ry="208.1" stroke="#f93"/>
<ellipse rx="221.9" ry="208.8" stroke="#0cb" class="b"/>
<ellipse rx="222.7" ry="209.5" stroke="#7ca"/>
<ellipse rx="223.4" ry="210.2" stroke="#b3f" class="b"/>
<ellipse rx="224.2" ry="210.9" stroke="#981"/>
<ellipse rx="224.9" ry="211.6" stroke="#1b8" class="b"/>
<ellipse rx="225.7" ry="212.3" stroke="#d95"/>
</g>
</g>
<g class="t" font-size="28">
<text x="116.0" y="336.0" text-anchor="middle">0.2</text>
<text x="194.6" y="336.0" text-anchor="middle">0.4</text>
<text x="273.1" y="336.0" text-anchor="middle">0.6</text>
<text x="351.7" y="336.0" text-anchor="middle">0.8</text>
<text x="67" y="315.1" text-anchor="end">0</text>
<text x="67" y="267.2" text-anchor="end">1</text>
<text x="67" y="219.3" text-anchor="end">2</text>
<text x="67" y="171.3" text-anchor="end">3</text>
<text x="67" y="123.4" text-anchor="end">4</text>
<text x="67" y="75.5" text-anchor="end">5</text>
<text x="67" y="27.6" text-anchor="end">6</text>
<text x="573.8" y="336.0" text-anchor="middle">−0.5</text>
<text x="686.9" y="336.0" text-anchor="middle">0</text>
<text x="800.0" y="336.0" text-anchor="middle">0.5</text>
<text x="518.5" y="60.9" text-anchor="end">0.5</text>
<text x="518.5" y="166.9" text-anchor="end">0</text>
<text x="518.5" y="272.9" text-anchor="end">−0.5</text>
<text class="m" y="366.0"><tspan x="204.5" font-size="28" font-style="italic" textLength="14.5" lengthAdjust="spacingAndGlyphs">r</tspan><tspan x="220.5" font-size="35" dy="2.2">(</tspan><tspan x="233" font-size="28" font-style="italic" dy="-2.2" textLength="15.5" lengthAdjust="spacingAndGlyphs">a</tspan><tspan x="250.5" font-size="35" dy="2.2">)</tspan></text>
<text class="n" y="368.9"><tspan x="652" font-size="31" font-style="italic" textLength="24" lengthAdjust="spacingAndGlyphs">R</tspan><tspan x="677.5" font-size="34" dy="1">−</tspan><tspan x="703" font-size="31" font-style="italic" dy="-1" textLength="24" lengthAdjust="spacingAndGlyphs">R</tspan><tspan x="728.5" font-size="23" dy="5.5">0</tspan></text>
<text class="n" transform="translate(35.2,167.5) rotate(-90)" text-anchor="middle" font-size="37"><tspan font-style="italic">θ</tspan> (rad) &amp; <tspan font-style="italic">q</tspan></text>
<text class="n" transform="translate(461,156.0) rotate(-90) scale(1.2,1)" text-anchor="middle" font-size="31" font-style="italic">Z</text>
<text x="93" y="33.4" font-weight="bold" font-size="32">(a)</text>
<text x="546" y="33.4" font-weight="bold" font-size="32">(e)</text>
<text x="116.0" y="722.3" text-anchor="middle">0.2</text>
<text x="194.6" y="722.3" text-anchor="middle">0.4</text>
<text x="273.1" y="722.3" text-anchor="middle">0.6</text>
<text x="351.7" y="722.3" text-anchor="middle">0.8</text>
<text x="67" y="702.7" text-anchor="end">0</text>
<text x="67" y="654.8" text-anchor="end">1</text>
<text x="67" y="606.9" text-anchor="end">2</text>
<text x="67" y="558.9" text-anchor="end">3</text>
<text x="67" y="511.0" text-anchor="end">4</text>
<text x="67" y="463.1" text-anchor="end">5</text>
<text x="67" y="415.2" text-anchor="end">6</text>
<text x="573.8" y="722.3" text-anchor="middle">−0.5</text>
<text x="686.9" y="722.3" text-anchor="middle">0</text>
<text x="800.0" y="722.3" text-anchor="middle">0.5</text>
<text x="518.5" y="448.5" text-anchor="end">0.5</text>
<text x="518.5" y="554.5" text-anchor="end">0</text>
<text x="518.5" y="660.5" text-anchor="end">−0.5</text>
<text class="m" y="752.3"><tspan x="204.5" font-size="28" font-style="italic" textLength="14.5" lengthAdjust="spacingAndGlyphs">r</tspan><tspan x="220.5" font-size="35" dy="2.2">(</tspan><tspan x="233" font-size="28" font-style="italic" dy="-2.2" textLength="15.5" lengthAdjust="spacingAndGlyphs">a</tspan><tspan x="250.5" font-size="35" dy="2.2">)</tspan></text>
<text class="n" y="755.2"><tspan x="652" font-size="31" font-style="italic" textLength="24" lengthAdjust="spacingAndGlyphs">R</tspan><tspan x="677.5" font-size="34" dy="1">−</tspan><tspan x="703" font-size="31" font-style="italic" dy="-1" textLength="24" lengthAdjust="spacingAndGlyphs">R</tspan><tspan x="728.5" font-size="23" dy="5.5">0</tspan></text>
<text class="n" transform="translate(35.2,555.1) rotate(-90)" text-anchor="middle" font-size="37"><tspan font-style="italic">θ</tspan> (rad) &amp; <tspan font-style="italic">q</tspan></text>
<text class="n" transform="translate(461,543.6) rotate(-90) scale(1.2,1)" text-anchor="middle" font-size="31" font-style="italic">Z</text>
<text x="93" y="421.0" font-weight="bold" font-size="32">(b)</text>
<text x="546" y="421.0" font-weight="bold" font-size="32">(f)</text>
<text x="116.0" y="1108.1" text-anchor="middle">0.2</text>
<text x="194.6" y="1108.1" text-anchor="middle">0.4</text>
<text x="273.1" y="1108.1" text-anchor="middle">0.6</text>
<text x="351.7" y="1108.1" text-anchor="middle">0.8</text>
<text x="67" y="1088.0" text-anchor="end">0</text>
<text x="67" y="1040.1" text-anchor="end">1</text>
<text x="67" y="992.2" text-anchor="end">2</text>
<text x="67" y="944.2" text-anchor="end">3</text>
<text x="67" y="896.3" text-anchor="end">4</text>
<text x="67" y="848.4" text-anchor="end">5</text>
<text x="67" y="800.5" text-anchor="end">6</text>
<text x="573.8" y="1108.1" text-anchor="middle">−0.5</text>
<text x="686.9" y="1108.1" text-anchor="middle">0</text>
<text x="800.0" y="1108.1" text-anchor="middle">0.5</text>
<text x="518.5" y="833.8" text-anchor="end">0.5</text>
<text x="518.5" y="939.8" text-anchor="end">0</text>
<text x="518.5" y="1045.8" text-anchor="end">−0.5</text>
<text class="m" y="1138.1"><tspan x="204.5" font-size="28" font-style="italic" textLength="14.5" lengthAdjust="spacingAndGlyphs">r</tspan><tspan x="220.5" font-size="35" dy="2.2">(</tspan><tspan x="233" font-size="28" font-style="italic" dy="-2.2" textLength="15.5" lengthAdjust="spacingAndGlyphs">a</tspan><tspan x="250.5" font-size="35" dy="2.2">)</tspan></text>
<text class="n" y="1141.0"><tspan x="652" font-size="31" font-style="italic" textLength="24" lengthAdjust="spacingAndGlyphs">R</tspan><tspan x="677.5" font-size="34" dy="1">−</tspan><tspan x="703" font-size="31" font-style="italic" dy="-1" textLength="24" lengthAdjust="spacingAndGlyphs">R</tspan><tspan x="728.5" font-size="23" dy="5.5">0</tspan></text>
<text class="n" transform="translate(35.2,940.4) rotate(-90)" text-anchor="middle" font-size="37"><tspan font-style="italic">θ</tspan> (rad) &amp; <tspan font-style="italic">q</tspan></text>
<text class="n" transform="translate(461,928.9) rotate(-90) scale(1.2,1)" text-anchor="middle" font-size="31" font-style="italic">Z</text>
<text x="93" y="806.3" font-weight="bold" font-size="32">(c)</text>
<text x="546" y="806.3" font-weight="bold" font-size="32">(g)</text>
<text x="116.0" y="1490.2" text-anchor="middle">0.2</text>
<text x="194.6" y="1490.2" text-anchor="middle">0.4</text>
<text x="273.1" y="1490.2" text-anchor="middle">0.6</text>
<text x="351.7" y="1490.2" text-anchor="middle">0.8</text>
<text x="67" y="1471.1" text-anchor="end">0</text>
<text x="67" y="1423.2" text-anchor="end">1</text>
<text x="67" y="1375.3" text-anchor="end">2</text>
<text x="67" y="1327.3" text-anchor="end">3</text>
<text x="67" y="1279.4" text-anchor="end">4</text>
<text x="67" y="1231.5" text-anchor="end">5</text>
<text x="67" y="1183.6" text-anchor="end">6</text>
<text x="573.8" y="1490.2" text-anchor="middle">−0.5</text>
<text x="686.9" y="1490.2" text-anchor="middle">0</text>
<text x="800.0" y="1490.2" text-anchor="middle">0.5</text>
<text x="518.5" y="1216.9" text-anchor="end">0.5</text>
<text x="518.5" y="1322.9" text-anchor="end">0</text>
<text x="518.5" y="1428.9" text-anchor="end">−0.5</text>
<text class="m" y="1520.2"><tspan x="204.5" font-size="28" font-style="italic" textLength="14.5" lengthAdjust="spacingAndGlyphs">r</tspan><tspan x="220.5" font-size="35" dy="2.2">(</tspan><tspan x="233" font-size="28" font-style="italic" dy="-2.2" textLength="15.5" lengthAdjust="spacingAndGlyphs">a</tspan><tspan x="250.5" font-size="35" dy="2.2">)</tspan></text>
<text class="n" y="1523.1"><tspan x="652" font-size="31" font-style="italic" textLength="24" lengthAdjust="spacingAndGlyphs">R</tspan><tspan x="677.5" font-size="34" dy="1">−</tspan><tspan x="703" font-size="31" font-style="italic" dy="-1" textLength="24" lengthAdjust="spacingAndGlyphs">R</tspan><tspan x="728.5" font-size="23" dy="5.5">0</tspan></text>
<text class="n" transform="translate(35.2,1323.5) rotate(-90)" text-anchor="middle" font-size="37"><tspan font-style="italic">θ</tspan> (rad) &amp; <tspan font-style="italic">q</tspan></text>
<text class="n" transform="translate(461,1312.0) rotate(-90) scale(1.2,1)" text-anchor="middle" font-size="31" font-style="italic">Z</text>
<text x="93" y="1189.4" font-weight="bold" font-size="32">(d)</text>
<text x="546" y="1189.4" font-weight="bold" font-size="32">(h)</text>
</g>
<text class="s" x="167" y="152.0" font-size="21" fill="#f00">q=3/2</text>
<text class="s" x="311.7" y="152.0" font-size="21" fill="#00f">q=5/3</text>
</svg>
</body></html>
